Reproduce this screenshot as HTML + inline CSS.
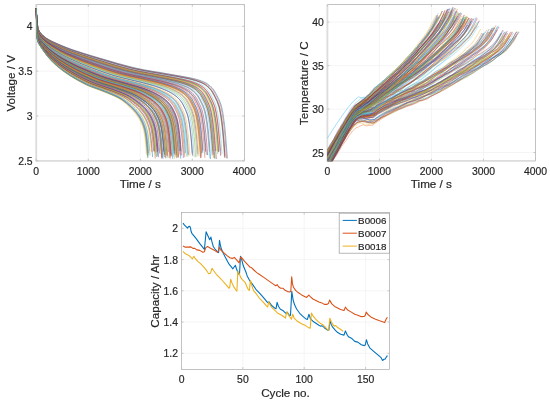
<!DOCTYPE html>
<html lang="en"><head><meta charset="utf-8"><title>Battery discharge curves</title>
<style>
html,body{margin:0;padding:0;background:#fff}
svg{display:block}
text{font-family:"Liberation Sans",Arial,Helvetica,sans-serif;fill:#262626;stroke:#262626;stroke-width:0.18px}
.t{font-size:10.4px}
.l{font-size:11.7px}
.g path{fill:none;stroke-linejoin:round}
</style></head><body>
<svg width="550" height="404" viewBox="0 0 550 404">
<rect width="550" height="404" fill="#fff"/>
<defs>
<clipPath id="c1"><rect x="35.8" y="4.6" width="208.6" height="156.8"/></clipPath>
<clipPath id="c2"><rect x="326.9" y="4.6" width="208.6" height="156.7"/></clipPath>
<clipPath id="c3"><rect x="181.6" y="212.6" width="207.9" height="156.4"/></clipPath>
</defs>
<line x1="88.3" y1="4.6" x2="88.3" y2="160.8" stroke="#f3f3f3" stroke-width="0.8"/>
<line x1="140.3" y1="4.6" x2="140.3" y2="160.8" stroke="#f3f3f3" stroke-width="0.8"/>
<line x1="192.3" y1="4.6" x2="192.3" y2="160.8" stroke="#f3f3f3" stroke-width="0.8"/>
<line x1="36.2" y1="116.0" x2="244.3" y2="116.0" stroke="#f3f3f3" stroke-width="0.8"/>
<line x1="36.2" y1="71.2" x2="244.3" y2="71.2" stroke="#f3f3f3" stroke-width="0.8"/>
<line x1="36.2" y1="26.3" x2="244.3" y2="26.3" stroke="#f3f3f3" stroke-width="0.8"/>
<path d="M36.25 4.50H244.50V160.85" fill="none" stroke="#a8a8a8" stroke-width="0.7"/>
<path d="M36.25 4.30V160.85H244.60" fill="none" stroke="#dcdcdc" stroke-width="1.8"/>
<path d="M36.2 160.8v-2.0M36.2 4.6v2.0" stroke="#bdbdbd" stroke-width="0.8"/>
<text x="36.2" y="174.5" text-anchor="middle" class="t">0</text>
<path d="M88.3 160.8v-2.0M88.3 4.6v2.0" stroke="#bdbdbd" stroke-width="0.8"/>
<text x="88.3" y="174.5" text-anchor="middle" class="t">1000</text>
<path d="M140.3 160.8v-2.0M140.3 4.6v2.0" stroke="#bdbdbd" stroke-width="0.8"/>
<text x="140.3" y="174.5" text-anchor="middle" class="t">2000</text>
<path d="M192.3 160.8v-2.0M192.3 4.6v2.0" stroke="#bdbdbd" stroke-width="0.8"/>
<text x="192.3" y="174.5" text-anchor="middle" class="t">3000</text>
<path d="M244.3 160.8v-2.0M244.3 4.6v2.0" stroke="#bdbdbd" stroke-width="0.8"/>
<text x="244.3" y="174.5" text-anchor="middle" class="t">4000</text>
<path d="M36.2 160.8h2.0M244.3 160.8h-2.0" stroke="#bdbdbd" stroke-width="0.8"/>
<text x="32.6" y="164.9" text-anchor="end" class="t">2.5</text>
<path d="M36.2 116.0h2.0M244.3 116.0h-2.0" stroke="#bdbdbd" stroke-width="0.8"/>
<text x="32.6" y="120.1" text-anchor="end" class="t">3</text>
<path d="M36.2 71.2h2.0M244.3 71.2h-2.0" stroke="#bdbdbd" stroke-width="0.8"/>
<text x="32.6" y="75.3" text-anchor="end" class="t">3.5</text>
<path d="M36.2 26.3h2.0M244.3 26.3h-2.0" stroke="#bdbdbd" stroke-width="0.8"/>
<text x="32.6" y="30.4" text-anchor="end" class="t">4</text>
<text x="140.3" y="188.4" text-anchor="middle" class="l">Time / s</text>
<text transform="translate(14.6 83.3) rotate(-90)" text-anchor="middle" class="l">Voltage / V</text>
<g class="g" clip-path="url(#c1)">
<path d="M36.2 8.4L37.1 21.9L37.9 27.6L38.7 29.8L39.5 31.4L40.4 32.5L41.2 33.5L42.0 34.5L43.0 35.5L46.7 38.4L50.5 40.5L54.2 42.3L58.0 44.0L61.7 45.6L65.5 47.1L69.3 48.5L73.0 49.9L76.8 51.1L80.5 52.3L84.3 53.5L88.0 54.7L91.8 55.8L95.6 56.9L99.3 58.0L103.1 59.1L106.8 60.2L110.6 61.3L114.4 62.4L118.1 63.5L121.9 64.5L125.6 65.5L129.4 66.5L133.1 67.5L136.9 68.3L140.7 69.1L144.4 69.9L148.2 70.5L151.9 71.2L155.7 71.8L159.4 72.4L163.2 73.0L167.0 73.7L170.7 74.3L174.5 75.0L178.2 75.6L182.0 76.3L185.7 77.0L189.5 77.7L190.5 77.9L191.1 78.0L191.7 78.2L192.4 78.3L193.0 78.4L193.6 78.6L194.3 78.7L194.9 78.9L195.5 79.1L196.2 79.2L196.8 79.4L197.4 79.6L198.1 79.8L198.7 80.0L199.3 80.2L200.0 80.4L200.6 80.6L201.2 80.9L201.9 81.1L202.5 81.3L203.1 81.6L203.8 81.9L204.4 82.2L205.0 82.5L205.7 82.8L206.3 83.1L206.9 83.5L207.6 83.9L208.2 84.4L208.8 84.9L209.5 85.4L210.1 85.9L210.7 86.5L211.4 87.1L212.0 87.7L212.6 88.4L213.3 89.1L213.9 90.0L214.5 91.0L215.2 92.1L215.8 93.2L216.4 94.4L217.1 95.7L217.7 96.9L218.3 98.2L219.0 99.4L219.6 100.8L220.2 102.4L220.9 104.3L221.5 106.4L222.1 109.1L222.8 112.4L223.4 116.2L224.0 120.6L224.7 125.7L225.3 131.9L225.9 139.1L226.5 147.1L227.2 155.9L227.4 158.4" stroke="#0072BD" stroke-width="0.48" />
<path d="M36.2 8.4L37.1 22.0L37.9 27.7L38.7 30.0L39.5 31.5L40.3 32.6L41.2 33.6L42.0 34.6L42.9 35.6L46.7 38.5L50.4 40.6L54.2 42.4L57.9 44.1L61.6 45.7L65.4 47.2L69.1 48.7L72.9 50.0L76.6 51.3L80.4 52.5L84.1 53.7L87.8 54.8L91.6 56.0L95.3 57.1L99.1 58.2L102.8 59.3L106.6 60.4L110.3 61.5L114.0 62.6L117.8 63.7L121.5 64.7L125.3 65.7L129.0 66.7L132.8 67.6L136.5 68.5L140.2 69.3L144.0 70.1L147.7 70.7L151.5 71.4L155.2 72.0L159.0 72.6L162.7 73.2L166.4 73.9L170.2 74.5L173.9 75.2L177.7 75.8L181.4 76.5L185.2 77.2L188.9 77.9L189.9 78.1L190.5 78.3L191.1 78.4L191.7 78.5L192.4 78.7L193.0 78.8L193.6 79.0L194.3 79.2L194.9 79.3L195.5 79.5L196.2 79.7L196.8 79.9L197.4 80.0L198.0 80.2L198.7 80.5L199.3 80.7L199.9 80.9L200.6 81.1L201.2 81.4L201.8 81.6L202.5 81.9L203.1 82.2L203.7 82.5L204.4 82.8L205.0 83.1L205.6 83.4L206.2 83.8L206.9 84.2L207.5 84.7L208.1 85.1L208.8 85.6L209.4 86.2L210.0 86.7L210.7 87.4L211.3 88.0L211.9 88.7L212.6 89.4L213.2 90.3L213.8 91.3L214.4 92.3L215.1 93.5L215.7 94.7L216.3 95.9L217.0 97.2L217.6 98.4L218.2 99.7L218.9 101.1L219.5 102.7L220.1 104.5L220.8 106.6L221.4 109.4L222.0 112.6L222.6 116.4L223.3 120.7L223.9 125.9L224.5 132.0L225.2 139.2L225.8 147.2L226.4 155.9L226.6 158.4" stroke="#D95319" stroke-width="0.48" />
<path d="M36.2 8.4L37.1 22.2L37.9 27.9L38.7 30.1L39.5 31.7L40.3 32.8L41.1 33.8L41.9 34.8L42.9 35.8L46.6 38.7L50.3 40.9L54.0 42.7L57.7 44.3L61.5 46.0L65.2 47.5L68.9 49.0L72.6 50.3L76.3 51.6L80.0 52.8L83.7 54.0L87.5 55.2L91.2 56.3L94.9 57.4L98.6 58.5L102.3 59.6L106.0 60.7L109.8 61.8L113.5 62.9L117.2 64.0L120.9 65.1L124.6 66.1L128.3 67.1L132.0 68.0L135.8 68.9L139.5 69.7L143.2 70.4L146.9 71.1L150.6 71.7L154.3 72.3L158.1 73.0L161.8 73.6L165.5 74.3L169.2 74.9L172.9 75.6L176.6 76.2L180.3 76.9L184.1 77.6L187.8 78.4L188.7 78.6L189.3 78.7L190.0 78.8L190.6 79.0L191.2 79.1L191.9 79.3L192.5 79.5L193.1 79.6L193.7 79.8L194.4 80.0L195.0 80.2L195.6 80.3L196.2 80.5L196.9 80.7L197.5 80.9L198.1 81.2L198.7 81.4L199.4 81.6L200.0 81.9L200.6 82.1L201.2 82.4L201.9 82.7L202.5 83.0L203.1 83.3L203.7 83.6L204.4 83.9L205.0 84.3L205.6 84.7L206.3 85.2L206.9 85.6L207.5 86.1L208.1 86.7L208.8 87.3L209.4 87.9L210.0 88.5L210.6 89.2L211.3 89.9L211.9 90.8L212.5 91.8L213.1 92.8L213.8 94.0L214.4 95.2L215.0 96.4L215.6 97.6L216.3 98.8L216.9 100.1L217.5 101.5L218.1 103.1L218.8 104.9L219.4 107.0L220.0 109.7L220.6 113.0L221.3 116.7L221.9 121.0L222.5 126.1L223.2 132.3L223.8 139.3L224.4 147.3L225.0 156.0L225.1 156.3" stroke="#7E2F8E" stroke-width="0.48" />
<path d="M36.2 8.4L37.1 22.3L37.9 27.9L38.7 30.2L39.5 31.8L40.3 32.9L41.1 33.9L41.9 34.9L42.9 35.9L46.6 38.8L50.3 41.0L54.0 42.8L57.7 44.5L61.4 46.1L65.1 47.7L68.8 49.1L72.5 50.5L76.2 51.7L79.9 52.9L83.6 54.1L87.3 55.3L91.0 56.5L94.7 57.6L98.4 58.7L102.1 59.8L105.8 60.9L109.5 62.0L113.2 63.1L116.9 64.2L120.6 65.2L124.3 66.3L128.0 67.2L131.7 68.2L135.4 69.0L139.1 69.8L142.8 70.6L146.5 71.2L150.2 71.9L153.9 72.5L157.6 73.1L161.3 73.8L165.0 74.4L168.7 75.1L172.4 75.7L176.1 76.4L179.8 77.1L183.5 77.8L187.2 78.6L188.2 78.8L188.8 78.9L189.4 79.1L190.1 79.2L190.7 79.4L191.3 79.5L191.9 79.7L192.6 79.8L193.2 80.0L193.8 80.2L194.4 80.4L195.0 80.6L195.7 80.8L196.3 81.0L196.9 81.2L197.5 81.4L198.2 81.6L198.8 81.8L199.4 82.1L200.0 82.3L200.7 82.6L201.3 82.9L201.9 83.2L202.5 83.5L203.2 83.8L203.8 84.2L204.4 84.6L205.0 85.0L205.6 85.4L206.3 85.9L206.9 86.4L207.5 86.9L208.1 87.5L208.8 88.1L209.4 88.7L210.0 89.4L210.6 90.2L211.3 91.0L211.9 92.0L212.5 93.1L213.1 94.2L213.8 95.4L214.4 96.6L215.0 97.8L215.6 99.1L216.3 100.3L216.9 101.7L217.5 103.3L218.1 105.1L218.7 107.2L219.4 109.9L220.0 113.1L220.6 116.9L221.2 121.2L221.9 126.2L222.5 132.4L223.1 139.4L223.7 147.3L224.4 156.0L224.4 157.2" stroke="#77AC30" stroke-width="0.48" />
<path d="M36.2 8.4L37.1 22.2L37.9 27.8L38.7 30.1L39.5 31.7L40.3 32.8L41.1 33.8L41.9 34.8L42.9 35.8L46.6 38.7L50.3 40.8L54.0 42.7L57.7 44.3L61.5 46.0L65.2 47.5L68.9 48.9L72.6 50.3L76.3 51.6L80.0 52.8L83.8 54.0L87.5 55.1L91.2 56.3L94.9 57.4L98.6 58.5L102.3 59.6L106.1 60.7L109.8 61.8L113.5 62.9L117.2 64.0L120.9 65.0L124.6 66.1L128.4 67.1L132.1 68.0L135.8 68.8L139.5 69.7L143.2 70.4L146.9 71.1L150.7 71.7L154.4 72.3L158.1 72.9L161.8 73.6L165.5 74.2L169.2 74.9L173.0 75.5L176.7 76.2L180.4 76.9L184.1 77.6L187.8 78.3L188.8 78.5L189.4 78.7L190.0 78.8L190.7 79.0L191.3 79.1L191.9 79.3L192.5 79.4L193.2 79.6L193.8 79.8L194.4 79.9L195.0 80.1L195.7 80.3L196.3 80.5L196.9 80.7L197.5 80.9L198.2 81.1L198.8 81.4L199.4 81.6L200.0 81.8L200.7 82.1L201.3 82.4L201.9 82.6L202.6 82.9L203.2 83.2L203.8 83.6L204.4 83.9L205.1 84.3L205.7 84.7L206.3 85.1L206.9 85.6L207.6 86.1L208.2 86.7L208.8 87.2L209.4 87.8L210.1 88.5L210.7 89.2L211.3 89.9L211.9 90.8L212.6 91.7L213.2 92.8L213.8 93.9L214.4 95.1L215.1 96.4L215.7 97.6L216.3 98.8L217.0 100.1L217.6 101.5L218.2 103.1L218.8 104.9L219.5 107.0L220.1 109.7L220.7 113.0L221.3 116.7L222.0 121.0L222.6 126.1L223.2 132.2L223.8 139.3L224.5 147.3L224.8 151.9" stroke="#4DBEEE" stroke-width="0.48" />
<path d="M36.2 8.4L37.1 22.3L37.9 27.9L38.7 30.2L39.5 31.7L40.3 32.9L41.1 33.8L41.9 34.8L42.9 35.8L46.6 38.7L50.3 40.9L54.0 42.7L57.7 44.4L61.4 46.0L65.1 47.6L68.8 49.0L72.6 50.4L76.3 51.6L80.0 52.8L83.7 54.0L87.4 55.2L91.1 56.4L94.8 57.5L98.5 58.6L102.2 59.7L106.0 60.8L109.7 61.9L113.4 63.0L117.1 64.1L120.8 65.1L124.5 66.1L128.2 67.1L131.9 68.1L135.6 68.9L139.4 69.7L143.1 70.5L146.8 71.1L150.5 71.8L154.2 72.4L157.9 73.0L161.6 73.7L165.3 74.3L169.0 75.0L172.7 75.6L176.5 76.3L180.2 77.0L183.9 77.7L187.6 78.4L188.5 78.6L189.2 78.8L189.8 78.9L190.4 79.1L191.0 79.2L191.7 79.4L192.3 79.5L192.9 79.7L193.5 79.9L194.2 80.0L194.8 80.2L195.4 80.4L196.0 80.6L196.7 80.8L197.3 81.0L197.9 81.2L198.5 81.5L199.2 81.7L199.8 81.9L200.4 82.2L201.0 82.5L201.7 82.7L202.3 83.0L202.9 83.3L203.5 83.7L204.2 84.0L204.8 84.4L205.4 84.8L206.0 85.3L206.7 85.7L207.3 86.2L207.9 86.8L208.5 87.3L209.2 87.9L209.8 88.6L210.4 89.3L211.0 90.0L211.7 90.9L212.3 91.8L212.9 92.9L213.5 94.0L214.2 95.2L214.8 96.5L215.4 97.7L216.0 98.9L216.7 100.2L217.3 101.6L217.9 103.2L218.5 105.0L219.2 107.1L219.8 109.8L220.4 113.0L221.1 116.8L221.7 121.1L222.3 126.2L222.9 132.3L223.6 139.4L224.2 147.3L224.8 156.0L224.9 158.0" stroke="#A2142F" stroke-width="0.48" />
<path d="M36.2 8.4L37.0 22.9L37.8 28.5L38.6 30.8L39.4 32.3L40.2 33.5L41.0 34.4L41.8 35.4L42.7 36.4L46.3 39.3L50.0 41.5L53.6 43.4L57.2 45.1L60.8 46.8L64.5 48.4L68.1 49.9L71.7 51.3L75.3 52.6L79.0 53.8L82.6 55.0L86.2 56.2L89.8 57.4L93.5 58.5L97.1 59.6L100.7 60.7L104.4 61.9L108.0 63.0L111.6 64.1L115.2 65.2L118.9 66.2L122.5 67.2L126.1 68.2L129.7 69.1L133.4 70.0L137.0 70.8L140.6 71.5L144.2 72.2L147.9 72.9L151.5 73.5L155.1 74.1L158.7 74.8L162.4 75.5L166.0 76.1L169.6 76.8L173.2 77.5L176.9 78.3L180.5 79.0L184.1 79.8L185.0 80.0L185.6 80.2L186.3 80.3L186.9 80.5L187.5 80.6L188.1 80.8L188.7 81.0L189.3 81.1L189.9 81.3L190.5 81.5L191.1 81.7L191.8 81.9L192.4 82.1L193.0 82.3L193.6 82.5L194.2 82.7L194.8 83.0L195.4 83.2L196.0 83.5L196.6 83.7L197.3 84.0L197.9 84.3L198.5 84.6L199.1 84.9L199.7 85.2L200.3 85.6L200.9 86.0L201.5 86.4L202.1 86.8L202.8 87.3L203.4 87.8L204.0 88.4L204.6 88.9L205.2 89.5L205.8 90.2L206.4 90.8L207.0 91.6L207.6 92.4L208.2 93.4L208.9 94.4L209.5 95.5L210.1 96.7L210.7 97.9L211.3 99.1L211.9 100.3L212.5 101.6L213.1 102.9L213.7 104.5L214.4 106.3L215.0 108.4L215.6 111.0L216.2 114.1L216.8 117.8L217.4 122.0L218.0 127.0L218.6 133.0L219.2 139.9L219.9 147.6L220.1 150.6" stroke="#D95319" stroke-width="0.48" />
<path d="M36.2 8.4L37.0 23.1L37.8 28.6L38.6 30.9L39.4 32.5L40.2 33.6L41.0 34.5L41.8 35.5L42.7 36.5L46.3 39.4L49.9 41.7L53.5 43.6L57.1 45.3L60.7 47.0L64.3 48.6L67.9 50.1L71.5 51.5L75.1 52.8L78.7 54.0L82.3 55.3L86.0 56.5L89.6 57.6L93.2 58.8L96.8 59.9L100.4 61.0L104.0 62.1L107.6 63.2L111.2 64.3L114.8 65.4L118.4 66.5L122.0 67.5L125.6 68.5L129.2 69.4L132.8 70.2L136.4 71.0L140.0 71.8L143.6 72.5L147.2 73.1L150.9 73.8L154.5 74.4L158.1 75.1L161.7 75.7L165.3 76.4L168.9 77.1L172.5 77.8L176.1 78.6L179.7 79.3L183.3 80.1L184.2 80.3L184.8 80.5L185.4 80.6L186.0 80.8L186.7 81.0L187.3 81.1L187.9 81.3L188.5 81.5L189.1 81.7L189.7 81.8L190.3 82.0L190.9 82.2L191.5 82.4L192.1 82.6L192.7 82.9L193.3 83.1L193.9 83.3L194.6 83.6L195.2 83.8L195.8 84.1L196.4 84.4L197.0 84.7L197.6 85.0L198.2 85.3L198.8 85.6L199.4 86.0L200.0 86.4L200.6 86.8L201.2 87.2L201.8 87.7L202.5 88.2L203.1 88.7L203.7 89.3L204.3 89.9L204.9 90.5L205.5 91.2L206.1 91.9L206.7 92.8L207.3 93.7L207.9 94.8L208.5 95.9L209.1 97.0L209.7 98.2L210.4 99.4L211.0 100.6L211.6 101.9L212.2 103.3L212.8 104.8L213.4 106.6L214.0 108.7L214.6 111.3L215.2 114.4L215.8 118.1L216.4 122.2L217.0 127.2L217.6 133.1L218.2 140.0L218.9 147.7L219.1 151.7" stroke="#EDB120" stroke-width="0.48" />
<path d="M36.2 8.4L37.0 23.1L37.8 28.7L38.6 31.0L39.4 32.5L40.2 33.7L41.0 34.6L41.8 35.6L42.7 36.6L46.3 39.5L49.9 41.8L53.5 43.7L57.1 45.4L60.6 47.1L64.2 48.7L67.8 50.2L71.4 51.6L75.0 52.9L78.6 54.1L82.2 55.4L85.8 56.6L89.4 57.7L93.0 58.9L96.6 60.0L100.2 61.1L103.8 62.2L107.4 63.3L111.0 64.4L114.6 65.5L118.2 66.6L121.8 67.6L125.4 68.6L129.0 69.5L132.6 70.4L136.2 71.2L139.8 71.9L143.4 72.6L147.0 73.3L150.6 73.9L154.2 74.5L157.8 75.2L161.3 75.9L164.9 76.5L168.5 77.2L172.1 77.9L175.7 78.7L179.3 79.4L182.9 80.3L183.8 80.5L184.4 80.6L185.1 80.8L185.7 81.0L186.3 81.1L186.9 81.3L187.5 81.5L188.1 81.6L188.7 81.8L189.3 82.0L189.9 82.2L190.5 82.4L191.1 82.6L191.7 82.8L192.3 83.0L192.9 83.3L193.5 83.5L194.1 83.7L194.7 84.0L195.4 84.3L196.0 84.5L196.6 84.8L197.2 85.1L197.8 85.5L198.4 85.8L199.0 86.1L199.6 86.5L200.2 86.9L200.8 87.4L201.4 87.9L202.0 88.4L202.6 88.9L203.2 89.5L203.8 90.1L204.4 90.7L205.1 91.4L205.7 92.1L206.3 92.9L206.9 93.9L207.5 94.9L208.1 96.0L208.7 97.2L209.3 98.4L209.9 99.6L210.5 100.8L211.1 102.0L211.7 103.4L212.3 104.9L212.9 106.7L213.5 108.8L214.1 111.4L214.7 114.5L215.4 118.2L216.0 122.3L216.6 127.3L217.2 133.2L217.8 140.1L218.4 147.8L218.7 152.2" stroke="#7E2F8E" stroke-width="0.48" />
<path d="M36.2 8.4L37.0 23.3L37.8 28.8L38.6 31.1L39.4 32.7L40.2 33.8L40.9 34.8L41.7 35.7L42.6 36.7L46.2 39.6L49.8 41.9L53.4 43.8L56.9 45.6L60.5 47.3L64.1 48.9L67.7 50.4L71.2 51.8L74.8 53.1L78.4 54.4L82.0 55.6L85.5 56.8L89.1 58.0L92.7 59.1L96.3 60.3L99.8 61.4L103.4 62.5L107.0 63.6L110.6 64.7L114.1 65.8L117.7 66.8L121.3 67.9L124.9 68.8L128.4 69.8L132.0 70.6L135.6 71.4L139.2 72.2L142.7 72.9L146.3 73.5L149.9 74.2L153.5 74.8L157.0 75.5L160.6 76.1L164.2 76.8L167.8 77.5L171.4 78.2L174.9 79.0L178.5 79.8L182.1 80.6L183.0 80.8L183.6 81.0L184.2 81.1L184.8 81.3L185.4 81.5L186.0 81.6L186.6 81.8L187.2 82.0L187.8 82.2L188.4 82.4L189.0 82.6L189.6 82.8L190.2 83.0L190.8 83.2L191.4 83.4L192.0 83.6L192.6 83.9L193.2 84.1L193.8 84.4L194.4 84.6L195.0 84.9L195.6 85.2L196.2 85.5L196.8 85.8L197.4 86.2L198.1 86.5L198.7 86.9L199.3 87.3L199.9 87.8L200.5 88.2L201.1 88.8L201.7 89.3L202.3 89.9L202.9 90.5L203.5 91.1L204.1 91.8L204.7 92.5L205.3 93.3L205.9 94.3L206.5 95.3L207.1 96.4L207.7 97.6L208.3 98.7L208.9 99.9L209.5 101.1L210.1 102.4L210.7 103.7L211.3 105.3L211.9 107.0L212.5 109.1L213.1 111.7L213.7 114.8L214.3 118.4L214.9 122.5L215.5 127.5L216.1 133.4L216.7 140.2L217.3 147.9L217.8 154.1" stroke="#77AC30" stroke-width="0.48" />
<path d="M36.2 8.4L37.0 23.6L37.8 29.1L38.6 31.4L39.3 32.9L40.1 34.0L40.9 35.0L41.7 36.0L42.6 36.9L46.1 39.9L49.6 42.2L53.2 44.1L56.7 45.9L60.3 47.7L63.8 49.3L67.3 50.8L70.9 52.2L74.4 53.5L78.0 54.8L81.5 56.0L85.0 57.2L88.6 58.4L92.1 59.6L95.7 60.7L99.2 61.8L102.7 62.9L106.3 64.1L109.8 65.2L113.4 66.3L116.9 67.3L120.4 68.3L124.0 69.3L127.5 70.2L131.1 71.1L134.6 71.9L138.1 72.6L141.7 73.3L145.2 74.0L148.7 74.6L152.3 75.3L155.8 76.0L159.4 76.6L162.9 77.3L166.4 78.0L170.0 78.8L173.5 79.5L177.1 80.3L180.6 81.2L181.5 81.4L182.1 81.6L182.7 81.7L183.3 81.9L183.9 82.1L184.5 82.2L185.1 82.4L185.7 82.6L186.3 82.8L186.9 83.0L187.5 83.2L188.1 83.4L188.7 83.6L189.3 83.8L189.9 84.0L190.5 84.3L191.0 84.5L191.6 84.8L192.2 85.0L192.8 85.3L193.4 85.6L194.0 85.9L194.6 86.2L195.2 86.5L195.8 86.8L196.4 87.2L197.0 87.6L197.6 88.0L198.2 88.4L198.8 88.9L199.4 89.4L200.0 90.0L200.6 90.5L201.2 91.1L201.8 91.8L202.4 92.4L203.0 93.1L203.6 94.0L204.2 94.9L204.8 95.9L205.4 97.0L206.0 98.2L206.6 99.4L207.2 100.5L207.7 101.7L208.3 103.0L208.9 104.3L209.5 105.8L210.1 107.6L210.7 109.6L211.3 112.2L211.9 115.3L212.5 118.8L213.1 122.9L213.7 127.8L214.3 133.6L214.9 140.4L215.5 148.0L216.1 156.3L216.3 159.0" stroke="#A2142F" stroke-width="0.48" />
<path d="M36.2 8.4L37.0 23.8L37.8 29.3L38.6 31.6L39.3 33.1L40.1 34.2L40.9 35.2L41.6 36.1L42.5 37.1L46.0 40.1L49.5 42.4L53.1 44.4L56.6 46.2L60.1 47.9L63.6 49.5L67.1 51.0L70.6 52.5L74.1 53.8L77.6 55.1L81.2 56.3L84.7 57.6L88.2 58.7L91.7 59.9L95.2 61.0L98.7 62.2L102.2 63.3L105.7 64.4L109.3 65.5L112.8 66.6L116.3 67.7L119.8 68.7L123.3 69.6L126.8 70.6L130.3 71.4L133.8 72.2L137.4 73.0L140.9 73.7L144.4 74.3L147.9 75.0L151.4 75.6L154.9 76.3L158.4 77.0L161.9 77.7L165.5 78.4L169.0 79.1L172.5 79.9L176.0 80.7L179.5 81.6L180.4 81.8L181.0 82.0L181.6 82.2L182.2 82.3L182.8 82.5L183.4 82.7L184.0 82.9L184.5 83.0L185.1 83.2L185.7 83.4L186.3 83.6L186.9 83.8L187.5 84.1L188.1 84.3L188.7 84.5L189.3 84.7L189.9 85.0L190.5 85.2L191.1 85.5L191.7 85.8L192.2 86.1L192.8 86.4L193.4 86.7L194.0 87.0L194.6 87.3L195.2 87.7L195.8 88.1L196.4 88.5L197.0 88.9L197.6 89.4L198.2 89.9L198.8 90.5L199.3 91.0L199.9 91.6L200.5 92.3L201.1 92.9L201.7 93.6L202.3 94.5L202.9 95.4L203.5 96.4L204.1 97.5L204.7 98.6L205.3 99.8L205.9 101.0L206.4 102.2L207.0 103.4L207.6 104.7L208.2 106.3L208.8 108.0L209.4 110.0L210.0 112.6L210.6 115.6L211.2 119.2L211.8 123.2L212.4 128.1L213.0 133.9L213.6 140.6L214.1 148.1L214.7 156.4L214.9 158.6" stroke="#0072BD" stroke-width="0.48" />
<path d="M36.2 8.4L37.0 23.9L37.8 29.4L38.5 31.7L39.3 33.2L40.1 34.3L40.8 35.3L41.6 36.2L42.5 37.2L46.0 40.2L49.5 42.5L53.0 44.5L56.5 46.3L60.0 48.1L63.5 49.7L67.0 51.2L70.5 52.6L74.0 54.0L77.5 55.3L81.0 56.5L84.5 57.7L87.9 58.9L91.4 60.1L94.9 61.2L98.4 62.4L101.9 63.5L105.4 64.6L108.9 65.7L112.4 66.8L115.9 67.9L119.4 68.9L122.9 69.9L126.4 70.8L129.9 71.6L133.4 72.4L136.9 73.2L140.4 73.9L143.9 74.5L147.4 75.2L150.9 75.8L154.4 76.5L157.9 77.2L161.4 77.9L164.9 78.6L168.4 79.4L171.9 80.2L175.4 81.0L178.9 81.9L179.8 82.1L180.3 82.3L180.9 82.4L181.5 82.6L182.1 82.8L182.7 82.9L183.3 83.1L183.9 83.3L184.5 83.5L185.1 83.7L185.6 83.9L186.2 84.1L186.8 84.3L187.4 84.6L188.0 84.8L188.6 85.0L189.2 85.3L189.8 85.5L190.4 85.8L191.0 86.1L191.5 86.4L192.1 86.7L192.7 87.0L193.3 87.3L193.9 87.6L194.5 88.0L195.1 88.4L195.7 88.8L196.3 89.2L196.8 89.7L197.4 90.2L198.0 90.8L198.6 91.3L199.2 91.9L199.8 92.5L200.4 93.2L201.0 93.9L201.6 94.7L202.1 95.7L202.7 96.7L203.3 97.8L203.9 98.9L204.5 100.1L205.1 101.2L205.7 102.4L206.3 103.7L206.9 105.0L207.4 106.5L208.0 108.2L208.6 110.3L209.2 112.8L209.8 115.8L210.4 119.4L211.0 123.4L211.6 128.2L212.2 134.0L212.8 140.7L213.3 148.2L213.9 156.4L214.0 158.1" stroke="#D95319" stroke-width="0.48" />
<path d="M36.2 8.4L37.0 24.0L37.8 29.5L38.5 31.8L39.3 33.3L40.1 34.4L40.8 35.4L41.6 36.3L42.5 37.3L45.9 40.3L49.4 42.6L52.9 44.6L56.4 46.4L59.9 48.2L63.4 49.8L66.8 51.4L70.3 52.8L73.8 54.1L77.3 55.4L80.8 56.7L84.3 57.9L87.7 59.1L91.2 60.3L94.7 61.4L98.2 62.5L101.7 63.7L105.2 64.8L108.6 65.9L112.1 67.0L115.6 68.0L119.1 69.1L122.6 70.0L126.1 70.9L129.5 71.8L133.0 72.6L136.5 73.3L140.0 74.0L143.5 74.7L146.9 75.4L150.4 76.0L153.9 76.7L157.4 77.4L160.9 78.1L164.4 78.8L167.8 79.6L171.3 80.4L174.8 81.2L178.3 82.1L179.2 82.3L179.8 82.5L180.4 82.7L180.9 82.8L181.5 83.0L182.1 83.2L182.7 83.4L183.3 83.6L183.9 83.7L184.5 83.9L185.1 84.2L185.6 84.4L186.2 84.6L186.8 84.8L187.4 85.0L188.0 85.3L188.6 85.5L189.2 85.8L189.7 86.0L190.3 86.3L190.9 86.6L191.5 86.9L192.1 87.2L192.7 87.5L193.3 87.9L193.9 88.3L194.4 88.6L195.0 89.1L195.6 89.5L196.2 90.0L196.8 90.5L197.4 91.0L198.0 91.6L198.5 92.2L199.1 92.8L199.7 93.5L200.3 94.2L200.9 95.0L201.5 95.9L202.1 96.9L202.7 98.0L203.2 99.2L203.8 100.3L204.4 101.5L205.0 102.6L205.6 103.9L206.2 105.2L206.8 106.7L207.4 108.4L207.9 110.5L208.5 113.0L209.1 116.0L209.7 119.5L210.3 123.6L210.9 128.3L211.5 134.1L212.0 140.8L212.6 148.2L213.2 156.5L213.3 157.7" stroke="#EDB120" stroke-width="0.48" />
<path d="M36.2 8.4L37.0 23.8L37.8 29.3L38.5 31.6L39.3 33.2L40.1 34.3L40.8 35.2L41.6 36.2L42.5 37.2L46.0 40.1L49.5 42.4L53.0 44.4L56.5 46.2L60.0 48.0L63.5 49.6L67.0 51.1L70.5 52.6L74.1 53.9L77.6 55.2L81.1 56.4L84.6 57.6L88.1 58.8L91.6 60.0L95.1 61.1L98.6 62.2L102.1 63.4L105.6 64.5L109.1 65.6L112.6 66.7L116.1 67.7L119.6 68.8L123.1 69.7L126.6 70.7L130.1 71.5L133.6 72.3L137.1 73.1L140.7 73.8L144.2 74.4L147.7 75.1L151.2 75.7L154.7 76.4L158.2 77.1L161.7 77.8L165.2 78.5L168.7 79.2L172.2 80.0L175.7 80.8L179.2 81.7L180.1 82.0L180.7 82.1L181.3 82.3L181.9 82.5L182.5 82.6L183.1 82.8L183.6 83.0L184.2 83.2L184.8 83.4L185.4 83.6L186.0 83.8L186.6 84.0L187.2 84.2L187.8 84.4L188.4 84.6L189.0 84.9L189.6 85.1L190.1 85.4L190.7 85.6L191.3 85.9L191.9 86.2L192.5 86.5L193.1 86.8L193.7 87.1L194.3 87.5L194.9 87.8L195.5 88.2L196.1 88.6L196.6 89.1L197.2 89.6L197.8 90.1L198.4 90.6L199.0 91.2L199.6 91.8L200.2 92.4L200.8 93.1L201.4 93.8L202.0 94.6L202.5 95.5L203.1 96.5L203.7 97.6L204.3 98.8L204.9 99.9L205.5 101.1L206.1 102.3L206.7 103.5L207.3 104.9L207.9 106.4L208.5 108.1L209.0 110.1L209.6 112.7L210.2 115.7L210.8 119.3L211.4 123.3L212.0 128.1L212.6 133.9L213.2 140.6L213.8 148.2L214.4 156.4L214.5 158.1" stroke="#77AC30" stroke-width="0.48" />
<path d="M36.2 8.4L37.0 22.7L37.8 28.3L38.6 30.5L39.4 32.1L40.2 33.2L41.0 34.2L41.8 35.2L42.8 36.1L46.4 39.1L50.1 41.3L53.8 43.1L57.4 44.9L61.1 46.5L64.7 48.1L68.4 49.5L72.0 50.9L75.7 52.2L79.4 53.4L83.0 54.6L86.7 55.8L90.3 57.0L94.0 58.1L97.7 59.2L101.3 60.3L105.0 61.4L108.6 62.5L112.3 63.6L116.0 64.7L119.6 65.8L123.3 66.8L126.9 67.8L130.6 68.7L134.2 69.6L137.9 70.4L141.6 71.1L145.2 71.8L148.9 72.4L152.5 73.1L156.2 73.7L159.9 74.4L163.5 75.0L167.2 75.7L170.8 76.4L174.5 77.0L178.2 77.8L181.8 78.5L185.5 79.3L186.4 79.5L187.0 79.6L187.6 79.8L188.3 79.9L188.9 80.1L189.5 80.2L190.1 80.4L190.7 80.6L191.3 80.8L191.9 80.9L192.6 81.1L193.2 81.3L193.8 81.5L194.4 81.7L195.0 81.9L195.6 82.2L196.3 82.4L196.9 82.6L197.5 82.9L198.1 83.1L198.7 83.4L199.3 83.7L200.0 84.0L200.6 84.3L201.2 84.6L201.8 85.0L202.4 85.4L203.0 85.8L203.7 86.2L204.3 86.7L204.9 87.2L205.5 87.7L206.1 88.3L206.7 88.9L207.4 89.6L208.0 90.2L208.6 91.0L209.2 91.8L209.8 92.8L210.4 93.8L211.1 95.0L211.7 96.1L212.3 97.3L212.9 98.6L213.5 99.8L214.1 101.0L214.8 102.4L215.4 104.0L216.0 105.8L216.6 107.9L217.2 110.5L217.8 113.7L218.5 117.4L219.1 121.6L219.7 126.7L220.3 132.7L220.9 139.7L221.5 147.5L222.0 154.3" stroke="#4DBEEE" stroke-width="0.48" />
<path d="M36.2 8.4L37.0 22.9L37.8 28.4L38.6 30.7L39.4 32.3L40.2 33.4L41.0 34.4L41.8 35.3L42.7 36.3L46.4 39.2L50.0 41.5L53.6 43.4L57.3 45.1L60.9 46.8L64.5 48.4L68.1 49.8L71.8 51.2L75.4 52.5L79.0 53.7L82.7 55.0L86.3 56.1L89.9 57.3L93.6 58.5L97.2 59.6L100.8 60.7L104.5 61.8L108.1 62.9L111.7 64.0L115.4 65.1L119.0 66.1L122.6 67.2L126.3 68.1L129.9 69.1L133.5 69.9L137.1 70.7L140.8 71.5L144.4 72.1L148.0 72.8L151.7 73.4L155.3 74.1L158.9 74.7L162.6 75.4L166.2 76.1L169.8 76.7L173.5 77.4L177.1 78.2L180.7 78.9L184.4 79.7L185.3 79.9L185.9 80.1L186.5 80.2L187.1 80.4L187.7 80.5L188.3 80.7L189.0 80.9L189.6 81.0L190.2 81.2L190.8 81.4L191.4 81.6L192.0 81.8L192.6 82.0L193.2 82.2L193.8 82.4L194.5 82.6L195.1 82.9L195.7 83.1L196.3 83.4L196.9 83.6L197.5 83.9L198.1 84.2L198.7 84.5L199.4 84.8L200.0 85.1L200.6 85.5L201.2 85.9L201.8 86.3L202.4 86.7L203.0 87.2L203.6 87.7L204.2 88.2L204.9 88.8L205.5 89.4L206.1 90.1L206.7 90.7L207.3 91.5L207.9 92.3L208.5 93.3L209.1 94.3L209.8 95.4L210.4 96.6L211.0 97.8L211.6 99.0L212.2 100.2L212.8 101.5L213.4 102.9L214.0 104.4L214.7 106.2L215.3 108.3L215.9 110.9L216.5 114.1L217.1 117.7L217.7 121.9L218.3 126.9L218.9 132.9L219.5 139.8L220.2 147.6L220.7 155.8" stroke="#A2142F" stroke-width="0.48" />
<path d="M36.2 8.4L37.0 23.2L37.8 28.7L38.6 31.0L39.4 32.6L40.2 33.7L41.0 34.7L41.7 35.6L42.7 36.6L46.2 39.5L49.8 41.8L53.4 43.7L57.0 45.5L60.6 47.2L64.2 48.8L67.8 50.2L71.4 51.6L75.0 53.0L78.6 54.2L82.1 55.4L85.7 56.6L89.3 57.8L92.9 59.0L96.5 60.1L100.1 61.2L103.7 62.3L107.3 63.4L110.9 64.5L114.5 65.6L118.1 66.7L121.6 67.7L125.2 68.7L128.8 69.6L132.4 70.4L136.0 71.2L139.6 72.0L143.2 72.7L146.8 73.3L150.4 74.0L154.0 74.6L157.5 75.3L161.1 75.9L164.7 76.6L168.3 77.3L171.9 78.0L175.5 78.8L179.1 79.5L182.7 80.4L183.6 80.6L184.2 80.7L184.8 80.9L185.4 81.1L186.0 81.2L186.6 81.4L187.2 81.6L187.8 81.7L188.4 81.9L189.0 82.1L189.6 82.3L190.2 82.5L190.9 82.7L191.5 82.9L192.1 83.1L192.7 83.4L193.3 83.6L193.9 83.9L194.5 84.1L195.1 84.4L195.7 84.7L196.3 84.9L196.9 85.3L197.5 85.6L198.1 85.9L198.7 86.3L199.3 86.6L199.9 87.1L200.5 87.5L201.1 88.0L201.7 88.5L202.3 89.0L203.0 89.6L203.6 90.2L204.2 90.8L204.8 91.5L205.4 92.2L206.0 93.0L206.6 94.0L207.2 95.0L207.8 96.2L208.4 97.3L209.0 98.5L209.6 99.7L210.2 100.9L210.8 102.1L211.4 103.5L212.0 105.0L212.6 106.8L213.2 108.9L213.8 111.5L214.4 114.6L215.0 118.2L215.7 122.4L216.3 127.3L216.9 133.2L217.5 140.1L218.1 147.8L218.4 151.8" stroke="#0072BD" stroke-width="0.48" />
<path d="M36.2 8.4L37.0 23.3L37.8 28.8L38.6 31.1L39.4 32.7L40.2 33.8L40.9 34.7L41.7 35.7L42.6 36.7L46.2 39.6L49.8 41.9L53.4 43.8L57.0 45.6L60.5 47.3L64.1 48.9L67.7 50.4L71.3 51.8L74.8 53.1L78.4 54.3L82.0 55.6L85.6 56.8L89.2 57.9L92.7 59.1L96.3 60.2L99.9 61.3L103.5 62.4L107.1 63.6L110.6 64.7L114.2 65.7L117.8 66.8L121.4 67.8L125.0 68.8L128.5 69.7L132.1 70.6L135.7 71.4L139.3 72.1L142.8 72.8L146.4 73.5L150.0 74.1L153.6 74.8L157.2 75.4L160.7 76.1L164.3 76.8L167.9 77.5L171.5 78.2L175.1 78.9L178.6 79.7L182.2 80.5L183.1 80.8L183.7 80.9L184.3 81.1L184.9 81.2L185.5 81.4L186.1 81.6L186.8 81.7L187.4 81.9L188.0 82.1L188.6 82.3L189.2 82.5L189.8 82.7L190.4 82.9L191.0 83.1L191.6 83.3L192.2 83.6L192.8 83.8L193.4 84.1L194.0 84.3L194.6 84.6L195.2 84.9L195.8 85.2L196.4 85.5L197.0 85.8L197.6 86.1L198.2 86.5L198.8 86.9L199.4 87.3L200.0 87.7L200.6 88.2L201.2 88.7L201.8 89.2L202.4 89.8L203.0 90.4L203.6 91.0L204.2 91.7L204.8 92.4L205.4 93.3L206.0 94.2L206.7 95.2L207.3 96.3L207.9 97.5L208.5 98.7L209.1 99.9L209.7 101.1L210.3 102.3L210.9 103.7L211.5 105.2L212.1 107.0L212.7 109.0L213.3 111.6L213.9 114.7L214.5 118.4L215.1 122.5L215.7 127.4L216.3 133.3L216.9 140.2L217.5 147.8L217.7 150.7" stroke="#EDB120" stroke-width="0.48" />
<path d="M36.2 8.4L37.0 23.6L37.8 29.2L38.6 31.4L39.3 33.0L40.1 34.1L40.9 35.0L41.7 36.0L42.6 37.0L46.1 39.9L49.6 42.2L53.1 44.2L56.7 46.0L60.2 47.7L63.7 49.3L67.3 50.8L70.8 52.3L74.3 53.6L77.9 54.9L81.4 56.1L84.9 57.3L88.5 58.5L92.0 59.7L95.5 60.8L99.1 61.9L102.6 63.0L106.1 64.1L109.7 65.3L113.2 66.3L116.7 67.4L120.3 68.4L123.8 69.4L127.3 70.3L130.9 71.2L134.4 72.0L137.9 72.7L141.5 73.4L145.0 74.1L148.5 74.7L152.0 75.4L155.6 76.1L159.1 76.7L162.6 77.4L166.2 78.1L169.7 78.9L173.2 79.6L176.8 80.4L180.3 81.3L181.2 81.5L181.8 81.7L182.4 81.8L183.0 82.0L183.6 82.2L184.2 82.4L184.8 82.5L185.4 82.7L186.0 82.9L186.6 83.1L187.2 83.3L187.8 83.5L188.3 83.7L188.9 83.9L189.5 84.2L190.1 84.4L190.7 84.6L191.3 84.9L191.9 85.2L192.5 85.4L193.1 85.7L193.7 86.0L194.3 86.3L194.9 86.6L195.5 87.0L196.1 87.3L196.7 87.7L197.3 88.1L197.9 88.6L198.5 89.1L199.1 89.6L199.7 90.1L200.2 90.7L200.8 91.3L201.4 91.9L202.0 92.6L202.6 93.3L203.2 94.1L203.8 95.0L204.4 96.1L205.0 97.2L205.6 98.3L206.2 99.5L206.8 100.7L207.4 101.8L208.0 103.1L208.6 104.4L209.2 106.0L209.8 107.7L210.4 109.7L211.0 112.3L211.6 115.3L212.2 118.9L212.7 123.0L213.3 127.9L213.9 133.7L214.5 140.5L215.1 148.0L215.3 151.0" stroke="#7E2F8E" stroke-width="0.48" />
<path d="M36.2 8.4L37.0 24.0L37.8 29.5L38.5 31.8L39.3 33.3L40.1 34.4L40.8 35.4L41.6 36.3L42.5 37.3L45.9 40.3L49.4 42.6L52.9 44.6L56.4 46.4L59.9 48.2L63.4 49.8L66.8 51.4L70.3 52.8L73.8 54.2L77.3 55.4L80.8 56.7L84.2 57.9L87.7 59.1L91.2 60.3L94.7 61.4L98.2 62.5L101.6 63.7L105.1 64.8L108.6 65.9L112.1 67.0L115.6 68.1L119.1 69.1L122.5 70.0L126.0 71.0L129.5 71.8L133.0 72.6L136.5 73.4L139.9 74.1L143.4 74.7L146.9 75.4L150.4 76.1L153.9 76.7L157.4 77.4L160.8 78.1L164.3 78.8L167.8 79.6L171.3 80.4L174.8 81.2L178.2 82.1L179.1 82.3L179.7 82.5L180.3 82.7L180.9 82.8L181.5 83.0L182.1 83.2L182.6 83.4L183.2 83.6L183.8 83.8L184.4 84.0L185.0 84.2L185.6 84.4L186.2 84.6L186.8 84.8L187.3 85.1L187.9 85.3L188.5 85.5L189.1 85.8L189.7 86.1L190.3 86.3L190.9 86.6L191.4 86.9L192.0 87.2L192.6 87.6L193.2 87.9L193.8 88.3L194.4 88.7L195.0 89.1L195.6 89.5L196.1 90.0L196.7 90.5L197.3 91.0L197.9 91.6L198.5 92.2L199.1 92.8L199.7 93.5L200.2 94.2L200.8 95.0L201.4 96.0L202.0 97.0L202.6 98.0L203.2 99.2L203.8 100.3L204.4 101.5L204.9 102.7L205.5 103.9L206.1 105.2L206.7 106.7L207.3 108.5L207.9 110.5L208.5 113.0L209.0 116.0L209.6 119.5L210.2 123.6L210.8 128.4L211.4 134.1L212.0 140.8L212.6 148.3L212.8 150.9" stroke="#77AC30" stroke-width="0.48" />
<path d="M36.2 8.4L37.0 24.2L37.8 29.7L38.5 31.9L39.3 33.5L40.0 34.6L40.8 35.5L41.5 36.5L42.4 37.5L45.9 40.4L49.3 42.8L52.8 44.8L56.3 46.6L59.7 48.4L63.2 50.1L66.6 51.6L70.1 53.0L73.6 54.4L77.0 55.7L80.5 56.9L83.9 58.2L87.4 59.4L90.9 60.6L94.3 61.7L97.8 62.8L101.2 63.9L104.7 65.1L108.2 66.2L111.6 67.3L115.1 68.3L118.5 69.4L122.0 70.3L125.4 71.2L128.9 72.1L132.4 72.9L135.8 73.6L139.3 74.3L142.7 75.0L146.2 75.7L149.7 76.3L153.1 77.0L156.6 77.7L160.0 78.4L163.5 79.1L167.0 79.9L170.4 80.7L173.9 81.5L177.3 82.5L178.2 82.7L178.8 82.9L179.4 83.0L180.0 83.2L180.6 83.4L181.1 83.6L181.7 83.8L182.3 83.9L182.9 84.1L183.5 84.3L184.1 84.6L184.6 84.8L185.2 85.0L185.8 85.2L186.4 85.4L187.0 85.7L187.5 85.9L188.1 86.2L188.7 86.5L189.3 86.7L189.9 87.0L190.5 87.3L191.0 87.7L191.6 88.0L192.2 88.3L192.8 88.7L193.4 89.1L194.0 89.5L194.5 89.9L195.1 90.4L195.7 90.9L196.3 91.5L196.9 92.0L197.5 92.6L198.0 93.2L198.6 93.9L199.2 94.6L199.8 95.4L200.4 96.4L201.0 97.4L201.5 98.4L202.1 99.6L202.7 100.7L203.3 101.9L203.9 103.0L204.5 104.3L205.0 105.6L205.6 107.1L206.2 108.8L206.8 110.8L207.4 113.3L207.9 116.3L208.5 119.8L209.1 123.8L209.7 128.6L210.3 134.3L210.9 140.9L211.4 148.3L212.0 155.5" stroke="#4DBEEE" stroke-width="0.48" />
<path d="M36.2 8.4L37.0 24.4L37.7 29.9L38.5 32.2L39.2 33.7L40.0 34.8L40.7 35.8L41.5 36.7L42.4 37.7L45.8 40.7L49.2 43.0L52.6 45.1L56.1 46.9L59.5 48.7L62.9 50.4L66.4 51.9L69.8 53.4L73.2 54.7L76.6 56.0L80.1 57.3L83.5 58.6L86.9 59.8L90.3 61.0L93.8 62.1L97.2 63.2L100.6 64.4L104.1 65.5L107.5 66.6L110.9 67.7L114.3 68.7L117.8 69.8L121.2 70.7L124.6 71.6L128.0 72.5L131.5 73.3L134.9 74.0L138.3 74.8L141.7 75.4L145.2 76.1L148.6 76.8L152.0 77.5L155.5 78.2L158.9 78.9L162.3 79.6L165.7 80.4L169.2 81.2L172.6 82.0L176.0 83.0L176.9 83.2L177.5 83.4L178.0 83.6L178.6 83.7L179.2 83.9L179.8 84.1L180.4 84.3L180.9 84.5L181.5 84.7L182.1 84.9L182.7 85.1L183.2 85.3L183.8 85.5L184.4 85.8L185.0 86.0L185.6 86.3L186.1 86.5L186.7 86.8L187.3 87.0L187.9 87.3L188.4 87.6L189.0 87.9L189.6 88.2L190.2 88.6L190.8 88.9L191.3 89.3L191.9 89.7L192.5 90.1L193.1 90.5L193.6 91.0L194.2 91.5L194.8 92.1L195.4 92.6L195.9 93.2L196.5 93.8L197.1 94.5L197.7 95.2L198.3 96.0L198.8 96.9L199.4 97.9L200.0 99.0L200.6 100.1L201.1 101.3L201.7 102.4L202.3 103.6L202.9 104.8L203.5 106.1L204.0 107.6L204.6 109.3L205.2 111.3L205.8 113.7L206.3 116.7L206.9 120.2L207.5 124.2L208.1 128.9L208.7 134.5L209.2 141.1L209.8 148.5L210.4 156.6L210.5 158.9" stroke="#0072BD" stroke-width="0.48" />
<path d="M36.2 8.4L37.0 24.5L37.7 30.0L38.5 32.2L39.2 33.8L40.0 34.9L40.7 35.8L41.5 36.8L42.3 37.8L45.8 40.7L49.2 43.1L52.6 45.2L56.0 47.0L59.4 48.8L62.8 50.5L66.3 52.0L69.7 53.5L73.1 54.9L76.5 56.2L79.9 57.4L83.3 58.7L86.8 59.9L90.2 61.1L93.6 62.2L97.0 63.4L100.4 64.5L103.8 65.6L107.3 66.7L110.7 67.8L114.1 68.9L117.5 69.9L120.9 70.9L124.3 71.8L127.8 72.6L131.2 73.4L134.6 74.2L138.0 74.9L141.4 75.6L144.8 76.2L148.3 76.9L151.7 77.6L155.1 78.3L158.5 79.0L161.9 79.8L165.3 80.5L168.8 81.3L172.2 82.2L175.6 83.1L176.5 83.4L177.0 83.6L177.6 83.7L178.2 83.9L178.8 84.1L179.3 84.3L179.9 84.5L180.5 84.7L181.1 84.9L181.6 85.1L182.2 85.3L182.8 85.5L183.4 85.7L184.0 86.0L184.5 86.2L185.1 86.4L185.7 86.7L186.3 87.0L186.8 87.2L187.4 87.5L188.0 87.8L188.6 88.1L189.1 88.4L189.7 88.8L190.3 89.1L190.9 89.5L191.4 89.9L192.0 90.3L192.6 90.7L193.2 91.2L193.7 91.7L194.3 92.2L194.9 92.8L195.5 93.4L196.0 94.0L196.6 94.7L197.2 95.4L197.8 96.2L198.3 97.1L198.9 98.1L199.5 99.2L200.1 100.3L200.6 101.4L201.2 102.6L201.8 103.7L202.4 104.9L202.9 106.3L203.5 107.8L204.1 109.4L204.7 111.4L205.3 113.9L205.8 116.8L206.4 120.3L207.0 124.3L207.6 129.0L208.1 134.6L208.7 141.2L209.3 148.5L209.5 151.6" stroke="#D95319" stroke-width="0.48" />
<path d="M36.2 8.4L37.0 23.5L37.8 29.0L38.6 31.3L39.4 32.8L40.1 34.0L40.9 34.9L41.7 35.9L42.6 36.9L46.1 39.8L49.7 42.1L53.2 44.0L56.8 45.8L60.4 47.5L63.9 49.1L67.5 50.6L71.0 52.0L74.6 53.4L78.1 54.6L81.7 55.9L85.2 57.1L88.8 58.3L92.3 59.4L95.9 60.5L99.4 61.7L103.0 62.8L106.5 63.9L110.1 65.0L113.6 66.1L117.2 67.1L120.8 68.2L124.3 69.1L127.9 70.1L131.4 70.9L135.0 71.7L138.5 72.5L142.1 73.2L145.6 73.8L149.2 74.5L152.7 75.1L156.3 75.8L159.8 76.5L163.4 77.1L166.9 77.8L170.5 78.6L174.0 79.3L177.6 80.1L181.1 81.0L182.1 81.2L182.7 81.3L183.3 81.5L183.9 81.7L184.5 81.8L185.0 82.0L185.6 82.2L186.2 82.4L186.8 82.6L187.4 82.7L188.0 82.9L188.6 83.1L189.2 83.4L189.8 83.6L190.4 83.8L191.0 84.0L191.6 84.3L192.2 84.5L192.8 84.8L193.4 85.1L194.0 85.3L194.6 85.6L195.2 85.9L195.8 86.3L196.4 86.6L197.0 87.0L197.6 87.3L198.2 87.8L198.8 88.2L199.4 88.7L200.0 89.2L200.6 89.7L201.2 90.3L201.8 90.9L202.4 91.5L203.0 92.2L203.6 92.9L204.2 93.7L204.8 94.7L205.4 95.7L206.0 96.8L206.6 98.0L207.2 99.1L207.8 100.3L208.4 101.5L209.0 102.7L209.6 104.1L210.2 105.6L210.8 107.4L211.4 109.4L212.0 112.0L212.6 115.1L213.2 118.7L213.8 122.8L214.4 127.7L215.0 133.5L215.6 140.3L216.2 148.0L216.4 150.9" stroke="#EDB120" stroke-width="0.48" />
<path d="M36.2 8.4L37.0 24.0L37.8 29.5L38.5 31.8L39.3 33.3L40.1 34.5L40.8 35.4L41.6 36.4L42.5 37.3L45.9 40.3L49.4 42.6L52.9 44.6L56.4 46.4L59.9 48.2L63.3 49.9L66.8 51.4L70.3 52.8L73.8 54.2L77.3 55.4L80.7 56.7L84.2 57.9L87.7 59.1L91.2 60.3L94.7 61.4L98.1 62.6L101.6 63.7L105.1 64.8L108.6 65.9L112.1 67.0L115.5 68.1L119.0 69.1L122.5 70.1L126.0 71.0L129.5 71.8L132.9 72.6L136.4 73.4L139.9 74.1L143.4 74.7L146.9 75.4L150.3 76.1L153.8 76.7L157.3 77.4L160.8 78.1L164.3 78.9L167.8 79.6L171.2 80.4L174.7 81.2L178.2 82.1L179.1 82.4L179.7 82.5L180.3 82.7L180.8 82.9L181.4 83.0L182.0 83.2L182.6 83.4L183.2 83.6L183.8 83.8L184.4 84.0L184.9 84.2L185.5 84.4L186.1 84.6L186.7 84.8L187.3 85.1L187.9 85.3L188.5 85.6L189.0 85.8L189.6 86.1L190.2 86.4L190.8 86.7L191.4 87.0L192.0 87.3L192.6 87.6L193.2 87.9L193.7 88.3L194.3 88.7L194.9 89.1L195.5 89.6L196.1 90.0L196.7 90.5L197.3 91.1L197.8 91.6L198.4 92.2L199.0 92.9L199.6 93.5L200.2 94.2L200.8 95.1L201.4 96.0L201.9 97.0L202.5 98.1L203.1 99.2L203.7 100.4L204.3 101.5L204.9 102.7L205.5 103.9L206.1 105.3L206.6 106.8L207.2 108.5L207.8 110.5L208.4 113.0L209.0 116.0L209.6 119.6L210.2 123.6L210.7 128.4L211.3 134.1L211.9 140.8L212.5 148.3L213.0 154.6" stroke="#7E2F8E" stroke-width="0.48" />
<path d="M36.2 8.4L37.0 24.6L37.7 30.0L38.5 32.3L39.2 33.8L40.0 34.9L40.7 35.9L41.5 36.8L42.3 37.8L45.7 40.8L49.2 43.2L52.6 45.2L56.0 47.1L59.4 48.9L62.8 50.5L66.2 52.1L69.6 53.6L73.0 54.9L76.4 56.2L79.8 57.5L83.3 58.8L86.7 60.0L90.1 61.2L93.5 62.3L96.9 63.4L100.3 64.6L103.7 65.7L107.1 66.8L110.5 67.9L114.0 69.0L117.4 70.0L120.8 71.0L124.2 71.9L127.6 72.7L131.0 73.5L134.4 74.3L137.8 75.0L141.2 75.6L144.6 76.3L148.1 77.0L151.5 77.7L154.9 78.4L158.3 79.1L161.7 79.8L165.1 80.6L168.5 81.4L171.9 82.3L175.3 83.2L176.2 83.5L176.8 83.7L177.4 83.8L177.9 84.0L178.5 84.2L179.1 84.4L179.7 84.6L180.2 84.8L180.8 85.0L181.4 85.2L182.0 85.4L182.5 85.6L183.1 85.8L183.7 86.1L184.3 86.3L184.8 86.6L185.4 86.8L186.0 87.1L186.6 87.3L187.1 87.6L187.7 87.9L188.3 88.2L188.8 88.6L189.4 88.9L190.0 89.2L190.6 89.6L191.1 90.0L191.7 90.4L192.3 90.9L192.9 91.3L193.4 91.8L194.0 92.4L194.6 92.9L195.2 93.5L195.7 94.1L196.3 94.8L196.9 95.5L197.5 96.3L198.0 97.2L198.6 98.2L199.2 99.3L199.8 100.4L200.3 101.5L200.9 102.7L201.5 103.8L202.1 105.0L202.6 106.4L203.2 107.9L203.8 109.5L204.4 111.5L204.9 114.0L205.5 116.9L206.1 120.4L206.7 124.3L207.2 129.0L207.8 134.7L208.4 141.2L209.0 148.6L209.5 156.6L209.6 158.1" stroke="#4DBEEE" stroke-width="0.48" />
<path d="M36.2 8.4L37.0 24.8L37.7 30.3L38.5 32.5L39.2 34.1L39.9 35.2L40.7 36.1L41.4 37.1L42.3 38.1L45.6 41.0L49.0 43.4L52.4 45.5L55.8 47.4L59.1 49.2L62.5 50.9L65.9 52.5L69.3 54.0L72.6 55.3L76.0 56.6L79.4 57.9L82.8 59.2L86.1 60.4L89.5 61.6L92.9 62.8L96.3 63.9L99.6 65.0L103.0 66.2L106.4 67.3L109.7 68.4L113.1 69.4L116.5 70.4L119.9 71.4L123.2 72.3L126.6 73.2L130.0 74.0L133.4 74.7L136.7 75.4L140.1 76.1L143.5 76.8L146.9 77.5L150.2 78.2L153.6 78.9L157.0 79.6L160.4 80.3L163.7 81.1L167.1 82.0L170.5 82.9L173.9 83.8L174.7 84.1L175.3 84.3L175.9 84.4L176.4 84.6L177.0 84.8L177.6 85.0L178.1 85.2L178.7 85.4L179.3 85.6L179.8 85.8L180.4 86.0L181.0 86.2L181.5 86.5L182.1 86.7L182.7 87.0L183.2 87.2L183.8 87.5L184.4 87.7L184.9 88.0L185.5 88.3L186.1 88.6L186.7 88.9L187.2 89.2L187.8 89.6L188.4 89.9L188.9 90.3L189.5 90.7L190.1 91.1L190.6 91.5L191.2 92.0L191.8 92.5L192.3 93.0L192.9 93.6L193.5 94.2L194.0 94.8L194.6 95.5L195.2 96.2L195.7 97.0L196.3 97.9L196.9 98.9L197.5 99.9L198.0 101.0L198.6 102.1L199.2 103.3L199.7 104.4L200.3 105.6L200.9 106.9L201.4 108.4L202.0 110.1L202.6 112.1L203.1 114.5L203.7 117.4L204.3 120.8L204.8 124.7L205.4 129.4L206.0 135.0L206.6 141.4L207.1 148.7L207.6 155.1" stroke="#A2142F" stroke-width="0.48" />
<path d="M36.2 8.4L37.0 25.0L37.7 30.4L38.4 32.7L39.2 34.3L39.9 35.4L40.6 36.3L41.4 37.2L42.2 38.2L45.6 41.2L48.9 43.6L52.3 45.7L55.6 47.6L59.0 49.5L62.3 51.2L65.7 52.7L69.0 54.2L72.4 55.6L75.7 56.9L79.1 58.2L82.4 59.5L85.8 60.7L89.1 61.9L92.5 63.1L95.8 64.2L99.2 65.3L102.5 66.5L105.9 67.6L109.2 68.7L112.6 69.7L115.9 70.8L119.3 71.7L122.6 72.6L125.9 73.5L129.3 74.3L132.6 75.0L136.0 75.8L139.3 76.4L142.7 77.1L146.0 77.8L149.4 78.5L152.7 79.2L156.1 80.0L159.4 80.7L162.8 81.5L166.1 82.3L169.5 83.2L172.8 84.2L173.7 84.5L174.3 84.7L174.8 84.8L175.4 85.0L175.9 85.2L176.5 85.4L177.1 85.6L177.6 85.8L178.2 86.0L178.8 86.2L179.3 86.5L179.9 86.7L180.5 86.9L181.0 87.1L181.6 87.4L182.2 87.6L182.7 87.9L183.3 88.2L183.8 88.5L184.4 88.7L185.0 89.0L185.5 89.4L186.1 89.7L186.7 90.0L187.2 90.4L187.8 90.7L188.4 91.1L188.9 91.6L189.5 92.0L190.1 92.5L190.6 93.0L191.2 93.5L191.7 94.1L192.3 94.7L192.9 95.3L193.4 95.9L194.0 96.6L194.6 97.4L195.1 98.3L195.7 99.3L196.3 100.4L196.8 101.5L197.4 102.6L198.0 103.7L198.5 104.8L199.1 106.0L199.6 107.3L200.2 108.8L200.8 110.5L201.3 112.4L201.9 114.8L202.5 117.7L203.0 121.1L203.6 125.0L204.2 129.6L204.7 135.2L205.3 141.6L205.9 148.8L206.3 154.8" stroke="#0072BD" stroke-width="0.48" />
<path d="M36.2 8.4L37.0 25.3L37.7 30.7L38.4 32.9L39.1 34.5L39.9 35.6L40.6 36.5L41.3 37.4L42.2 38.4L45.5 41.4L48.8 43.9L52.1 46.0L55.4 47.9L58.8 49.8L62.1 51.5L65.4 53.1L68.7 54.6L72.0 56.0L75.3 57.3L78.7 58.6L82.0 59.9L85.3 61.1L88.6 62.3L91.9 63.5L95.2 64.6L98.6 65.7L101.9 66.9L105.2 68.0L108.5 69.1L111.8 70.2L115.1 71.2L118.5 72.1L121.8 73.0L125.1 73.9L128.4 74.7L131.7 75.4L135.0 76.2L138.4 76.9L141.7 77.5L145.0 78.2L148.3 78.9L151.6 79.7L154.9 80.4L158.3 81.2L161.6 82.0L164.9 82.8L168.2 83.7L171.5 84.7L172.4 85.0L172.9 85.2L173.5 85.4L174.0 85.6L174.6 85.8L175.2 86.0L175.7 86.2L176.3 86.4L176.8 86.6L177.4 86.8L178.0 87.0L178.5 87.2L179.1 87.5L179.6 87.7L180.2 88.0L180.7 88.2L181.3 88.5L181.9 88.8L182.4 89.0L183.0 89.3L183.5 89.6L184.1 89.9L184.7 90.3L185.2 90.6L185.8 91.0L186.3 91.3L186.9 91.7L187.5 92.2L188.0 92.6L188.6 93.1L189.1 93.6L189.7 94.1L190.2 94.7L190.8 95.3L191.4 95.9L191.9 96.5L192.5 97.2L193.0 98.0L193.6 98.9L194.2 99.9L194.7 100.9L195.3 102.0L195.8 103.1L196.4 104.2L197.0 105.4L197.5 106.6L198.1 107.9L198.6 109.3L199.2 111.0L199.8 112.9L200.3 115.3L200.9 118.1L201.4 121.5L202.0 125.4L202.5 129.9L203.1 135.4L203.7 141.8L204.2 148.9L204.8 156.8L204.8 157.8" stroke="#D95319" stroke-width="0.48" />
<path d="M36.2 8.4L37.0 25.5L37.7 30.9L38.4 33.1L39.1 34.7L39.8 35.8L40.6 36.7L41.3 37.6L42.1 38.6L45.4 41.6L48.7 44.1L52.0 46.2L55.3 48.2L58.6 50.0L61.9 51.7L65.1 53.3L68.4 54.8L71.7 56.3L75.0 57.6L78.3 58.9L81.6 60.2L84.9 61.4L88.2 62.6L91.5 63.8L94.8 64.9L98.0 66.1L101.3 67.2L104.6 68.3L107.9 69.4L111.2 70.5L114.5 71.5L117.8 72.5L121.1 73.4L124.4 74.2L127.6 75.0L130.9 75.8L134.2 76.5L137.5 77.2L140.8 77.9L144.1 78.6L147.4 79.3L150.7 80.0L154.0 80.8L157.3 81.5L160.5 82.3L163.8 83.2L167.1 84.2L170.4 85.2L171.3 85.4L171.8 85.6L172.4 85.8L172.9 86.0L173.5 86.2L174.0 86.4L174.6 86.6L175.1 86.8L175.7 87.0L176.2 87.3L176.8 87.5L177.3 87.7L177.9 87.9L178.5 88.2L179.0 88.4L179.6 88.7L180.1 89.0L180.7 89.2L181.2 89.5L181.8 89.8L182.3 90.1L182.9 90.4L183.4 90.8L184.0 91.1L184.6 91.5L185.1 91.8L185.7 92.2L186.2 92.7L186.8 93.1L187.3 93.6L187.9 94.1L188.4 94.6L189.0 95.2L189.5 95.8L190.1 96.4L190.7 97.0L191.2 97.7L191.8 98.5L192.3 99.4L192.9 100.4L193.4 101.4L194.0 102.5L194.5 103.6L195.1 104.7L195.6 105.8L196.2 107.0L196.7 108.3L197.3 109.7L197.9 111.4L198.4 113.3L199.0 115.7L199.5 118.5L200.1 121.8L200.6 125.7L201.2 130.2L201.7 135.6L202.3 141.9L202.8 149.1L202.9 150.5" stroke="#7E2F8E" stroke-width="0.48" />
<path d="M36.2 8.4L37.0 25.7L37.7 31.1L38.4 33.3L39.1 34.9L39.8 36.0L40.5 36.9L41.2 37.8L42.1 38.8L45.3 41.8L48.6 44.3L51.8 46.5L55.1 48.4L58.4 50.3L61.6 52.0L64.9 53.7L68.1 55.2L71.4 56.6L74.7 57.9L77.9 59.3L81.2 60.5L84.4 61.8L87.7 63.0L91.0 64.2L94.2 65.3L97.5 66.5L100.7 67.6L104.0 68.7L107.3 69.8L110.5 70.9L113.8 71.9L117.0 72.9L120.3 73.8L123.6 74.6L126.8 75.4L130.1 76.2L133.3 76.9L136.6 77.6L139.9 78.3L143.1 79.0L146.4 79.7L149.6 80.4L152.9 81.2L156.2 82.0L159.4 82.8L162.7 83.7L165.9 84.6L169.2 85.6L170.0 85.9L170.6 86.1L171.1 86.3L171.7 86.5L172.2 86.7L172.8 86.9L173.3 87.1L173.9 87.3L174.4 87.5L175.0 87.8L175.5 88.0L176.1 88.2L176.6 88.5L177.2 88.7L177.7 89.0L178.3 89.2L178.8 89.5L179.4 89.8L179.9 90.1L180.5 90.4L181.0 90.7L181.6 91.0L182.1 91.3L182.7 91.7L183.2 92.0L183.8 92.4L184.3 92.8L184.9 93.2L185.4 93.7L186.0 94.1L186.5 94.6L187.0 95.2L187.6 95.7L188.1 96.3L188.7 96.9L189.2 97.6L189.8 98.3L190.3 99.1L190.9 99.9L191.4 100.9L192.0 101.9L192.5 103.0L193.1 104.1L193.6 105.2L194.2 106.3L194.7 107.5L195.3 108.8L195.8 110.2L196.4 111.8L196.9 113.7L197.5 116.1L198.0 118.9L198.6 122.2L199.1 126.0L199.7 130.5L200.2 135.9L200.8 142.1L201.3 149.2L201.7 154.4" stroke="#77AC30" stroke-width="0.48" />
<path d="M36.2 8.4L37.0 25.8L37.7 31.2L38.4 33.5L39.1 35.0L39.8 36.1L40.5 37.0L41.2 38.0L42.0 39.0L45.3 42.0L48.5 44.4L51.7 46.6L55.0 48.6L58.2 50.5L61.5 52.2L64.7 53.9L67.9 55.4L71.2 56.8L74.4 58.2L77.7 59.5L80.9 60.8L84.1 62.0L87.4 63.2L90.6 64.4L93.9 65.6L97.1 66.7L100.3 67.9L103.6 69.0L106.8 70.1L110.1 71.1L113.3 72.2L116.5 73.1L119.8 74.0L123.0 74.9L126.3 75.7L129.5 76.4L132.7 77.1L136.0 77.8L139.2 78.5L142.5 79.2L145.7 80.0L148.9 80.7L152.2 81.5L155.4 82.2L158.7 83.1L161.9 84.0L165.1 84.9L168.4 86.0L169.2 86.2L169.8 86.4L170.3 86.6L170.8 86.8L171.4 87.0L171.9 87.2L172.5 87.4L173.0 87.7L173.6 87.9L174.1 88.1L174.7 88.3L175.2 88.6L175.8 88.8L176.3 89.1L176.8 89.3L177.4 89.6L177.9 89.9L178.5 90.1L179.0 90.4L179.6 90.7L180.1 91.0L180.7 91.4L181.2 91.7L181.8 92.0L182.3 92.4L182.9 92.8L183.4 93.2L183.9 93.6L184.5 94.0L185.0 94.5L185.6 95.0L186.1 95.5L186.7 96.1L187.2 96.7L187.8 97.3L188.3 97.9L188.9 98.6L189.4 99.4L189.9 100.3L190.5 101.3L191.0 102.3L191.6 103.3L192.1 104.4L192.7 105.5L193.2 106.6L193.8 107.8L194.3 109.1L194.9 110.5L195.4 112.1L196.0 114.0L196.5 116.3L197.0 119.1L197.6 122.4L198.1 126.2L198.7 130.7L199.2 136.0L199.8 142.3L200.3 149.3L200.8 156.1" stroke="#4DBEEE" stroke-width="0.48" />
<path d="M36.2 8.4L37.0 25.9L37.7 31.3L38.4 33.5L39.1 35.1L39.8 36.2L40.5 37.1L41.2 38.0L42.0 39.0L45.3 42.0L48.5 44.5L51.7 46.7L54.9 48.7L58.2 50.6L61.4 52.3L64.6 53.9L67.9 55.5L71.1 56.9L74.3 58.2L77.6 59.6L80.8 60.9L84.0 62.1L87.3 63.3L90.5 64.5L93.7 65.7L97.0 66.8L100.2 67.9L103.4 69.1L106.7 70.2L109.9 71.2L113.1 72.3L116.4 73.2L119.6 74.1L122.8 74.9L126.1 75.7L129.3 76.5L132.5 77.2L135.8 77.9L139.0 78.6L142.2 79.3L145.5 80.1L148.7 80.8L151.9 81.6L155.2 82.3L158.4 83.2L161.6 84.1L164.9 85.0L168.1 86.1L168.9 86.4L169.5 86.6L170.0 86.7L170.5 86.9L171.1 87.1L171.6 87.4L172.2 87.6L172.7 87.8L173.3 88.0L173.8 88.2L174.4 88.5L174.9 88.7L175.5 88.9L176.0 89.2L176.5 89.4L177.1 89.7L177.6 90.0L178.2 90.3L178.7 90.5L179.3 90.8L179.8 91.2L180.4 91.5L180.9 91.8L181.4 92.2L182.0 92.5L182.5 92.9L183.1 93.3L183.6 93.7L184.2 94.2L184.7 94.6L185.3 95.1L185.8 95.7L186.3 96.2L186.9 96.8L187.4 97.4L188.0 98.1L188.5 98.8L189.1 99.6L189.6 100.4L190.2 101.4L190.7 102.4L191.2 103.4L191.8 104.5L192.3 105.6L192.9 106.7L193.4 107.9L194.0 109.2L194.5 110.6L195.1 112.2L195.6 114.1L196.1 116.4L196.7 119.2L197.2 122.5L197.8 126.3L198.3 130.7L198.9 136.1L199.4 142.3L200.0 149.3L200.5 157.0L200.6 158.1" stroke="#A2142F" stroke-width="0.48" />
<path d="M36.2 8.4L37.0 25.7L37.7 31.1L38.4 33.3L39.1 34.8L39.8 35.9L40.5 36.9L41.2 37.8L42.1 38.8L45.3 41.8L48.6 44.3L51.9 46.4L55.1 48.4L58.4 50.3L61.7 52.0L64.9 53.6L68.2 55.1L71.4 56.5L74.7 57.9L78.0 59.2L81.2 60.5L84.5 61.7L87.8 63.0L91.0 64.1L94.3 65.3L97.5 66.4L100.8 67.6L104.1 68.7L107.3 69.8L110.6 70.8L113.9 71.9L117.1 72.8L120.4 73.7L123.7 74.6L126.9 75.4L130.2 76.1L133.4 76.8L136.7 77.5L140.0 78.2L143.2 78.9L146.5 79.7L149.8 80.4L153.0 81.1L156.3 81.9L159.6 82.7L162.8 83.6L166.1 84.6L169.3 85.6L170.2 85.9L170.7 86.1L171.3 86.2L171.8 86.4L172.4 86.6L172.9 86.8L173.5 87.1L174.0 87.3L174.6 87.5L175.1 87.7L175.7 87.9L176.2 88.2L176.8 88.4L177.3 88.6L177.9 88.9L178.4 89.2L179.0 89.4L179.5 89.7L180.1 90.0L180.6 90.3L181.2 90.6L181.7 90.9L182.3 91.3L182.8 91.6L183.4 92.0L183.9 92.3L184.5 92.7L185.0 93.2L185.6 93.6L186.1 94.1L186.7 94.6L187.2 95.1L187.8 95.7L188.3 96.2L188.9 96.9L189.4 97.5L190.0 98.2L190.5 99.0L191.1 99.9L191.6 100.8L192.2 101.9L192.7 102.9L193.3 104.0L193.8 105.1L194.4 106.2L194.9 107.4L195.5 108.7L196.0 110.1L196.6 111.8L197.1 113.7L197.7 116.0L198.2 118.8L198.8 122.1L199.3 125.9L199.9 130.4L200.4 135.8L201.0 142.1L201.5 149.2L201.8 152.9" stroke="#D95319" stroke-width="0.48" />
<path d="M36.2 8.4L37.0 25.9L37.7 31.3L38.4 33.6L39.1 35.1L39.8 36.2L40.5 37.1L41.2 38.0L42.0 39.0L45.2 42.0L48.5 44.5L51.7 46.7L54.9 48.7L58.2 50.6L61.4 52.3L64.6 54.0L67.9 55.5L71.1 56.9L74.3 58.3L77.5 59.6L80.8 60.9L84.0 62.1L87.2 63.4L90.5 64.5L93.7 65.7L96.9 66.8L100.2 68.0L103.4 69.1L106.6 70.2L109.8 71.3L113.1 72.3L116.3 73.2L119.5 74.1L122.8 75.0L126.0 75.8L129.2 76.5L132.5 77.3L135.7 78.0L138.9 78.7L142.1 79.4L145.4 80.1L148.6 80.8L151.8 81.6L155.1 82.4L158.3 83.2L161.5 84.1L164.8 85.1L168.0 86.1L168.8 86.4L169.4 86.6L169.9 86.8L170.4 87.0L171.0 87.2L171.5 87.4L172.1 87.6L172.6 87.8L173.2 88.0L173.7 88.3L174.3 88.5L174.8 88.7L175.3 89.0L175.9 89.2L176.4 89.5L177.0 89.7L177.5 90.0L178.1 90.3L178.6 90.6L179.2 90.9L179.7 91.2L180.2 91.5L180.8 91.9L181.3 92.2L181.9 92.6L182.4 92.9L183.0 93.3L183.5 93.8L184.0 94.2L184.6 94.7L185.1 95.2L185.7 95.7L186.2 96.3L186.8 96.9L187.3 97.5L187.9 98.1L188.4 98.8L188.9 99.6L189.5 100.5L190.0 101.4L190.6 102.4L191.1 103.5L191.7 104.6L192.2 105.7L192.8 106.8L193.3 108.0L193.8 109.2L194.4 110.7L194.9 112.3L195.5 114.2L196.0 116.5L196.6 119.3L197.1 122.5L197.7 126.3L198.2 130.8L198.7 136.1L199.3 142.3L199.8 149.3L200.0 151.3" stroke="#EDB120" stroke-width="0.48" />
<path d="M36.2 8.4L36.9 26.3L37.6 31.6L38.3 33.9L39.0 35.4L39.7 36.5L40.4 37.4L41.1 38.3L41.9 39.3L45.1 42.3L48.3 44.9L51.5 47.1L54.7 49.1L57.9 51.0L61.1 52.8L64.2 54.4L67.4 55.9L70.6 57.4L73.8 58.8L77.0 60.1L80.2 61.4L83.4 62.7L86.5 63.9L89.7 65.1L92.9 66.2L96.1 67.4L99.3 68.5L102.5 69.7L105.7 70.8L108.8 71.8L112.0 72.8L115.2 73.8L118.4 74.7L121.6 75.5L124.8 76.3L128.0 77.1L131.1 77.8L134.3 78.5L137.5 79.2L140.7 80.0L143.9 80.7L147.1 81.4L150.3 82.2L153.5 83.0L156.6 83.8L159.8 84.7L163.0 85.7L166.2 86.8L167.0 87.1L167.5 87.3L168.1 87.5L168.6 87.7L169.2 87.9L169.7 88.1L170.2 88.3L170.8 88.6L171.3 88.8L171.8 89.0L172.4 89.3L172.9 89.5L173.5 89.7L174.0 90.0L174.5 90.3L175.1 90.5L175.6 90.8L176.1 91.1L176.7 91.4L177.2 91.7L177.7 92.0L178.3 92.3L178.8 92.7L179.4 93.0L179.9 93.4L180.4 93.8L181.0 94.2L181.5 94.6L182.0 95.0L182.6 95.5L183.1 96.0L183.7 96.5L184.2 97.1L184.7 97.7L185.3 98.3L185.8 98.9L186.3 99.6L186.9 100.4L187.4 101.3L187.9 102.2L188.5 103.2L189.0 104.2L189.6 105.3L190.1 106.4L190.6 107.5L191.2 108.7L191.7 109.9L192.2 111.4L192.8 113.0L193.3 114.8L193.9 117.1L194.4 119.8L194.9 123.1L195.5 126.8L196.0 131.2L196.5 136.4L197.1 142.6L197.6 149.5L198.0 154.3" stroke="#7E2F8E" stroke-width="0.48" />
<path d="M36.2 8.4L36.9 26.4L37.6 31.7L38.3 34.0L39.0 35.5L39.7 36.6L40.4 37.5L41.1 38.5L41.9 39.4L45.1 42.5L48.2 45.0L51.4 47.2L54.6 49.2L57.7 51.2L60.9 53.0L64.1 54.6L67.2 56.2L70.4 57.6L73.6 59.0L76.7 60.3L79.9 61.6L83.1 62.9L86.2 64.1L89.4 65.3L92.6 66.5L95.7 67.6L98.9 68.8L102.1 69.9L105.2 71.0L108.4 72.1L111.6 73.1L114.7 74.0L117.9 74.9L121.1 75.8L124.2 76.6L127.4 77.3L130.6 78.1L133.8 78.8L136.9 79.5L140.1 80.2L143.3 80.9L146.4 81.7L149.6 82.5L152.8 83.3L155.9 84.1L159.1 85.0L162.3 86.0L165.4 87.1L166.2 87.4L166.8 87.6L167.3 87.8L167.8 88.0L168.4 88.2L168.9 88.4L169.4 88.7L170.0 88.9L170.5 89.1L171.0 89.3L171.6 89.6L172.1 89.8L172.6 90.1L173.2 90.3L173.7 90.6L174.2 90.9L174.8 91.1L175.3 91.4L175.8 91.7L176.4 92.0L176.9 92.4L177.4 92.7L178.0 93.0L178.5 93.4L179.0 93.7L179.6 94.1L180.1 94.5L180.6 94.9L181.2 95.4L181.7 95.9L182.2 96.4L182.8 96.9L183.3 97.4L183.8 98.0L184.4 98.6L184.9 99.3L185.4 100.0L186.0 100.7L186.5 101.6L187.0 102.5L187.6 103.5L188.1 104.6L188.6 105.6L189.2 106.7L189.7 107.8L190.2 109.0L190.8 110.2L191.3 111.6L191.8 113.2L192.4 115.1L192.9 117.4L193.4 120.1L194.0 123.3L194.5 127.0L195.0 131.4L195.6 136.6L196.1 142.7L196.6 149.6L197.1 156.5" stroke="#77AC30" stroke-width="0.48" />
<path d="M36.2 8.4L37.0 25.1L37.7 30.5L38.4 32.8L39.2 34.3L39.9 35.4L40.6 36.4L41.4 37.3L42.2 38.3L45.5 41.3L48.9 43.7L52.2 45.8L55.6 47.7L58.9 49.5L62.2 51.3L65.6 52.8L68.9 54.3L72.3 55.7L75.6 57.0L78.9 58.3L82.3 59.6L85.6 60.8L89.0 62.0L92.3 63.2L95.6 64.3L99.0 65.5L102.3 66.6L105.7 67.7L109.0 68.8L112.3 69.9L115.7 70.9L119.0 71.9L122.3 72.8L125.7 73.6L129.0 74.4L132.4 75.2L135.7 75.9L139.0 76.6L142.4 77.2L145.7 77.9L149.1 78.6L152.4 79.4L155.7 80.1L159.1 80.8L162.4 81.6L165.8 82.5L169.1 83.4L172.4 84.4L173.3 84.6L173.9 84.8L174.4 85.0L175.0 85.2L175.5 85.4L176.1 85.6L176.7 85.8L177.2 86.0L177.8 86.2L178.4 86.4L178.9 86.6L179.5 86.8L180.0 87.1L180.6 87.3L181.2 87.6L181.7 87.8L182.3 88.1L182.9 88.3L183.4 88.6L184.0 88.9L184.5 89.2L185.1 89.5L185.7 89.9L186.2 90.2L186.8 90.5L187.4 90.9L187.9 91.3L188.5 91.7L189.0 92.2L189.6 92.7L190.2 93.2L190.7 93.7L191.3 94.3L191.9 94.8L192.4 95.5L193.0 96.1L193.5 96.8L194.1 97.6L194.7 98.5L195.2 99.5L195.8 100.5L196.4 101.6L196.9 102.7L197.5 103.9L198.0 105.0L198.6 106.2L199.2 107.5L199.7 109.0L200.3 110.6L200.9 112.6L201.4 115.0L202.0 117.8L202.5 121.2L203.1 125.1L203.7 129.7L204.2 135.2L204.8 141.6L205.4 148.9L205.6 151.6" stroke="#A2142F" stroke-width="0.48" />
<path d="M36.2 8.4L37.0 25.5L37.7 30.9L38.4 33.2L39.1 34.7L39.8 35.8L40.6 36.8L41.3 37.7L42.1 38.7L45.4 41.7L48.7 44.1L52.0 46.3L55.2 48.2L58.5 50.1L61.8 51.8L65.1 53.4L68.4 54.9L71.6 56.3L74.9 57.7L78.2 59.0L81.5 60.3L84.8 61.5L88.1 62.7L91.3 63.9L94.6 65.0L97.9 66.2L101.2 67.3L104.5 68.4L107.8 69.5L111.0 70.6L114.3 71.6L117.6 72.6L120.9 73.5L124.2 74.3L127.4 75.1L130.7 75.9L134.0 76.6L137.3 77.3L140.6 78.0L143.9 78.7L147.1 79.4L150.4 80.1L153.7 80.9L157.0 81.6L160.3 82.4L163.5 83.3L166.8 84.3L170.1 85.3L170.9 85.6L171.5 85.7L172.1 85.9L172.6 86.1L173.2 86.3L173.7 86.5L174.3 86.7L174.8 86.9L175.4 87.2L175.9 87.4L176.5 87.6L177.0 87.8L177.6 88.1L178.1 88.3L178.7 88.6L179.2 88.8L179.8 89.1L180.4 89.4L180.9 89.7L181.5 90.0L182.0 90.3L182.6 90.6L183.1 90.9L183.7 91.2L184.2 91.6L184.8 92.0L185.3 92.4L185.9 92.8L186.4 93.2L187.0 93.7L187.5 94.2L188.1 94.8L188.6 95.3L189.2 95.9L189.8 96.5L190.3 97.2L190.9 97.9L191.4 98.7L192.0 99.5L192.5 100.5L193.1 101.5L193.6 102.6L194.2 103.7L194.7 104.8L195.3 105.9L195.8 107.1L196.4 108.4L196.9 109.9L197.5 111.5L198.0 113.4L198.6 115.8L199.2 118.6L199.7 121.9L200.3 125.7L200.8 130.3L201.4 135.7L201.9 142.0L202.5 149.1L202.7 152.7" stroke="#0072BD" stroke-width="0.48" />
<path d="M36.2 8.4L37.0 25.8L37.7 31.2L38.4 33.4L39.1 34.9L39.8 36.0L40.5 37.0L41.2 37.9L42.0 38.9L45.3 41.9L48.5 44.4L51.8 46.5L55.0 48.5L58.3 50.4L61.5 52.1L64.8 53.8L68.0 55.3L71.3 56.7L74.5 58.1L77.8 59.4L81.0 60.7L84.3 61.9L87.5 63.1L90.8 64.3L94.0 65.5L97.3 66.6L100.5 67.7L103.8 68.9L107.0 70.0L110.3 71.0L113.5 72.0L116.8 73.0L120.0 73.9L123.3 74.7L126.5 75.5L129.8 76.3L133.0 77.0L136.3 77.7L139.5 78.4L142.8 79.1L146.0 79.8L149.3 80.6L152.5 81.3L155.8 82.1L159.0 82.9L162.3 83.8L165.5 84.8L168.8 85.8L169.6 86.1L170.1 86.3L170.7 86.5L171.2 86.7L171.8 86.9L172.3 87.1L172.9 87.3L173.4 87.5L174.0 87.7L174.5 87.9L175.1 88.2L175.6 88.4L176.2 88.6L176.7 88.9L177.3 89.1L177.8 89.4L178.4 89.7L178.9 90.0L179.5 90.2L180.0 90.5L180.6 90.9L181.1 91.2L181.6 91.5L182.2 91.9L182.7 92.2L183.3 92.6L183.8 93.0L184.4 93.4L184.9 93.9L185.5 94.3L186.0 94.8L186.6 95.4L187.1 95.9L187.7 96.5L188.2 97.1L188.8 97.8L189.3 98.5L189.9 99.3L190.4 100.1L191.0 101.1L191.5 102.1L192.0 103.2L192.6 104.2L193.1 105.4L193.7 106.5L194.2 107.7L194.8 108.9L195.3 110.4L195.9 112.0L196.4 113.9L197.0 116.2L197.5 119.0L198.1 122.3L198.6 126.1L199.2 130.6L199.7 135.9L200.3 142.2L200.8 149.2L201.4 157.0L201.4 157.6" stroke="#D95319" stroke-width="0.48" />
<path d="M36.2 8.4L37.0 26.1L37.7 31.5L38.4 33.7L39.1 35.3L39.8 36.4L40.5 37.3L41.2 38.2L42.0 39.2L45.2 42.2L48.4 44.7L51.6 46.9L54.8 48.9L58.0 50.8L61.2 52.6L64.4 54.2L67.6 55.8L70.8 57.2L74.0 58.6L77.2 59.9L80.4 61.2L83.6 62.5L86.8 63.7L90.0 64.9L93.2 66.0L96.4 67.2L99.6 68.3L102.8 69.4L106.0 70.5L109.3 71.6L112.5 72.6L115.7 73.6L118.9 74.5L122.1 75.3L125.3 76.1L128.5 76.9L131.7 77.6L134.9 78.3L138.1 79.0L141.3 79.7L144.5 80.4L147.7 81.2L150.9 82.0L154.1 82.7L157.3 83.6L160.5 84.5L163.7 85.5L166.9 86.5L167.7 86.8L168.3 87.0L168.8 87.2L169.4 87.4L169.9 87.6L170.4 87.8L171.0 88.0L171.5 88.3L172.1 88.5L172.6 88.7L173.1 89.0L173.7 89.2L174.2 89.4L174.8 89.7L175.3 89.9L175.8 90.2L176.4 90.5L176.9 90.8L177.5 91.1L178.0 91.4L178.5 91.7L179.1 92.0L179.6 92.3L180.2 92.7L180.7 93.1L181.2 93.4L181.8 93.8L182.3 94.3L182.9 94.7L183.4 95.2L183.9 95.7L184.5 96.2L185.0 96.8L185.6 97.3L186.1 98.0L186.6 98.6L187.2 99.3L187.7 100.1L188.3 100.9L188.8 101.9L189.3 102.9L189.9 103.9L190.4 105.0L191.0 106.1L191.5 107.2L192.0 108.4L192.6 109.7L193.1 111.1L193.7 112.7L194.2 114.6L194.7 116.8L195.3 119.6L195.8 122.9L196.4 126.6L196.9 131.0L197.4 136.3L198.0 142.5L198.5 149.4L199.0 156.4" stroke="#EDB120" stroke-width="0.48" />
<path d="M36.2 8.4L36.9 26.6L37.6 31.9L38.3 34.2L39.0 35.7L39.7 36.8L40.4 37.7L41.1 38.6L41.9 39.6L45.0 42.7L48.1 45.2L51.3 47.5L54.4 49.5L57.5 51.4L60.7 53.2L63.8 54.9L67.0 56.5L70.1 57.9L73.2 59.3L76.4 60.7L79.5 62.0L82.7 63.2L85.8 64.5L88.9 65.7L92.1 66.8L95.2 68.0L98.4 69.1L101.5 70.3L104.6 71.4L107.8 72.4L110.9 73.4L114.0 74.4L117.2 75.3L120.3 76.1L123.5 76.9L126.6 77.7L129.7 78.4L132.9 79.1L136.0 79.9L139.2 80.6L142.3 81.3L145.4 82.1L148.6 82.9L151.7 83.7L154.9 84.5L158.0 85.4L161.1 86.5L164.3 87.6L165.1 87.9L165.6 88.1L166.1 88.3L166.7 88.5L167.2 88.7L167.7 88.9L168.2 89.1L168.8 89.4L169.3 89.6L169.8 89.8L170.4 90.1L170.9 90.3L171.4 90.6L171.9 90.8L172.5 91.1L173.0 91.4L173.5 91.6L174.1 91.9L174.6 92.2L175.1 92.5L175.6 92.9L176.2 93.2L176.7 93.5L177.2 93.9L177.8 94.3L178.3 94.6L178.8 95.0L179.4 95.5L179.9 95.9L180.4 96.4L180.9 96.9L181.5 97.4L182.0 98.0L182.5 98.6L183.1 99.2L183.6 99.8L184.1 100.5L184.6 101.3L185.2 102.1L185.7 103.0L186.2 104.0L186.8 105.1L187.3 106.1L187.8 107.2L188.3 108.3L188.9 109.4L189.4 110.7L189.9 112.1L190.5 113.7L191.0 115.5L191.5 117.7L192.0 120.4L192.6 123.6L193.1 127.3L193.6 131.6L194.2 136.8L194.7 142.9L195.2 149.7L195.7 157.2L195.7 157.3" stroke="#77AC30" stroke-width="0.48" />
<path d="M36.2 8.4L36.9 26.8L37.6 32.1L38.3 34.4L39.0 35.9L39.6 37.0L40.3 37.9L41.0 38.8L41.8 39.8L44.9 42.9L48.0 45.4L51.1 47.7L54.2 49.8L57.3 51.7L60.5 53.5L63.6 55.2L66.7 56.8L69.8 58.2L72.9 59.6L76.0 61.0L79.1 62.3L82.2 63.6L85.3 64.8L88.4 66.0L91.6 67.2L94.7 68.4L97.8 69.5L100.9 70.6L104.0 71.7L107.1 72.8L110.2 73.8L113.3 74.8L116.4 75.7L119.5 76.5L122.7 77.3L125.8 78.1L128.9 78.8L132.0 79.5L135.1 80.2L138.2 81.0L141.3 81.7L144.4 82.5L147.5 83.3L150.6 84.1L153.8 84.9L156.9 85.9L160.0 86.9L163.1 88.0L163.9 88.3L164.4 88.5L164.9 88.8L165.4 89.0L166.0 89.2L166.5 89.4L167.0 89.6L167.5 89.9L168.1 90.1L168.6 90.3L169.1 90.6L169.6 90.8L170.2 91.1L170.7 91.3L171.2 91.6L171.7 91.9L172.3 92.2L172.8 92.5L173.3 92.8L173.8 93.1L174.4 93.4L174.9 93.7L175.4 94.1L175.9 94.4L176.5 94.8L177.0 95.2L177.5 95.6L178.0 96.0L178.5 96.5L179.1 96.9L179.6 97.4L180.1 98.0L180.6 98.5L181.2 99.1L181.7 99.7L182.2 100.3L182.7 101.0L183.3 101.8L183.8 102.6L184.3 103.6L184.8 104.5L185.4 105.6L185.9 106.6L186.4 107.7L186.9 108.8L187.5 109.9L188.0 111.2L188.5 112.5L189.0 114.1L189.6 115.9L190.1 118.1L190.6 120.8L191.1 124.0L191.6 127.6L192.2 131.9L192.7 137.1L193.2 143.1L193.7 149.8L194.2 157.0" stroke="#4DBEEE" stroke-width="0.48" />
<path d="M36.2 8.4L36.9 27.1L37.6 32.4L38.3 34.6L38.9 36.1L39.6 37.2L40.3 38.1L41.0 39.1L41.7 40.0L44.8 43.1L47.9 45.7L51.0 48.0L54.1 50.0L57.1 52.0L60.2 53.8L63.3 55.5L66.4 57.1L69.4 58.6L72.5 60.0L75.6 61.4L78.7 62.7L81.8 64.0L84.8 65.2L87.9 66.4L91.0 67.6L94.1 68.8L97.1 69.9L100.2 71.0L103.3 72.1L106.4 73.2L109.5 74.2L112.5 75.2L115.6 76.1L118.7 76.9L121.8 77.7L124.8 78.5L127.9 79.2L131.0 79.9L134.1 80.7L137.2 81.4L140.2 82.1L143.3 82.9L146.4 83.7L149.5 84.5L152.6 85.4L155.6 86.3L158.7 87.4L161.8 88.5L162.6 88.9L163.1 89.1L163.6 89.3L164.1 89.5L164.6 89.7L165.2 89.9L165.7 90.2L166.2 90.4L166.7 90.6L167.2 90.9L167.8 91.1L168.3 91.4L168.8 91.6L169.3 91.9L169.8 92.2L170.4 92.4L170.9 92.7L171.4 93.0L171.9 93.3L172.4 93.6L172.9 94.0L173.5 94.3L174.0 94.7L174.5 95.0L175.0 95.4L175.5 95.8L176.1 96.2L176.6 96.6L177.1 97.1L177.6 97.5L178.1 98.0L178.6 98.6L179.2 99.1L179.7 99.7L180.2 100.3L180.7 100.9L181.2 101.6L181.8 102.4L182.3 103.2L182.8 104.1L183.3 105.1L183.8 106.1L184.4 107.1L184.9 108.2L185.4 109.3L185.9 110.4L186.4 111.7L186.9 113.0L187.5 114.6L188.0 116.4L188.5 118.6L189.0 121.2L189.5 124.4L190.1 128.0L190.6 132.2L191.1 137.3L191.6 143.2L192.1 150.0L192.5 155.6" stroke="#A2142F" stroke-width="0.48" />
<path d="M36.2 8.4L36.9 27.1L37.6 32.4L38.3 34.6L38.9 36.2L39.6 37.2L40.3 38.2L41.0 39.1L41.7 40.1L44.8 43.1L47.9 45.7L51.0 48.0L54.0 50.1L57.1 52.0L60.2 53.9L63.3 55.5L66.3 57.1L69.4 58.6L72.5 60.0L75.6 61.4L78.6 62.7L81.7 64.0L84.8 65.2L87.9 66.5L90.9 67.6L94.0 68.8L97.1 69.9L100.2 71.1L103.2 72.2L106.3 73.2L109.4 74.3L112.5 75.2L115.5 76.1L118.6 76.9L121.7 77.7L124.8 78.5L127.9 79.2L130.9 80.0L134.0 80.7L137.1 81.4L140.2 82.2L143.2 82.9L146.3 83.7L149.4 84.5L152.5 85.4L155.5 86.4L158.6 87.4L161.7 88.6L162.5 88.9L163.0 89.1L163.5 89.3L164.0 89.5L164.5 89.8L165.1 90.0L165.6 90.2L166.1 90.4L166.6 90.7L167.1 90.9L167.6 91.2L168.2 91.4L168.7 91.7L169.2 91.9L169.7 92.2L170.2 92.5L170.8 92.8L171.3 93.1L171.8 93.4L172.3 93.7L172.8 94.0L173.3 94.4L173.9 94.7L174.4 95.1L174.9 95.4L175.4 95.8L175.9 96.2L176.5 96.7L177.0 97.1L177.5 97.6L178.0 98.1L178.5 98.6L179.0 99.2L179.6 99.7L180.1 100.3L180.6 101.0L181.1 101.7L181.6 102.4L182.2 103.3L182.7 104.2L183.2 105.1L183.7 106.1L184.2 107.2L184.7 108.2L185.3 109.3L185.8 110.5L186.3 111.7L186.8 113.1L187.3 114.6L187.9 116.4L188.4 118.6L188.9 121.3L189.4 124.4L189.9 128.0L190.4 132.2L191.0 137.3L191.5 143.3L192.0 150.0L192.2 153.4" stroke="#0072BD" stroke-width="0.48" />
<path d="M36.2 8.4L36.9 27.5L37.6 32.7L38.2 35.0L38.9 36.5L39.6 37.6L40.2 38.5L40.9 39.4L41.7 40.4L44.7 43.4L47.7 46.1L50.7 48.4L53.8 50.5L56.8 52.5L59.8 54.3L62.8 56.0L65.9 57.6L68.9 59.1L71.9 60.6L74.9 61.9L78.0 63.3L81.0 64.6L84.0 65.8L87.1 67.1L90.1 68.2L93.1 69.4L96.1 70.6L99.2 71.7L102.2 72.8L105.2 73.9L108.2 74.9L111.3 75.8L114.3 76.7L117.3 77.5L120.4 78.3L123.4 79.1L126.4 79.9L129.4 80.6L132.5 81.3L135.5 82.1L138.5 82.8L141.5 83.6L144.6 84.4L147.6 85.2L150.6 86.1L153.6 87.1L156.7 88.2L159.7 89.4L160.5 89.7L161.0 89.9L161.5 90.1L162.0 90.3L162.5 90.6L163.0 90.8L163.5 91.0L164.0 91.3L164.6 91.5L165.1 91.7L165.6 92.0L166.1 92.3L166.6 92.5L167.1 92.8L167.6 93.1L168.1 93.3L168.6 93.6L169.1 93.9L169.7 94.3L170.2 94.6L170.7 94.9L171.2 95.2L171.7 95.6L172.2 96.0L172.7 96.3L173.2 96.7L173.7 97.1L174.2 97.6L174.8 98.0L175.3 98.5L175.8 99.0L176.3 99.5L176.8 100.1L177.3 100.6L177.8 101.2L178.3 101.9L178.8 102.5L179.3 103.3L179.9 104.1L180.4 105.0L180.9 106.0L181.4 107.0L181.9 108.0L182.4 109.0L182.9 110.1L183.4 111.2L183.9 112.5L184.4 113.8L185.0 115.4L185.5 117.2L186.0 119.3L186.5 121.9L187.0 125.0L187.5 128.5L188.0 132.7L188.5 137.7L189.0 143.6L189.5 150.2L189.9 155.8" stroke="#EDB120" stroke-width="0.48" />
<path d="M36.2 8.4L36.9 27.7L37.6 32.9L38.2 35.2L38.9 36.7L39.5 37.8L40.2 38.7L40.8 39.6L41.6 40.6L44.6 43.6L47.6 46.3L50.6 48.6L53.6 50.7L56.6 52.8L59.6 54.6L62.6 56.3L65.6 57.9L68.6 59.4L71.6 60.9L74.6 62.3L77.6 63.6L80.6 64.9L83.6 66.2L86.6 67.4L89.6 68.6L92.6 69.7L95.6 70.9L98.6 72.0L101.6 73.1L104.6 74.2L107.6 75.2L110.6 76.2L113.6 77.0L116.6 77.9L119.6 78.7L122.6 79.4L125.6 80.2L128.6 80.9L131.6 81.7L134.6 82.4L137.6 83.2L140.6 84.0L143.6 84.8L146.6 85.6L149.6 86.5L152.6 87.5L155.6 88.6L158.6 89.8L159.4 90.1L159.9 90.3L160.4 90.5L160.9 90.8L161.4 91.0L161.9 91.2L162.4 91.5L162.9 91.7L163.4 91.9L163.9 92.2L164.4 92.5L165.0 92.7L165.5 93.0L166.0 93.3L166.5 93.5L167.0 93.8L167.5 94.1L168.0 94.4L168.5 94.7L169.0 95.0L169.5 95.4L170.0 95.7L170.5 96.1L171.0 96.4L171.5 96.8L172.0 97.2L172.5 97.6L173.0 98.1L173.5 98.5L174.1 99.0L174.6 99.5L175.1 100.0L175.6 100.5L176.1 101.1L176.6 101.7L177.1 102.4L177.6 103.0L178.1 103.8L178.6 104.6L179.1 105.5L179.6 106.4L180.1 107.4L180.6 108.4L181.1 109.5L181.6 110.5L182.1 111.7L182.7 112.9L183.2 114.2L183.7 115.8L184.2 117.5L184.7 119.7L185.2 122.2L185.7 125.3L186.2 128.8L186.7 132.9L187.2 137.9L187.7 143.7L188.2 150.3L188.5 154.7" stroke="#7E2F8E" stroke-width="0.48" />
<path d="M36.2 8.4L36.9 27.8L37.6 33.0L38.2 35.3L38.9 36.8L39.5 37.9L40.2 38.8L40.8 39.7L41.6 40.7L44.6 43.7L47.6 46.4L50.5 48.7L53.5 50.9L56.5 52.9L59.5 54.7L62.5 56.5L65.5 58.1L68.5 59.6L71.4 61.0L74.4 62.4L77.4 63.8L80.4 65.1L83.4 66.3L86.4 67.6L89.4 68.7L92.3 69.9L95.3 71.1L98.3 72.2L101.3 73.3L104.3 74.4L107.3 75.4L110.3 76.3L113.3 77.2L116.2 78.0L119.2 78.8L122.2 79.6L125.2 80.4L128.2 81.1L131.2 81.8L134.2 82.6L137.1 83.4L140.1 84.2L143.1 85.0L146.1 85.8L149.1 86.7L152.1 87.7L155.1 88.8L158.0 90.0L158.8 90.3L159.3 90.6L159.8 90.8L160.3 91.0L160.8 91.2L161.3 91.5L161.8 91.7L162.3 91.9L162.8 92.2L163.3 92.4L163.8 92.7L164.3 93.0L164.8 93.2L165.4 93.5L165.9 93.8L166.4 94.1L166.9 94.4L167.4 94.7L167.9 95.0L168.4 95.3L168.9 95.6L169.4 96.0L169.9 96.3L170.4 96.7L170.9 97.1L171.4 97.5L171.9 97.9L172.4 98.3L172.9 98.8L173.4 99.2L173.9 99.7L174.4 100.3L174.9 100.8L175.4 101.4L175.9 102.0L176.4 102.6L176.9 103.3L177.4 104.0L177.9 104.9L178.4 105.8L178.9 106.7L179.4 107.7L179.9 108.7L180.4 109.7L181.0 110.8L181.5 111.9L182.0 113.1L182.5 114.5L183.0 116.0L183.5 117.8L184.0 119.9L184.5 122.4L185.0 125.5L185.5 129.0L186.0 133.1L186.5 138.0L187.0 143.8L187.5 150.3L187.9 156.8" stroke="#77AC30" stroke-width="0.48" />
<path d="M36.2 8.4L36.9 27.8L37.6 33.1L38.2 35.3L38.9 36.8L39.5 37.9L40.2 38.8L40.8 39.7L41.6 40.7L44.6 43.8L47.5 46.4L50.5 48.8L53.5 50.9L56.5 52.9L59.5 54.8L62.4 56.5L65.4 58.1L68.4 59.6L71.4 61.1L74.4 62.5L77.3 63.8L80.3 65.1L83.3 66.4L86.3 67.6L89.3 68.8L92.2 70.0L95.2 71.1L98.2 72.3L101.2 73.4L104.2 74.4L107.2 75.5L110.1 76.4L113.1 77.3L116.1 78.1L119.1 78.9L122.1 79.7L125.0 80.4L128.0 81.2L131.0 81.9L134.0 82.7L137.0 83.4L139.9 84.2L142.9 85.0L145.9 85.9L148.9 86.8L151.9 87.8L154.9 88.9L157.8 90.1L158.6 90.4L159.1 90.6L159.6 90.9L160.1 91.1L160.6 91.3L161.1 91.6L161.6 91.8L162.1 92.0L162.6 92.3L163.1 92.5L163.6 92.8L164.1 93.1L164.6 93.3L165.1 93.6L165.6 93.9L166.1 94.2L166.6 94.5L167.1 94.8L167.6 95.1L168.1 95.4L168.6 95.7L169.1 96.1L169.6 96.4L170.1 96.8L170.6 97.2L171.1 97.6L171.7 98.0L172.2 98.4L172.7 98.9L173.2 99.3L173.7 99.8L174.2 100.4L174.7 100.9L175.2 101.5L175.7 102.1L176.2 102.7L176.7 103.4L177.2 104.1L177.7 105.0L178.2 105.8L178.7 106.8L179.2 107.8L179.7 108.8L180.2 109.8L180.7 110.9L181.2 112.0L181.7 113.2L182.2 114.6L182.7 116.1L183.2 117.8L183.7 119.9L184.2 122.5L184.7 125.5L185.2 129.0L185.7 133.1L186.2 138.1L186.7 143.8L187.2 150.4L187.5 154.6" stroke="#4DBEEE" stroke-width="0.48" />
<path d="M36.2 8.4L36.9 28.1L37.5 33.3L38.2 35.6L38.8 37.1L39.5 38.2L40.1 39.1L40.8 40.0L41.5 40.9L44.4 44.0L47.4 46.7L50.3 49.1L53.3 51.3L56.2 53.3L59.2 55.2L62.1 56.9L65.0 58.5L68.0 60.1L70.9 61.5L73.9 62.9L76.8 64.3L79.8 65.6L82.7 66.9L85.6 68.1L88.6 69.3L91.5 70.5L94.5 71.6L97.4 72.8L100.3 73.9L103.3 74.9L106.2 76.0L109.2 76.9L112.1 77.8L115.1 78.6L118.0 79.4L120.9 80.2L123.9 80.9L126.8 81.7L129.8 82.4L132.7 83.2L135.7 84.0L138.6 84.8L141.5 85.6L144.5 86.4L147.4 87.3L150.4 88.3L153.3 89.5L156.3 90.7L157.0 91.0L157.5 91.3L158.0 91.5L158.5 91.7L159.0 92.0L159.5 92.2L160.0 92.4L160.5 92.7L161.0 92.9L161.5 93.2L162.0 93.5L162.5 93.7L163.0 94.0L163.4 94.3L163.9 94.6L164.4 94.8L164.9 95.1L165.4 95.5L165.9 95.8L166.4 96.1L166.9 96.4L167.4 96.8L167.9 97.1L168.4 97.5L168.9 97.9L169.4 98.3L169.9 98.7L170.4 99.1L170.9 99.6L171.4 100.1L171.9 100.6L172.4 101.1L172.9 101.6L173.4 102.2L173.9 102.8L174.4 103.4L174.9 104.1L175.3 104.8L175.8 105.7L176.3 106.5L176.8 107.5L177.3 108.4L177.8 109.4L178.3 110.4L178.8 111.5L179.3 112.6L179.8 113.8L180.3 115.2L180.8 116.7L181.3 118.4L181.8 120.5L182.3 123.0L182.8 126.0L183.3 129.4L183.8 133.5L184.3 138.4L184.8 144.1L185.3 150.5L185.4 153.0" stroke="#0072BD" stroke-width="0.48" />
<path d="M36.2 8.4L36.9 28.2L37.5 33.5L38.2 35.7L38.8 37.2L39.4 38.3L40.1 39.2L40.7 40.1L41.5 41.1L44.4 44.2L47.3 46.8L50.2 49.2L53.2 51.4L56.1 53.5L59.0 55.4L61.9 57.1L64.9 58.7L67.8 60.3L70.7 61.7L73.6 63.1L76.5 64.5L79.5 65.8L82.4 67.1L85.3 68.3L88.2 69.5L91.2 70.7L94.1 71.9L97.0 73.0L99.9 74.1L102.9 75.2L105.8 76.2L108.7 77.1L111.6 78.0L114.6 78.8L117.5 79.6L120.4 80.4L123.3 81.2L126.2 81.9L129.2 82.7L132.1 83.4L135.0 84.2L137.9 85.0L140.9 85.8L143.8 86.7L146.7 87.6L149.6 88.6L152.6 89.8L155.5 91.0L156.2 91.4L156.7 91.6L157.2 91.8L157.7 92.0L158.2 92.3L158.7 92.5L159.2 92.8L159.7 93.0L160.2 93.3L160.7 93.5L161.2 93.8L161.6 94.1L162.1 94.3L162.6 94.6L163.1 94.9L163.6 95.2L164.1 95.5L164.6 95.8L165.1 96.1L165.6 96.4L166.1 96.8L166.6 97.1L167.1 97.5L167.6 97.9L168.0 98.2L168.5 98.6L169.0 99.1L169.5 99.5L170.0 99.9L170.5 100.4L171.0 100.9L171.5 101.4L172.0 102.0L172.5 102.6L173.0 103.2L173.5 103.8L174.0 104.4L174.5 105.2L174.9 106.0L175.4 106.9L175.9 107.8L176.4 108.8L176.9 109.7L177.4 110.8L177.9 111.8L178.4 112.9L178.9 114.1L179.4 115.5L179.9 117.0L180.4 118.7L180.9 120.7L181.3 123.2L181.8 126.2L182.3 129.6L182.8 133.7L183.3 138.5L183.8 144.2L184.3 150.6L184.8 157.3" stroke="#D95319" stroke-width="0.48" />
<path d="M36.2 8.4L36.9 28.3L37.5 33.5L38.2 35.8L38.8 37.3L39.4 38.4L40.1 39.3L40.7 40.2L41.4 41.2L44.4 44.2L47.3 46.9L50.2 49.3L53.1 51.5L56.0 53.6L58.9 55.5L61.8 57.2L64.7 58.9L67.7 60.4L70.6 61.9L73.5 63.3L76.4 64.6L79.3 66.0L82.2 67.2L85.1 68.5L88.0 69.7L90.9 70.9L93.9 72.0L96.8 73.2L99.7 74.3L102.6 75.3L105.5 76.3L108.4 77.3L111.3 78.2L114.2 79.0L117.2 79.8L120.1 80.6L123.0 81.3L125.9 82.1L128.8 82.8L131.7 83.6L134.6 84.4L137.5 85.2L140.4 86.0L143.4 86.8L146.3 87.8L149.2 88.8L152.1 89.9L155.0 91.2L155.8 91.5L156.2 91.8L156.7 92.0L157.2 92.2L157.7 92.5L158.2 92.7L158.7 93.0L159.2 93.2L159.7 93.5L160.2 93.7L160.7 94.0L161.1 94.3L161.6 94.5L162.1 94.8L162.6 95.1L163.1 95.4L163.6 95.7L164.1 96.0L164.6 96.3L165.1 96.7L165.6 97.0L166.1 97.3L166.5 97.7L167.0 98.1L167.5 98.5L168.0 98.9L168.5 99.3L169.0 99.7L169.5 100.2L170.0 100.6L170.5 101.1L171.0 101.7L171.5 102.2L171.9 102.8L172.4 103.4L172.9 104.0L173.4 104.7L173.9 105.4L174.4 106.2L174.9 107.1L175.4 108.0L175.9 109.0L176.4 109.9L176.8 111.0L177.3 112.0L177.8 113.1L178.3 114.3L178.8 115.6L179.3 117.1L179.8 118.9L180.3 120.9L180.8 123.4L181.3 126.3L181.8 129.8L182.2 133.8L182.7 138.6L183.2 144.3L183.7 150.7L184.0 155.0" stroke="#EDB120" stroke-width="0.48" />
<path d="M36.2 8.4L36.9 28.5L37.5 33.7L38.1 35.9L38.8 37.4L39.4 38.5L40.0 39.4L40.7 40.3L41.4 41.3L44.3 44.3L47.2 47.0L50.1 49.5L53.0 51.7L55.9 53.7L58.8 55.6L61.7 57.4L64.6 59.0L67.5 60.6L70.4 62.0L73.3 63.5L76.2 64.8L79.1 66.2L82.0 67.4L84.9 68.7L87.8 69.9L90.7 71.0L93.6 72.2L96.5 73.3L99.4 74.5L102.3 75.5L105.1 76.5L108.0 77.5L110.9 78.4L113.8 79.2L116.7 80.0L119.6 80.8L122.5 81.5L125.4 82.3L128.3 83.0L131.2 83.8L134.1 84.6L137.0 85.4L139.9 86.2L142.8 87.1L145.7 88.0L148.6 89.0L151.5 90.2L154.4 91.4L155.1 91.8L155.6 92.0L156.1 92.2L156.6 92.5L157.1 92.7L157.6 93.0L158.1 93.2L158.6 93.5L159.0 93.7L159.5 94.0L160.0 94.2L160.5 94.5L161.0 94.8L161.5 95.1L162.0 95.4L162.5 95.7L162.9 96.0L163.4 96.3L163.9 96.6L164.4 96.9L164.9 97.3L165.4 97.6L165.9 98.0L166.4 98.4L166.8 98.7L167.3 99.1L167.8 99.6L168.3 100.0L168.8 100.4L169.3 100.9L169.8 101.4L170.3 101.9L170.8 102.5L171.2 103.0L171.7 103.6L172.2 104.3L172.7 104.9L173.2 105.7L173.7 106.5L174.2 107.3L174.7 108.3L175.1 109.2L175.6 110.2L176.1 111.2L176.6 112.2L177.1 113.3L177.6 114.5L178.1 115.9L178.6 117.4L179.1 119.1L179.5 121.1L180.0 123.6L180.5 126.5L181.0 129.9L181.5 133.9L182.0 138.7L182.5 144.4L183.0 150.7L183.4 157.7L183.5 157.9" stroke="#7E2F8E" stroke-width="0.48" />
<path d="M36.2 8.4L36.9 28.7L37.5 33.9L38.1 36.1L38.8 37.6L39.4 38.7L40.0 39.6L40.6 40.5L41.4 41.5L44.2 44.6L47.1 47.3L49.9 49.8L52.8 52.0L55.7 54.1L58.5 56.0L61.4 57.7L64.3 59.4L67.1 60.9L70.0 62.4L72.8 63.8L75.7 65.2L78.6 66.6L81.4 67.8L84.3 69.1L87.2 70.3L90.0 71.5L92.9 72.6L95.8 73.8L98.6 74.9L101.5 76.0L104.3 77.0L107.2 77.9L110.1 78.8L112.9 79.6L115.8 80.4L118.7 81.2L121.5 82.0L124.4 82.7L127.2 83.5L130.1 84.2L133.0 85.0L135.8 85.8L138.7 86.7L141.6 87.5L144.4 88.5L147.3 89.5L150.1 90.7L153.0 92.0L153.7 92.3L154.2 92.6L154.7 92.8L155.2 93.0L155.7 93.3L156.1 93.5L156.6 93.8L157.1 94.0L157.6 94.3L158.1 94.6L158.6 94.8L159.0 95.1L159.5 95.4L160.0 95.7L160.5 96.0L161.0 96.3L161.5 96.6L161.9 96.9L162.4 97.2L162.9 97.5L163.4 97.9L163.9 98.2L164.3 98.6L164.8 99.0L165.3 99.4L165.8 99.8L166.3 100.2L166.8 100.6L167.2 101.1L167.7 101.6L168.2 102.0L168.7 102.6L169.2 103.1L169.7 103.7L170.1 104.3L170.6 104.9L171.1 105.6L171.6 106.3L172.1 107.1L172.5 107.9L173.0 108.9L173.5 109.8L174.0 110.8L174.5 111.8L175.0 112.8L175.4 113.9L175.9 115.1L176.4 116.4L176.9 117.9L177.4 119.6L177.9 121.6L178.3 124.0L178.8 126.9L179.3 130.3L179.8 134.3L180.3 139.0L180.7 144.6L181.2 150.9L181.3 151.5" stroke="#4DBEEE" stroke-width="0.48" />
<path d="M36.2 8.4L36.9 28.8L37.5 34.0L38.1 36.2L38.7 37.7L39.4 38.8L40.0 39.7L40.6 40.6L41.3 41.6L44.2 44.7L47.0 47.4L49.9 49.9L52.7 52.1L55.6 54.2L58.4 56.1L61.3 57.9L64.1 59.5L67.0 61.1L69.8 62.6L72.7 64.0L75.5 65.4L78.4 66.7L81.2 68.0L84.1 69.2L86.9 70.4L89.8 71.6L92.6 72.8L95.5 73.9L98.4 75.0L101.2 76.1L104.1 77.1L106.9 78.1L109.8 78.9L112.6 79.8L115.5 80.6L118.3 81.3L121.2 82.1L124.0 82.9L126.9 83.6L129.7 84.4L132.6 85.2L135.4 86.0L138.3 86.8L141.1 87.7L144.0 88.6L146.8 89.7L149.7 90.9L152.5 92.2L153.2 92.5L153.7 92.8L154.2 93.0L154.7 93.2L155.2 93.5L155.6 93.7L156.1 94.0L156.6 94.2L157.1 94.5L157.6 94.8L158.0 95.0L158.5 95.3L159.0 95.6L159.5 95.9L160.0 96.2L160.4 96.5L160.9 96.8L161.4 97.1L161.9 97.4L162.4 97.8L162.8 98.1L163.3 98.5L163.8 98.8L164.3 99.2L164.8 99.6L165.3 100.0L165.7 100.4L166.2 100.8L166.7 101.3L167.2 101.8L167.7 102.3L168.1 102.8L168.6 103.3L169.1 103.9L169.6 104.5L170.1 105.1L170.5 105.8L171.0 106.5L171.5 107.3L172.0 108.2L172.5 109.1L172.9 110.0L173.4 111.0L173.9 112.0L174.4 113.0L174.9 114.1L175.3 115.3L175.8 116.6L176.3 118.1L176.8 119.7L177.3 121.7L177.7 124.2L178.2 127.1L178.7 130.4L179.2 134.4L179.7 139.1L180.1 144.6L180.6 150.9L180.6 151.0" stroke="#A2142F" stroke-width="0.48" />
<path d="M36.2 8.4L36.9 28.9L37.5 34.0L38.1 36.3L38.7 37.8L39.4 38.8L40.0 39.7L40.6 40.6L41.3 41.6L44.2 44.7L47.0 47.4L49.9 49.9L52.7 52.1L55.5 54.2L58.4 56.2L61.2 57.9L64.1 59.6L66.9 61.2L69.8 62.6L72.6 64.1L75.4 65.5L78.3 66.8L81.1 68.1L84.0 69.3L86.8 70.5L89.7 71.7L92.5 72.9L95.3 74.0L98.2 75.1L101.0 76.2L103.9 77.2L106.7 78.2L109.6 79.0L112.4 79.8L115.2 80.7L118.1 81.4L120.9 82.2L123.8 83.0L126.6 83.7L129.5 84.5L132.3 85.3L135.1 86.1L138.0 86.9L140.8 87.8L143.7 88.8L146.5 89.8L149.4 91.0L152.2 92.3L152.9 92.7L153.4 92.9L153.9 93.1L154.4 93.4L154.8 93.6L155.3 93.9L155.8 94.1L156.3 94.4L156.8 94.6L157.2 94.9L157.7 95.2L158.2 95.4L158.7 95.7L159.2 96.0L159.6 96.3L160.1 96.6L160.6 96.9L161.1 97.2L161.5 97.6L162.0 97.9L162.5 98.2L163.0 98.6L163.5 99.0L163.9 99.3L164.4 99.7L164.9 100.1L165.4 100.6L165.9 101.0L166.3 101.4L166.8 101.9L167.3 102.4L167.8 102.9L168.3 103.5L168.7 104.0L169.2 104.6L169.7 105.3L170.2 105.9L170.7 106.6L171.1 107.4L171.6 108.3L172.1 109.2L172.6 110.1L173.0 111.1L173.5 112.1L174.0 113.1L174.5 114.2L175.0 115.4L175.4 116.7L175.9 118.2L176.4 119.9L176.9 121.9L177.4 124.3L177.8 127.2L178.3 130.5L178.8 134.4L179.3 139.2L179.8 144.7L180.2 150.9L180.7 157.9L180.8 158.6" stroke="#0072BD" stroke-width="0.48" />
<path d="M36.2 8.4L36.9 28.9L37.5 34.1L38.1 36.4L38.7 37.8L39.3 38.9L40.0 39.8L40.6 40.7L41.3 41.7L44.1 44.8L47.0 47.5L49.8 50.0L52.6 52.2L55.5 54.3L58.3 56.3L61.1 58.1L64.0 59.7L66.8 61.3L69.6 62.8L72.5 64.2L75.3 65.6L78.1 66.9L81.0 68.2L83.8 69.5L86.6 70.7L89.5 71.9L92.3 73.0L95.1 74.2L97.9 75.3L100.8 76.4L103.6 77.4L106.4 78.3L109.3 79.2L112.1 80.0L114.9 80.8L117.8 81.6L120.6 82.3L123.4 83.1L126.3 83.9L129.1 84.6L131.9 85.4L134.8 86.3L137.6 87.1L140.4 88.0L143.3 88.9L146.1 90.0L148.9 91.2L151.8 92.5L152.5 92.8L153.0 93.1L153.4 93.3L153.9 93.5L154.4 93.8L154.9 94.0L155.3 94.3L155.8 94.6L156.3 94.8L156.8 95.1L157.3 95.4L157.7 95.6L158.2 95.9L158.7 96.2L159.2 96.5L159.6 96.8L160.1 97.1L160.6 97.4L161.1 97.8L161.6 98.1L162.0 98.4L162.5 98.8L163.0 99.2L163.5 99.5L163.9 99.9L164.4 100.3L164.9 100.8L165.4 101.2L165.8 101.6L166.3 102.1L166.8 102.6L167.3 103.1L167.8 103.7L168.2 104.2L168.7 104.8L169.2 105.5L169.7 106.1L170.1 106.8L170.6 107.6L171.1 108.5L171.6 109.4L172.1 110.3L172.5 111.3L173.0 112.3L173.5 113.3L174.0 114.4L174.4 115.6L174.9 116.9L175.4 118.3L175.9 120.0L176.3 122.0L176.8 124.4L177.3 127.3L177.8 130.6L178.3 134.5L178.7 139.2L179.2 144.8L179.7 151.0L179.9 154.5" stroke="#D95319" stroke-width="0.48" />
<path d="M36.2 8.4L36.9 29.2L37.5 34.3L38.1 36.6L38.7 38.1L39.3 39.1L39.9 40.0L40.5 40.9L41.2 41.9L44.0 45.0L46.9 47.8L49.7 50.3L52.5 52.5L55.3 54.6L58.1 56.6L60.9 58.4L63.7 60.0L66.5 61.6L69.3 63.1L72.1 64.6L74.9 66.0L77.7 67.3L80.5 68.6L83.3 69.9L86.1 71.1L88.9 72.3L91.7 73.4L94.5 74.6L97.3 75.7L100.1 76.8L102.9 77.8L105.7 78.7L108.5 79.6L111.3 80.4L114.1 81.2L116.9 82.0L119.7 82.7L122.5 83.5L125.3 84.3L128.1 85.0L130.9 85.9L133.7 86.7L136.5 87.5L139.3 88.4L142.1 89.4L144.9 90.4L147.7 91.6L150.5 93.0L151.2 93.3L151.7 93.6L152.1 93.8L152.6 94.1L153.1 94.3L153.6 94.6L154.0 94.8L154.5 95.1L155.0 95.3L155.5 95.6L155.9 95.9L156.4 96.2L156.9 96.5L157.3 96.7L157.8 97.0L158.3 97.4L158.8 97.7L159.2 98.0L159.7 98.3L160.2 98.7L160.6 99.0L161.1 99.4L161.6 99.7L162.1 100.1L162.5 100.5L163.0 100.9L163.5 101.3L163.9 101.8L164.4 102.2L164.9 102.7L165.4 103.2L165.8 103.7L166.3 104.3L166.8 104.8L167.3 105.4L167.7 106.0L168.2 106.7L168.7 107.4L169.1 108.2L169.6 109.0L170.1 109.9L170.6 110.9L171.0 111.8L171.5 112.8L172.0 113.8L172.4 114.9L172.9 116.1L173.4 117.4L173.9 118.8L174.3 120.5L174.8 122.4L175.3 124.8L175.7 127.7L176.2 131.0L176.7 134.8L177.2 139.5L177.6 144.9L178.1 151.1L178.5 156.5" stroke="#7E2F8E" stroke-width="0.48" />
<path d="M36.2 8.4L36.9 29.3L37.5 34.4L38.1 36.7L38.7 38.2L39.3 39.2L39.9 40.1L40.5 41.0L41.2 42.0L44.0 45.1L46.8 47.9L49.6 50.4L52.4 52.7L55.1 54.8L57.9 56.8L60.7 58.5L63.5 60.2L66.3 61.8L69.1 63.3L71.9 64.8L74.6 66.2L77.4 67.5L80.2 68.8L83.0 70.1L85.8 71.3L88.6 72.5L91.3 73.6L94.1 74.8L96.9 75.9L99.7 77.0L102.5 78.0L105.3 78.9L108.1 79.8L110.8 80.6L113.6 81.4L116.4 82.2L119.2 82.9L122.0 83.7L124.8 84.5L127.5 85.3L130.3 86.1L133.1 86.9L135.9 87.7L138.7 88.6L141.5 89.6L144.3 90.7L147.0 91.9L149.8 93.2L150.5 93.6L151.0 93.8L151.5 94.1L151.9 94.3L152.4 94.6L152.9 94.8L153.3 95.1L153.8 95.4L154.3 95.6L154.8 95.9L155.2 96.2L155.7 96.5L156.2 96.7L156.6 97.0L157.1 97.3L157.6 97.6L158.0 98.0L158.5 98.3L159.0 98.6L159.4 99.0L159.9 99.3L160.4 99.7L160.9 100.0L161.3 100.4L161.8 100.8L162.3 101.2L162.7 101.6L163.2 102.1L163.7 102.5L164.1 103.0L164.6 103.5L165.1 104.0L165.5 104.6L166.0 105.1L166.5 105.7L167.0 106.3L167.4 107.0L167.9 107.7L168.4 108.5L168.8 109.3L169.3 110.2L169.8 111.1L170.2 112.1L170.7 113.1L171.2 114.1L171.6 115.2L172.1 116.3L172.6 117.6L173.1 119.1L173.5 120.7L174.0 122.7L174.5 125.0L174.9 127.9L175.4 131.2L175.9 135.0L176.3 139.6L176.8 145.0L177.3 151.2L177.7 156.7" stroke="#77AC30" stroke-width="0.48" />
<path d="M36.2 8.4L36.9 29.4L37.5 34.5L38.1 36.7L38.7 38.2L39.3 39.3L39.9 40.2L40.5 41.1L41.2 42.1L44.0 45.2L46.8 47.9L49.5 50.5L52.3 52.7L55.1 54.9L57.9 56.8L60.7 58.6L63.4 60.3L66.2 61.9L69.0 63.4L71.8 64.8L74.5 66.2L77.3 67.6L80.1 68.9L82.9 70.1L85.6 71.4L88.4 72.5L91.2 73.7L94.0 74.9L96.8 76.0L99.5 77.0L102.3 78.1L105.1 79.0L107.9 79.9L110.6 80.7L113.4 81.5L116.2 82.3L119.0 83.0L121.8 83.8L124.5 84.6L127.3 85.4L130.1 86.2L132.9 87.0L135.6 87.8L138.4 88.7L141.2 89.7L144.0 90.8L146.8 92.0L149.5 93.3L150.2 93.7L150.7 93.9L151.2 94.2L151.6 94.4L152.1 94.7L152.6 94.9L153.1 95.2L153.5 95.5L154.0 95.7L154.5 96.0L154.9 96.3L155.4 96.6L155.9 96.9L156.3 97.2L156.8 97.5L157.3 97.8L157.7 98.1L158.2 98.4L158.7 98.7L159.1 99.1L159.6 99.4L160.1 99.8L160.5 100.2L161.0 100.6L161.5 100.9L161.9 101.4L162.4 101.8L162.9 102.2L163.4 102.7L163.8 103.1L164.3 103.6L164.8 104.2L165.2 104.7L165.7 105.3L166.2 105.8L166.6 106.5L167.1 107.1L167.6 107.8L168.0 108.6L168.5 109.5L169.0 110.3L169.4 111.3L169.9 112.2L170.4 113.2L170.8 114.2L171.3 115.3L171.8 116.4L172.2 117.7L172.7 119.2L173.2 120.8L173.6 122.8L174.1 125.1L174.6 128.0L175.1 131.2L175.5 135.1L176.0 139.7L176.5 145.1L176.9 151.2L177.3 157.2" stroke="#4DBEEE" stroke-width="0.48" />
<path d="M36.2 8.4L36.9 29.4L37.5 34.6L38.1 36.8L38.7 38.3L39.3 39.4L39.9 40.3L40.5 41.1L41.2 42.1L44.0 45.2L46.7 48.0L49.5 50.5L52.3 52.8L55.0 55.0L57.8 56.9L60.6 58.7L63.3 60.4L66.1 62.0L68.9 63.5L71.6 64.9L74.4 66.4L77.2 67.7L79.9 69.0L82.7 70.3L85.5 71.5L88.2 72.7L91.0 73.8L93.8 75.0L96.5 76.1L99.3 77.2L102.1 78.2L104.8 79.1L107.6 80.0L110.4 80.8L113.1 81.6L115.9 82.4L118.7 83.2L121.5 83.9L124.2 84.7L127.0 85.5L129.8 86.3L132.5 87.1L135.3 88.0L138.1 88.9L140.8 89.8L143.6 90.9L146.4 92.1L149.1 93.5L149.8 93.9L150.3 94.1L150.8 94.4L151.2 94.6L151.7 94.9L152.2 95.1L152.6 95.4L153.1 95.6L153.6 95.9L154.0 96.2L154.5 96.5L155.0 96.7L155.4 97.0L155.9 97.3L156.4 97.6L156.8 97.9L157.3 98.3L157.8 98.6L158.2 98.9L158.7 99.3L159.2 99.6L159.6 100.0L160.1 100.4L160.6 100.7L161.0 101.1L161.5 101.5L162.0 102.0L162.4 102.4L162.9 102.9L163.4 103.3L163.8 103.8L164.3 104.3L164.8 104.9L165.2 105.4L165.7 106.0L166.2 106.6L166.6 107.3L167.1 108.0L167.6 108.8L168.0 109.6L168.5 110.5L169.0 111.4L169.4 112.4L169.9 113.3L170.4 114.4L170.8 115.4L171.3 116.6L171.8 117.9L172.2 119.3L172.7 121.0L173.1 122.9L173.6 125.2L174.1 128.1L174.5 131.3L175.0 135.2L175.5 139.8L175.9 145.2L176.4 151.3L176.9 158.0L176.9 158.2" stroke="#A2142F" stroke-width="0.48" />
<path d="M36.2 8.4L36.9 29.2L37.5 34.3L38.1 36.6L38.7 38.1L39.3 39.1L39.9 40.0L40.5 40.9L41.2 41.9L44.0 45.0L46.8 47.8L49.6 50.3L52.4 52.5L55.2 54.6L58.0 56.6L60.8 58.4L63.6 60.1L66.4 61.6L69.2 63.1L72.1 64.6L74.9 66.0L77.7 67.3L80.5 68.6L83.3 69.9L86.1 71.1L88.9 72.3L91.7 73.4L94.5 74.6L97.3 75.7L100.1 76.8L102.9 77.8L105.7 78.7L108.5 79.6L111.3 80.4L114.1 81.2L116.9 82.0L119.7 82.7L122.5 83.5L125.3 84.3L128.1 85.1L130.9 85.9L133.7 86.7L136.5 87.5L139.3 88.4L142.1 89.4L144.9 90.4L147.7 91.6L150.5 93.0L151.2 93.3L151.6 93.6L152.1 93.8L152.6 94.1L153.1 94.3L153.5 94.6L154.0 94.8L154.5 95.1L154.9 95.4L155.4 95.6L155.9 95.9L156.4 96.2L156.8 96.5L157.3 96.8L157.8 97.1L158.3 97.4L158.7 97.7L159.2 98.0L159.7 98.3L160.1 98.7L160.6 99.0L161.1 99.4L161.6 99.8L162.0 100.1L162.5 100.5L163.0 100.9L163.4 101.4L163.9 101.8L164.4 102.2L164.9 102.7L165.3 103.2L165.8 103.7L166.3 104.3L166.7 104.8L167.2 105.4L167.7 106.0L168.2 106.7L168.6 107.4L169.1 108.2L169.6 109.1L170.0 109.9L170.5 110.9L171.0 111.8L171.5 112.8L171.9 113.8L172.4 114.9L172.9 116.1L173.3 117.4L173.8 118.8L174.3 120.5L174.8 122.4L175.2 124.8L175.7 127.7L176.2 131.0L176.7 134.9L177.1 139.5L177.6 145.0L178.1 151.1L178.5 157.9" stroke="#D95319" stroke-width="0.48" />
<path d="M36.2 8.4L36.9 29.3L37.5 34.5L38.1 36.7L38.7 38.2L39.3 39.3L39.9 40.2L40.5 41.1L41.2 42.0L44.0 45.2L46.8 47.9L49.5 50.5L52.3 52.7L55.1 54.9L57.9 56.8L60.7 58.6L63.4 60.3L66.2 61.9L69.0 63.4L71.8 64.8L74.5 66.2L77.3 67.6L80.1 68.9L82.9 70.1L85.7 71.3L88.4 72.5L91.2 73.7L94.0 74.9L96.8 76.0L99.6 77.0L102.3 78.1L105.1 79.0L107.9 79.9L110.7 80.7L113.4 81.5L116.2 82.3L119.0 83.0L121.8 83.8L124.6 84.6L127.3 85.3L130.1 86.2L132.9 87.0L135.7 87.8L138.5 88.7L141.2 89.7L144.0 90.8L146.8 92.0L149.6 93.3L150.3 93.7L150.7 93.9L151.2 94.2L151.7 94.4L152.1 94.7L152.6 94.9L153.1 95.2L153.6 95.5L154.0 95.7L154.5 96.0L155.0 96.3L155.4 96.6L155.9 96.8L156.4 97.1L156.8 97.4L157.3 97.8L157.8 98.1L158.2 98.4L158.7 98.7L159.2 99.1L159.6 99.4L160.1 99.8L160.6 100.2L161.0 100.5L161.5 100.9L162.0 101.3L162.4 101.8L162.9 102.2L163.4 102.6L163.9 103.1L164.3 103.6L164.8 104.1L165.3 104.7L165.7 105.2L166.2 105.8L166.7 106.4L167.1 107.1L167.6 107.8L168.1 108.6L168.5 109.4L169.0 110.3L169.5 111.2L169.9 112.2L170.4 113.2L170.9 114.2L171.3 115.3L171.8 116.4L172.3 117.7L172.7 119.2L173.2 120.8L173.7 122.8L174.2 125.1L174.6 127.9L175.1 131.2L175.6 135.1L176.0 139.7L176.5 145.1L177.0 151.2L177.3 155.5" stroke="#EDB120" stroke-width="0.48" />
<path d="M36.2 8.4L36.9 29.4L37.5 34.6L38.1 36.8L38.7 38.3L39.3 39.4L39.9 40.3L40.5 41.1L41.2 42.1L44.0 45.2L46.7 48.0L49.5 50.5L52.3 52.8L55.0 55.0L57.8 56.9L60.6 58.7L63.3 60.4L66.1 62.0L68.9 63.5L71.6 65.0L74.4 66.4L77.2 67.7L79.9 69.0L82.7 70.3L85.5 71.5L88.2 72.7L91.0 73.9L93.8 75.0L96.5 76.1L99.3 77.2L102.1 78.2L104.8 79.1L107.6 80.0L110.4 80.8L113.1 81.6L115.9 82.4L118.7 83.2L121.4 83.9L124.2 84.7L127.0 85.5L129.7 86.3L132.5 87.1L135.3 88.0L138.0 88.9L140.8 89.8L143.6 90.9L146.3 92.2L149.1 93.5L149.8 93.9L150.3 94.1L150.7 94.4L151.2 94.6L151.7 94.9L152.1 95.1L152.6 95.4L153.1 95.7L153.5 95.9L154.0 96.2L154.5 96.5L154.9 96.8L155.4 97.1L155.9 97.3L156.3 97.6L156.8 98.0L157.3 98.3L157.7 98.6L158.2 98.9L158.7 99.3L159.1 99.6L159.6 100.0L160.1 100.4L160.5 100.8L161.0 101.1L161.5 101.6L161.9 102.0L162.4 102.4L162.9 102.9L163.3 103.3L163.8 103.8L164.3 104.4L164.7 104.9L165.2 105.5L165.7 106.0L166.1 106.7L166.6 107.3L167.0 108.0L167.5 108.8L168.0 109.6L168.4 110.5L168.9 111.4L169.4 112.4L169.8 113.4L170.3 114.4L170.8 115.4L171.2 116.6L171.7 117.9L172.2 119.3L172.6 121.0L173.1 122.9L173.6 125.3L174.0 128.1L174.5 131.4L175.0 135.2L175.4 139.8L175.9 145.2L176.4 151.3L176.6 154.8" stroke="#7E2F8E" stroke-width="0.48" />
<path d="M36.2 8.4L36.9 29.6L37.5 34.7L38.1 37.0L38.7 38.4L39.3 39.5L39.9 40.4L40.5 41.3L41.2 42.3L43.9 45.4L46.6 48.2L49.4 50.7L52.1 53.0L54.9 55.2L57.6 57.1L60.4 58.9L63.1 60.6L65.9 62.2L68.6 63.7L71.4 65.2L74.1 66.6L76.9 67.9L79.6 69.3L82.4 70.5L85.1 71.7L87.9 72.9L90.6 74.1L93.4 75.3L96.1 76.4L98.8 77.4L101.6 78.4L104.3 79.4L107.1 80.2L109.8 81.1L112.6 81.9L115.3 82.6L118.1 83.4L120.8 84.2L123.6 85.0L126.3 85.8L129.1 86.6L131.8 87.4L134.6 88.3L137.3 89.1L140.1 90.1L142.8 91.2L145.6 92.5L148.3 93.8L149.0 94.2L149.5 94.4L149.9 94.7L150.4 94.9L150.9 95.2L151.3 95.5L151.8 95.7L152.2 96.0L152.7 96.3L153.2 96.5L153.6 96.8L154.1 97.1L154.6 97.4L155.0 97.7L155.5 98.0L155.9 98.3L156.4 98.6L156.9 99.0L157.3 99.3L157.8 99.6L158.3 100.0L158.7 100.4L159.2 100.7L159.7 101.1L160.1 101.5L160.6 101.9L161.0 102.3L161.5 102.8L162.0 103.2L162.4 103.7L162.9 104.2L163.4 104.7L163.8 105.3L164.3 105.8L164.7 106.4L165.2 107.0L165.7 107.7L166.1 108.4L166.6 109.2L167.1 110.0L167.5 110.9L168.0 111.8L168.4 112.7L168.9 113.7L169.4 114.7L169.8 115.8L170.3 116.9L170.8 118.2L171.2 119.6L171.7 121.3L172.1 123.2L172.6 125.5L173.1 128.3L173.5 131.6L174.0 135.4L174.5 139.9L174.9 145.3L175.3 150.3" stroke="#77AC30" stroke-width="0.48" />
<path d="M36.2 8.4L36.8 29.7L37.4 34.9L38.0 37.1L38.6 38.6L39.2 39.7L39.8 40.5L40.4 41.4L41.1 42.4L43.8 45.5L46.6 48.3L49.3 50.9L52.0 53.2L54.7 55.4L57.5 57.3L60.2 59.1L62.9 60.8L65.6 62.4L68.4 64.0L71.1 65.4L73.8 66.8L76.6 68.2L79.3 69.5L82.0 70.8L84.7 72.0L87.5 73.2L90.2 74.4L92.9 75.5L95.6 76.6L98.4 77.7L101.1 78.7L103.8 79.7L106.5 80.5L109.3 81.3L112.0 82.1L114.7 82.9L117.4 83.7L120.2 84.5L122.9 85.2L125.6 86.0L128.3 86.9L131.1 87.7L133.8 88.5L136.5 89.4L139.3 90.4L142.0 91.5L144.7 92.8L147.4 94.2L148.1 94.5L148.6 94.8L149.0 95.0L149.5 95.3L150.0 95.6L150.4 95.8L150.9 96.1L151.3 96.3L151.8 96.6L152.3 96.9L152.7 97.2L153.2 97.5L153.6 97.8L154.1 98.1L154.6 98.4L155.0 98.7L155.5 99.0L155.9 99.3L156.4 99.7L156.9 100.0L157.3 100.4L157.8 100.7L158.2 101.1L158.7 101.5L159.1 101.9L159.6 102.3L160.1 102.7L160.5 103.2L161.0 103.6L161.4 104.1L161.9 104.6L162.4 105.1L162.8 105.7L163.3 106.2L163.7 106.8L164.2 107.4L164.7 108.1L165.1 108.8L165.6 109.5L166.0 110.4L166.5 111.2L167.0 112.1L167.4 113.1L167.9 114.0L168.3 115.0L168.8 116.1L169.3 117.3L169.7 118.5L170.2 120.0L170.6 121.6L171.1 123.5L171.5 125.8L172.0 128.6L172.5 131.8L172.9 135.6L173.4 140.1L173.8 145.4L174.3 151.4L174.4 153.3" stroke="#A2142F" stroke-width="0.48" />
<path d="M36.2 8.4L36.8 29.8L37.4 34.9L38.0 37.2L38.6 38.6L39.2 39.7L39.8 40.6L40.4 41.5L41.1 42.5L43.8 45.6L46.5 48.4L49.3 51.0L52.0 53.3L54.7 55.4L57.4 57.4L60.1 59.2L62.8 60.9L65.6 62.5L68.3 64.1L71.0 65.5L73.7 66.9L76.4 68.3L79.1 69.6L81.9 70.9L84.6 72.1L87.3 73.3L90.0 74.5L92.7 75.6L95.5 76.7L98.2 77.8L100.9 78.8L103.6 79.8L106.3 80.6L109.0 81.4L111.8 82.2L114.5 83.0L117.2 83.8L119.9 84.6L122.6 85.3L125.4 86.1L128.1 87.0L130.8 87.8L133.5 88.7L136.2 89.6L138.9 90.5L141.7 91.6L144.4 92.9L147.1 94.3L147.8 94.7L148.2 94.9L148.7 95.2L149.2 95.4L149.6 95.7L150.1 95.9L150.5 96.2L151.0 96.5L151.5 96.8L151.9 97.0L152.4 97.3L152.8 97.6L153.3 97.9L153.7 98.2L154.2 98.5L154.7 98.8L155.1 99.1L155.6 99.5L156.0 99.8L156.5 100.2L156.9 100.5L157.4 100.9L157.9 101.3L158.3 101.7L158.8 102.1L159.2 102.5L159.7 102.9L160.2 103.3L160.6 103.8L161.1 104.3L161.5 104.8L162.0 105.3L162.4 105.8L162.9 106.4L163.4 107.0L163.8 107.6L164.3 108.2L164.7 108.9L165.2 109.7L165.6 110.5L166.1 111.4L166.6 112.3L167.0 113.2L167.5 114.2L167.9 115.2L168.4 116.2L168.9 117.4L169.3 118.7L169.8 120.1L170.2 121.7L170.7 123.6L171.1 125.9L171.6 128.7L172.1 131.9L172.5 135.6L173.0 140.2L173.4 145.5L173.9 151.5L174.1 153.8" stroke="#0072BD" stroke-width="0.48" />
<path d="M36.2 8.4L36.8 29.7L37.4 34.9L38.0 37.1L38.6 38.6L39.2 39.7L39.8 40.5L40.4 41.4L41.1 42.4L43.8 45.5L46.6 48.3L49.3 50.9L52.0 53.2L54.7 55.4L57.5 57.3L60.2 59.1L62.9 60.8L65.6 62.4L68.4 64.0L71.1 65.4L73.8 66.8L76.6 68.2L79.3 69.5L82.0 70.8L84.7 72.0L87.5 73.2L90.2 74.4L92.9 75.5L95.6 76.6L98.4 77.7L101.1 78.7L103.8 79.7L106.5 80.5L109.3 81.3L112.0 82.1L114.7 82.9L117.4 83.7L120.2 84.5L122.9 85.2L125.6 86.0L128.4 86.9L131.1 87.7L133.8 88.5L136.5 89.4L139.3 90.4L142.0 91.5L144.7 92.8L147.4 94.2L148.1 94.5L148.6 94.8L149.0 95.0L149.5 95.3L150.0 95.5L150.4 95.8L150.9 96.1L151.3 96.3L151.8 96.6L152.3 96.9L152.7 97.2L153.2 97.5L153.6 97.8L154.1 98.1L154.6 98.4L155.0 98.7L155.5 99.0L155.9 99.3L156.4 99.7L156.9 100.0L157.3 100.4L157.8 100.7L158.2 101.1L158.7 101.5L159.2 101.9L159.6 102.3L160.1 102.7L160.5 103.2L161.0 103.6L161.4 104.1L161.9 104.6L162.4 105.1L162.8 105.7L163.3 106.2L163.7 106.8L164.2 107.4L164.7 108.1L165.1 108.8L165.6 109.5L166.0 110.4L166.5 111.2L167.0 112.1L167.4 113.1L167.9 114.0L168.3 115.0L168.8 116.1L169.3 117.3L169.7 118.5L170.2 120.0L170.6 121.6L171.1 123.5L171.6 125.8L172.0 128.6L172.5 131.8L172.9 135.6L173.4 140.1L173.9 145.4L174.2 150.5" stroke="#D95319" stroke-width="0.48" />
<path d="M36.2 8.4L36.8 29.8L37.4 34.9L38.0 37.2L38.6 38.6L39.2 39.7L39.8 40.6L40.4 41.5L41.1 42.5L43.8 45.6L46.5 48.4L49.3 51.0L52.0 53.3L54.7 55.4L57.4 57.4L60.1 59.2L62.8 60.9L65.6 62.5L68.3 64.1L71.0 65.5L73.7 66.9L76.4 68.3L79.2 69.6L81.9 70.9L84.6 72.1L87.3 73.3L90.0 74.5L92.7 75.6L95.5 76.7L98.2 77.8L100.9 78.8L103.6 79.8L106.3 80.6L109.1 81.4L111.8 82.2L114.5 83.0L117.2 83.8L119.9 84.6L122.6 85.3L125.4 86.1L128.1 87.0L130.8 87.8L133.5 88.7L136.2 89.6L139.0 90.5L141.7 91.6L144.4 92.9L147.1 94.3L147.8 94.7L148.3 94.9L148.7 95.2L149.2 95.4L149.6 95.7L150.1 95.9L150.6 96.2L151.0 96.5L151.5 96.8L151.9 97.0L152.4 97.3L152.8 97.6L153.3 97.9L153.8 98.2L154.2 98.5L154.7 98.8L155.1 99.1L155.6 99.5L156.0 99.8L156.5 100.2L157.0 100.5L157.4 100.9L157.9 101.3L158.3 101.7L158.8 102.0L159.3 102.5L159.7 102.9L160.2 103.3L160.6 103.8L161.1 104.2L161.5 104.7L162.0 105.3L162.5 105.8L162.9 106.4L163.4 106.9L163.8 107.6L164.3 108.2L164.7 108.9L165.2 109.7L165.7 110.5L166.1 111.4L166.6 112.3L167.0 113.2L167.5 114.2L168.0 115.2L168.4 116.2L168.9 117.4L169.3 118.7L169.8 120.1L170.2 121.7L170.7 123.6L171.2 125.9L171.6 128.7L172.1 131.9L172.5 135.6L173.0 140.2L173.5 145.5L173.9 151.5L174.4 158.1L174.4 158.9" stroke="#EDB120" stroke-width="0.48" />
<path d="M36.2 8.4L36.9 29.6L37.5 34.7L38.1 36.9L38.7 38.4L39.3 39.5L39.9 40.4L40.5 41.3L41.2 42.2L43.9 45.4L46.7 48.2L49.4 50.7L52.1 53.0L54.9 55.1L57.6 57.1L60.4 58.9L63.1 60.6L65.9 62.2L68.6 63.7L71.4 65.2L74.1 66.6L76.9 67.9L79.6 69.2L82.4 70.5L85.1 71.7L87.9 72.9L90.6 74.1L93.4 75.2L96.1 76.4L98.9 77.4L101.6 78.4L104.4 79.4L107.1 80.2L109.9 81.0L112.6 81.8L115.4 82.6L118.1 83.4L120.9 84.2L123.6 84.9L126.4 85.7L129.1 86.6L131.9 87.4L134.6 88.2L137.4 89.1L140.1 90.1L142.9 91.2L145.6 92.4L148.4 93.8L149.1 94.2L149.5 94.4L150.0 94.7L150.4 94.9L150.9 95.2L151.4 95.4L151.8 95.7L152.3 96.0L152.8 96.2L153.2 96.5L153.7 96.8L154.1 97.1L154.6 97.4L155.1 97.7L155.5 98.0L156.0 98.3L156.5 98.6L156.9 98.9L157.4 99.3L157.9 99.6L158.3 100.0L158.8 100.3L159.2 100.7L159.7 101.1L160.2 101.5L160.6 101.9L161.1 102.3L161.6 102.8L162.0 103.2L162.5 103.7L162.9 104.2L163.4 104.7L163.9 105.2L164.3 105.8L164.8 106.4L165.3 107.0L165.7 107.7L166.2 108.4L166.7 109.1L167.1 110.0L167.6 110.8L168.0 111.8L168.5 112.7L169.0 113.7L169.4 114.7L169.9 115.7L170.4 116.9L170.8 118.2L171.3 119.6L171.7 121.2L172.2 123.2L172.7 125.5L173.1 128.3L173.6 131.6L174.1 135.3L174.5 139.9L175.0 145.3L175.5 151.3L175.9 157.2" stroke="#77AC30" stroke-width="0.48" />
<path d="M36.2 8.4L36.9 28.0L37.5 33.2L38.2 35.5L38.8 37.0L39.5 38.0L40.1 39.0L40.8 39.9L41.5 40.8L44.5 43.9L47.4 46.6L50.4 49.0L53.4 51.1L56.3 53.1L59.3 55.0L62.2 56.7L65.2 58.4L68.2 59.9L71.1 61.3L74.1 62.7L77.0 64.1L80.0 65.4L83.0 66.7L85.9 67.9L88.9 69.1L91.8 70.3L94.8 71.4L97.7 72.6L100.7 73.7L103.7 74.7L106.6 75.7L109.6 76.7L112.5 77.6L115.5 78.4L118.5 79.2L121.4 80.0L124.4 80.7L127.3 81.5L130.3 82.2L133.3 83.0L136.2 83.7L139.2 84.5L142.1 85.3L145.1 86.2L148.0 87.1L151.0 88.1L154.0 89.2L156.9 90.5L157.7 90.8L158.2 91.0L158.7 91.2L159.2 91.5L159.7 91.7L160.2 91.9L160.7 92.2L161.2 92.4L161.7 92.7L162.2 92.9L162.7 93.2L163.2 93.4L163.7 93.7L164.2 94.0L164.7 94.3L165.2 94.6L165.7 94.9L166.2 95.2L166.7 95.5L167.1 95.8L167.6 96.1L168.1 96.5L168.6 96.8L169.1 97.2L169.6 97.6L170.1 98.0L170.6 98.4L171.1 98.8L171.6 99.3L172.1 99.8L172.6 100.3L173.1 100.8L173.6 101.3L174.1 101.9L174.6 102.5L175.1 103.1L175.6 103.8L176.1 104.5L176.6 105.4L177.1 106.2L177.6 107.2L178.1 108.1L178.6 109.2L179.1 110.2L179.6 111.2L180.1 112.3L180.6 113.6L181.1 114.9L181.6 116.4L182.1 118.2L182.6 120.2L183.1 122.8L183.6 125.8L184.1 129.3L184.6 133.3L185.1 138.2L185.6 144.0L186.1 150.5L186.5 156.4" stroke="#4DBEEE" stroke-width="0.48" />
<path d="M36.2 8.4L36.9 28.7L37.5 33.9L38.1 36.2L38.7 37.7L39.4 38.7L40.0 39.6L40.6 40.5L41.4 41.5L44.2 44.6L47.1 47.3L49.9 49.8L52.8 52.0L55.6 54.1L58.5 56.0L61.4 57.8L64.2 59.4L67.1 61.0L69.9 62.5L72.8 63.9L75.7 65.3L78.5 66.6L81.4 67.9L84.2 69.1L87.1 70.3L90.0 71.5L92.8 72.7L95.7 73.8L98.5 74.9L101.4 76.0L104.3 77.0L107.1 78.0L110.0 78.8L112.8 79.6L115.7 80.4L118.6 81.2L121.4 82.0L124.3 82.7L127.1 83.5L130.0 84.3L132.9 85.1L135.7 85.9L138.6 86.7L141.4 87.6L144.3 88.5L147.1 89.6L150.0 90.7L152.9 92.0L153.6 92.4L154.1 92.6L154.6 92.9L155.0 93.1L155.5 93.3L156.0 93.6L156.5 93.8L157.0 94.1L157.5 94.4L157.9 94.6L158.4 94.9L158.9 95.2L159.4 95.4L159.9 95.7L160.3 96.0L160.8 96.3L161.3 96.6L161.8 96.9L162.3 97.3L162.8 97.6L163.2 97.9L163.7 98.3L164.2 98.7L164.7 99.0L165.2 99.4L165.6 99.8L166.1 100.3L166.6 100.7L167.1 101.1L167.6 101.6L168.1 102.1L168.5 102.6L169.0 103.2L169.5 103.7L170.0 104.3L170.5 105.0L170.9 105.6L171.4 106.4L171.9 107.1L172.4 108.0L172.9 108.9L173.4 109.9L173.8 110.8L174.3 111.8L174.8 112.9L175.3 113.9L175.8 115.1L176.2 116.5L176.7 117.9L177.2 119.6L177.7 121.6L178.2 124.1L178.7 127.0L179.1 130.3L179.6 134.3L180.1 139.0L180.6 144.6L181.1 150.9L181.4 155.5" stroke="#A2142F" stroke-width="0.48" />
<path d="M36.2 8.4L36.9 29.0L37.5 34.2L38.1 36.4L38.7 37.9L39.3 39.0L39.9 39.9L40.6 40.8L41.3 41.8L44.1 44.9L46.9 47.6L49.7 50.1L52.6 52.3L55.4 54.5L58.2 56.4L61.0 58.2L63.9 59.8L66.7 61.4L69.5 62.9L72.3 64.3L75.1 65.7L78.0 67.1L80.8 68.4L83.6 69.6L86.4 70.8L89.2 72.0L92.1 73.2L94.9 74.3L97.7 75.4L100.5 76.5L103.3 77.5L106.2 78.5L109.0 79.3L111.8 80.1L114.6 80.9L117.4 81.7L120.3 82.5L123.1 83.2L125.9 84.0L128.7 84.8L131.6 85.6L134.4 86.4L137.2 87.2L140.0 88.1L142.8 89.1L145.7 90.1L148.5 91.3L151.3 92.7L152.0 93.0L152.5 93.2L153.0 93.5L153.4 93.7L153.9 94.0L154.4 94.2L154.9 94.5L155.3 94.7L155.8 95.0L156.3 95.3L156.8 95.5L157.2 95.8L157.7 96.1L158.2 96.4L158.7 96.7L159.1 97.0L159.6 97.3L160.1 97.6L160.6 98.0L161.0 98.3L161.5 98.6L162.0 99.0L162.5 99.4L162.9 99.8L163.4 100.1L163.9 100.5L164.4 101.0L164.9 101.4L165.3 101.9L165.8 102.3L166.3 102.8L166.8 103.3L167.2 103.9L167.7 104.5L168.2 105.0L168.7 105.7L169.1 106.3L169.6 107.1L170.1 107.8L170.6 108.7L171.0 109.6L171.5 110.5L172.0 111.5L172.5 112.5L172.9 113.5L173.4 114.6L173.9 115.7L174.4 117.1L174.8 118.5L175.3 120.2L175.8 122.2L176.3 124.6L176.7 127.4L177.2 130.8L177.7 134.7L178.2 139.3L178.6 144.8L179.1 151.0" stroke="#0072BD" stroke-width="0.48" />
<path d="M36.2 8.4L36.9 29.5L37.5 34.6L38.1 36.8L38.7 38.3L39.3 39.4L39.9 40.3L40.5 41.2L41.2 42.1L43.9 45.3L46.7 48.0L49.5 50.6L52.2 52.9L55.0 55.0L57.8 57.0L60.5 58.8L63.3 60.4L66.1 62.0L68.8 63.5L71.6 65.0L74.3 66.4L77.1 67.8L79.9 69.1L82.6 70.3L85.4 71.5L88.2 72.7L90.9 73.9L93.7 75.0L96.5 76.2L99.2 77.2L102.0 78.2L104.7 79.2L107.5 80.0L110.3 80.8L113.0 81.7L115.8 82.4L118.6 83.2L121.3 84.0L124.1 84.7L126.9 85.5L129.6 86.4L132.4 87.2L135.2 88.0L137.9 88.9L140.7 89.9L143.4 91.0L146.2 92.2L149.0 93.6L149.7 93.9L150.1 94.2L150.6 94.4L151.1 94.7L151.5 94.9L152.0 95.2L152.5 95.4L152.9 95.7L153.4 96.0L153.9 96.3L154.3 96.5L154.8 96.8L155.3 97.1L155.7 97.4L156.2 97.7L156.7 98.0L157.1 98.3L157.6 98.7L158.1 99.0L158.5 99.3L159.0 99.7L159.5 100.1L159.9 100.4L160.4 100.8L160.8 101.2L161.3 101.6L161.8 102.0L162.2 102.5L162.7 102.9L163.2 103.4L163.6 103.9L164.1 104.4L164.6 105.0L165.0 105.5L165.5 106.1L166.0 106.7L166.4 107.4L166.9 108.1L167.4 108.9L167.8 109.7L168.3 110.6L168.8 111.5L169.2 112.4L169.7 113.4L170.2 114.4L170.6 115.5L171.1 116.7L171.6 117.9L172.0 119.4L172.5 121.0L173.0 123.0L173.4 125.3L173.9 128.1L174.4 131.4L174.8 135.2L175.3 139.8L175.8 145.2L176.2 151.3L176.6 156.5" stroke="#EDB120" stroke-width="0.48" />
<path d="M36.2 8.4L36.8 29.7L37.4 34.8L38.0 37.0L38.6 38.5L39.2 39.6L39.8 40.5L40.4 41.4L41.1 42.3L43.9 45.5L46.6 48.3L49.3 50.8L52.1 53.1L54.8 55.3L57.5 57.2L60.3 59.0L63.0 60.7L65.8 62.3L68.5 63.9L71.2 65.3L74.0 66.7L76.7 68.1L79.4 69.4L82.2 70.7L84.9 71.9L87.6 73.1L90.4 74.3L93.1 75.4L95.8 76.5L98.6 77.6L101.3 78.6L104.0 79.5L106.8 80.4L109.5 81.2L112.3 82.0L115.0 82.8L117.7 83.6L120.5 84.3L123.2 85.1L125.9 85.9L128.7 86.7L131.4 87.6L134.1 88.4L136.9 89.3L139.6 90.3L142.3 91.4L145.1 92.6L147.8 94.0L148.5 94.4L149.0 94.6L149.4 94.9L149.9 95.1L150.4 95.4L150.8 95.7L151.3 95.9L151.7 96.2L152.2 96.5L152.7 96.7L153.1 97.0L153.6 97.3L154.0 97.6L154.5 97.9L155.0 98.2L155.4 98.5L155.9 98.8L156.3 99.2L156.8 99.5L157.3 99.8L157.7 100.2L158.2 100.6L158.7 100.9L159.1 101.3L159.6 101.7L160.0 102.1L160.5 102.6L161.0 103.0L161.4 103.5L161.9 103.9L162.3 104.4L162.8 104.9L163.3 105.5L163.7 106.0L164.2 106.6L164.6 107.2L165.1 107.9L165.6 108.6L166.0 109.4L166.5 110.2L167.0 111.1L167.4 112.0L167.9 112.9L168.3 113.9L168.8 114.9L169.3 115.9L169.7 117.1L170.2 118.4L170.6 119.8L171.1 121.4L171.6 123.3L172.0 125.7L172.5 128.5L172.9 131.7L173.4 135.5L173.9 140.0L174.3 145.3L174.8 151.4L175.0 155.2" stroke="#7E2F8E" stroke-width="0.48" />
<path d="M36.2 8.4L36.8 29.8L37.4 34.9L38.0 37.1L38.6 38.6L39.2 39.7L39.8 40.6L40.4 41.5L41.1 42.4L43.8 45.6L46.5 48.4L49.3 50.9L52.0 53.2L54.7 55.4L57.4 57.4L60.1 59.2L62.9 60.9L65.6 62.5L68.3 64.0L71.0 65.5L73.7 66.9L76.5 68.3L79.2 69.6L81.9 70.9L84.6 72.1L87.3 73.3L90.1 74.4L92.8 75.6L95.5 76.7L98.2 77.8L100.9 78.8L103.7 79.7L106.4 80.6L109.1 81.4L111.8 82.2L114.5 83.0L117.3 83.8L120.0 84.5L122.7 85.3L125.4 86.1L128.1 86.9L130.9 87.8L133.6 88.6L136.3 89.5L139.0 90.5L141.7 91.6L144.5 92.9L147.2 94.3L147.9 94.6L148.3 94.9L148.8 95.1L149.3 95.4L149.7 95.6L150.2 95.9L150.6 96.2L151.1 96.4L151.5 96.7L152.0 97.0L152.5 97.3L152.9 97.6L153.4 97.9L153.8 98.2L154.3 98.5L154.8 98.8L155.2 99.1L155.7 99.4L156.1 99.8L156.6 100.1L157.0 100.5L157.5 100.9L158.0 101.2L158.4 101.6L158.9 102.0L159.3 102.4L159.8 102.8L160.3 103.3L160.7 103.7L161.2 104.2L161.6 104.7L162.1 105.2L162.5 105.8L163.0 106.3L163.5 106.9L163.9 107.5L164.4 108.2L164.8 108.9L165.3 109.7L165.8 110.5L166.2 111.3L166.7 112.2L167.1 113.2L167.6 114.1L168.0 115.1L168.5 116.2L169.0 117.4L169.4 118.6L169.9 120.1L170.3 121.7L170.8 123.6L171.3 125.9L171.7 128.6L172.2 131.9L172.6 135.6L173.1 140.1L173.5 145.4L174.0 151.0" stroke="#77AC30" stroke-width="0.48" />
<path d="M36.2 8.4L36.8 29.9L37.4 35.0L38.0 37.2L38.6 38.7L39.2 39.8L39.8 40.7L40.4 41.5L41.1 42.5L43.8 45.7L46.5 48.5L49.2 51.0L51.9 53.4L54.6 55.5L57.3 57.5L60.0 59.3L62.7 61.0L65.5 62.6L68.2 64.2L70.9 65.6L73.6 67.1L76.3 68.4L79.0 69.7L81.7 71.0L84.4 72.2L87.1 73.4L89.8 74.6L92.5 75.8L95.2 76.9L97.9 77.9L100.7 79.0L103.4 79.9L106.1 80.7L108.8 81.6L111.5 82.4L114.2 83.2L116.9 83.9L119.6 84.7L122.3 85.5L125.0 86.3L127.7 87.1L130.4 87.9L133.1 88.8L135.9 89.7L138.6 90.7L141.3 91.8L144.0 93.1L146.7 94.5L147.4 94.8L147.8 95.1L148.3 95.3L148.7 95.6L149.2 95.9L149.7 96.1L150.1 96.4L150.6 96.7L151.0 96.9L151.5 97.2L151.9 97.5L152.4 97.8L152.8 98.1L153.3 98.4L153.8 98.7L154.2 99.0L154.7 99.3L155.1 99.7L155.6 100.0L156.0 100.4L156.5 100.7L157.0 101.1L157.4 101.5L157.9 101.8L158.3 102.2L158.8 102.7L159.2 103.1L159.7 103.5L160.1 104.0L160.6 104.4L161.1 104.9L161.5 105.5L162.0 106.0L162.4 106.6L162.9 107.1L163.3 107.8L163.8 108.4L164.3 109.1L164.7 109.9L165.2 110.7L165.6 111.6L166.1 112.5L166.5 113.4L167.0 114.3L167.4 115.3L167.9 116.4L168.4 117.5L168.8 118.8L169.3 120.2L169.7 121.9L170.2 123.7L170.6 126.0L171.1 128.8L171.6 132.0L172.0 135.7L172.5 140.2L172.9 145.5L173.4 151.5L173.7 156.8" stroke="#4DBEEE" stroke-width="0.48" />
<path d="M36.2 8.4L36.8 30.1L37.4 35.2L38.0 37.4L38.6 38.9L39.2 39.9L39.8 40.8L40.4 41.7L41.0 42.7L43.7 45.8L46.4 48.6L49.1 51.2L51.8 53.6L54.5 55.7L57.1 57.7L59.8 59.6L62.5 61.3L65.2 62.9L67.9 64.4L70.6 65.9L73.3 67.3L75.9 68.7L78.6 70.0L81.3 71.3L84.0 72.5L86.7 73.7L89.4 74.9L92.0 76.1L94.7 77.2L97.4 78.2L100.1 79.3L102.8 80.2L105.5 81.0L108.2 81.8L110.8 82.6L113.5 83.4L116.2 84.2L118.9 85.0L121.6 85.8L124.3 86.6L127.0 87.4L129.6 88.3L132.3 89.1L135.0 90.0L137.7 91.0L140.4 92.1L143.1 93.4L145.7 94.8L146.4 95.2L146.9 95.5L147.3 95.7L147.8 96.0L148.2 96.2L148.7 96.5L149.1 96.8L149.6 97.0L150.0 97.3L150.5 97.6L151.0 97.9L151.4 98.2L151.9 98.5L152.3 98.8L152.8 99.1L153.2 99.4L153.7 99.7L154.1 100.1L154.6 100.4L155.0 100.8L155.5 101.1L155.9 101.5L156.4 101.9L156.8 102.3L157.3 102.7L157.7 103.1L158.2 103.5L158.6 103.9L159.1 104.4L159.5 104.9L160.0 105.4L160.5 105.9L160.9 106.4L161.4 107.0L161.8 107.6L162.3 108.2L162.7 108.8L163.2 109.5L163.6 110.3L164.1 111.1L164.5 112.0L165.0 112.9L165.4 113.8L165.9 114.7L166.3 115.7L166.8 116.8L167.2 117.9L167.7 119.2L168.1 120.6L168.6 122.2L169.0 124.1L169.5 126.3L169.9 129.1L170.4 132.2L170.9 136.0L171.3 140.4L171.8 145.7L172.2 151.6L172.7 158.2L172.7 158.8" stroke="#0072BD" stroke-width="0.48" />
<path d="M36.2 8.4L36.8 30.2L37.4 35.3L38.0 37.5L38.6 39.0L39.2 40.1L39.7 41.0L40.3 41.8L41.0 42.8L43.7 45.9L46.3 48.8L49.0 51.4L51.7 53.7L54.3 55.9L57.0 57.9L59.7 59.8L62.3 61.5L65.0 63.1L67.7 64.7L70.3 66.1L73.0 67.6L75.7 68.9L78.3 70.3L81.0 71.5L83.6 72.8L86.3 74.0L89.0 75.1L91.6 76.3L94.3 77.4L97.0 78.5L99.6 79.5L102.3 80.4L105.0 81.3L107.6 82.1L110.3 82.9L113.0 83.7L115.6 84.5L118.3 85.2L121.0 86.0L123.6 86.8L126.3 87.7L129.0 88.5L131.6 89.4L134.3 90.3L137.0 91.3L139.6 92.4L142.3 93.7L144.9 95.1L145.6 95.5L146.1 95.8L146.5 96.0L147.0 96.3L147.4 96.6L147.9 96.8L148.3 97.1L148.8 97.4L149.2 97.7L149.7 97.9L150.1 98.2L150.6 98.5L151.0 98.8L151.5 99.1L151.9 99.4L152.4 99.8L152.8 100.1L153.3 100.4L153.7 100.8L154.2 101.1L154.6 101.5L155.1 101.9L155.5 102.2L156.0 102.6L156.4 103.0L156.9 103.4L157.3 103.9L157.8 104.3L158.2 104.8L158.6 105.2L159.1 105.7L159.5 106.2L160.0 106.8L160.4 107.3L160.9 107.9L161.3 108.5L161.8 109.2L162.2 109.9L162.7 110.6L163.1 111.5L163.6 112.3L164.0 113.2L164.5 114.1L164.9 115.1L165.4 116.0L165.8 117.1L166.3 118.2L166.7 119.5L167.2 120.9L167.6 122.5L168.1 124.3L168.5 126.6L169.0 129.3L169.4 132.5L169.9 136.1L170.3 140.6L170.8 145.8L171.2 151.7L171.5 155.2" stroke="#D95319" stroke-width="0.48" />
<path d="M36.2 8.4L36.8 30.3L37.4 35.3L38.0 37.6L38.6 39.0L39.2 40.1L39.7 41.0L40.3 41.9L41.0 42.9L43.7 46.0L46.3 48.8L49.0 51.4L51.6 53.8L54.3 56.0L56.9 58.0L59.6 59.8L62.3 61.6L64.9 63.2L67.6 64.7L70.2 66.2L72.9 67.6L75.6 69.0L78.2 70.3L80.9 71.6L83.5 72.8L86.2 74.0L88.8 75.2L91.5 76.4L94.2 77.5L96.8 78.6L99.5 79.6L102.1 80.5L104.8 81.4L107.5 82.2L110.1 83.0L112.8 83.8L115.4 84.6L118.1 85.3L120.8 86.1L123.4 86.9L126.1 87.8L128.7 88.6L131.4 89.5L134.0 90.4L136.7 91.4L139.4 92.5L142.0 93.8L144.7 95.2L145.4 95.6L145.8 95.9L146.3 96.1L146.7 96.4L147.2 96.7L147.6 96.9L148.0 97.2L148.5 97.5L148.9 97.8L149.4 98.1L149.8 98.3L150.3 98.6L150.7 98.9L151.2 99.2L151.6 99.6L152.1 99.9L152.5 100.2L153.0 100.5L153.4 100.9L153.9 101.2L154.3 101.6L154.8 102.0L155.2 102.4L155.7 102.7L156.1 103.1L156.6 103.6L157.0 104.0L157.5 104.4L157.9 104.9L158.4 105.4L158.8 105.9L159.2 106.4L159.7 106.9L160.1 107.5L160.6 108.0L161.0 108.7L161.5 109.3L161.9 110.0L162.4 110.8L162.8 111.6L163.3 112.4L163.7 113.3L164.2 114.2L164.6 115.2L165.1 116.1L165.5 117.2L166.0 118.3L166.4 119.6L166.9 121.0L167.3 122.6L167.8 124.4L168.2 126.7L168.7 129.4L169.1 132.5L169.6 136.2L170.0 140.6L170.4 145.8L170.9 151.7L171.2 156.1" stroke="#EDB120" stroke-width="0.48" />
<path d="M36.2 8.4L36.8 30.3L37.4 35.4L38.0 37.6L38.6 39.1L39.1 40.2L39.7 41.1L40.3 41.9L41.0 42.9L43.6 46.1L46.3 48.9L48.9 51.5L51.6 53.9L54.2 56.1L56.9 58.1L59.5 59.9L62.2 61.7L64.8 63.3L67.5 64.8L70.1 66.3L72.8 67.7L75.4 69.1L78.1 70.4L80.7 71.7L83.4 73.0L86.0 74.2L88.7 75.3L91.3 76.5L94.0 77.6L96.6 78.7L99.3 79.7L101.9 80.6L104.6 81.5L107.2 82.3L109.9 83.1L112.5 83.9L115.2 84.7L117.8 85.4L120.5 86.2L123.1 87.0L125.8 87.9L128.4 88.7L131.1 89.6L133.7 90.5L136.4 91.5L139.0 92.6L141.7 93.9L144.3 95.4L145.0 95.8L145.5 96.0L145.9 96.3L146.4 96.5L146.8 96.8L147.2 97.1L147.7 97.4L148.1 97.6L148.6 97.9L149.0 98.2L149.5 98.5L149.9 98.8L150.4 99.1L150.8 99.4L151.3 99.7L151.7 100.0L152.2 100.4L152.6 100.7L153.1 101.0L153.5 101.4L153.9 101.8L154.4 102.1L154.8 102.5L155.3 102.9L155.7 103.3L156.2 103.7L156.6 104.1L157.1 104.6L157.5 105.0L158.0 105.5L158.4 106.0L158.9 106.5L159.3 107.1L159.8 107.6L160.2 108.2L160.6 108.8L161.1 109.5L161.5 110.2L162.0 110.9L162.4 111.7L162.9 112.6L163.3 113.4L163.8 114.4L164.2 115.3L164.7 116.3L165.1 117.3L165.6 118.5L166.0 119.7L166.4 121.1L166.9 122.7L167.3 124.5L167.8 126.8L168.2 129.5L168.7 132.6L169.1 136.3L169.6 140.7L170.0 145.9L170.5 151.8L170.8 156.8" stroke="#7E2F8E" stroke-width="0.48" />
<path d="M36.2 8.4L36.8 30.0L37.4 35.1L38.0 37.3L38.6 38.8L39.2 39.8L39.8 40.7L40.4 41.6L41.1 42.6L43.8 45.7L46.5 48.5L49.2 51.1L51.9 53.4L54.5 55.6L57.2 57.6L59.9 59.4L62.6 61.2L65.3 62.8L68.0 64.3L70.7 65.8L73.4 67.2L76.1 68.6L78.8 69.9L81.5 71.1L84.2 72.4L86.9 73.6L89.6 74.7L92.3 75.9L95.0 77.0L97.7 78.1L100.4 79.1L103.1 80.0L105.8 80.9L108.5 81.7L111.2 82.5L113.9 83.3L116.6 84.1L119.3 84.8L122.0 85.6L124.7 86.4L127.4 87.2L130.1 88.1L132.8 88.9L135.5 89.9L138.2 90.8L140.9 92.0L143.6 93.2L146.3 94.6L146.9 95.0L147.4 95.3L147.8 95.5L148.3 95.8L148.8 96.0L149.2 96.3L149.7 96.6L150.1 96.8L150.6 97.1L151.0 97.4L151.5 97.7L151.9 98.0L152.4 98.3L152.8 98.6L153.3 98.9L153.8 99.2L154.2 99.5L154.7 99.9L155.1 100.2L155.6 100.5L156.0 100.9L156.5 101.3L156.9 101.6L157.4 102.0L157.8 102.4L158.3 102.8L158.8 103.3L159.2 103.7L159.7 104.2L160.1 104.6L160.6 105.1L161.0 105.7L161.5 106.2L161.9 106.8L162.4 107.3L162.8 107.9L163.3 108.6L163.8 109.3L164.2 110.1L164.7 110.9L165.1 111.7L165.6 112.6L166.0 113.6L166.5 114.5L166.9 115.5L167.4 116.6L167.8 117.7L168.3 119.0L168.8 120.4L169.2 122.0L169.7 123.9L170.1 126.2L170.6 128.9L171.0 132.1L171.5 135.8L171.9 140.3L172.4 145.6L172.8 151.6L173.0 153.5" stroke="#4DBEEE" stroke-width="0.48" />
<path d="M36.2 8.4L36.8 30.3L37.4 35.3L38.0 37.6L38.6 39.0L39.2 40.1L39.7 41.0L40.3 41.9L41.0 42.8L43.7 46.0L46.3 48.8L49.0 51.4L51.6 53.8L54.3 56.0L57.0 58.0L59.6 59.8L62.3 61.6L64.9 63.2L67.6 64.7L70.2 66.2L72.9 67.6L75.6 69.0L78.2 70.3L80.9 71.6L83.5 72.8L86.2 74.0L88.9 75.2L91.5 76.4L94.2 77.5L96.8 78.6L99.5 79.6L102.2 80.5L104.8 81.4L107.5 82.2L110.1 83.0L112.8 83.8L115.5 84.5L118.1 85.3L120.8 86.1L123.4 86.9L126.1 87.8L128.7 88.6L131.4 89.5L134.1 90.4L136.7 91.4L139.4 92.5L142.0 93.8L144.7 95.2L145.4 95.6L145.8 95.9L146.3 96.1L146.7 96.4L147.2 96.7L147.6 96.9L148.1 97.2L148.5 97.5L149.0 97.8L149.4 98.0L149.9 98.3L150.3 98.6L150.8 98.9L151.2 99.2L151.7 99.5L152.1 99.9L152.6 100.2L153.0 100.5L153.4 100.9L153.9 101.2L154.3 101.6L154.8 102.0L155.2 102.3L155.7 102.7L156.1 103.1L156.6 103.6L157.0 104.0L157.5 104.4L157.9 104.9L158.4 105.4L158.8 105.8L159.3 106.4L159.7 106.9L160.2 107.5L160.6 108.0L161.1 108.6L161.5 109.3L162.0 110.0L162.4 110.8L162.9 111.6L163.3 112.4L163.8 113.3L164.2 114.2L164.6 115.1L165.1 116.1L165.5 117.2L166.0 118.3L166.4 119.6L166.9 121.0L167.3 122.6L167.8 124.4L168.2 126.7L168.7 129.4L169.1 132.5L169.6 136.2L170.0 140.6L170.5 145.8L170.9 151.7L171.2 155.7" stroke="#A2142F" stroke-width="0.48" />
<path d="M36.2 8.4L36.8 30.4L37.4 35.5L38.0 37.7L38.6 39.2L39.1 40.2L39.7 41.1L40.3 42.0L41.0 43.0L43.6 46.1L46.2 49.0L48.9 51.6L51.5 53.9L54.2 56.2L56.8 58.2L59.5 60.0L62.1 61.7L64.7 63.4L67.4 64.9L70.0 66.4L72.7 67.8L75.3 69.2L77.9 70.6L80.6 71.8L83.2 73.1L85.9 74.3L88.5 75.4L91.2 76.6L93.8 77.7L96.4 78.8L99.1 79.8L101.7 80.7L104.4 81.6L107.0 82.4L109.6 83.2L112.3 84.0L114.9 84.8L117.6 85.6L120.2 86.3L122.8 87.2L125.5 88.0L128.1 88.8L130.8 89.7L133.4 90.6L136.1 91.6L138.7 92.8L141.3 94.1L144.0 95.5L144.7 95.9L145.1 96.2L145.5 96.4L146.0 96.7L146.4 97.0L146.9 97.2L147.3 97.5L147.8 97.8L148.2 98.1L148.7 98.3L149.1 98.6L149.6 98.9L150.0 99.2L150.4 99.5L150.9 99.9L151.3 100.2L151.8 100.5L152.2 100.8L152.7 101.2L153.1 101.5L153.6 101.9L154.0 102.3L154.4 102.7L154.9 103.1L155.3 103.5L155.8 103.9L156.2 104.3L156.7 104.7L157.1 105.2L157.6 105.7L158.0 106.2L158.5 106.7L158.9 107.2L159.3 107.8L159.8 108.4L160.2 109.0L160.7 109.6L161.1 110.3L161.6 111.1L162.0 111.9L162.5 112.7L162.9 113.6L163.3 114.5L163.8 115.4L164.2 116.4L164.7 117.5L165.1 118.6L165.6 119.9L166.0 121.2L166.5 122.8L166.9 124.7L167.4 126.9L167.8 129.6L168.2 132.7L168.7 136.4L169.1 140.8L169.6 145.9L170.0 151.8L170.2 153.9" stroke="#0072BD" stroke-width="0.48" />
<path d="M36.2 8.4L36.8 30.5L37.4 35.6L38.0 37.8L38.5 39.3L39.1 40.3L39.7 41.2L40.3 42.1L40.9 43.1L43.6 46.2L46.2 49.1L48.8 51.7L51.5 54.1L54.1 56.3L56.7 58.3L59.3 60.2L62.0 61.9L64.6 63.5L67.2 65.1L69.8 66.6L72.5 68.0L75.1 69.4L77.7 70.7L80.4 72.0L83.0 73.2L85.6 74.4L88.2 75.6L90.9 76.8L93.5 77.9L96.1 79.0L98.8 80.0L101.4 80.9L104.0 81.8L106.6 82.6L109.3 83.4L111.9 84.2L114.5 84.9L117.2 85.7L119.8 86.5L122.4 87.3L125.0 88.2L127.7 89.0L130.3 89.9L132.9 90.8L135.5 91.8L138.2 93.0L140.8 94.3L143.4 95.7L144.1 96.1L144.5 96.4L145.0 96.6L145.4 96.9L145.9 97.2L146.3 97.4L146.8 97.7L147.2 98.0L147.6 98.3L148.1 98.6L148.5 98.9L149.0 99.2L149.4 99.5L149.9 99.8L150.3 100.1L150.7 100.4L151.2 100.8L151.6 101.1L152.1 101.4L152.5 101.8L153.0 102.2L153.4 102.5L153.8 102.9L154.3 103.3L154.7 103.7L155.2 104.1L155.6 104.6L156.1 105.0L156.5 105.5L156.9 105.9L157.4 106.4L157.8 106.9L158.3 107.5L158.7 108.0L159.2 108.6L159.6 109.2L160.0 109.9L160.5 110.6L160.9 111.3L161.4 112.1L161.8 113.0L162.3 113.8L162.7 114.7L163.1 115.7L163.6 116.6L164.0 117.7L164.5 118.8L164.9 120.1L165.4 121.5L165.8 123.0L166.2 124.8L166.7 127.1L167.1 129.7L167.6 132.9L168.0 136.5L168.5 140.9L168.9 146.0L169.3 151.9L169.8 158.1" stroke="#D95319" stroke-width="0.48" />
<path d="M36.2 8.4L36.8 30.6L37.4 35.7L38.0 37.9L38.5 39.4L39.1 40.5L39.7 41.3L40.2 42.2L40.9 43.2L43.5 46.3L46.1 49.2L48.7 51.8L51.3 54.2L54.0 56.5L56.6 58.5L59.2 60.3L61.8 62.1L64.4 63.7L67.0 65.3L69.6 66.8L72.2 68.2L74.8 69.6L77.4 70.9L80.1 72.2L82.7 73.5L85.3 74.7L87.9 75.8L90.5 77.0L93.1 78.1L95.7 79.2L98.3 80.2L100.9 81.1L103.5 82.0L106.2 82.8L108.8 83.6L111.4 84.4L114.0 85.2L116.6 86.0L119.2 86.8L121.8 87.6L124.4 88.4L127.0 89.3L129.6 90.2L132.3 91.1L134.9 92.1L137.5 93.2L140.1 94.6L142.7 96.0L143.4 96.4L143.8 96.7L144.2 96.9L144.7 97.2L145.1 97.5L145.6 97.7L146.0 98.0L146.4 98.3L146.9 98.6L147.3 98.9L147.8 99.2L148.2 99.5L148.6 99.8L149.1 100.1L149.5 100.4L150.0 100.7L150.4 101.1L150.8 101.4L151.3 101.8L151.7 102.1L152.2 102.5L152.6 102.9L153.0 103.3L153.5 103.6L153.9 104.1L154.4 104.5L154.8 104.9L155.2 105.3L155.7 105.8L156.1 106.3L156.6 106.8L157.0 107.3L157.4 107.8L157.9 108.4L158.3 108.9L158.8 109.6L159.2 110.2L159.6 110.9L160.1 111.6L160.5 112.4L161.0 113.3L161.4 114.1L161.8 115.0L162.3 116.0L162.7 116.9L163.2 118.0L163.6 119.1L164.0 120.3L164.5 121.7L164.9 123.3L165.3 125.1L165.8 127.3L166.2 130.0L166.7 133.1L167.1 136.7L167.5 141.0L168.0 146.1L168.4 151.9L168.4 152.1" stroke="#7E2F8E" stroke-width="0.48" />
<path d="M36.2 8.4L36.8 30.7L37.4 35.8L38.0 38.0L38.5 39.5L39.1 40.6L39.7 41.4L40.2 42.3L40.9 43.3L43.5 46.4L46.1 49.3L48.7 52.0L51.3 54.4L53.9 56.6L56.4 58.6L59.0 60.5L61.6 62.2L64.2 63.9L66.8 65.5L69.4 67.0L72.0 68.4L74.6 69.8L77.2 71.1L79.8 72.4L82.4 73.7L85.0 74.9L87.6 76.0L90.2 77.2L92.8 78.3L95.4 79.4L98.0 80.4L100.6 81.3L103.1 82.2L105.7 83.0L108.3 83.8L110.9 84.6L113.5 85.4L116.1 86.2L118.7 87.0L121.3 87.8L123.9 88.6L126.5 89.5L129.1 90.4L131.7 91.3L134.3 92.3L136.9 93.5L139.5 94.8L142.1 96.3L142.7 96.7L143.2 96.9L143.6 97.2L144.0 97.5L144.5 97.7L144.9 98.0L145.3 98.3L145.8 98.6L146.2 98.9L146.7 99.2L147.1 99.4L147.5 99.7L148.0 100.1L148.4 100.4L148.8 100.7L149.3 101.0L149.7 101.4L150.2 101.7L150.6 102.0L151.0 102.4L151.5 102.8L151.9 103.1L152.3 103.5L152.8 103.9L153.2 104.3L153.7 104.8L154.1 105.2L154.5 105.6L155.0 106.1L155.4 106.6L155.8 107.1L156.3 107.6L156.7 108.1L157.1 108.7L157.6 109.2L158.0 109.8L158.5 110.5L158.9 111.2L159.3 111.9L159.8 112.7L160.2 113.5L160.6 114.4L161.1 115.3L161.5 116.2L162.0 117.2L162.4 118.2L162.8 119.4L163.3 120.6L163.7 122.0L164.1 123.5L164.6 125.3L165.0 127.5L165.5 130.1L165.9 133.2L166.3 136.8L166.8 141.1L167.2 146.2L167.6 152.0L168.0 157.8" stroke="#77AC30" stroke-width="0.48" />
<path d="M36.2 8.4L36.8 30.8L37.4 35.8L37.9 38.0L38.5 39.5L39.1 40.6L39.6 41.5L40.2 42.3L40.9 43.3L43.5 46.5L46.1 49.3L48.7 52.0L51.2 54.4L53.8 56.6L56.4 58.7L59.0 60.5L61.6 62.3L64.2 63.9L66.8 65.5L69.4 67.0L72.0 68.4L74.6 69.8L77.2 71.2L79.8 72.4L82.3 73.7L84.9 74.9L87.5 76.1L90.1 77.2L92.7 78.4L95.3 79.4L97.9 80.4L100.5 81.4L103.1 82.2L105.7 83.0L108.3 83.8L110.9 84.6L113.4 85.4L116.0 86.2L118.6 87.0L121.2 87.8L123.8 88.7L126.4 89.5L129.0 90.4L131.6 91.3L134.2 92.4L136.8 93.5L139.4 94.8L142.0 96.3L142.6 96.7L143.1 97.0L143.5 97.2L143.9 97.5L144.4 97.8L144.8 98.1L145.2 98.3L145.7 98.6L146.1 98.9L146.6 99.2L147.0 99.5L147.4 99.8L147.9 100.1L148.3 100.4L148.7 100.7L149.2 101.1L149.6 101.4L150.0 101.7L150.5 102.1L150.9 102.4L151.4 102.8L151.8 103.2L152.2 103.6L152.7 104.0L153.1 104.4L153.5 104.8L154.0 105.2L154.4 105.7L154.8 106.1L155.3 106.6L155.7 107.1L156.2 107.6L156.6 108.1L157.0 108.7L157.5 109.3L157.9 109.9L158.3 110.5L158.8 111.2L159.2 112.0L159.7 112.8L160.1 113.6L160.5 114.4L161.0 115.3L161.4 116.3L161.8 117.2L162.3 118.3L162.7 119.4L163.1 120.6L163.6 122.0L164.0 123.6L164.5 125.3L164.9 127.5L165.3 130.2L165.8 133.3L166.2 136.8L166.6 141.2L167.1 146.2L167.5 152.0L167.9 157.4" stroke="#4DBEEE" stroke-width="0.48" />
<path d="M36.2 8.4L36.8 30.9L37.4 35.9L37.9 38.1L38.5 39.6L39.1 40.7L39.6 41.6L40.2 42.4L40.8 43.4L43.4 46.6L46.0 49.4L48.6 52.1L51.2 54.5L53.7 56.8L56.3 58.8L58.9 60.7L61.5 62.4L64.0 64.1L66.6 65.6L69.2 67.1L71.8 68.6L74.4 70.0L76.9 71.3L79.5 72.6L82.1 73.9L84.7 75.1L87.2 76.3L89.8 77.4L92.4 78.5L95.0 79.6L97.6 80.6L100.1 81.6L102.7 82.4L105.3 83.2L107.9 84.0L110.4 84.8L113.0 85.6L115.6 86.4L118.2 87.2L120.7 88.0L123.3 88.9L125.9 89.7L128.5 90.6L131.1 91.5L133.6 92.6L136.2 93.7L138.8 95.1L141.4 96.5L142.0 96.9L142.5 97.2L142.9 97.5L143.3 97.7L143.8 98.0L144.2 98.3L144.6 98.6L145.1 98.9L145.5 99.1L145.9 99.4L146.4 99.7L146.8 100.0L147.2 100.4L147.7 100.7L148.1 101.0L148.5 101.3L149.0 101.7L149.4 102.0L149.8 102.3L150.3 102.7L150.7 103.1L151.1 103.5L151.6 103.8L152.0 104.2L152.4 104.7L152.9 105.1L153.3 105.5L153.8 105.9L154.2 106.4L154.6 106.9L155.1 107.4L155.5 107.9L155.9 108.4L156.4 109.0L156.8 109.6L157.2 110.2L157.7 110.8L158.1 111.5L158.5 112.2L159.0 113.0L159.4 113.8L159.8 114.7L160.3 115.6L160.7 116.5L161.1 117.5L161.6 118.5L162.0 119.6L162.4 120.9L162.9 122.2L163.3 123.8L163.7 125.5L164.2 127.7L164.6 130.3L165.0 133.4L165.5 137.0L165.9 141.3L166.3 146.3L166.8 152.1L167.0 155.5" stroke="#A2142F" stroke-width="0.48" />
<path d="M36.2 8.4L36.8 30.9L37.4 35.9L37.9 38.2L38.5 39.6L39.1 40.7L39.6 41.6L40.2 42.4L40.8 43.4L43.4 46.6L46.0 49.5L48.6 52.1L51.2 54.5L53.7 56.8L56.3 58.8L58.9 60.7L61.5 62.4L64.0 64.1L66.6 65.7L69.2 67.2L71.8 68.6L74.3 70.0L76.9 71.3L79.5 72.6L82.1 73.9L84.6 75.1L87.2 76.3L89.8 77.4L92.4 78.6L95.0 79.6L97.5 80.6L100.1 81.6L102.7 82.4L105.3 83.2L107.8 84.0L110.4 84.8L113.0 85.6L115.6 86.4L118.1 87.2L120.7 88.0L123.3 88.9L125.9 89.7L128.4 90.6L131.0 91.6L133.6 92.6L136.2 93.7L138.7 95.1L141.3 96.6L142.0 97.0L142.4 97.2L142.8 97.5L143.3 97.8L143.7 98.0L144.2 98.3L144.6 98.6L145.0 98.9L145.5 99.2L145.9 99.5L146.3 99.8L146.8 100.1L147.2 100.4L147.6 100.7L148.1 101.0L148.5 101.3L148.9 101.7L149.4 102.0L149.8 102.4L150.2 102.7L150.7 103.1L151.1 103.5L151.5 103.9L152.0 104.3L152.4 104.7L152.8 105.1L153.3 105.5L153.7 106.0L154.1 106.4L154.6 106.9L155.0 107.4L155.4 107.9L155.9 108.4L156.3 109.0L156.7 109.6L157.2 110.2L157.6 110.8L158.0 111.5L158.5 112.2L158.9 113.0L159.3 113.9L159.8 114.7L160.2 115.6L160.6 116.5L161.1 117.5L161.5 118.5L162.0 119.6L162.4 120.9L162.8 122.2L163.3 123.8L163.7 125.6L164.1 127.7L164.6 130.4L165.0 133.4L165.4 137.0L165.9 141.3L166.3 146.3L166.7 152.1L167.0 155.8" stroke="#D95319" stroke-width="0.48" />
<path d="M36.2 8.4L36.8 31.0L37.4 36.1L37.9 38.3L38.5 39.8L39.0 40.8L39.6 41.7L40.2 42.6L40.8 43.5L43.4 46.7L45.9 49.6L48.5 52.3L51.0 54.7L53.6 57.0L56.2 59.0L58.7 60.9L61.3 62.6L63.8 64.3L66.4 65.9L68.9 67.4L71.5 68.8L74.1 70.2L76.6 71.6L79.2 72.9L81.7 74.1L84.3 75.3L86.8 76.5L89.4 77.7L92.0 78.8L94.5 79.9L97.1 80.9L99.6 81.8L102.2 82.7L104.7 83.4L107.3 84.3L109.9 85.1L112.4 85.8L115.0 86.6L117.5 87.4L120.1 88.3L122.6 89.1L125.2 90.0L127.8 90.9L130.3 91.8L132.9 92.9L135.4 94.0L138.0 95.4L140.5 96.9L141.2 97.3L141.6 97.5L142.1 97.8L142.5 98.1L142.9 98.4L143.3 98.6L143.8 98.9L144.2 99.2L144.6 99.5L145.1 99.8L145.5 100.1L145.9 100.4L146.4 100.7L146.8 101.0L147.2 101.3L147.7 101.7L148.1 102.0L148.5 102.4L148.9 102.7L149.4 103.1L149.8 103.4L150.2 103.8L150.7 104.2L151.1 104.6L151.5 105.0L152.0 105.4L152.4 105.9L152.8 106.3L153.3 106.8L153.7 107.3L154.1 107.7L154.5 108.3L155.0 108.8L155.4 109.3L155.8 109.9L156.3 110.5L156.7 111.2L157.1 111.9L157.6 112.6L158.0 113.4L158.4 114.2L158.9 115.0L159.3 115.9L159.7 116.8L160.1 117.8L160.6 118.8L161.0 119.9L161.4 121.2L161.9 122.5L162.3 124.1L162.7 125.8L163.2 128.0L163.6 130.6L164.0 133.6L164.5 137.2L164.9 141.4L165.3 146.4L165.7 151.1" stroke="#EDB120" stroke-width="0.48" />
<path d="M36.2 8.4L36.8 31.1L37.4 36.1L37.9 38.3L38.5 39.8L39.0 40.9L39.6 41.7L40.2 42.6L40.8 43.6L43.4 46.7L45.9 49.6L48.5 52.3L51.0 54.8L53.6 57.0L56.1 59.1L58.7 60.9L61.2 62.7L63.8 64.4L66.3 65.9L68.9 67.5L71.4 68.9L74.0 70.3L76.5 71.7L79.1 72.9L81.6 74.2L84.2 75.4L86.7 76.6L89.3 77.8L91.8 78.9L94.4 79.9L96.9 81.0L99.5 81.9L102.0 82.7L104.6 83.5L107.1 84.3L109.7 85.1L112.2 85.9L114.8 86.7L117.3 87.5L119.9 88.3L122.4 89.2L125.0 90.1L127.5 91.0L130.1 91.9L132.7 92.9L135.2 94.1L137.8 95.5L140.3 97.0L141.0 97.4L141.4 97.6L141.8 97.9L142.2 98.2L142.7 98.4L143.1 98.7L143.5 99.0L144.0 99.3L144.4 99.6L144.8 99.9L145.3 100.2L145.7 100.5L146.1 100.8L146.5 101.1L147.0 101.4L147.4 101.8L147.8 102.1L148.3 102.5L148.7 102.8L149.1 103.2L149.6 103.6L150.0 103.9L150.4 104.3L150.8 104.7L151.3 105.1L151.7 105.6L152.1 106.0L152.6 106.4L153.0 106.9L153.4 107.4L153.9 107.9L154.3 108.4L154.7 108.9L155.1 109.5L155.6 110.0L156.0 110.6L156.4 111.3L156.9 112.0L157.3 112.7L157.7 113.5L158.1 114.3L158.6 115.1L159.0 116.0L159.4 116.9L159.9 117.9L160.3 118.9L160.7 120.0L161.2 121.3L161.6 122.6L162.0 124.1L162.4 125.9L162.9 128.0L163.3 130.7L163.7 133.7L164.2 137.2L164.6 141.5L165.0 146.5L165.5 152.2L165.9 158.3" stroke="#7E2F8E" stroke-width="0.48" />
<path d="M36.2 8.4L36.8 31.2L37.4 36.2L37.9 38.5L38.5 39.9L39.0 41.0L39.6 41.9L40.1 42.7L40.8 43.7L43.3 46.9L45.8 49.8L48.4 52.5L50.9 54.9L53.4 57.2L56.0 59.3L58.5 61.1L61.0 62.9L63.5 64.6L66.1 66.2L68.6 67.7L71.1 69.1L73.7 70.5L76.2 71.9L78.7 73.2L81.3 74.4L83.8 75.7L86.3 76.8L88.9 78.0L91.4 79.1L93.9 80.2L96.5 81.2L99.0 82.1L101.5 83.0L104.1 83.8L106.6 84.6L109.1 85.4L111.6 86.2L114.2 87.0L116.7 87.8L119.2 88.6L121.8 89.5L124.3 90.3L126.8 91.2L129.4 92.2L131.9 93.2L134.4 94.4L137.0 95.8L139.5 97.3L140.1 97.7L140.6 98.0L141.0 98.2L141.4 98.5L141.8 98.8L142.3 99.1L142.7 99.3L143.1 99.6L143.5 99.9L144.0 100.2L144.4 100.5L144.8 100.8L145.3 101.2L145.7 101.5L146.1 101.8L146.5 102.1L147.0 102.5L147.4 102.8L147.8 103.2L148.2 103.5L148.7 103.9L149.1 104.3L149.5 104.7L149.9 105.1L150.4 105.5L150.8 105.9L151.2 106.4L151.7 106.8L152.1 107.3L152.5 107.7L152.9 108.2L153.4 108.7L153.8 109.3L154.2 109.8L154.6 110.4L155.1 111.0L155.5 111.6L155.9 112.3L156.3 113.1L156.8 113.8L157.2 114.6L157.6 115.5L158.1 116.4L158.5 117.3L158.9 118.2L159.3 119.2L159.8 120.4L160.2 121.6L160.6 122.9L161.0 124.4L161.5 126.2L161.9 128.3L162.3 130.9L162.7 133.9L163.2 137.4L163.6 141.6L164.0 146.6L164.4 152.3L164.6 154.7" stroke="#77AC30" stroke-width="0.48" />
<path d="M36.2 8.4L36.8 31.3L37.4 36.3L37.9 38.5L38.5 40.0L39.0 41.0L39.6 41.9L40.1 42.8L40.8 43.8L43.3 46.9L45.8 49.9L48.3 52.6L50.8 55.0L53.4 57.3L55.9 59.3L58.4 61.2L60.9 63.0L63.5 64.7L66.0 66.2L68.5 67.8L71.0 69.2L73.6 70.6L76.1 72.0L78.6 73.3L81.1 74.5L83.7 75.7L86.2 76.9L88.7 78.1L91.2 79.2L93.8 80.3L96.3 81.3L98.8 82.2L101.3 83.1L103.9 83.9L106.4 84.7L108.9 85.5L111.4 86.3L114.0 87.1L116.5 87.9L119.0 88.7L121.5 89.6L124.0 90.4L126.6 91.3L129.1 92.3L131.6 93.3L134.1 94.5L136.7 95.9L139.2 97.4L139.8 97.8L140.3 98.1L140.7 98.3L141.1 98.6L141.5 98.9L142.0 99.2L142.4 99.5L142.8 99.8L143.2 100.1L143.7 100.4L144.1 100.7L144.5 101.0L144.9 101.3L145.4 101.6L145.8 101.9L146.2 102.3L146.6 102.6L147.1 103.0L147.5 103.3L147.9 103.7L148.3 104.0L148.8 104.4L149.2 104.8L149.6 105.2L150.0 105.6L150.5 106.1L150.9 106.5L151.3 106.9L151.7 107.4L152.2 107.9L152.6 108.4L153.0 108.9L153.4 109.4L153.9 110.0L154.3 110.5L154.7 111.1L155.1 111.8L155.6 112.5L156.0 113.2L156.4 114.0L156.8 114.8L157.3 115.6L157.7 116.5L158.1 117.4L158.5 118.3L159.0 119.4L159.4 120.5L159.8 121.7L160.2 123.0L160.7 124.5L161.1 126.3L161.5 128.4L161.9 131.0L162.4 134.0L162.8 137.5L163.2 141.7L163.7 146.6L164.1 152.3L164.4 157.1" stroke="#A2142F" stroke-width="0.48" />
<path d="M36.2 8.4L36.8 31.3L37.4 36.3L37.9 38.5L38.5 40.0L39.0 41.0L39.6 41.9L40.1 42.8L40.8 43.7L43.3 46.9L45.8 49.8L48.3 52.5L50.9 55.0L53.4 57.2L55.9 59.3L58.4 61.2L61.0 63.0L63.5 64.6L66.0 66.2L68.5 67.7L71.1 69.2L73.6 70.6L76.1 72.0L78.6 73.3L81.2 74.5L83.7 75.7L86.2 76.9L88.8 78.1L91.3 79.2L93.8 80.3L96.3 81.3L98.9 82.2L101.4 83.0L103.9 83.8L106.4 84.6L109.0 85.5L111.5 86.2L114.0 87.0L116.5 87.8L119.1 88.7L121.6 89.5L124.1 90.4L126.6 91.3L129.2 92.3L131.7 93.3L134.2 94.5L136.7 95.8L139.3 97.4L139.9 97.8L140.3 98.0L140.8 98.3L141.2 98.6L141.6 98.9L142.0 99.2L142.5 99.4L142.9 99.7L143.3 100.0L143.7 100.3L144.2 100.6L144.6 100.9L145.0 101.2L145.4 101.6L145.9 101.9L146.3 102.2L146.7 102.6L147.2 102.9L147.6 103.3L148.0 103.6L148.4 104.0L148.9 104.4L149.3 104.8L149.7 105.2L150.1 105.6L150.6 106.0L151.0 106.5L151.4 106.9L151.8 107.4L152.3 107.8L152.7 108.3L153.1 108.8L153.5 109.4L154.0 109.9L154.4 110.5L154.8 111.1L155.2 111.7L155.7 112.4L156.1 113.1L156.5 113.9L156.9 114.7L157.4 115.6L157.8 116.4L158.2 117.4L158.6 118.3L159.1 119.3L159.5 120.4L159.9 121.7L160.3 123.0L160.8 124.5L161.2 126.3L161.6 128.4L162.0 131.0L162.5 134.0L162.9 137.5L163.3 141.7L163.8 146.6L164.2 152.3L164.3 154.4" stroke="#0072BD" stroke-width="0.48" />
<path d="M36.2 8.4L36.8 30.4L37.4 35.5L38.0 37.7L38.6 39.2L39.1 40.3L39.7 41.2L40.3 42.0L41.0 43.0L43.6 46.2L46.2 49.0L48.9 51.6L51.5 54.0L54.1 56.2L56.8 58.2L59.4 60.1L62.0 61.8L64.7 63.4L67.3 65.0L69.9 66.5L72.6 67.9L75.2 69.3L77.9 70.6L80.5 71.9L83.1 73.1L85.8 74.3L88.4 75.5L91.0 76.7L93.7 77.8L96.3 78.9L98.9 79.9L101.6 80.8L104.2 81.7L106.8 82.5L109.5 83.3L112.1 84.1L114.8 84.8L117.4 85.6L120.0 86.4L122.7 87.2L125.3 88.1L127.9 88.9L130.6 89.8L133.2 90.7L135.8 91.7L138.5 92.9L141.1 94.2L143.7 95.6L144.4 96.0L144.9 96.3L145.3 96.5L145.8 96.8L146.2 97.0L146.6 97.3L147.1 97.6L147.5 97.9L148.0 98.2L148.4 98.4L148.9 98.7L149.3 99.0L149.8 99.3L150.2 99.6L150.6 100.0L151.1 100.3L151.5 100.6L152.0 101.0L152.4 101.3L152.9 101.7L153.3 102.0L153.7 102.4L154.2 102.8L154.6 103.2L155.1 103.6L155.5 104.0L156.0 104.4L156.4 104.9L156.9 105.3L157.3 105.8L157.7 106.3L158.2 106.8L158.6 107.3L159.1 107.9L159.5 108.5L160.0 109.1L160.4 109.7L160.9 110.4L161.3 111.2L161.7 112.0L162.2 112.8L162.6 113.7L163.1 114.6L163.5 115.5L164.0 116.5L164.4 117.6L164.9 118.7L165.3 119.9L165.7 121.3L166.2 122.9L166.6 124.7L167.1 127.0L167.5 129.6L168.0 132.8L168.4 136.4L168.8 140.8L169.3 146.0L169.7 151.8L170.2 158.3L170.2 158.7" stroke="#D95319" stroke-width="0.48" />
<path d="M36.2 8.4L36.8 30.8L37.4 35.9L37.9 38.1L38.5 39.6L39.1 40.6L39.6 41.5L40.2 42.4L40.9 43.3L43.4 46.5L46.0 49.4L48.6 52.1L51.2 54.5L53.8 56.7L56.4 58.7L59.0 60.6L61.5 62.4L64.1 64.0L66.7 65.6L69.3 67.1L71.9 68.5L74.5 69.9L77.0 71.3L79.6 72.5L82.2 73.8L84.8 75.0L87.4 76.2L90.0 77.3L92.5 78.5L95.1 79.5L97.7 80.5L100.3 81.5L102.9 82.3L105.5 83.1L108.0 83.9L110.6 84.7L113.2 85.5L115.8 86.3L118.4 87.1L121.0 87.9L123.6 88.8L126.1 89.6L128.7 90.5L131.3 91.4L133.9 92.5L136.5 93.6L139.1 95.0L141.6 96.4L142.3 96.8L142.7 97.1L143.2 97.4L143.6 97.6L144.0 97.9L144.5 98.2L144.9 98.5L145.4 98.7L145.8 99.0L146.2 99.3L146.7 99.6L147.1 99.9L147.5 100.2L148.0 100.5L148.4 100.9L148.8 101.2L149.3 101.5L149.7 101.9L150.1 102.2L150.6 102.6L151.0 103.0L151.4 103.3L151.9 103.7L152.3 104.1L152.8 104.5L153.2 104.9L153.6 105.4L154.1 105.8L154.5 106.3L154.9 106.8L155.4 107.2L155.8 107.8L156.2 108.3L156.7 108.8L157.1 109.4L157.5 110.0L158.0 110.7L158.4 111.4L158.8 112.1L159.3 112.9L159.7 113.7L160.2 114.6L160.6 115.5L161.0 116.4L161.5 117.4L161.9 118.4L162.3 119.5L162.8 120.7L163.2 122.1L163.6 123.7L164.1 125.5L164.5 127.6L164.9 130.3L165.4 133.3L165.8 136.9L166.3 141.2L166.7 146.3L167.1 152.0L167.3 155.3" stroke="#EDB120" stroke-width="0.48" />
<path d="M36.2 8.4L36.8 31.1L37.4 36.1L37.9 38.4L38.5 39.8L39.0 40.9L39.6 41.8L40.1 42.6L40.8 43.6L43.3 46.8L45.9 49.7L48.4 52.4L51.0 54.8L53.5 57.0L56.1 59.1L58.6 61.0L61.2 62.8L63.7 64.4L66.3 66.0L68.8 67.5L71.4 69.0L73.9 70.4L76.5 71.7L79.0 73.0L81.6 74.2L84.1 75.5L86.6 76.6L89.2 77.8L91.7 78.9L94.3 80.0L96.8 81.0L99.4 81.9L101.9 82.8L104.5 83.6L107.0 84.4L109.6 85.2L112.1 86.0L114.7 86.8L117.2 87.6L119.8 88.4L122.3 89.3L124.9 90.1L127.4 91.0L129.9 92.0L132.5 93.0L135.0 94.2L137.6 95.5L140.1 97.0L140.8 97.4L141.2 97.7L141.6 98.0L142.1 98.2L142.5 98.5L142.9 98.8L143.4 99.1L143.8 99.4L144.2 99.7L144.6 100.0L145.1 100.3L145.5 100.6L145.9 100.9L146.4 101.2L146.8 101.5L147.2 101.9L147.7 102.2L148.1 102.5L148.5 102.9L148.9 103.3L149.4 103.6L149.8 104.0L150.2 104.4L150.7 104.8L151.1 105.2L151.5 105.6L151.9 106.1L152.4 106.5L152.8 107.0L153.2 107.4L153.7 107.9L154.1 108.4L154.5 109.0L155.0 109.5L155.4 110.1L155.8 110.7L156.2 111.3L156.7 112.0L157.1 112.8L157.5 113.5L158.0 114.4L158.4 115.2L158.8 116.1L159.2 117.0L159.7 118.0L160.1 119.0L160.5 120.1L161.0 121.3L161.4 122.7L161.8 124.2L162.2 126.0L162.7 128.1L163.1 130.7L163.5 133.7L164.0 137.3L164.4 141.5L164.8 146.5L165.3 152.2L165.6 157.9" stroke="#77AC30" stroke-width="0.48" />
<path d="M36.2 8.4L36.8 31.3L37.4 36.3L37.9 38.5L38.5 40.0L39.0 41.0L39.6 41.9L40.1 42.8L40.8 43.8L43.3 46.9L45.8 49.9L48.3 52.6L50.8 55.0L53.4 57.3L55.9 59.3L58.4 61.2L60.9 63.0L63.5 64.7L66.0 66.3L68.5 67.8L71.0 69.2L73.6 70.6L76.1 72.0L78.6 73.3L81.1 74.5L83.6 75.8L86.2 76.9L88.7 78.1L91.2 79.2L93.7 80.3L96.3 81.3L98.8 82.2L101.3 83.1L103.8 83.9L106.4 84.7L108.9 85.5L111.4 86.3L113.9 87.1L116.5 87.9L119.0 88.7L121.5 89.6L124.0 90.5L126.5 91.3L129.1 92.3L131.6 93.3L134.1 94.5L136.6 95.9L139.2 97.4L139.8 97.8L140.2 98.1L140.7 98.4L141.1 98.6L141.5 98.9L141.9 99.2L142.4 99.5L142.8 99.8L143.2 100.1L143.6 100.4L144.1 100.7L144.5 101.0L144.9 101.3L145.3 101.6L145.8 101.9L146.2 102.3L146.6 102.6L147.0 103.0L147.5 103.3L147.9 103.7L148.3 104.1L148.7 104.4L149.2 104.8L149.6 105.2L150.0 105.7L150.4 106.1L150.9 106.5L151.3 107.0L151.7 107.4L152.1 107.9L152.6 108.4L153.0 108.9L153.4 109.4L153.8 110.0L154.3 110.6L154.7 111.2L155.1 111.8L155.5 112.5L156.0 113.2L156.4 114.0L156.8 114.8L157.2 115.6L157.7 116.5L158.1 117.4L158.5 118.4L158.9 119.4L159.4 120.5L159.8 121.7L160.2 123.0L160.6 124.6L161.1 126.3L161.5 128.4L161.9 131.0L162.3 134.0L162.8 137.5L163.2 141.7L163.6 146.7L164.0 152.1" stroke="#4DBEEE" stroke-width="0.48" />
<path d="M36.2 8.4L36.8 31.3L37.4 36.3L37.9 38.6L38.5 40.0L39.0 41.1L39.6 41.9L40.1 42.8L40.7 43.8L43.3 47.0L45.8 49.9L48.3 52.6L50.8 55.0L53.3 57.3L55.9 59.4L58.4 61.3L60.9 63.1L63.4 64.7L65.9 66.3L68.5 67.8L71.0 69.3L73.5 70.7L76.0 72.0L78.5 73.3L81.0 74.6L83.6 75.8L86.1 77.0L88.6 78.2L91.1 79.3L93.6 80.4L96.2 81.4L98.7 82.3L101.2 83.1L103.7 83.9L106.2 84.7L108.8 85.5L111.3 86.3L113.8 87.1L116.3 87.9L118.8 88.8L121.3 89.6L123.9 90.5L126.4 91.4L128.9 92.4L131.4 93.4L133.9 94.6L136.5 96.0L139.0 97.5L139.6 97.9L140.0 98.2L140.5 98.4L140.9 98.7L141.3 99.0L141.7 99.3L142.2 99.6L142.6 99.8L143.0 100.1L143.4 100.4L143.9 100.7L144.3 101.1L144.7 101.4L145.1 101.7L145.6 102.0L146.0 102.4L146.4 102.7L146.8 103.0L147.3 103.4L147.7 103.8L148.1 104.1L148.5 104.5L149.0 104.9L149.4 105.3L149.8 105.7L150.2 106.2L150.7 106.6L151.1 107.0L151.5 107.5L151.9 108.0L152.4 108.5L152.8 109.0L153.2 109.5L153.6 110.1L154.1 110.6L154.5 111.2L154.9 111.9L155.3 112.5L155.8 113.3L156.2 114.0L156.6 114.9L157.0 115.7L157.4 116.6L157.9 117.5L158.3 118.4L158.7 119.4L159.1 120.6L159.6 121.8L160.0 123.1L160.4 124.6L160.8 126.4L161.3 128.5L161.7 131.0L162.1 134.1L162.5 137.5L163.0 141.7L163.4 146.7L163.7 151.4" stroke="#A2142F" stroke-width="0.48" />
<path d="M36.2 8.4L36.8 31.6L37.3 36.6L37.9 38.8L38.4 40.3L39.0 41.3L39.5 42.2L40.0 43.0L40.7 44.0L43.2 47.2L45.6 50.2L48.1 52.9L50.6 55.4L53.1 57.6L55.6 59.7L58.1 61.6L60.6 63.4L63.0 65.1L65.5 66.7L68.0 68.2L70.5 69.7L73.0 71.1L75.5 72.5L77.9 73.8L80.4 75.0L82.9 76.3L85.4 77.4L87.9 78.6L90.4 79.7L92.8 80.8L95.3 81.8L97.8 82.7L100.3 83.6L102.8 84.4L105.3 85.2L107.7 86.0L110.2 86.8L112.7 87.6L115.2 88.4L117.7 89.2L120.2 90.1L122.6 91.0L125.1 91.9L127.6 92.9L130.1 93.9L132.6 95.1L135.1 96.5L137.6 98.0L138.2 98.5L138.6 98.7L139.0 99.0L139.4 99.3L139.9 99.6L140.3 99.9L140.7 100.1L141.1 100.4L141.5 100.7L142.0 101.0L142.4 101.4L142.8 101.7L143.2 102.0L143.6 102.3L144.0 102.6L144.5 103.0L144.9 103.3L145.3 103.7L145.7 104.0L146.1 104.4L146.6 104.8L147.0 105.2L147.4 105.6L147.8 106.0L148.2 106.4L148.6 106.8L149.1 107.2L149.5 107.7L149.9 108.1L150.3 108.6L150.7 109.1L151.2 109.6L151.6 110.2L152.0 110.7L152.4 111.3L152.8 111.9L153.3 112.5L153.7 113.2L154.1 113.9L154.5 114.7L154.9 115.5L155.3 116.3L155.8 117.2L156.2 118.1L156.6 119.0L157.0 120.0L157.4 121.1L157.9 122.3L158.3 123.6L158.7 125.1L159.1 126.8L159.5 128.9L159.9 131.5L160.4 134.4L160.8 137.9L161.2 142.0L161.6 146.9L162.0 152.5L162.4 157.6" stroke="#0072BD" stroke-width="0.48" />
<path d="M36.2 8.4L36.8 31.6L37.3 36.6L37.9 38.8L38.4 40.3L39.0 41.3L39.5 42.2L40.0 43.1L40.7 44.0L43.2 47.2L45.6 50.2L48.1 52.9L50.6 55.4L53.1 57.7L55.6 59.8L58.0 61.7L60.5 63.5L63.0 65.1L65.5 66.7L68.0 68.3L70.4 69.7L72.9 71.2L75.4 72.5L77.9 73.8L80.4 75.1L82.9 76.3L85.3 77.5L87.8 78.6L90.3 79.8L92.8 80.8L95.3 81.9L97.7 82.8L100.2 83.6L102.7 84.4L105.2 85.2L107.7 86.0L110.1 86.8L112.6 87.6L115.1 88.4L117.6 89.3L120.1 90.1L122.5 91.0L125.0 91.9L127.5 92.9L130.0 93.9L132.5 95.1L135.0 96.5L137.4 98.1L138.1 98.5L138.5 98.8L138.9 99.1L139.3 99.3L139.7 99.6L140.2 99.9L140.6 100.2L141.0 100.5L141.4 100.8L141.8 101.1L142.2 101.4L142.7 101.7L143.1 102.0L143.5 102.4L143.9 102.7L144.3 103.0L144.8 103.4L145.2 103.7L145.6 104.1L146.0 104.5L146.4 104.8L146.8 105.2L147.3 105.6L147.7 106.0L148.1 106.4L148.5 106.9L148.9 107.3L149.3 107.7L149.8 108.2L150.2 108.7L150.6 109.2L151.0 109.7L151.4 110.2L151.9 110.8L152.3 111.3L152.7 111.9L153.1 112.6L153.5 113.2L153.9 114.0L154.4 114.7L154.8 115.5L155.2 116.3L155.6 117.2L156.0 118.1L156.5 119.1L156.9 120.1L157.3 121.2L157.7 122.4L158.1 123.7L158.5 125.2L159.0 126.9L159.4 129.0L159.8 131.5L160.2 134.5L160.6 137.9L161.1 142.0L161.5 146.9L161.9 152.5L162.1 156.2" stroke="#EDB120" stroke-width="0.48" />
<path d="M36.2 8.4L36.8 31.7L37.3 36.7L37.9 38.9L38.4 40.4L38.9 41.4L39.5 42.3L40.0 43.1L40.7 44.1L43.1 47.3L45.6 50.3L48.1 53.0L50.5 55.5L53.0 57.8L55.5 59.9L57.9 61.8L60.4 63.6L62.9 65.3L65.4 66.9L67.8 68.4L70.3 69.9L72.8 71.3L75.2 72.6L77.7 73.9L80.2 75.2L82.7 76.4L85.1 77.6L87.6 78.8L90.1 79.9L92.5 81.0L95.0 82.0L97.5 82.9L99.9 83.7L102.4 84.5L104.9 85.4L107.4 86.2L109.8 87.0L112.3 87.8L114.8 88.6L117.2 89.4L119.7 90.3L122.2 91.2L124.6 92.1L127.1 93.0L129.6 94.1L132.1 95.3L134.5 96.7L137.0 98.3L137.6 98.7L138.0 98.9L138.5 99.2L138.9 99.5L139.3 99.8L139.7 100.1L140.1 100.4L140.5 100.7L141.0 101.0L141.4 101.3L141.8 101.6L142.2 101.9L142.6 102.2L143.0 102.5L143.5 102.9L143.9 103.2L144.3 103.6L144.7 103.9L145.1 104.3L145.5 104.6L146.0 105.0L146.4 105.4L146.8 105.8L147.2 106.2L147.6 106.6L148.0 107.1L148.5 107.5L148.9 107.9L149.3 108.4L149.7 108.9L150.1 109.4L150.5 109.9L150.9 110.4L151.4 111.0L151.8 111.5L152.2 112.1L152.6 112.8L153.0 113.4L153.4 114.1L153.9 114.9L154.3 115.7L154.7 116.5L155.1 117.4L155.5 118.3L155.9 119.2L156.4 120.2L156.8 121.3L157.2 122.5L157.6 123.9L158.0 125.3L158.4 127.0L158.9 129.1L159.3 131.6L159.7 134.6L160.1 138.0L160.5 142.1L160.9 147.0L161.4 152.5L161.7 157.5" stroke="#7E2F8E" stroke-width="0.48" />
<path d="M36.2 8.4L36.8 31.7L37.3 36.7L37.9 38.9L38.4 40.3L39.0 41.4L39.5 42.3L40.0 43.1L40.7 44.1L43.1 47.3L45.6 50.2L48.1 53.0L50.6 55.4L53.0 57.7L55.5 59.8L58.0 61.7L60.5 63.5L62.9 65.2L65.4 66.8L67.9 68.3L70.3 69.8L72.8 71.2L75.3 72.6L77.8 73.9L80.2 75.2L82.7 76.4L85.2 77.6L87.7 78.7L90.1 79.9L92.6 80.9L95.1 81.9L97.6 82.9L100.0 83.7L102.5 84.5L105.0 85.3L107.5 86.1L109.9 86.9L112.4 87.7L114.9 88.5L117.3 89.4L119.8 90.2L122.3 91.1L124.8 92.0L127.2 93.0L129.7 94.1L132.2 95.3L134.7 96.6L137.1 98.2L137.8 98.6L138.2 98.9L138.6 99.2L139.0 99.5L139.4 99.7L139.9 100.0L140.3 100.3L140.7 100.6L141.1 100.9L141.5 101.2L141.9 101.5L142.4 101.8L142.8 102.2L143.2 102.5L143.6 102.8L144.0 103.2L144.4 103.5L144.9 103.9L145.3 104.2L145.7 104.6L146.1 105.0L146.5 105.4L146.9 105.8L147.4 106.2L147.8 106.6L148.2 107.0L148.6 107.4L149.0 107.9L149.4 108.3L149.9 108.8L150.3 109.3L150.7 109.8L151.1 110.3L151.5 110.9L151.9 111.5L152.4 112.1L152.8 112.7L153.2 113.4L153.6 114.1L154.0 114.8L154.4 115.6L154.9 116.5L155.3 117.3L155.7 118.2L156.1 119.2L156.5 120.2L156.9 121.3L157.4 122.5L157.8 123.8L158.2 125.3L158.6 127.0L159.0 129.1L159.4 131.6L159.9 134.5L160.3 138.0L160.7 142.1L161.1 147.0L161.4 151.1" stroke="#77AC30" stroke-width="0.48" />
<path d="M36.2 8.4L36.8 31.7L37.3 36.7L37.9 38.9L38.4 40.4L38.9 41.4L39.5 42.3L40.0 43.1L40.7 44.1L43.1 47.3L45.6 50.3L48.1 53.0L50.5 55.5L53.0 57.8L55.5 59.9L58.0 61.8L60.4 63.6L62.9 65.3L65.4 66.9L67.8 68.4L70.3 69.9L72.8 71.3L75.2 72.6L77.7 73.9L80.2 75.2L82.7 76.4L85.1 77.6L87.6 78.8L90.1 79.9L92.5 81.0L95.0 82.0L97.5 82.9L100.0 83.7L102.4 84.5L104.9 85.3L107.4 86.2L109.8 87.0L112.3 87.8L114.8 88.6L117.3 89.4L119.7 90.3L122.2 91.2L124.7 92.1L127.1 93.0L129.6 94.1L132.1 95.3L134.5 96.7L137.0 98.2L137.6 98.7L138.1 98.9L138.5 99.2L138.9 99.5L139.3 99.8L139.7 100.1L140.1 100.4L140.6 100.7L141.0 101.0L141.4 101.3L141.8 101.6L142.2 101.9L142.6 102.2L143.1 102.5L143.5 102.9L143.9 103.2L144.3 103.6L144.7 103.9L145.1 104.3L145.6 104.6L146.0 105.0L146.4 105.4L146.8 105.8L147.2 106.2L147.6 106.6L148.1 107.1L148.5 107.5L148.9 107.9L149.3 108.4L149.7 108.9L150.1 109.4L150.6 109.9L151.0 110.4L151.4 111.0L151.8 111.5L152.2 112.1L152.6 112.8L153.1 113.4L153.5 114.1L153.9 114.9L154.3 115.7L154.7 116.5L155.1 117.4L155.5 118.3L156.0 119.2L156.4 120.2L156.8 121.3L157.2 122.5L157.6 123.8L158.0 125.3L158.5 127.0L158.9 129.1L159.3 131.6L159.7 134.6L160.1 138.0L160.5 142.1L161.0 147.0L161.2 150.2" stroke="#4DBEEE" stroke-width="0.48" />
<path d="M36.2 8.4L36.8 31.5L37.3 36.5L37.9 38.7L38.4 40.2L39.0 41.2L39.5 42.1L40.1 43.0L40.7 43.9L43.2 47.1L45.7 50.1L48.2 52.8L50.7 55.3L53.2 57.5L55.7 59.6L58.2 61.5L60.7 63.3L63.2 65.0L65.7 66.6L68.1 68.1L70.6 69.6L73.1 71.0L75.6 72.3L78.1 73.6L80.6 74.9L83.1 76.1L85.6 77.3L88.1 78.5L90.6 79.6L93.1 80.7L95.6 81.7L98.1 82.6L100.6 83.4L103.1 84.2L105.6 85.0L108.1 85.8L110.6 86.6L113.1 87.4L115.6 88.3L118.0 89.1L120.5 90.0L123.0 90.8L125.5 91.7L128.0 92.7L130.5 93.7L133.0 94.9L135.5 96.3L138.0 97.9L138.6 98.3L139.1 98.5L139.5 98.8L139.9 99.1L140.3 99.4L140.7 99.7L141.2 100.0L141.6 100.3L142.0 100.5L142.4 100.8L142.8 101.2L143.3 101.5L143.7 101.8L144.1 102.1L144.5 102.4L145.0 102.8L145.4 103.1L145.8 103.5L146.2 103.8L146.6 104.2L147.1 104.6L147.5 105.0L147.9 105.4L148.3 105.8L148.7 106.2L149.2 106.6L149.6 107.0L150.0 107.5L150.4 107.9L150.8 108.4L151.3 108.9L151.7 109.4L152.1 109.9L152.5 110.5L152.9 111.1L153.4 111.7L153.8 112.3L154.2 113.0L154.6 113.7L155.0 114.5L155.5 115.3L155.9 116.1L156.3 117.0L156.7 117.9L157.1 118.8L157.6 119.8L158.0 120.9L158.4 122.1L158.8 123.5L159.2 125.0L159.7 126.7L160.1 128.8L160.5 131.3L160.9 134.3L161.3 137.8L161.8 141.9L162.2 146.8L162.6 152.4L163.0 158.6L163.0 158.8" stroke="#0072BD" stroke-width="0.48" />
<path d="M36.2 8.4L36.8 31.7L37.3 36.7L37.9 38.9L38.4 40.4L38.9 41.4L39.5 42.3L40.0 43.1L40.7 44.1L43.1 47.3L45.6 50.3L48.1 53.0L50.5 55.5L53.0 57.8L55.5 59.9L57.9 61.8L60.4 63.6L62.9 65.3L65.4 66.9L67.8 68.4L70.3 69.9L72.8 71.3L75.2 72.7L77.7 74.0L80.2 75.2L82.6 76.4L85.1 77.6L87.6 78.8L90.1 79.9L92.5 81.0L95.0 82.0L97.5 82.9L99.9 83.8L102.4 84.5L104.9 85.4L107.3 86.2L109.8 87.0L112.3 87.8L114.7 88.6L117.2 89.4L119.7 90.3L122.2 91.2L124.6 92.1L127.1 93.0L129.6 94.1L132.0 95.3L134.5 96.7L137.0 98.3L137.6 98.7L138.0 99.0L138.4 99.2L138.9 99.5L139.3 99.8L139.7 100.1L140.1 100.4L140.5 100.7L140.9 101.0L141.3 101.3L141.8 101.6L142.2 101.9L142.6 102.2L143.0 102.6L143.4 102.9L143.8 103.2L144.3 103.6L144.7 103.9L145.1 104.3L145.5 104.7L145.9 105.0L146.3 105.4L146.8 105.8L147.2 106.2L147.6 106.6L148.0 107.1L148.4 107.5L148.8 108.0L149.3 108.4L149.7 108.9L150.1 109.4L150.5 109.9L150.9 110.4L151.3 111.0L151.8 111.5L152.2 112.1L152.6 112.8L153.0 113.4L153.4 114.2L153.8 114.9L154.2 115.7L154.7 116.5L155.1 117.4L155.5 118.3L155.9 119.2L156.3 120.2L156.7 121.3L157.2 122.5L157.6 123.9L158.0 125.3L158.4 127.0L158.8 129.1L159.2 131.6L159.7 134.6L160.1 138.0L160.5 142.1L160.9 147.0L161.3 152.5L161.7 158.7L161.8 158.9" stroke="#D95319" stroke-width="0.48" />
<path d="M36.2 8.4L36.8 31.8L37.3 36.8L37.9 39.0L38.4 40.5L38.9 41.6L39.5 42.4L40.0 43.3L40.6 44.2L43.1 47.4L45.5 50.4L48.0 53.2L50.4 55.7L52.9 58.0L55.3 60.1L57.8 62.0L60.2 63.8L62.7 65.5L65.1 67.1L67.6 68.6L70.0 70.1L72.5 71.5L74.9 72.9L77.4 74.2L79.8 75.5L82.3 76.7L84.7 77.9L87.2 79.0L89.6 80.2L92.1 81.2L94.5 82.2L97.0 83.2L99.4 84.0L101.9 84.8L104.3 85.6L106.8 86.4L109.2 87.2L111.7 88.0L114.1 88.8L116.6 89.7L119.0 90.6L121.5 91.4L123.9 92.4L126.4 93.3L128.8 94.4L131.3 95.6L133.7 97.0L136.2 98.6L136.8 99.0L137.2 99.3L137.6 99.6L138.1 99.8L138.5 100.1L138.9 100.4L139.3 100.7L139.7 101.0L140.1 101.3L140.5 101.6L140.9 101.9L141.4 102.2L141.8 102.6L142.2 102.9L142.6 103.2L143.0 103.6L143.4 103.9L143.8 104.3L144.2 104.6L144.7 105.0L145.1 105.4L145.5 105.8L145.9 106.2L146.3 106.6L146.7 107.0L147.1 107.4L147.6 107.9L148.0 108.3L148.4 108.8L148.8 109.2L149.2 109.7L149.6 110.2L150.0 110.8L150.4 111.3L150.9 111.9L151.3 112.5L151.7 113.1L152.1 113.8L152.5 114.5L152.9 115.3L153.3 116.0L153.7 116.9L154.2 117.7L154.6 118.6L155.0 119.6L155.4 120.6L155.8 121.6L156.2 122.8L156.6 124.2L157.0 125.6L157.5 127.3L157.9 129.4L158.3 131.9L158.7 134.8L159.1 138.2L159.5 142.3L159.9 147.1L160.4 152.6L160.4 153.8" stroke="#EDB120" stroke-width="0.48" />
<path d="M36.2 8.4L36.8 31.9L37.3 36.9L37.8 39.1L38.4 40.6L38.9 41.6L39.4 42.5L40.0 43.4L40.6 44.3L43.0 47.5L45.5 50.5L47.9 53.3L50.3 55.8L52.8 58.1L55.2 60.2L57.7 62.1L60.1 63.9L62.5 65.6L65.0 67.2L67.4 68.8L69.8 70.3L72.3 71.7L74.7 73.1L77.1 74.4L79.6 75.6L82.0 76.8L84.5 78.0L86.9 79.2L89.3 80.3L91.8 81.4L94.2 82.4L96.6 83.3L99.1 84.2L101.5 85.0L104.0 85.8L106.4 86.6L108.8 87.4L111.3 88.2L113.7 89.0L116.1 89.9L118.6 90.7L121.0 91.6L123.4 92.5L125.9 93.5L128.3 94.6L130.8 95.8L133.2 97.2L135.6 98.8L136.2 99.2L136.7 99.5L137.1 99.8L137.5 100.1L137.9 100.4L138.3 100.6L138.7 100.9L139.1 101.2L139.5 101.5L139.9 101.8L140.4 102.2L140.8 102.5L141.2 102.8L141.6 103.1L142.0 103.5L142.4 103.8L142.8 104.2L143.2 104.5L143.6 104.9L144.0 105.3L144.5 105.6L144.9 106.0L145.3 106.4L145.7 106.8L146.1 107.3L146.5 107.7L146.9 108.1L147.3 108.6L147.7 109.0L148.2 109.5L148.6 110.0L149.0 110.5L149.4 111.0L149.8 111.6L150.2 112.2L150.6 112.8L151.0 113.4L151.4 114.0L151.8 114.8L152.3 115.5L152.7 116.3L153.1 117.1L153.5 118.0L153.9 118.8L154.3 119.8L154.7 120.8L155.1 121.9L155.5 123.1L156.0 124.4L156.4 125.8L156.8 127.5L157.2 129.5L157.6 132.0L158.0 134.9L158.4 138.3L158.8 142.4L159.2 147.2L159.6 152.7L159.7 153.3" stroke="#7E2F8E" stroke-width="0.48" />
<path d="M36.2 8.4L36.8 32.1L37.3 37.0L37.8 39.2L38.4 40.7L38.9 41.8L39.4 42.6L40.0 43.5L40.6 44.4L43.0 47.6L45.4 50.6L47.8 53.4L50.3 55.9L52.7 58.2L55.1 60.4L57.5 62.3L59.9 64.1L62.4 65.8L64.8 67.4L67.2 69.0L69.6 70.4L72.0 71.9L74.5 73.2L76.9 74.6L79.3 75.8L81.7 77.0L84.1 78.2L86.6 79.4L89.0 80.5L91.4 81.6L93.8 82.6L96.3 83.5L98.7 84.4L101.1 85.2L103.5 86.0L105.9 86.8L108.4 87.6L110.8 88.4L113.2 89.2L115.6 90.1L118.0 90.9L120.5 91.8L122.9 92.8L125.3 93.7L127.7 94.8L130.1 96.0L132.6 97.5L135.0 99.0L135.6 99.5L136.0 99.7L136.4 100.0L136.8 100.3L137.2 100.6L137.6 100.9L138.1 101.2L138.5 101.5L138.9 101.8L139.3 102.1L139.7 102.4L140.1 102.8L140.5 103.1L140.9 103.4L141.3 103.7L141.7 104.1L142.1 104.4L142.5 104.8L143.0 105.2L143.4 105.5L143.8 105.9L144.2 106.3L144.6 106.7L145.0 107.1L145.4 107.5L145.8 108.0L146.2 108.4L146.6 108.9L147.0 109.3L147.4 109.8L147.8 110.3L148.3 110.8L148.7 111.3L149.1 111.9L149.5 112.4L149.9 113.0L150.3 113.7L150.7 114.3L151.1 115.0L151.5 115.8L151.9 116.6L152.3 117.4L152.7 118.2L153.1 119.1L153.6 120.0L154.0 121.0L154.4 122.1L154.8 123.3L155.2 124.6L155.6 126.1L156.0 127.7L156.4 129.7L156.8 132.2L157.2 135.1L157.6 138.5L158.0 142.5L158.5 147.3L158.9 152.7L159.0 154.3" stroke="#4DBEEE" stroke-width="0.48" />
<path d="M36.2 8.4L36.8 32.2L37.3 37.1L37.8 39.3L38.4 40.8L38.9 41.9L39.4 42.7L39.9 43.6L40.5 44.5L43.0 47.7L45.4 50.7L47.8 53.5L50.2 56.0L52.6 58.4L55.0 60.5L57.4 62.4L59.8 64.2L62.2 66.0L64.6 67.6L67.0 69.1L69.4 70.6L71.8 72.0L74.2 73.4L76.6 74.7L79.1 76.0L81.5 77.2L83.9 78.4L86.3 79.6L88.7 80.7L91.1 81.8L93.5 82.8L95.9 83.7L98.3 84.6L100.7 85.3L103.1 86.1L105.5 87.0L107.9 87.8L110.3 88.6L112.8 89.4L115.2 90.3L117.6 91.1L120.0 92.0L122.4 93.0L124.8 93.9L127.2 95.0L129.6 96.2L132.0 97.7L134.4 99.3L135.0 99.7L135.4 100.0L135.8 100.3L136.2 100.6L136.7 100.8L137.1 101.1L137.5 101.4L137.9 101.7L138.3 102.0L138.7 102.4L139.1 102.7L139.5 103.0L139.9 103.3L140.3 103.7L140.7 104.0L141.1 104.3L141.5 104.7L141.9 105.1L142.3 105.4L142.7 105.8L143.1 106.2L143.5 106.6L144.0 107.0L144.4 107.4L144.8 107.8L145.2 108.2L145.6 108.7L146.0 109.1L146.4 109.6L146.8 110.1L147.2 110.6L147.6 111.1L148.0 111.6L148.4 112.1L148.8 112.7L149.2 113.3L149.6 113.9L150.0 114.6L150.4 115.3L150.8 116.0L151.3 116.8L151.7 117.6L152.1 118.5L152.5 119.3L152.9 120.3L153.3 121.3L153.7 122.3L154.1 123.5L154.5 124.8L154.9 126.3L155.3 127.9L155.7 129.9L156.1 132.4L156.5 135.3L156.9 138.6L157.3 142.6L157.7 147.4L158.0 150.6" stroke="#A2142F" stroke-width="0.48" />
<path d="M36.2 8.4L36.8 32.3L37.3 37.2L37.8 39.4L38.3 40.9L38.9 41.9L39.4 42.8L39.9 43.6L40.5 44.6L42.9 47.8L45.3 50.8L47.7 53.6L50.1 56.1L52.5 58.5L54.9 60.6L57.3 62.5L59.7 64.4L62.1 66.1L64.5 67.7L66.9 69.3L69.3 70.7L71.7 72.2L74.1 73.6L76.5 74.9L78.9 76.1L81.3 77.4L83.6 78.6L86.0 79.7L88.4 80.9L90.8 81.9L93.2 82.9L95.6 83.9L98.0 84.7L100.4 85.5L102.8 86.3L105.2 87.1L107.6 87.9L110.0 88.7L112.4 89.5L114.8 90.4L117.2 91.3L119.6 92.2L122.0 93.1L124.4 94.1L126.8 95.2L129.2 96.4L131.6 97.8L134.0 99.4L134.6 99.9L135.0 100.2L135.4 100.4L135.8 100.7L136.2 101.0L136.6 101.3L137.0 101.6L137.4 101.9L137.8 102.2L138.2 102.5L138.6 102.9L139.0 103.2L139.4 103.5L139.8 103.9L140.2 104.2L140.6 104.5L141.0 104.9L141.4 105.3L141.8 105.6L142.2 106.0L142.6 106.4L143.0 106.8L143.4 107.2L143.9 107.6L144.3 108.0L144.7 108.4L145.1 108.9L145.5 109.3L145.9 109.8L146.3 110.3L146.7 110.8L147.1 111.3L147.5 111.8L147.9 112.3L148.3 112.9L148.7 113.5L149.1 114.1L149.5 114.8L149.9 115.5L150.3 116.2L150.7 117.0L151.1 117.8L151.5 118.6L151.9 119.5L152.3 120.4L152.7 121.4L153.1 122.5L153.5 123.7L153.9 125.0L154.3 126.4L154.8 128.1L155.2 130.1L155.6 132.5L156.0 135.4L156.4 138.7L156.8 142.7L157.2 147.4L157.6 152.8L157.8 156.4" stroke="#0072BD" stroke-width="0.48" />
<path d="M36.2 8.4L36.8 32.3L37.3 37.3L37.8 39.5L38.3 40.9L38.9 42.0L39.4 42.8L39.9 43.7L40.5 44.7L42.9 47.9L45.3 50.9L47.7 53.7L50.1 56.2L52.5 58.6L54.8 60.7L57.2 62.6L59.6 64.4L62.0 66.2L64.4 67.8L66.8 69.3L69.2 70.8L71.6 72.3L73.9 73.6L76.3 75.0L78.7 76.2L81.1 77.5L83.5 78.7L85.9 79.8L88.3 81.0L90.7 82.0L93.1 83.0L95.4 84.0L97.8 84.8L100.2 85.6L102.6 86.4L105.0 87.2L107.4 88.0L109.8 88.8L112.2 89.6L114.5 90.5L116.9 91.4L119.3 92.3L121.7 93.2L124.1 94.2L126.5 95.3L128.9 96.5L131.3 98.0L133.6 99.6L134.3 100.0L134.7 100.3L135.1 100.6L135.5 100.9L135.9 101.2L136.3 101.5L136.7 101.8L137.1 102.1L137.5 102.4L137.9 102.7L138.3 103.0L138.7 103.3L139.1 103.6L139.5 104.0L139.9 104.3L140.3 104.7L140.7 105.0L141.1 105.4L141.5 105.8L141.9 106.1L142.3 106.5L142.7 106.9L143.1 107.3L143.5 107.7L143.9 108.2L144.3 108.6L144.7 109.0L145.1 109.5L145.5 109.9L145.9 110.4L146.3 110.9L146.7 111.4L147.1 111.9L147.5 112.5L147.9 113.1L148.3 113.6L148.7 114.3L149.1 114.9L149.5 115.6L150.0 116.4L150.4 117.1L150.8 117.9L151.2 118.8L151.6 119.6L152.0 120.6L152.4 121.6L152.8 122.6L153.2 123.8L153.6 125.1L154.0 126.5L154.4 128.2L154.8 130.2L155.2 132.6L155.6 135.5L156.0 138.8L156.4 142.8L156.8 147.5L157.2 152.4" stroke="#D95319" stroke-width="0.48" />
<path d="M36.2 8.4L36.8 32.3L37.3 37.3L37.8 39.5L38.3 40.9L38.9 42.0L39.4 42.9L39.9 43.7L40.5 44.7L42.9 47.9L45.3 50.9L47.7 53.7L50.0 56.2L52.4 58.6L54.8 60.7L57.2 62.6L59.6 64.5L62.0 66.2L64.4 67.8L66.7 69.4L69.1 70.9L71.5 72.3L73.9 73.7L76.3 75.0L78.7 76.3L81.1 77.5L83.4 78.7L85.8 79.9L88.2 81.0L90.6 82.1L93.0 83.1L95.4 84.0L97.8 84.8L100.1 85.6L102.5 86.4L104.9 87.2L107.3 88.0L109.7 88.8L112.1 89.7L114.5 90.5L116.8 91.4L119.2 92.3L121.6 93.2L124.0 94.2L126.4 95.3L128.8 96.5L131.2 98.0L133.5 99.6L134.2 100.0L134.6 100.3L135.0 100.6L135.4 100.9L135.8 101.2L136.2 101.5L136.6 101.8L137.0 102.1L137.4 102.4L137.8 102.7L138.2 103.0L138.6 103.4L139.0 103.7L139.4 104.0L139.8 104.4L140.2 104.7L140.6 105.1L141.0 105.4L141.4 105.8L141.8 106.2L142.2 106.6L142.6 107.0L143.0 107.4L143.4 107.8L143.8 108.2L144.2 108.6L144.6 109.1L145.0 109.5L145.4 110.0L145.8 110.5L146.2 110.9L146.6 111.5L147.0 112.0L147.4 112.5L147.8 113.1L148.2 113.7L148.6 114.3L149.0 115.0L149.4 115.7L149.8 116.4L150.2 117.2L150.6 118.0L151.0 118.8L151.4 119.7L151.8 120.6L152.2 121.6L152.6 122.7L153.1 123.8L153.5 125.1L153.9 126.6L154.3 128.2L154.7 130.2L155.1 132.6L155.5 135.5L155.9 138.8L156.3 142.8L156.7 147.5L157.0 152.0" stroke="#7E2F8E" stroke-width="0.48" />
<path d="M36.2 8.4L36.8 32.5L37.3 37.4L37.8 39.6L38.3 41.1L38.8 42.1L39.4 43.0L39.9 43.8L40.5 44.8L42.8 48.0L45.2 51.0L47.6 53.9L50.0 56.4L52.3 58.7L54.7 60.9L57.1 62.8L59.4 64.7L61.8 66.4L64.2 68.0L66.5 69.6L68.9 71.1L71.3 72.5L73.6 73.9L76.0 75.2L78.4 76.5L80.7 77.7L83.1 78.9L85.5 80.1L87.9 81.2L90.2 82.3L92.6 83.3L95.0 84.2L97.3 85.0L99.7 85.8L102.1 86.6L104.4 87.4L106.8 88.3L109.2 89.1L111.5 89.9L113.9 90.8L116.3 91.6L118.6 92.6L121.0 93.5L123.4 94.5L125.8 95.6L128.1 96.8L130.5 98.3L132.9 99.9L133.5 100.3L133.9 100.6L134.3 100.9L134.7 101.2L135.1 101.5L135.5 101.8L135.9 102.1L136.3 102.4L136.7 102.7L137.1 103.0L137.5 103.3L137.9 103.7L138.3 104.0L138.7 104.3L139.1 104.7L139.4 105.0L139.8 105.4L140.2 105.7L140.6 106.1L141.0 106.5L141.4 106.9L141.8 107.3L142.2 107.7L142.6 108.1L143.0 108.5L143.4 108.9L143.8 109.4L144.2 109.8L144.6 110.3L145.0 110.8L145.4 111.3L145.8 111.8L146.2 112.3L146.6 112.8L147.0 113.4L147.4 114.0L147.8 114.6L148.2 115.3L148.6 116.0L149.0 116.7L149.4 117.5L149.8 118.3L150.2 119.1L150.6 120.0L151.0 120.9L151.4 121.9L151.8 122.9L152.2 124.1L152.6 125.4L153.0 126.8L153.4 128.4L153.8 130.4L154.2 132.8L154.6 135.7L155.0 139.0L155.4 142.9L155.8 147.6L156.2 152.9L156.5 156.9" stroke="#77AC30" stroke-width="0.48" />
<path d="M36.2 8.4L36.8 32.5L37.3 37.4L37.8 39.6L38.3 41.1L38.8 42.1L39.4 43.0L39.9 43.8L40.5 44.8L42.8 48.0L45.2 51.0L47.6 53.9L49.9 56.4L52.3 58.8L54.7 60.9L57.0 62.8L59.4 64.7L61.8 66.4L64.1 68.0L66.5 69.6L68.9 71.1L71.2 72.5L73.6 73.9L76.0 75.2L78.3 76.5L80.7 77.7L83.1 78.9L85.4 80.1L87.8 81.2L90.2 82.3L92.5 83.3L94.9 84.2L97.3 85.1L99.6 85.9L102.0 86.7L104.4 87.5L106.7 88.3L109.1 89.1L111.5 89.9L113.8 90.8L116.2 91.7L118.6 92.6L120.9 93.5L123.3 94.5L125.7 95.6L128.0 96.8L130.4 98.3L132.8 99.9L133.4 100.3L133.8 100.6L134.2 100.9L134.6 101.2L135.0 101.5L135.4 101.8L135.8 102.1L136.2 102.4L136.6 102.7L136.9 103.1L137.3 103.4L137.7 103.7L138.1 104.0L138.5 104.4L138.9 104.7L139.3 105.1L139.7 105.4L140.1 105.8L140.5 106.2L140.9 106.5L141.3 106.9L141.7 107.3L142.1 107.7L142.5 108.1L142.9 108.6L143.3 109.0L143.7 109.4L144.1 109.9L144.5 110.3L144.9 110.8L145.3 111.3L145.7 111.8L146.1 112.3L146.5 112.9L146.9 113.5L147.3 114.0L147.7 114.7L148.1 115.3L148.5 116.0L148.9 116.8L149.3 117.5L149.7 118.3L150.1 119.1L150.5 120.0L150.9 120.9L151.3 121.9L151.7 123.0L152.1 124.1L152.5 125.4L152.9 126.9L153.3 128.5L153.7 130.4L154.1 132.9L154.5 135.7L154.9 139.0L155.3 142.9L155.7 147.6L156.1 153.0L156.4 156.9" stroke="#4DBEEE" stroke-width="0.48" />
<path d="M36.2 8.4L36.8 32.7L37.3 37.6L37.8 39.8L38.3 41.3L38.8 42.3L39.3 43.2L39.8 44.0L40.4 45.0L42.8 48.2L45.1 51.2L47.4 54.1L49.8 56.6L52.1 59.0L54.5 61.2L56.8 63.1L59.1 65.0L61.5 66.7L63.8 68.3L66.2 69.9L68.5 71.4L70.8 72.9L73.2 74.2L75.5 75.6L77.9 76.8L80.2 78.1L82.5 79.3L84.9 80.4L87.2 81.6L89.6 82.6L91.9 83.7L94.2 84.6L96.6 85.4L98.9 86.2L101.3 87.0L103.6 87.8L105.9 88.6L108.3 89.4L110.6 90.3L113.0 91.1L115.3 92.0L117.6 92.9L120.0 93.9L122.3 94.9L124.7 96.0L127.0 97.2L129.3 98.7L131.7 100.3L132.3 100.8L132.7 101.1L133.1 101.4L133.5 101.7L133.9 102.0L134.3 102.3L134.6 102.6L135.0 102.9L135.4 103.2L135.8 103.5L136.2 103.8L136.6 104.2L137.0 104.5L137.4 104.8L137.8 105.2L138.2 105.5L138.6 105.9L139.0 106.2L139.4 106.6L139.8 107.0L140.2 107.4L140.6 107.8L141.0 108.2L141.4 108.6L141.7 109.0L142.1 109.5L142.5 109.9L142.9 110.4L143.3 110.8L143.7 111.3L144.1 111.8L144.5 112.3L144.9 112.8L145.3 113.4L145.7 113.9L146.1 114.5L146.5 115.2L146.9 115.8L147.3 116.5L147.7 117.2L148.1 118.0L148.4 118.8L148.8 119.6L149.2 120.4L149.6 121.4L150.0 122.3L150.4 123.4L150.8 124.6L151.2 125.8L151.6 127.3L152.0 128.8L152.4 130.8L152.8 133.2L153.2 136.0L153.6 139.2L154.0 143.1L154.4 147.8L154.6 151.4" stroke="#A2142F" stroke-width="0.48" />
<path d="M36.2 8.4L36.8 32.7L37.3 37.6L37.8 39.8L38.3 41.2L38.8 42.3L39.3 43.2L39.8 44.0L40.4 45.0L42.8 48.2L45.1 51.2L47.5 54.1L49.8 56.6L52.1 59.0L54.5 61.1L56.8 63.1L59.2 64.9L61.5 66.7L63.8 68.3L66.2 69.9L68.5 71.4L70.9 72.8L73.2 74.2L75.6 75.5L77.9 76.8L80.2 78.0L82.6 79.2L84.9 80.4L87.3 81.5L89.6 82.6L91.9 83.6L94.3 84.6L96.6 85.4L99.0 86.2L101.3 87.0L103.7 87.8L106.0 88.6L108.3 89.4L110.7 90.2L113.0 91.1L115.4 92.0L117.7 92.9L120.1 93.8L122.4 94.8L124.7 95.9L127.1 97.2L129.4 98.7L131.8 100.3L132.4 100.7L132.8 101.0L133.1 101.3L133.5 101.6L133.9 101.9L134.3 102.2L134.7 102.5L135.1 102.8L135.5 103.2L135.9 103.5L136.3 103.8L136.7 104.1L137.1 104.5L137.5 104.8L137.9 105.1L138.3 105.5L138.7 105.8L139.1 106.2L139.5 106.6L139.9 107.0L140.3 107.4L140.6 107.8L141.0 108.2L141.4 108.6L141.8 109.0L142.2 109.4L142.6 109.9L143.0 110.3L143.4 110.8L143.8 111.3L144.2 111.8L144.6 112.3L145.0 112.8L145.4 113.3L145.8 113.9L146.2 114.5L146.6 115.1L147.0 115.8L147.4 116.5L147.7 117.2L148.1 117.9L148.5 118.7L148.9 119.6L149.3 120.4L149.7 121.3L150.1 122.3L150.5 123.4L150.9 124.5L151.3 125.8L151.7 127.2L152.1 128.8L152.5 130.8L152.9 133.2L153.3 136.0L153.7 139.2L154.1 143.1L154.5 147.8L154.9 153.1L155.2 158.7" stroke="#D95319" stroke-width="0.48" />
<path d="M36.2 8.4L36.8 32.5L37.3 37.4L37.8 39.6L38.3 41.1L38.8 42.1L39.3 43.0L39.9 43.8L40.5 44.8L42.8 48.0L45.2 51.1L47.6 53.9L49.9 56.4L52.3 58.8L54.7 60.9L57.0 62.9L59.4 64.7L61.7 66.4L64.1 68.1L66.5 69.6L68.8 71.1L71.2 72.6L73.6 73.9L75.9 75.3L78.3 76.5L80.7 77.8L83.0 79.0L85.4 80.1L87.7 81.3L90.1 82.3L92.5 83.3L94.8 84.3L97.2 85.1L99.6 85.9L101.9 86.7L104.3 87.5L106.7 88.3L109.0 89.1L111.4 90.0L113.7 90.8L116.1 91.7L118.5 92.6L120.8 93.5L123.2 94.5L125.6 95.6L127.9 96.9L130.3 98.3L132.7 100.0L133.3 100.4L133.7 100.7L134.1 101.0L134.5 101.3L134.9 101.6L135.3 101.9L135.7 102.2L136.1 102.5L136.4 102.8L136.8 103.1L137.2 103.4L137.6 103.7L138.0 104.1L138.4 104.4L138.8 104.8L139.2 105.1L139.6 105.5L140.0 105.8L140.4 106.2L140.8 106.6L141.2 107.0L141.6 107.4L142.0 107.8L142.4 108.2L142.8 108.6L143.2 109.0L143.6 109.5L144.0 109.9L144.4 110.4L144.8 110.9L145.2 111.4L145.6 111.9L146.0 112.4L146.4 112.9L146.8 113.5L147.2 114.1L147.6 114.7L148.0 115.4L148.4 116.1L148.8 116.8L149.2 117.6L149.6 118.4L150.0 119.2L150.4 120.1L150.8 121.0L151.2 122.0L151.6 123.0L152.0 124.2L152.4 125.5L152.8 126.9L153.2 128.5L153.6 130.5L154.0 132.9L154.4 135.7L154.8 139.0L155.2 143.0L155.6 147.6L156.0 153.0L156.2 155.8" stroke="#EDB120" stroke-width="0.48" />
<path d="M36.2 8.4L36.8 32.2L37.3 37.1L37.8 39.4L38.4 40.8L38.9 41.9L39.4 42.7L39.9 43.6L40.5 44.5L42.9 47.7L45.4 50.7L47.8 53.5L50.2 56.1L52.6 58.4L55.0 60.5L57.4 62.4L59.8 64.3L62.2 66.0L64.6 67.6L67.0 69.1L69.4 70.6L71.8 72.1L74.2 73.4L76.6 74.7L79.0 76.0L81.4 77.2L83.8 78.4L86.3 79.6L88.7 80.7L91.1 81.8L93.5 82.8L95.9 83.7L98.3 84.6L100.7 85.4L103.1 86.2L105.5 87.0L107.9 87.8L110.3 88.6L112.7 89.4L115.1 90.3L117.5 91.2L119.9 92.0L122.3 93.0L124.7 93.9L127.2 95.0L129.6 96.3L132.0 97.7L134.4 99.3L135.0 99.7L135.4 100.0L135.8 100.3L136.2 100.6L136.6 100.9L137.0 101.2L137.4 101.5L137.8 101.8L138.2 102.1L138.6 102.4L139.0 102.7L139.4 103.0L139.8 103.3L140.3 103.7L140.7 104.0L141.1 104.4L141.5 104.7L141.9 105.1L142.3 105.4L142.7 105.8L143.1 106.2L143.5 106.6L143.9 107.0L144.3 107.4L144.7 107.8L145.1 108.3L145.5 108.7L145.9 109.1L146.3 109.6L146.7 110.1L147.1 110.6L147.6 111.1L148.0 111.6L148.4 112.2L148.8 112.7L149.2 113.3L149.6 113.9L150.0 114.6L150.4 115.3L150.8 116.1L151.2 116.8L151.6 117.6L152.0 118.5L152.4 119.4L152.8 120.3L153.2 121.3L153.6 122.4L154.0 123.5L154.4 124.8L154.8 126.3L155.3 127.9L155.7 129.9L156.1 132.4L156.5 135.3L156.9 138.6L157.3 142.6L157.7 147.4L158.1 152.8L158.4 157.2" stroke="#7E2F8E" stroke-width="0.48" />
<path d="M36.2 8.4L36.8 32.6L37.3 37.5L37.8 39.8L38.3 41.2L38.8 42.3L39.3 43.1L39.8 44.0L40.4 44.9L42.8 48.1L45.1 51.2L47.5 54.0L49.8 56.6L52.2 58.9L54.5 61.1L56.9 63.0L59.2 64.9L61.6 66.6L63.9 68.2L66.3 69.8L68.6 71.3L71.0 72.8L73.3 74.1L75.7 75.5L78.0 76.7L80.4 78.0L82.7 79.2L85.1 80.3L87.4 81.5L89.7 82.5L92.1 83.6L94.4 84.5L96.8 85.3L99.1 86.1L101.5 86.9L103.8 87.7L106.2 88.5L108.5 89.3L110.9 90.2L113.2 91.0L115.6 91.9L117.9 92.8L120.3 93.8L122.6 94.8L125.0 95.9L127.3 97.1L129.7 98.6L132.0 100.2L132.6 100.6L133.0 100.9L133.4 101.2L133.8 101.5L134.2 101.8L134.6 102.1L135.0 102.4L135.4 102.7L135.8 103.1L136.2 103.4L136.6 103.7L137.0 104.0L137.4 104.3L137.7 104.7L138.1 105.0L138.5 105.4L138.9 105.7L139.3 106.1L139.7 106.5L140.1 106.9L140.5 107.3L140.9 107.7L141.3 108.1L141.7 108.5L142.1 108.9L142.5 109.3L142.9 109.8L143.3 110.2L143.7 110.7L144.1 111.2L144.5 111.7L144.9 112.2L145.3 112.7L145.7 113.2L146.1 113.8L146.5 114.4L146.8 115.0L147.2 115.7L147.6 116.4L148.0 117.1L148.4 117.8L148.8 118.6L149.2 119.5L149.6 120.3L150.0 121.2L150.4 122.2L150.8 123.3L151.2 124.4L151.6 125.7L152.0 127.1L152.4 128.7L152.8 130.7L153.2 133.1L153.6 135.9L154.0 139.2L154.4 143.1L154.8 147.7L155.2 153.0L155.2 153.4" stroke="#77AC30" stroke-width="0.48" />
<path d="M36.2 8.4L36.8 32.8L37.3 37.7L37.8 40.0L38.3 41.4L38.8 42.4L39.3 43.3L39.8 44.1L40.4 45.1L42.7 48.3L45.0 51.4L47.4 54.2L49.7 56.8L52.0 59.2L54.3 61.3L56.6 63.3L59.0 65.2L61.3 66.9L63.6 68.5L65.9 70.1L68.2 71.6L70.6 73.1L72.9 74.5L75.2 75.8L77.5 77.1L79.9 78.3L82.2 79.5L84.5 80.7L86.8 81.8L89.1 82.9L91.5 83.9L93.8 84.8L96.1 85.6L98.4 86.4L100.7 87.2L103.1 88.0L105.4 88.9L107.7 89.7L110.0 90.5L112.3 91.4L114.7 92.3L117.0 93.2L119.3 94.1L121.6 95.1L124.0 96.2L126.3 97.5L128.6 99.0L130.9 100.6L131.5 101.1L131.9 101.4L132.3 101.7L132.7 102.0L133.1 102.3L133.5 102.6L133.9 102.9L134.2 103.2L134.6 103.5L135.0 103.8L135.4 104.2L135.8 104.5L136.2 104.8L136.6 105.2L137.0 105.5L137.4 105.9L137.8 106.2L138.2 106.6L138.5 107.0L138.9 107.3L139.3 107.7L139.7 108.1L140.1 108.6L140.5 109.0L140.9 109.4L141.3 109.8L141.7 110.3L142.1 110.7L142.5 111.2L142.8 111.7L143.2 112.2L143.6 112.7L144.0 113.2L144.4 113.7L144.8 114.3L145.2 114.9L145.6 115.5L146.0 116.1L146.4 116.8L146.8 117.6L147.1 118.3L147.5 119.1L147.9 119.9L148.3 120.8L148.7 121.7L149.1 122.6L149.5 123.7L149.9 124.9L150.3 126.1L150.7 127.5L151.1 129.1L151.5 131.0L151.8 133.4L152.2 136.2L152.6 139.4L153.0 143.3L153.4 147.9L153.7 151.4" stroke="#A2142F" stroke-width="0.48" />
<path d="M36.2 8.4L36.8 33.0L37.3 37.9L37.8 40.2L38.3 41.6L38.8 42.6L39.3 43.5L39.8 44.3L40.3 45.3L42.6 48.5L44.9 51.6L47.2 54.5L49.5 57.1L51.8 59.5L54.1 61.6L56.4 63.6L58.7 65.5L61.0 67.2L63.3 68.9L65.6 70.4L67.8 72.0L70.1 73.4L72.4 74.8L74.7 76.2L77.0 77.4L79.3 78.7L81.6 79.9L83.9 81.1L86.2 82.2L88.5 83.3L90.8 84.3L93.1 85.2L95.4 86.0L97.6 86.8L99.9 87.6L102.2 88.4L104.5 89.2L106.8 90.1L109.1 90.9L111.4 91.8L113.7 92.7L116.0 93.6L118.3 94.5L120.6 95.5L122.9 96.7L125.2 97.9L127.4 99.4L129.7 101.1L130.3 101.5L130.7 101.8L131.1 102.1L131.5 102.4L131.9 102.7L132.3 103.1L132.6 103.4L133.0 103.7L133.4 104.0L133.8 104.3L134.2 104.6L134.6 105.0L135.0 105.3L135.3 105.7L135.7 106.0L136.1 106.4L136.5 106.7L136.9 107.1L137.3 107.5L137.7 107.9L138.0 108.3L138.4 108.7L138.8 109.1L139.2 109.5L139.6 109.9L140.0 110.4L140.4 110.8L140.8 111.3L141.1 111.7L141.5 112.2L141.9 112.7L142.3 113.2L142.7 113.7L143.1 114.3L143.5 114.8L143.8 115.4L144.2 116.0L144.6 116.7L145.0 117.4L145.4 118.1L145.8 118.8L146.2 119.6L146.5 120.4L146.9 121.2L147.3 122.1L147.7 123.1L148.1 124.2L148.5 125.3L148.9 126.6L149.2 128.0L149.6 129.5L150.0 131.4L150.4 133.8L150.8 136.5L151.2 139.7L151.6 143.5L152.0 148.1L152.3 153.3L152.6 157.1" stroke="#0072BD" stroke-width="0.48" />
<path d="M36.2 8.4L36.7 33.1L37.2 38.0L37.7 40.2L38.2 41.6L38.7 42.7L39.2 43.5L39.7 44.4L40.3 45.4L42.6 48.6L44.9 51.7L47.2 54.5L49.5 57.1L51.7 59.5L54.0 61.7L56.3 63.7L58.6 65.5L60.9 67.3L63.2 69.0L65.5 70.5L67.7 72.1L70.0 73.5L72.3 74.9L74.6 76.2L76.9 77.5L79.2 78.8L81.5 80.0L83.7 81.1L86.0 82.3L88.3 83.4L90.6 84.4L92.9 85.3L95.2 86.1L97.4 86.9L99.7 87.7L102.0 88.5L104.3 89.3L106.6 90.1L108.9 91.0L111.2 91.9L113.4 92.8L115.7 93.7L118.0 94.6L120.3 95.6L122.6 96.8L124.9 98.0L127.1 99.5L129.4 101.2L130.0 101.7L130.4 102.0L130.8 102.3L131.2 102.6L131.5 102.9L131.9 103.2L132.3 103.5L132.7 103.8L133.1 104.1L133.5 104.5L133.9 104.8L134.2 105.1L134.6 105.5L135.0 105.8L135.4 106.1L135.8 106.5L136.2 106.9L136.6 107.2L136.9 107.6L137.3 108.0L137.7 108.4L138.1 108.8L138.5 109.2L138.9 109.6L139.2 110.1L139.6 110.5L140.0 111.0L140.4 111.4L140.8 111.9L141.2 112.3L141.6 112.8L141.9 113.3L142.3 113.9L142.7 114.4L143.1 115.0L143.5 115.6L143.9 116.2L144.3 116.8L144.6 117.5L145.0 118.2L145.4 118.9L145.8 119.7L146.2 120.5L146.6 121.4L146.9 122.3L147.3 123.2L147.7 124.3L148.1 125.4L148.5 126.7L148.9 128.1L149.3 129.6L149.6 131.5L150.0 133.8L150.4 136.6L150.8 139.8L151.2 143.6L151.6 148.1L151.9 152.2" stroke="#D95319" stroke-width="0.48" />
<path d="M36.2 8.4L36.7 33.2L37.2 38.1L37.7 40.3L38.2 41.7L38.7 42.8L39.2 43.6L39.7 44.4L40.3 45.4L42.6 48.7L44.9 51.7L47.1 54.6L49.4 57.2L51.7 59.6L54.0 61.8L56.2 63.8L58.5 65.7L60.8 67.4L63.1 69.1L65.3 70.7L67.6 72.2L69.9 73.6L72.1 75.0L74.4 76.4L76.7 77.7L79.0 78.9L81.2 80.1L83.5 81.3L85.8 82.4L88.1 83.5L90.3 84.5L92.6 85.4L94.9 86.2L97.2 87.0L99.4 87.8L101.7 88.6L104.0 89.5L106.3 90.3L108.5 91.1L110.8 92.0L113.1 92.9L115.4 93.8L117.6 94.8L119.9 95.8L122.2 96.9L124.5 98.2L126.7 99.7L129.0 101.4L129.6 101.8L130.0 102.1L130.4 102.4L130.7 102.7L131.1 103.0L131.5 103.4L131.9 103.7L132.3 104.0L132.7 104.3L133.0 104.6L133.4 105.0L133.8 105.3L134.2 105.6L134.6 106.0L135.0 106.3L135.3 106.7L135.7 107.1L136.1 107.4L136.5 107.8L136.9 108.2L137.3 108.6L137.6 109.0L138.0 109.4L138.4 109.8L138.8 110.3L139.2 110.7L139.6 111.1L139.9 111.6L140.3 112.1L140.7 112.5L141.1 113.0L141.5 113.5L141.8 114.1L142.2 114.6L142.6 115.2L143.0 115.7L143.4 116.4L143.8 117.0L144.1 117.7L144.5 118.4L144.9 119.1L145.3 119.9L145.7 120.7L146.1 121.5L146.4 122.4L146.8 123.4L147.2 124.4L147.6 125.6L148.0 126.8L148.4 128.2L148.7 129.8L149.1 131.6L149.5 134.0L149.9 136.7L150.3 139.9L150.7 143.7L151.0 148.2L151.3 151.6" stroke="#EDB120" stroke-width="0.48" />
<path d="M36.2 8.4L36.7 33.4L37.2 38.3L37.7 40.5L38.2 41.9L38.7 43.0L39.2 43.8L39.7 44.7L40.3 45.6L42.5 48.9L44.7 52.0L47.0 54.9L49.2 57.5L51.5 59.9L53.7 62.1L56.0 64.1L58.2 66.0L60.4 67.7L62.7 69.4L64.9 71.0L67.2 72.5L69.4 74.0L71.7 75.4L73.9 76.8L76.1 78.0L78.4 79.3L80.6 80.5L82.9 81.7L85.1 82.8L87.4 83.9L89.6 84.9L91.9 85.8L94.1 86.6L96.3 87.4L98.6 88.2L100.8 89.0L103.1 89.8L105.3 90.7L107.6 91.5L109.8 92.4L112.0 93.3L114.3 94.3L116.5 95.2L118.8 96.2L121.0 97.4L123.3 98.6L125.5 100.2L127.8 101.9L128.3 102.3L128.7 102.6L129.1 102.9L129.5 103.2L129.8 103.6L130.2 103.9L130.6 104.2L131.0 104.5L131.3 104.8L131.7 105.2L132.1 105.5L132.5 105.8L132.9 106.2L133.2 106.5L133.6 106.9L134.0 107.2L134.4 107.6L134.7 108.0L135.1 108.4L135.5 108.8L135.9 109.2L136.3 109.6L136.6 110.0L137.0 110.4L137.4 110.8L137.8 111.3L138.2 111.7L138.5 112.2L138.9 112.6L139.3 113.1L139.7 113.6L140.0 114.1L140.4 114.6L140.8 115.2L141.2 115.7L141.6 116.3L141.9 116.9L142.3 117.6L142.7 118.2L143.1 118.9L143.4 119.7L143.8 120.4L144.2 121.2L144.6 122.1L145.0 122.9L145.3 123.9L145.7 124.9L146.1 126.1L146.5 127.3L146.8 128.7L147.2 130.2L147.6 132.0L148.0 134.3L148.4 137.1L148.7 140.2L149.1 143.9L149.5 148.4L149.9 153.5L150.0 155.5" stroke="#77AC30" stroke-width="0.48" />
<path d="M36.2 8.4L36.7 33.5L37.2 38.3L37.7 40.6L38.2 42.0L38.7 43.0L39.2 43.9L39.7 44.7L40.2 45.7L42.5 48.9L44.7 52.0L46.9 55.0L49.2 57.6L51.4 60.0L53.6 62.2L55.9 64.2L58.1 66.1L60.4 67.8L62.6 69.5L64.8 71.1L67.1 72.6L69.3 74.1L71.5 75.5L73.8 76.9L76.0 78.2L78.2 79.4L80.5 80.6L82.7 81.8L84.9 82.9L87.2 84.0L89.4 85.0L91.6 85.9L93.9 86.7L96.1 87.5L98.3 88.3L100.6 89.1L102.8 90.0L105.1 90.8L107.3 91.6L109.5 92.5L111.8 93.4L114.0 94.4L116.2 95.3L118.5 96.3L120.7 97.5L122.9 98.8L125.2 100.3L127.4 102.0L128.0 102.5L128.3 102.8L128.7 103.1L129.1 103.4L129.5 103.7L129.9 104.0L130.2 104.3L130.6 104.6L131.0 105.0L131.4 105.3L131.7 105.6L132.1 106.0L132.5 106.3L132.9 106.7L133.2 107.0L133.6 107.4L134.0 107.8L134.4 108.1L134.8 108.5L135.1 108.9L135.5 109.3L135.9 109.7L136.3 110.1L136.6 110.6L137.0 111.0L137.4 111.4L137.8 111.9L138.1 112.3L138.5 112.8L138.9 113.3L139.3 113.8L139.6 114.3L140.0 114.8L140.4 115.3L140.8 115.9L141.2 116.5L141.5 117.1L141.9 117.7L142.3 118.4L142.7 119.1L143.0 119.8L143.4 120.6L143.8 121.4L144.2 122.2L144.5 123.1L144.9 124.0L145.3 125.1L145.7 126.2L146.0 127.4L146.4 128.8L146.8 130.3L147.2 132.1L147.6 134.4L147.9 137.1L148.3 140.2L148.7 144.0L149.1 148.4L149.3 151.0" stroke="#4DBEEE" stroke-width="0.48" />
<path d="M36.2 8.4L36.7 33.6L37.2 38.5L37.7 40.7L38.2 42.1L38.7 43.2L39.2 44.0L39.6 44.9L40.2 45.8L42.4 49.1L44.6 52.2L46.8 55.1L49.1 57.8L51.3 60.2L53.5 62.4L55.7 64.4L57.9 66.3L60.1 68.1L62.3 69.7L64.6 71.4L66.8 72.9L69.0 74.4L71.2 75.8L73.4 77.1L75.6 78.4L77.8 79.7L80.1 80.9L82.3 82.0L84.5 83.2L86.7 84.3L88.9 85.3L91.1 86.2L93.3 87.0L95.6 87.8L97.8 88.6L100.0 89.4L102.2 90.2L104.4 91.1L106.6 91.9L108.8 92.8L111.1 93.7L113.3 94.7L115.5 95.6L117.7 96.6L119.9 97.8L122.1 99.1L124.3 100.6L126.6 102.3L127.1 102.8L127.5 103.1L127.9 103.4L128.2 103.7L128.6 104.0L129.0 104.4L129.4 104.7L129.7 105.0L130.1 105.3L130.5 105.7L130.8 106.0L131.2 106.3L131.6 106.7L132.0 107.0L132.3 107.4L132.7 107.8L133.1 108.1L133.5 108.5L133.8 108.9L134.2 109.3L134.6 109.7L135.0 110.1L135.3 110.5L135.7 110.9L136.1 111.4L136.4 111.8L136.8 112.3L137.2 112.7L137.6 113.2L137.9 113.7L138.3 114.1L138.7 114.7L139.1 115.2L139.4 115.7L139.8 116.3L140.2 116.9L140.5 117.5L140.9 118.1L141.3 118.8L141.7 119.5L142.0 120.2L142.4 120.9L142.8 121.7L143.2 122.5L143.5 123.4L143.9 124.4L144.3 125.4L144.6 126.5L145.0 127.8L145.4 129.1L145.8 130.6L146.1 132.4L146.5 134.7L146.9 137.4L147.3 140.4L147.6 144.1L148.0 148.5L148.4 153.3" stroke="#A2142F" stroke-width="0.48" />
<path d="M36.2 8.4L36.7 33.7L37.2 38.6L37.7 40.8L38.2 42.2L38.7 43.2L39.1 44.1L39.6 44.9L40.2 45.9L42.4 49.1L44.6 52.3L46.8 55.2L49.0 57.9L51.2 60.3L53.4 62.5L55.6 64.5L57.8 66.4L60.0 68.2L62.2 69.9L64.4 71.5L66.6 73.0L68.8 74.5L71.0 75.9L73.2 77.2L75.5 78.5L77.7 79.8L79.9 81.0L82.1 82.2L84.3 83.3L86.5 84.4L88.7 85.4L90.9 86.3L93.1 87.1L95.3 87.9L97.5 88.7L99.7 89.5L101.9 90.3L104.1 91.2L106.3 92.0L108.5 92.9L110.7 93.9L112.9 94.8L115.1 95.7L117.3 96.8L119.5 97.9L121.7 99.2L123.9 100.8L126.2 102.5L126.7 103.0L127.1 103.3L127.5 103.6L127.8 103.9L128.2 104.2L128.6 104.5L128.9 104.8L129.3 105.2L129.7 105.5L130.1 105.8L130.4 106.2L130.8 106.5L131.2 106.9L131.5 107.2L131.9 107.6L132.3 107.9L132.7 108.3L133.0 108.7L133.4 109.1L133.8 109.5L134.1 109.9L134.5 110.3L134.9 110.7L135.3 111.1L135.6 111.6L136.0 112.0L136.4 112.4L136.7 112.9L137.1 113.4L137.5 113.8L137.9 114.3L138.2 114.8L138.6 115.4L139.0 115.9L139.3 116.5L139.7 117.0L140.1 117.6L140.5 118.3L140.8 118.9L141.2 119.6L141.6 120.3L141.9 121.1L142.3 121.9L142.7 122.7L143.1 123.6L143.4 124.5L143.8 125.6L144.2 126.7L144.5 127.9L144.9 129.2L145.3 130.7L145.7 132.5L146.0 134.8L146.4 137.5L146.8 140.5L147.1 144.2L147.5 148.6L147.9 153.6L148.1 157.5" stroke="#0072BD" stroke-width="0.48" />
<path d="M36.2 8.4L36.7 33.9L37.2 38.8L37.7 41.0L38.2 42.4L38.6 43.4L39.1 44.3L39.6 45.1L40.1 46.1L42.3 49.3L44.5 52.5L46.7 55.5L48.8 58.1L51.0 60.6L53.2 62.8L55.4 64.8L57.5 66.7L59.7 68.5L61.9 70.2L64.1 71.8L66.2 73.4L68.4 74.8L70.6 76.2L72.8 77.6L74.9 78.9L77.1 80.1L79.3 81.4L81.5 82.5L83.6 83.7L85.8 84.7L88.0 85.8L90.2 86.7L92.3 87.5L94.5 88.3L96.7 89.1L98.9 89.9L101.0 90.7L103.2 91.6L105.4 92.4L107.6 93.3L109.7 94.2L111.9 95.2L114.1 96.1L116.3 97.2L118.4 98.3L120.6 99.7L122.8 101.2L125.0 103.0L125.5 103.4L125.9 103.7L126.3 104.1L126.6 104.4L127.0 104.7L127.4 105.0L127.7 105.3L128.1 105.7L128.5 106.0L128.8 106.3L129.2 106.7L129.6 107.0L129.9 107.4L130.3 107.7L130.7 108.1L131.0 108.4L131.4 108.8L131.8 109.2L132.1 109.6L132.5 110.0L132.9 110.4L133.2 110.8L133.6 111.2L134.0 111.7L134.3 112.1L134.7 112.5L135.1 113.0L135.4 113.4L135.8 113.9L136.2 114.4L136.5 114.9L136.9 115.4L137.3 115.9L137.6 116.4L138.0 117.0L138.4 117.6L138.7 118.2L139.1 118.8L139.5 119.5L139.8 120.1L140.2 120.9L140.6 121.6L140.9 122.4L141.3 123.2L141.7 124.1L142.0 125.0L142.4 126.0L142.8 127.1L143.1 128.3L143.5 129.7L143.9 131.1L144.2 132.9L144.6 135.1L145.0 137.8L145.3 140.8L145.7 144.4L146.1 148.8L146.4 153.8L146.5 154.4" stroke="#EDB120" stroke-width="0.48" />
<path d="M36.2 8.4L36.7 33.8L37.2 38.6L37.7 40.8L38.2 42.3L38.6 43.3L39.1 44.1L39.6 45.0L40.2 46.0L42.4 49.2L44.6 52.3L46.8 55.3L49.0 57.9L51.1 60.4L53.3 62.6L55.5 64.6L57.7 66.5L59.9 68.3L62.1 70.0L64.3 71.6L66.5 73.1L68.7 74.6L70.9 76.0L73.1 77.3L75.3 78.6L77.5 79.9L79.7 81.1L81.9 82.3L84.1 83.4L86.3 84.5L88.5 85.5L90.7 86.4L92.9 87.2L95.1 88.0L97.3 88.8L99.5 89.6L101.7 90.5L103.9 91.3L106.0 92.2L108.2 93.0L110.4 94.0L112.6 94.9L114.8 95.9L117.0 96.9L119.2 98.0L121.4 99.3L123.6 100.9L125.8 102.6L126.4 103.1L126.7 103.4L127.1 103.7L127.5 104.0L127.8 104.3L128.2 104.7L128.6 105.0L129.0 105.3L129.3 105.6L129.7 106.0L130.1 106.3L130.4 106.6L130.8 107.0L131.2 107.4L131.5 107.7L131.9 108.1L132.3 108.5L132.7 108.8L133.0 109.2L133.4 109.6L133.8 110.0L134.1 110.4L134.5 110.9L134.9 111.3L135.2 111.7L135.6 112.2L136.0 112.6L136.4 113.1L136.7 113.5L137.1 114.0L137.5 114.5L137.8 115.0L138.2 115.5L138.6 116.0L138.9 116.6L139.3 117.2L139.7 117.8L140.1 118.4L140.4 119.1L140.8 119.8L141.2 120.5L141.5 121.2L141.9 122.0L142.3 122.8L142.6 123.7L143.0 124.7L143.4 125.7L143.8 126.8L144.1 128.0L144.5 129.4L144.9 130.8L145.2 132.6L145.6 134.9L146.0 137.6L146.3 140.6L146.7 144.3L147.1 148.7L147.5 153.7L147.6 155.6" stroke="#7E2F8E" stroke-width="0.48" />
<path d="M36.2 8.4L36.7 33.8L37.2 38.7L37.7 40.9L38.2 42.3L38.6 43.3L39.1 44.2L39.6 45.0L40.2 46.0L42.4 49.2L44.5 52.4L46.7 55.3L48.9 58.0L51.1 60.4L53.3 62.6L55.5 64.7L57.7 66.5L59.9 68.3L62.1 70.0L64.3 71.6L66.5 73.2L68.6 74.6L70.8 76.1L73.0 77.4L75.2 78.7L77.4 79.9L79.6 81.2L81.8 82.3L84.0 83.5L86.2 84.5L88.4 85.6L90.6 86.5L92.7 87.3L94.9 88.1L97.1 88.9L99.3 89.7L101.5 90.5L103.7 91.4L105.9 92.2L108.1 93.1L110.3 94.0L112.5 95.0L114.7 95.9L116.8 97.0L119.0 98.1L121.2 99.4L123.4 101.0L125.6 102.7L126.2 103.2L126.5 103.5L126.9 103.8L127.3 104.1L127.6 104.4L128.0 104.7L128.4 105.1L128.8 105.4L129.1 105.7L129.5 106.1L129.9 106.4L130.2 106.7L130.6 107.1L131.0 107.4L131.3 107.8L131.7 108.2L132.1 108.5L132.4 108.9L132.8 109.3L133.2 109.7L133.6 110.1L133.9 110.5L134.3 110.9L134.7 111.4L135.0 111.8L135.4 112.2L135.8 112.7L136.1 113.1L136.5 113.6L136.9 114.1L137.2 114.6L137.6 115.1L138.0 115.6L138.4 116.1L138.7 116.7L139.1 117.3L139.5 117.9L139.8 118.5L140.2 119.2L140.6 119.9L140.9 120.6L141.3 121.3L141.7 122.1L142.0 122.9L142.4 123.8L142.8 124.7L143.2 125.8L143.5 126.9L143.9 128.1L144.3 129.4L144.6 130.9L145.0 132.7L145.4 135.0L145.7 137.6L146.1 140.7L146.5 144.3L146.8 148.7L147.2 153.7L147.5 158.1" stroke="#77AC30" stroke-width="0.48" />
<path d="M36.2 8.4L36.7 33.7L37.2 38.5L37.7 40.7L38.2 42.2L38.7 43.2L39.1 44.0L39.6 44.9L40.2 45.8L42.4 49.1L44.6 52.2L46.8 55.2L49.0 57.8L51.3 60.2L53.5 62.4L55.7 64.4L57.9 66.3L60.1 68.1L62.3 69.8L64.5 71.4L66.7 72.9L68.9 74.4L71.2 75.8L73.4 77.2L75.6 78.4L77.8 79.7L80.0 80.9L82.2 82.1L84.4 83.2L86.6 84.3L88.8 85.3L91.1 86.2L93.3 87.0L95.5 87.8L97.7 88.6L99.9 89.4L102.1 90.3L104.3 91.1L106.5 92.0L108.7 92.8L111.0 93.8L113.2 94.7L115.4 95.7L117.6 96.7L119.8 97.8L122.0 99.1L124.2 100.7L126.4 102.4L127.0 102.9L127.4 103.2L127.7 103.5L128.1 103.8L128.5 104.1L128.9 104.4L129.2 104.7L129.6 105.0L130.0 105.4L130.4 105.7L130.7 106.0L131.1 106.4L131.5 106.7L131.8 107.1L132.2 107.4L132.6 107.8L133.0 108.2L133.3 108.6L133.7 108.9L134.1 109.3L134.5 109.7L134.8 110.2L135.2 110.6L135.6 111.0L135.9 111.4L136.3 111.9L136.7 112.3L137.1 112.8L137.4 113.2L137.8 113.7L138.2 114.2L138.5 114.7L138.9 115.2L139.3 115.8L139.7 116.3L140.0 116.9L140.4 117.5L140.8 118.1L141.2 118.8L141.5 119.5L141.9 120.2L142.3 121.0L142.6 121.8L143.0 122.6L143.4 123.5L143.8 124.4L144.1 125.4L144.5 126.6L144.9 127.8L145.3 129.1L145.6 130.6L146.0 132.5L146.4 134.7L146.7 137.4L147.1 140.5L147.5 144.2L147.9 148.6L148.2 153.6L148.3 154.9" stroke="#4DBEEE" stroke-width="0.48" />
</g>
<line x1="379.4" y1="4.6" x2="379.4" y2="160.8" stroke="#f3f3f3" stroke-width="0.8"/>
<line x1="431.4" y1="4.6" x2="431.4" y2="160.8" stroke="#f3f3f3" stroke-width="0.8"/>
<line x1="483.5" y1="4.6" x2="483.5" y2="160.8" stroke="#f3f3f3" stroke-width="0.8"/>
<line x1="327.4" y1="152.5" x2="535.5" y2="152.5" stroke="#f3f3f3" stroke-width="0.8"/>
<line x1="327.4" y1="109.1" x2="535.5" y2="109.1" stroke="#f3f3f3" stroke-width="0.8"/>
<line x1="327.4" y1="65.6" x2="535.5" y2="65.6" stroke="#f3f3f3" stroke-width="0.8"/>
<line x1="327.4" y1="22.1" x2="535.5" y2="22.1" stroke="#f3f3f3" stroke-width="0.8"/>
<path d="M327.40 4.50H535.50V160.80" fill="none" stroke="#a8a8a8" stroke-width="0.7"/>
<path d="M327.40 4.30V160.80H535.80" fill="none" stroke="#dcdcdc" stroke-width="1.8"/>
<path d="M327.4 160.8v-2.0M327.4 4.6v2.0" stroke="#bdbdbd" stroke-width="0.8"/>
<text x="327.4" y="174.5" text-anchor="middle" class="t">0</text>
<path d="M379.4 160.8v-2.0M379.4 4.6v2.0" stroke="#bdbdbd" stroke-width="0.8"/>
<text x="379.4" y="174.5" text-anchor="middle" class="t">1000</text>
<path d="M431.4 160.8v-2.0M431.4 4.6v2.0" stroke="#bdbdbd" stroke-width="0.8"/>
<text x="431.4" y="174.5" text-anchor="middle" class="t">2000</text>
<path d="M483.5 160.8v-2.0M483.5 4.6v2.0" stroke="#bdbdbd" stroke-width="0.8"/>
<text x="483.5" y="174.5" text-anchor="middle" class="t">3000</text>
<path d="M535.5 160.8v-2.0M535.5 4.6v2.0" stroke="#bdbdbd" stroke-width="0.8"/>
<text x="535.5" y="174.5" text-anchor="middle" class="t">4000</text>
<path d="M327.4 152.5h2.0M535.5 152.5h-2.0" stroke="#bdbdbd" stroke-width="0.8"/>
<text x="323.8" y="156.6" text-anchor="end" class="t">25</text>
<path d="M327.4 109.1h2.0M535.5 109.1h-2.0" stroke="#bdbdbd" stroke-width="0.8"/>
<text x="323.8" y="113.2" text-anchor="end" class="t">30</text>
<path d="M327.4 65.6h2.0M535.5 65.6h-2.0" stroke="#bdbdbd" stroke-width="0.8"/>
<text x="323.8" y="69.7" text-anchor="end" class="t">35</text>
<path d="M327.4 22.1h2.0M535.5 22.1h-2.0" stroke="#bdbdbd" stroke-width="0.8"/>
<text x="323.8" y="26.2" text-anchor="end" class="t">40</text>
<text x="431.4" y="188.4" text-anchor="middle" class="l">Time / s</text>
<text transform="translate(307.9 83.3) rotate(-90)" text-anchor="middle" class="l">Temperature / C</text>
<g class="g" clip-path="url(#c2)">
<path d="M327.4 138.2L332.6 129.9L337.8 122.1L343.0 114.3L348.2 107.3L353.4 101.2L358.4 96.9L361.2 97.7L363.8 97.3L366.9 98.6" stroke="#4DBEEE" stroke-width="0.5" />
<path d="M327.4 167.1L329.0 164.5L330.5 161.6L332.1 158.9L333.6 155.9L335.2 153.5L336.8 150.7L338.3 148.2L339.9 145.1L341.4 142.6L343.0 140.0L344.6 137.2L346.1 134.6L347.7 132.4L349.3 129.4L350.8 127.3L352.4 124.8L353.9 123.1L355.5 121.1L357.1 120.5L358.6 119.2L360.2 118.5L361.7 118.4L363.3 118.0L364.9 118.3L366.4 119.0L368.0 119.6L369.5 120.4L371.1 120.2L372.7 120.0L374.2 119.4L378.4 116.2L382.5 114.3L386.6 112.0L390.7 110.6L394.9 108.6L399.0 107.0L403.1 105.2L407.3 102.6L411.4 101.3L415.5 99.1L419.6 97.9L423.8 95.8L427.9 94.8L432.0 93.5L436.2 91.9L440.3 89.6L444.4 86.8L448.6 84.8L452.7 82.4L456.8 79.5L460.9 77.2L465.1 74.9L469.2 71.9L473.3 70.0L477.5 67.7L481.6 65.4L485.7 62.8L489.8 60.4L494.0 57.2L498.1 54.7L502.2 52.5L506.4 49.3L510.5 44.7L514.6 39.0L518.7 31.8L519.2 32.3" stroke="#0072BD" stroke-width="0.38" />
<path d="M327.4 168.7L329.0 166.2L330.5 164.3L332.1 161.7L333.6 159.6L335.2 157.3L336.8 155.1L338.3 152.1L339.9 149.8L341.4 146.9L343.0 144.7L344.6 142.4L346.1 140.4L347.7 137.9L349.3 135.3L350.8 133.4L352.4 131.0L353.9 129.8L355.5 128.1L357.1 127.4L358.6 126.8L360.2 126.0L361.7 125.5L363.3 124.6L364.9 125.7L366.4 125.7L368.0 125.7L369.5 125.3L371.1 125.3L372.7 125.2L374.2 124.0L378.3 121.1L382.4 118.4L386.5 115.9L390.7 113.6L394.8 111.5L398.9 109.8L403.0 108.0L407.1 106.5L411.2 105.1L415.3 103.6L419.4 101.5L423.5 100.2L427.6 98.9L431.7 96.0L435.8 94.0L439.9 92.1L444.0 90.0L448.2 87.3L452.3 85.1L456.4 82.5L460.5 80.0L464.6 77.3L468.7 75.4L472.8 73.3L476.9 70.4L481.0 67.9L485.1 64.8L489.2 62.4L493.3 60.0L497.4 56.7L501.5 53.8L505.7 51.1L509.8 46.3L513.9 41.2L518.0 32.9L518.4 33.4" stroke="#D95319" stroke-width="0.38" />
<path d="M327.4 165.7L329.0 163.2L330.5 161.1L332.1 158.7L333.6 156.1L335.2 153.9L336.8 151.0L338.3 148.6L339.9 145.7L341.4 143.5L343.0 140.5L344.6 138.4L346.1 136.3L347.7 133.9L349.3 132.4L350.8 129.8L352.4 127.7L353.9 126.5L355.5 125.3L357.1 124.8L358.6 123.2L360.2 123.0L361.7 123.2L363.3 124.0L364.9 124.1L366.4 124.1L368.0 124.6L369.5 124.2L371.1 123.8L372.7 123.9L374.2 123.3L378.3 119.7L382.4 116.8L386.4 114.4L390.5 111.9L394.6 110.1L398.6 107.8L402.7 105.9L406.8 104.9L410.9 103.6L414.9 101.1L419.0 100.0L423.1 98.0L427.1 95.4L431.2 94.3L435.3 93.0L439.3 91.1L443.4 88.6L447.5 86.1L451.6 83.5L455.6 81.2L459.7 79.2L463.8 76.0L467.8 73.8L471.9 72.0L476.0 69.1L480.1 66.0L484.1 63.3L488.2 60.9L492.3 58.6L496.3 55.6L500.4 52.5L504.5 50.2L508.5 45.3L512.6 39.2L516.7 31.0L517.2 31.5" stroke="#EDB120" stroke-width="0.38" />
<path d="M327.4 163.6L329.0 160.9L330.5 157.5L332.1 154.6L333.6 152.2L335.2 149.6L336.8 147.3L338.3 144.7L339.9 141.9L341.4 139.9L343.0 137.2L344.6 134.7L346.1 132.2L347.7 129.5L349.3 126.7L350.8 124.5L352.4 122.2L353.9 121.1L355.5 119.1L357.1 117.8L358.6 117.4L360.2 117.0L361.7 117.0L363.3 118.0L364.9 118.4L366.4 119.1L368.0 119.3L369.5 119.6L371.1 120.1L372.7 119.7L374.2 119.8L378.3 117.1L382.4 114.9L386.4 112.4L390.5 110.6L394.6 108.6L398.6 107.0L402.7 104.8L406.8 102.7L410.8 102.2L414.9 100.0L419.0 98.5L423.0 97.0L427.1 95.1L431.1 93.9L435.2 91.4L439.3 88.4L443.3 86.8L447.4 84.6L451.5 82.7L455.5 80.1L459.6 77.8L463.7 74.4L467.7 73.4L471.8 71.4L475.9 69.3L479.9 66.9L484.0 64.5L488.1 62.4L492.1 59.1L496.2 56.3L500.3 54.5L504.3 51.3L508.4 46.9L512.5 41.1L516.5 34.5L517.0 35.0" stroke="#7E2F8E" stroke-width="0.38" />
<path d="M327.4 169.4L329.0 166.7L330.5 163.4L332.1 160.7L333.6 157.9L335.2 156.0L336.8 153.1L338.3 150.9L339.9 147.9L341.4 145.1L343.0 142.3L344.6 140.0L346.1 136.9L347.7 134.2L349.3 131.8L350.8 129.3L352.4 127.8L353.9 125.5L355.5 124.1L357.1 122.6L358.6 122.2L360.2 121.5L361.7 121.4L363.3 121.6L364.9 121.7L366.4 122.3L368.0 123.0L369.5 122.7L371.1 122.5L372.7 123.3L374.2 122.9L378.3 119.8L382.3 117.4L386.4 115.3L390.4 113.8L394.5 111.8L398.5 109.6L402.5 107.7L406.6 105.6L410.6 104.3L414.7 102.4L418.7 101.1L422.8 99.6L426.8 98.0L430.9 96.0L434.9 93.5L439.0 92.0L443.0 89.9L447.1 88.1L451.1 85.5L455.2 83.2L459.2 81.0L463.2 78.9L467.3 76.9L471.3 73.9L475.4 71.5L479.4 68.7L483.5 66.0L487.5 64.2L491.6 61.3L495.6 57.9L499.7 55.4L503.7 52.4L507.8 48.4L511.8 42.3L515.9 36.0L516.3 36.5" stroke="#77AC30" stroke-width="0.38" />
<path d="M327.4 164.5L329.0 161.9L330.5 159.2L332.1 156.8L333.6 154.4L335.2 152.3L336.8 149.1L338.3 146.8L339.9 144.0L341.4 142.0L343.0 140.1L344.6 137.5L346.1 134.6L347.7 132.3L349.3 129.9L350.8 128.5L352.4 125.7L353.9 124.6L355.5 123.2L357.1 121.6L358.6 120.9L360.2 120.5L361.7 120.6L363.3 120.7L364.9 120.4L366.4 122.1L368.0 122.5L369.5 122.6L371.1 122.3L372.7 121.7L374.2 121.9L378.3 119.0L382.4 116.1L386.4 113.7L390.5 112.2L394.6 110.2L398.6 108.2L402.7 106.9L406.8 105.3L410.8 103.5L414.9 101.7L419.0 100.4L423.0 98.6L427.1 97.4L431.2 94.9L435.2 92.8L439.3 90.8L443.4 88.1L447.4 86.0L451.5 82.8L455.6 80.7L459.7 78.7L463.7 75.9L467.8 72.6L471.9 70.2L475.9 67.6L480.0 64.8L484.1 63.0L488.1 60.5L492.2 57.6L496.3 55.1L500.3 52.6L504.4 49.9L508.5 45.4L512.5 39.2L516.6 32.0L517.1 32.5" stroke="#4DBEEE" stroke-width="0.38" />
<path d="M327.4 168.7L329.0 166.0L330.5 163.1L332.1 160.9L333.6 158.3L335.2 155.4L336.8 152.9L338.3 149.8L339.9 147.6L341.4 145.0L343.0 143.0L344.6 139.6L346.1 137.0L347.7 134.5L349.3 132.2L350.8 130.0L352.4 127.8L353.9 125.6L355.5 124.0L357.1 122.5L358.6 122.2L360.2 122.0L361.7 121.7L363.3 121.7L364.9 121.9L366.4 122.0L368.0 122.0L369.5 122.1L371.1 122.8L372.7 122.8L374.2 122.5L378.3 119.5L382.3 117.2L386.4 115.1L390.5 112.8L394.5 110.5L398.6 109.0L402.6 107.7L406.7 105.8L410.8 104.7L414.8 103.1L418.9 100.8L422.9 100.0L427.0 98.4L431.1 96.2L435.1 94.4L439.2 92.1L443.2 89.3L447.3 86.9L451.4 84.9L455.4 82.6L459.5 80.0L463.5 77.4L467.6 74.6L471.7 71.8L475.7 69.6L479.8 67.1L483.8 63.9L487.9 61.7L491.9 58.8L496.0 55.4L500.1 52.8L504.1 49.3L508.2 44.8L512.2 39.4L516.3 32.1L516.8 32.6" stroke="#A2142F" stroke-width="0.38" />
<path d="M327.4 167.3L329.0 164.9L330.5 162.2L332.1 159.4L333.6 157.1L335.2 154.2L336.8 151.3L338.3 148.8L339.9 146.2L341.4 143.8L343.0 140.2L344.6 137.7L346.1 134.8L347.7 132.8L349.3 130.3L350.8 127.7L352.4 125.5L353.9 123.3L355.5 121.0L357.1 119.9L358.6 118.9L360.2 118.2L361.7 117.9L363.3 118.4L364.9 119.1L366.4 119.3L368.0 119.0L369.5 120.1L371.1 119.6L372.7 119.3L374.2 119.5L378.2 116.9L382.2 113.7L386.1 111.8L390.1 109.7L394.1 108.0L398.1 106.4L402.0 104.6L406.0 102.9L410.0 101.1L414.0 99.2L417.9 97.8L421.9 96.5L425.9 95.5L429.9 93.1L433.8 91.6L437.8 89.9L441.8 88.5L445.8 86.2L449.7 84.8L453.7 82.6L457.7 80.7L461.7 78.7L465.6 76.5L469.6 74.4L473.6 71.7L477.6 69.0L481.5 67.1L485.5 65.0L489.5 62.7L493.4 60.2L497.4 56.6L501.4 53.8L505.4 49.1L509.3 43.4L513.3 37.8L513.8 38.3" stroke="#0072BD" stroke-width="0.38" />
<path d="M327.4 167.9L329.0 165.5L330.5 163.2L332.1 160.4L333.6 158.0L335.2 154.9L336.8 151.8L338.3 149.3L339.9 146.7L341.4 143.5L343.0 141.0L344.6 138.9L346.1 136.1L347.7 133.2L349.3 130.1L350.8 127.7L352.4 126.0L353.9 123.9L355.5 121.5L357.1 120.7L358.6 120.4L360.2 120.2L361.7 120.0L363.3 120.4L364.9 121.1L366.4 122.1L368.0 122.6L369.5 122.9L371.1 123.0L372.7 122.9L374.2 122.6L378.2 120.0L382.1 117.3L386.0 115.6L390.0 113.1L393.9 111.2L397.8 109.0L401.7 107.1L405.7 104.6L409.6 102.6L413.5 101.2L417.5 99.8L421.4 97.6L425.3 95.4L429.3 93.1L433.2 92.1L437.1 89.8L441.1 89.1L445.0 86.1L448.9 84.7L452.9 81.9L456.8 79.7L460.7 76.6L464.7 74.8L468.6 71.4L472.5 69.6L476.5 66.2L480.4 63.9L484.3 61.5L488.3 59.2L492.2 55.9L496.1 53.2L500.1 50.8L504.0 45.8L507.9 39.9L511.9 33.7L512.3 34.2" stroke="#D95319" stroke-width="0.38" />
<path d="M327.4 165.6L329.0 164.1L330.5 161.0L332.1 158.6L333.6 156.4L335.2 153.7L336.8 151.2L338.3 148.4L339.9 146.4L341.4 143.9L343.0 141.1L344.6 138.3L346.1 136.1L347.7 134.2L349.3 131.9L350.8 129.4L352.4 127.7L353.9 125.6L355.5 123.7L357.1 123.3L358.6 122.2L360.2 121.3L361.7 121.1L363.3 121.4L364.9 121.0L366.4 120.9L368.0 120.5L369.5 120.6L371.1 120.6L372.7 120.6L374.2 120.8L378.1 117.8L382.0 115.0L385.9 112.5L389.8 110.4L393.7 109.5L397.6 107.2L401.5 105.8L405.4 104.1L409.3 101.8L413.3 100.4L417.2 98.3L421.1 96.6L425.0 95.6L428.9 93.7L432.8 91.1L436.7 89.6L440.6 87.1L444.5 84.4L448.4 82.6L452.3 80.1L456.2 77.4L460.1 74.7L464.0 72.4L467.9 69.8L471.8 67.7L475.7 65.5L479.6 62.4L483.5 60.1L487.4 57.6L491.3 55.3L495.2 52.0L499.1 48.9L503.0 44.4L506.9 39.3L510.8 31.8L511.3 32.3" stroke="#EDB120" stroke-width="0.38" />
<path d="M327.4 165.4L329.0 162.6L330.5 159.7L332.1 157.5L333.6 155.2L335.2 152.7L336.8 149.8L338.3 146.5L339.9 144.8L341.4 142.0L343.0 139.4L344.6 136.1L346.1 132.9L347.7 130.3L349.3 127.8L350.8 124.8L352.4 123.2L353.9 120.6L355.5 119.5L357.1 118.1L358.6 116.8L360.2 116.3L361.7 115.8L363.3 115.9L364.9 114.7L366.4 114.8L368.0 114.6L369.5 115.0L371.1 114.8L372.7 114.2L374.2 113.5L378.1 111.0L382.0 108.5L385.9 106.1L389.8 104.1L393.7 101.9L397.6 100.4L401.4 98.4L405.3 97.4L409.2 95.9L413.1 95.0L417.0 93.1L420.9 91.2L424.8 90.2L428.7 88.0L432.6 85.8L436.4 85.0L440.3 82.5L444.2 79.9L448.1 77.4L452.0 75.6L455.9 73.4L459.8 71.8L463.7 69.4L467.6 67.5L471.4 65.0L475.3 62.3L479.2 59.8L483.1 58.2L487.0 55.5L490.9 52.7L494.8 50.8L498.7 48.0L502.6 43.9L506.5 38.6L510.3 32.5L510.8 33.0" stroke="#7E2F8E" stroke-width="0.38" />
<path d="M327.4 169.0L329.0 166.3L330.5 163.5L332.1 160.6L333.6 157.7L335.2 154.0L336.8 150.5L338.3 147.5L339.9 143.8L341.4 140.2L343.0 137.5L344.6 134.8L346.1 131.3L347.7 128.5L349.3 126.0L350.8 123.5L352.4 121.3L353.9 118.5L355.5 116.7L357.1 115.3L358.6 115.3L360.2 114.9L361.7 114.2L363.3 114.2L364.9 114.3L366.4 114.1L368.0 113.8L369.5 114.1L371.1 114.5L372.7 114.4L374.2 113.8L378.1 111.5L381.9 109.3L385.8 107.5L389.7 105.7L393.5 103.6L397.4 101.9L401.2 100.6L405.1 98.6L408.9 97.5L412.8 96.4L416.7 94.1L420.5 92.8L424.4 91.4L428.2 89.9L432.1 87.2L436.0 85.1L439.8 83.3L443.7 80.8L447.5 79.1L451.4 77.4L455.2 75.3L459.1 73.6L463.0 71.0L466.8 69.4L470.7 67.4L474.5 64.6L478.4 62.9L482.3 60.2L486.1 58.1L490.0 55.7L493.8 53.3L497.7 51.6L501.5 47.8L505.4 42.4L509.3 36.3L509.7 36.8" stroke="#77AC30" stroke-width="0.38" />
<path d="M327.4 161.5L329.0 158.3L330.5 156.0L332.1 153.6L333.6 150.7L335.2 147.6L336.8 145.7L338.3 142.8L339.9 139.8L341.4 136.6L343.0 134.7L344.6 132.6L346.1 129.8L347.7 128.3L349.3 125.3L350.8 123.1L352.4 120.2L353.9 118.3L355.5 116.5L357.1 115.1L358.6 114.5L360.2 114.1L361.7 112.8L363.3 112.5L364.9 112.6L366.4 112.2L368.0 112.2L369.5 112.1L371.1 112.2L372.7 111.3L374.2 111.2L378.0 109.2L381.9 107.4L385.7 105.2L389.5 102.3L393.3 100.6L397.2 99.2L401.0 98.2L404.8 97.1L408.6 95.6L412.4 94.4L416.3 93.8L420.1 92.0L423.9 90.8L427.7 88.9L431.6 87.2L435.4 85.3L439.2 83.0L443.0 81.4L446.8 78.9L450.7 77.8L454.5 75.4L458.3 73.6L462.1 72.6L465.9 70.3L469.8 67.3L473.6 65.5L477.4 62.8L481.2 60.7L485.1 59.3L488.9 56.3L492.7 54.4L496.5 52.1L500.3 48.9L504.2 44.1L508.0 38.3L508.5 38.8" stroke="#4DBEEE" stroke-width="0.38" />
<path d="M327.4 165.5L329.0 163.3L330.5 160.3L332.1 157.5L333.6 155.4L335.2 153.6L336.8 150.6L338.3 148.4L339.9 145.6L341.4 142.9L343.0 140.1L344.6 137.6L346.1 134.9L347.7 132.1L349.3 129.9L350.8 127.6L352.4 125.8L353.9 123.4L355.5 121.5L357.1 119.7L358.6 120.3L360.2 119.4L361.7 119.1L363.3 118.8L364.9 118.7L366.4 118.6L368.0 118.3L369.5 118.0L371.1 117.4L372.7 116.7L374.2 115.9L378.0 113.5L381.8 111.4L385.6 109.7L389.4 107.4L393.2 105.6L397.0 104.2L400.9 102.7L404.7 101.4L408.5 99.9L412.3 98.2L416.1 96.6L419.9 95.8L423.7 93.8L427.5 92.1L431.3 89.9L435.1 87.7L438.9 85.8L442.7 83.4L446.5 81.0L450.3 79.4L454.1 76.4L457.9 74.5L461.7 71.5L465.5 69.6L469.3 67.4L473.1 65.0L476.9 62.4L480.7 59.8L484.5 57.7L488.4 55.0L492.2 52.3L496.0 49.8L499.8 45.7L503.6 39.9L507.4 33.5L507.8 34.1" stroke="#A2142F" stroke-width="0.38" />
<path d="M327.4 163.1L329.0 161.2L330.5 158.7L332.1 155.8L333.6 152.9L335.2 150.6L336.8 148.2L338.3 145.9L339.9 144.4L341.4 141.4L343.0 138.9L344.6 136.0L346.1 132.7L347.7 130.8L349.3 127.8L350.8 125.5L352.4 122.7L353.9 120.6L355.5 119.5L357.1 118.0L358.6 117.1L360.2 116.9L361.7 115.8L363.3 115.3L364.9 116.1L366.4 116.9L368.0 116.5L369.5 117.5L371.1 117.4L372.7 117.5L374.2 116.7L378.0 113.1L381.8 110.6L385.5 109.0L389.3 107.3L393.0 104.9L396.8 103.0L400.6 101.0L404.3 99.4L408.1 98.5L411.9 96.5L415.6 94.8L419.4 93.5L423.2 91.5L426.9 89.7L430.7 87.9L434.5 86.1L438.2 83.5L442.0 81.9L445.7 79.0L449.5 77.0L453.3 74.9L457.0 72.9L460.8 70.5L464.6 68.0L468.3 65.3L472.1 62.9L475.9 61.5L479.6 58.6L483.4 56.1L487.2 53.6L490.9 51.5L494.7 49.0L498.4 45.2L502.2 39.6L506.0 32.8L506.4 33.4" stroke="#0072BD" stroke-width="0.38" />
<path d="M327.4 164.8L329.0 162.1L330.5 159.9L332.1 157.4L333.6 154.0L335.2 151.5L336.8 148.6L338.3 146.1L339.9 142.8L341.4 140.5L343.0 137.9L344.6 135.7L346.1 133.4L347.7 131.3L349.3 128.2L350.8 125.4L352.4 122.3L353.9 119.9L355.5 117.9L357.1 117.1L358.6 116.2L360.2 115.6L361.7 115.4L363.3 115.1L364.9 115.3L366.4 115.1L368.0 114.5L369.5 113.5L371.1 113.5L372.7 113.2L374.2 113.8L378.0 110.8L381.7 108.8L385.4 107.2L389.2 105.8L392.9 104.4L396.7 102.5L400.4 99.8L404.1 97.6L407.9 96.5L411.6 95.7L415.4 93.8L419.1 92.6L422.9 91.1L426.6 90.1L430.3 87.9L434.1 86.2L437.8 84.2L441.6 82.2L445.3 79.7L449.0 77.9L452.8 75.2L456.5 73.5L460.3 71.0L464.0 68.4L467.7 66.8L471.5 63.9L475.2 61.5L479.0 58.9L482.7 56.8L486.4 54.5L490.2 52.1L493.9 49.6L497.7 44.8L501.4 40.5L505.2 34.0L505.6 34.5" stroke="#D95319" stroke-width="0.38" />
<path d="M327.4 164.8L329.0 163.2L330.5 160.4L332.1 157.9L333.6 155.4L335.2 152.6L336.8 149.5L338.3 146.3L339.9 143.5L341.4 141.0L343.0 138.2L344.6 135.4L346.1 133.1L347.7 130.0L349.3 127.3L350.8 125.2L352.4 123.1L353.9 121.5L355.5 119.2L357.1 118.3L358.6 117.6L360.2 117.5L361.7 117.7L363.3 117.2L364.9 117.1L366.4 117.2L368.0 117.0L369.5 117.1L371.1 117.0L372.7 116.2L374.2 115.0L377.9 112.1L381.7 110.1L385.4 107.8L389.1 106.0L392.8 103.5L396.5 102.1L400.3 100.3L404.0 98.9L407.7 97.2L411.4 96.3L415.1 95.3L418.9 93.9L422.6 91.9L426.3 90.8L430.0 88.3L433.7 86.4L437.5 85.0L441.2 82.3L444.9 80.7L448.6 78.5L452.3 76.4L456.1 73.9L459.8 71.8L463.5 70.0L467.2 67.5L470.9 65.6L474.7 63.4L478.4 60.7L482.1 57.8L485.8 55.5L489.5 53.7L493.3 50.8L497.0 46.9L500.7 42.7L504.4 35.8L504.9 36.3" stroke="#EDB120" stroke-width="0.38" />
<path d="M327.4 164.5L329.0 161.7L330.5 159.0L332.1 156.2L333.6 153.6L335.2 151.3L336.8 148.6L338.3 145.6L339.9 142.4L341.4 139.9L343.0 137.4L344.6 134.2L346.1 131.6L347.7 129.4L349.3 127.0L350.8 124.5L352.4 122.2L353.9 120.9L355.5 119.5L357.1 118.5L358.6 117.3L360.2 117.0L361.7 117.5L363.3 116.7L364.9 116.6L366.4 116.5L368.0 116.8L369.5 116.3L371.1 116.0L372.7 114.6L374.2 113.5L377.9 112.0L381.6 109.6L385.3 107.7L389.0 105.8L392.7 104.5L396.3 103.1L400.0 101.3L403.7 99.6L407.4 98.5L411.1 97.7L414.8 97.0L418.5 95.3L422.1 93.4L425.8 91.4L429.5 90.1L433.2 88.8L436.9 87.1L440.6 86.4L444.3 84.0L447.9 81.5L451.6 79.5L455.3 77.7L459.0 75.3L462.7 73.0L466.4 70.8L470.1 69.3L473.7 66.9L477.4 65.3L481.1 62.5L484.8 60.6L488.5 58.5L492.2 55.8L495.9 52.3L499.6 48.5L503.2 42.8L503.7 43.3" stroke="#7E2F8E" stroke-width="0.38" />
<path d="M327.4 165.0L329.0 162.5L330.5 159.7L332.1 157.0L333.6 154.5L335.2 151.9L336.8 149.7L338.3 146.6L339.9 143.7L341.4 141.1L343.0 138.3L344.6 135.6L346.1 133.1L347.7 130.2L349.3 127.5L350.8 124.7L352.4 122.5L353.9 120.1L355.5 118.7L357.1 117.6L358.6 116.0L360.2 115.6L361.7 116.0L363.3 116.1L364.9 115.5L366.4 116.3L368.0 116.4L369.5 116.2L371.1 115.2L372.7 114.4L374.2 114.8L378.0 111.5L381.7 108.8L385.5 106.3L389.2 105.4L393.0 103.0L396.7 101.0L400.5 99.6L404.3 97.8L408.0 97.1L411.8 95.3L415.5 93.8L419.3 92.0L423.0 91.1L426.8 90.0L430.5 87.7L434.3 85.5L438.0 83.2L441.8 80.7L445.5 78.6L449.3 76.0L453.0 74.5L456.8 72.2L460.6 69.6L464.3 67.8L468.1 65.3L471.8 63.3L475.6 61.2L479.3 58.9L483.1 57.2L486.8 54.1L490.6 51.3L494.3 48.4L498.1 43.9L501.8 38.3L505.6 31.8L506.1 32.3" stroke="#77AC30" stroke-width="0.38" />
<path d="M327.4 167.0L329.0 164.4L330.5 161.9L332.1 159.2L333.6 156.5L335.2 154.0L336.8 150.9L338.3 148.4L339.9 145.1L341.4 142.0L343.0 139.8L344.6 137.1L346.1 134.2L347.7 131.4L349.3 128.3L350.8 125.9L352.4 123.0L353.9 121.7L355.5 120.7L357.1 119.8L358.6 119.5L360.2 118.9L361.7 119.7L363.3 120.2L364.9 120.5L366.4 121.0L368.0 121.5L369.5 121.6L371.1 121.5L372.7 120.9L374.2 120.7L378.2 117.3L382.2 115.3L386.2 112.9L390.2 111.1L394.1 109.3L398.1 107.1L402.1 105.2L406.1 103.7L410.1 101.9L414.0 100.5L418.0 98.8L422.0 97.2L426.0 95.2L430.0 92.8L434.0 91.2L437.9 89.1L441.9 86.9L445.9 84.7L449.9 83.2L453.9 81.0L457.8 78.2L461.8 76.0L465.8 74.9L469.8 72.1L473.8 69.7L477.8 67.8L481.7 64.9L485.7 62.1L489.7 58.7L493.7 56.2L497.7 53.5L501.6 50.6L505.6 45.9L509.6 40.5L513.6 33.0L514.1 33.6" stroke="#4DBEEE" stroke-width="0.38" />
<path d="M327.4 168.6L329.0 166.0L330.5 163.2L332.1 160.3L333.6 157.6L335.2 154.0L336.8 152.4L338.3 149.7L339.9 146.6L341.4 144.0L343.0 141.7L344.6 139.5L346.1 136.5L347.7 134.1L349.3 130.7L350.8 128.5L352.4 126.2L353.9 124.9L355.5 123.9L357.1 122.8L358.6 121.7L360.2 121.6L361.7 121.0L363.3 121.3L364.9 120.8L366.4 121.1L368.0 121.9L369.5 121.7L371.1 121.2L372.7 121.5L374.2 120.9L378.2 119.0L382.1 116.4L386.0 113.6L390.0 111.6L393.9 109.7L397.9 107.7L401.8 105.5L405.8 103.7L409.7 101.7L413.6 100.8L417.6 99.4L421.5 98.0L425.5 95.8L429.4 94.0L433.3 91.0L437.3 89.0L441.2 86.9L445.2 85.3L449.1 82.9L453.0 80.1L457.0 77.4L460.9 74.7L464.9 72.8L468.8 71.0L472.8 68.3L476.7 65.8L480.6 62.5L484.6 60.3L488.5 58.2L492.5 55.4L496.4 52.4L500.3 49.4L504.3 45.4L508.2 39.0L512.2 31.9L512.6 32.5" stroke="#A2142F" stroke-width="0.38" />
<path d="M327.4 167.7L329.0 164.8L330.5 161.5L332.1 158.7L333.6 155.6L335.2 153.2L336.8 150.1L338.3 147.1L339.9 144.4L341.4 142.2L343.0 138.6L344.6 136.6L346.1 133.8L347.7 130.4L349.3 127.9L350.8 125.2L352.4 122.4L353.9 120.3L355.5 117.6L357.1 116.7L358.6 115.3L360.2 114.7L361.7 114.5L363.3 114.4L364.9 114.9L366.4 114.8L368.0 115.5L369.5 114.8L371.1 115.0L372.7 115.4L374.2 115.2L378.1 112.1L382.0 110.3L385.9 107.6L389.7 106.8L393.6 104.6L397.5 103.8L401.4 101.8L405.3 100.1L409.1 98.6L413.0 97.9L416.9 96.5L420.8 94.6L424.7 93.5L428.5 91.9L432.4 90.2L436.3 88.9L440.2 86.5L444.1 83.4L447.9 82.4L451.8 80.2L455.7 78.4L459.6 75.6L463.5 73.9L467.3 72.0L471.2 69.3L475.1 67.2L479.0 65.1L482.9 63.5L486.7 60.7L490.6 58.8L494.5 56.9L498.4 54.4L502.3 50.5L506.1 45.2L510.0 38.9L510.5 39.4" stroke="#0072BD" stroke-width="0.38" />
<path d="M327.4 164.4L329.0 161.7L330.5 159.0L332.1 156.1L333.6 153.3L335.2 150.8L336.8 148.3L338.3 146.0L339.9 142.9L341.4 139.5L343.0 136.9L344.6 134.5L346.1 132.0L347.7 129.8L349.3 127.1L350.8 124.8L352.4 122.0L353.9 120.3L355.5 118.8L357.1 117.0L358.6 116.3L360.2 116.1L361.7 115.0L363.3 115.3L364.9 114.9L366.4 114.9L368.0 115.4L369.5 115.6L371.1 115.1L372.7 114.7L374.2 114.1L378.1 111.9L381.9 109.6L385.8 108.6L389.6 106.2L393.5 104.6L397.3 102.9L401.2 100.8L405.0 99.3L408.9 97.4L412.7 96.0L416.5 95.0L420.4 94.0L424.2 92.6L428.1 91.3L431.9 90.3L435.8 88.2L439.6 85.7L443.5 83.6L447.3 80.9L451.2 79.0L455.0 77.0L458.9 75.1L462.7 73.3L466.6 71.4L470.4 69.2L474.3 66.2L478.1 64.7L482.0 62.3L485.8 59.5L489.7 57.5L493.5 54.4L497.4 51.6L501.2 48.4L505.0 42.7L508.9 35.6L509.4 36.1" stroke="#D95319" stroke-width="0.38" />
<path d="M327.4 164.9L329.0 162.0L330.5 159.4L332.1 156.3L333.6 153.6L335.2 151.2L336.8 148.7L338.3 145.8L339.9 142.8L341.4 141.0L343.0 139.1L344.6 136.1L346.1 133.9L347.7 130.8L349.3 128.6L350.8 125.6L352.4 123.3L353.9 121.8L355.5 120.6L357.1 119.4L358.6 117.8L360.2 117.8L361.7 117.0L363.3 117.5L364.9 117.6L366.4 117.9L368.0 117.5L369.5 118.0L371.1 117.9L372.7 117.8L374.2 117.2L378.1 114.2L381.9 112.2L385.8 110.8L389.7 108.8L393.5 107.5L397.4 105.4L401.3 103.7L405.1 102.0L409.0 100.9L412.9 99.7L416.7 97.4L420.6 96.3L424.4 94.8L428.3 92.8L432.2 91.2L436.0 88.9L439.9 86.7L443.8 85.0L447.6 82.0L451.5 80.0L455.4 77.7L459.2 75.3L463.1 72.9L466.9 70.6L470.8 68.3L474.7 66.3L478.5 62.9L482.4 61.3L486.3 58.8L490.1 56.2L494.0 53.4L497.8 50.3L501.7 46.8L505.6 40.8L509.4 34.3L509.9 34.8" stroke="#EDB120" stroke-width="0.38" />
<path d="M327.4 168.0L329.0 165.5L330.5 162.6L332.1 159.6L333.6 157.3L335.2 154.4L336.8 150.8L338.3 148.1L339.9 144.7L341.4 142.0L343.0 139.2L344.6 136.5L346.1 134.2L347.7 131.5L349.3 128.8L350.8 125.9L352.4 123.2L353.9 121.4L355.5 119.4L357.1 118.8L358.6 117.8L360.2 117.5L361.7 116.7L363.3 116.9L364.9 116.8L366.4 116.9L368.0 117.2L369.5 117.8L371.1 117.4L372.7 117.6L374.2 117.1L378.0 113.9L381.8 112.1L385.6 109.8L389.4 108.0L393.2 106.3L397.0 104.4L400.8 102.9L404.6 101.6L408.4 100.1L412.2 98.5L415.9 97.4L419.7 95.6L423.5 94.1L427.3 91.8L431.1 90.2L434.9 87.4L438.7 85.6L442.5 83.9L446.3 81.7L450.1 79.4L453.9 77.6L457.7 75.2L461.5 73.0L465.3 70.3L469.1 67.2L472.9 64.9L476.6 61.7L480.4 58.5L484.2 56.6L488.0 54.0L491.8 51.1L495.6 47.6L499.4 44.1L503.2 38.9L507.0 31.3L507.5 31.8" stroke="#7E2F8E" stroke-width="0.38" />
<path d="M327.4 168.3L329.0 165.8L330.5 164.1L332.1 160.6L333.6 158.2L335.2 155.3L336.8 152.6L338.3 148.9L339.9 147.6L341.4 144.4L343.0 141.3L344.6 137.9L346.1 135.4L347.7 132.6L349.3 130.2L350.8 127.2L352.4 124.4L353.9 121.9L355.5 120.4L357.1 118.8L358.6 118.3L360.2 118.3L361.7 117.8L363.3 117.2L364.9 117.0L366.4 117.0L368.0 116.3L369.5 116.7L371.1 115.7L372.7 115.3L374.2 114.8L377.9 111.3L381.7 108.9L385.4 107.0L389.1 105.4L392.8 103.8L396.5 102.7L400.2 100.9L404.0 98.5L407.7 96.8L411.4 95.4L415.1 95.3L418.8 93.9L422.6 92.7L426.3 91.1L430.0 88.6L433.7 87.3L437.4 85.3L441.1 83.2L444.9 81.5L448.6 79.5L452.3 77.5L456.0 75.6L459.7 73.8L463.5 71.5L467.2 69.8L470.9 68.3L474.6 65.9L478.3 63.7L482.0 61.3L485.8 58.9L489.5 56.3L493.2 53.3L496.9 50.3L500.6 45.6L504.4 39.1L504.8 39.6" stroke="#77AC30" stroke-width="0.38" />
<path d="M327.4 158.5L329.0 156.0L330.5 153.8L332.1 151.1L333.6 148.3L335.2 146.0L336.8 143.8L338.3 142.0L339.9 139.1L341.4 136.7L343.0 134.1L344.6 131.4L346.1 130.0L347.7 127.6L349.3 124.7L350.8 121.8L352.4 119.5L353.9 118.4L355.5 116.7L357.1 115.6L358.6 114.9L360.2 114.8L361.7 114.3L363.3 114.2L364.9 114.9L366.4 115.1L368.0 114.5L369.5 114.7L371.1 115.3L372.7 114.1L374.2 114.3L377.9 111.4L381.6 109.0L385.3 106.6L389.0 105.0L392.6 102.7L396.3 101.6L400.0 99.7L403.7 98.6L407.4 96.9L411.1 95.6L414.8 93.8L418.4 92.1L422.1 90.5L425.8 89.3L429.5 87.7L433.2 85.5L436.9 84.2L440.6 82.0L444.2 79.7L447.9 77.3L451.6 75.3L455.3 72.5L459.0 70.1L462.7 67.6L466.3 65.0L470.0 63.2L473.7 60.4L477.4 58.3L481.1 55.9L484.8 53.6L488.5 50.4L492.1 46.9L495.8 42.7L499.5 37.2L503.2 30.9L503.7 31.5" stroke="#4DBEEE" stroke-width="0.38" />
<path d="M327.4 159.0L329.0 157.2L330.5 154.8L332.1 152.5L333.6 150.0L335.2 147.9L336.8 145.4L338.3 143.0L339.9 140.7L341.4 138.3L343.0 135.1L344.6 132.8L346.1 129.7L347.7 126.9L349.3 124.7L350.8 122.5L352.4 121.2L353.9 118.9L355.5 117.6L357.1 116.0L358.6 115.5L360.2 114.9L361.7 114.4L363.3 114.2L364.9 114.0L366.4 114.1L368.0 114.3L369.5 113.8L371.1 112.8L372.7 112.8L374.2 111.4L377.9 108.0L381.6 105.6L385.2 103.8L388.9 101.6L392.6 99.3L396.2 97.5L399.9 96.0L403.6 94.2L407.3 92.6L410.9 91.3L414.6 90.3L418.3 88.0L421.9 86.4L425.6 85.4L429.3 83.4L432.9 82.3L436.6 79.9L440.3 77.4L444.0 74.8L447.6 73.1L451.3 71.6L455.0 69.4L458.6 67.2L462.3 65.3L466.0 63.1L469.7 60.8L473.3 58.3L477.0 55.5L480.7 53.7L484.3 51.1L488.0 48.6L491.7 45.6L495.3 42.2L499.0 36.8L502.7 30.4L503.2 31.0" stroke="#A2142F" stroke-width="0.38" />
<path d="M327.4 163.9L329.0 160.6L330.5 157.8L332.1 155.6L333.6 152.8L335.2 150.5L336.8 147.9L338.3 144.9L339.9 142.5L341.4 139.5L343.0 136.9L344.6 133.9L346.1 131.6L347.7 128.3L349.3 125.6L350.8 123.2L352.4 120.1L353.9 117.7L355.5 116.1L357.1 114.6L358.6 114.2L360.2 113.8L361.7 113.1L363.3 113.1L364.9 113.9L366.4 113.6L368.0 113.5L369.5 113.6L371.1 113.6L372.7 113.0L374.2 112.4L377.9 109.9L381.5 107.2L385.1 105.6L388.8 104.1L392.4 102.2L396.0 100.7L399.7 99.2L403.3 98.5L407.0 97.3L410.6 95.5L414.2 94.1L417.9 92.5L421.5 91.0L425.1 89.6L428.8 87.6L432.4 85.8L436.0 84.2L439.7 82.1L443.3 79.9L447.0 78.4L450.6 76.1L454.2 73.9L457.9 71.9L461.5 69.1L465.1 66.8L468.8 64.0L472.4 61.5L476.1 59.3L479.7 57.0L483.3 54.3L487.0 51.8L490.6 48.7L494.2 45.3L497.9 40.0L501.5 33.1L502.0 33.6" stroke="#0072BD" stroke-width="0.38" />
<path d="M327.4 162.3L329.0 160.4L330.5 157.7L332.1 155.3L333.6 152.3L335.2 150.3L336.8 147.5L338.3 145.3L339.9 142.4L341.4 139.2L343.0 136.9L344.6 134.3L346.1 131.5L347.7 129.8L349.3 127.0L350.8 124.4L352.4 123.2L353.9 120.9L355.5 119.3L357.1 118.1L358.6 117.5L360.2 117.3L361.7 116.5L363.3 116.6L364.9 116.0L366.4 116.0L368.0 116.0L369.5 115.9L371.1 115.7L372.7 115.6L374.2 115.0L377.8 111.3L381.5 109.3L385.1 107.8L388.7 106.2L392.3 104.4L396.0 103.0L399.6 101.7L403.2 100.0L406.8 98.9L410.4 96.9L414.1 95.4L417.7 93.8L421.3 92.1L424.9 90.5L428.5 88.5L432.2 86.2L435.8 84.4L439.4 82.4L443.0 80.1L446.7 78.1L450.3 76.2L453.9 73.9L457.5 71.1L461.1 69.3L464.8 67.2L468.4 64.2L472.0 61.9L475.6 60.1L479.2 58.0L482.9 54.9L486.5 51.7L490.1 49.6L493.7 46.3L497.3 40.9L501.0 34.2L501.4 34.7" stroke="#D95319" stroke-width="0.38" />
<path d="M327.4 166.9L329.0 163.9L330.5 160.9L332.1 158.3L333.6 155.2L335.2 151.6L336.8 148.8L338.3 145.2L339.9 142.7L341.4 139.3L343.0 136.4L344.6 133.6L346.1 131.4L347.7 128.7L349.3 126.3L350.8 124.2L352.4 122.7L353.9 119.8L355.5 117.7L357.1 116.1L358.6 115.4L360.2 115.7L361.7 114.9L363.3 115.4L364.9 115.9L366.4 115.9L368.0 116.0L369.5 116.2L371.1 116.1L372.7 115.9L374.2 115.1L378.0 112.3L381.9 109.3L385.7 107.6L389.5 105.6L393.3 103.8L397.2 101.9L401.0 100.4L404.8 98.3L408.6 96.1L412.5 94.9L416.3 93.8L420.1 92.9L423.9 91.3L427.8 89.2L431.6 87.9L435.4 86.1L439.2 84.0L443.1 82.2L446.9 79.8L450.7 78.4L454.5 75.4L458.4 73.0L462.2 71.7L466.0 69.1L469.8 66.5L473.7 64.2L477.5 62.1L481.3 60.8L485.1 58.3L489.0 55.8L492.8 53.8L496.6 50.8L500.4 46.8L504.2 42.1L508.1 35.6L508.5 36.1" stroke="#EDB120" stroke-width="0.38" />
<path d="M327.4 165.4L329.0 162.8L330.5 159.6L332.1 157.0L333.6 154.8L335.2 152.2L336.8 149.6L338.3 146.4L339.9 143.8L341.4 140.9L343.0 138.1L344.6 135.0L346.1 131.4L347.7 128.3L349.3 125.9L350.8 124.0L352.4 121.4L353.9 119.9L355.5 117.9L357.1 115.9L358.6 115.5L360.2 115.2L361.7 114.6L363.3 115.1L364.9 114.7L366.4 115.0L368.0 115.1L369.5 115.0L371.1 114.0L372.7 114.1L374.2 113.2L377.9 109.8L381.7 107.5L385.4 105.2L389.1 104.1L392.8 102.3L396.5 101.3L400.2 100.2L404.0 99.1L407.7 97.4L411.4 95.5L415.1 94.2L418.8 92.6L422.5 90.9L426.2 89.2L430.0 87.6L433.7 85.6L437.4 83.0L441.1 81.8L444.8 79.2L448.5 76.5L452.3 74.6L456.0 71.8L459.7 69.3L463.4 67.5L467.1 65.3L470.8 63.3L474.6 60.6L478.3 58.4L482.0 56.5L485.7 54.3L489.4 51.4L493.1 48.1L496.9 45.1L500.6 38.6L504.3 32.2L504.8 32.7" stroke="#7E2F8E" stroke-width="0.38" />
<path d="M327.4 166.8L329.0 164.6L330.5 161.8L332.1 158.2L333.6 156.6L335.2 153.6L336.8 151.0L338.3 147.7L339.9 145.8L341.4 142.9L343.0 140.4L344.6 137.5L346.1 135.4L347.7 132.2L349.3 129.3L350.8 126.2L352.4 123.8L353.9 122.0L355.5 119.9L357.1 118.6L358.6 117.6L360.2 116.7L361.7 116.7L363.3 117.2L364.9 117.0L366.4 116.7L368.0 116.7L369.5 116.1L371.1 116.2L372.7 115.6L374.2 115.7L377.9 112.9L381.6 111.4L385.2 109.7L388.9 107.9L392.6 105.6L396.3 104.6L399.9 102.7L403.6 101.2L407.3 100.0L411.0 98.1L414.6 96.3L418.3 94.5L422.0 93.2L425.6 92.2L429.3 90.8L433.0 89.0L436.7 87.0L440.3 83.9L444.0 82.0L447.7 79.7L451.4 77.6L455.0 75.8L458.7 73.6L462.4 71.9L466.1 69.9L469.7 67.2L473.4 64.1L477.1 61.9L480.7 59.5L484.4 57.4L488.1 55.1L491.8 51.6L495.4 47.8L499.1 42.3L502.8 36.2L503.3 36.7" stroke="#77AC30" stroke-width="0.38" />
<path d="M327.4 163.0L329.0 160.4L330.5 157.2L332.1 154.9L333.6 152.2L335.2 150.2L336.8 147.1L338.3 144.6L339.9 142.5L341.4 139.7L343.0 137.1L344.6 135.2L346.1 132.0L347.7 129.9L349.3 127.4L350.8 125.0L352.4 123.0L353.9 121.1L355.5 118.4L357.1 116.9L358.6 116.3L360.2 115.2L361.7 115.0L363.3 114.5L364.9 114.9L366.4 113.9L368.0 114.1L369.5 114.0L371.1 113.6L372.7 113.3L374.2 112.6L377.8 110.1L381.4 108.3L385.1 106.8L388.7 105.5L392.3 104.2L395.9 102.4L399.5 100.6L403.1 98.4L406.7 97.0L410.3 94.8L414.0 93.3L417.6 91.1L421.2 89.7L424.8 87.6L428.4 86.5L432.0 84.3L435.6 82.0L439.2 79.8L442.9 77.5L446.5 75.9L450.1 73.3L453.7 71.1L457.3 69.4L460.9 66.5L464.5 64.5L468.1 62.4L471.7 60.6L475.4 58.9L479.0 56.5L482.6 53.4L486.2 51.6L489.8 48.5L493.4 44.7L497.0 39.5L500.6 33.1L501.1 33.7" stroke="#4DBEEE" stroke-width="0.38" />
<path d="M327.4 169.1L329.0 165.8L330.5 163.6L332.1 160.0L333.6 157.6L335.2 154.5L336.8 151.2L338.3 148.6L339.9 146.3L341.4 143.2L343.0 140.2L344.6 137.1L346.1 134.2L347.7 131.1L349.3 129.0L350.8 126.7L352.4 123.9L353.9 121.9L355.5 119.4L357.1 118.1L358.6 117.3L360.2 116.5L361.7 116.7L363.3 116.7L364.9 116.9L366.4 115.8L368.0 115.8L369.5 115.8L371.1 116.0L372.7 115.1L374.2 115.0L377.8 112.2L381.3 109.1L384.9 107.4L388.5 105.8L392.0 104.0L395.6 101.5L399.1 99.4L402.7 98.3L406.2 96.9L409.8 94.5L413.4 93.1L416.9 91.6L420.5 89.5L424.0 87.6L427.6 86.0L431.1 84.1L434.7 81.6L438.3 78.6L441.8 76.8L445.4 74.0L448.9 72.7L452.5 70.2L456.1 67.3L459.6 65.0L463.2 62.4L466.7 60.1L470.3 57.0L473.8 54.4L477.4 52.6L481.0 49.2L484.5 46.4L488.1 43.3L491.6 39.8L495.2 33.6L498.7 27.4L499.2 27.9" stroke="#A2142F" stroke-width="0.38" />
<path d="M327.4 170.1L329.0 167.0L330.5 164.7L332.1 161.9L333.6 159.0L335.2 156.3L336.8 152.9L338.3 150.1L339.9 147.0L341.4 144.3L343.0 140.7L344.6 138.2L346.1 134.9L347.7 132.8L349.3 129.6L350.8 127.1L352.4 124.3L353.9 121.7L355.5 120.0L357.1 118.5L358.6 117.8L360.2 117.6L361.7 116.7L363.3 116.2L364.9 115.6L366.4 115.2L368.0 115.3L369.5 114.8L371.1 113.2L372.7 113.3L374.2 112.2L377.7 109.3L381.3 107.6L384.8 105.3L388.3 103.7L391.8 102.0L395.3 100.4L398.9 98.8L402.4 97.0L405.9 95.8L409.4 94.0L412.9 91.9L416.5 91.0L420.0 88.9L423.5 86.8L427.0 84.8L430.6 81.9L434.1 80.8L437.6 79.0L441.1 77.5L444.6 74.8L448.2 72.4L451.7 70.4L455.2 67.8L458.7 65.5L462.2 63.2L465.8 59.8L469.3 58.2L472.8 54.9L476.3 52.6L479.8 49.4L483.4 46.8L486.9 43.1L490.4 39.3L493.9 33.7L497.4 26.8L497.9 27.3" stroke="#0072BD" stroke-width="0.38" />
<path d="M327.4 166.4L329.0 163.7L330.5 161.1L332.1 158.8L333.6 155.8L335.2 152.5L336.8 149.4L338.3 146.7L339.9 144.3L341.4 141.4L343.0 138.3L344.6 135.7L346.1 132.6L347.7 130.0L349.3 128.4L350.8 125.3L352.4 122.5L353.9 120.4L355.5 118.4L357.1 116.7L358.6 116.5L360.2 116.6L361.7 116.4L363.3 116.2L364.9 116.2L366.4 116.7L368.0 116.2L369.5 115.3L371.1 115.4L372.7 115.0L374.2 114.2L377.7 111.5L381.2 109.8L384.6 107.0L388.1 104.8L391.6 102.7L395.1 101.1L398.5 99.4L402.0 98.1L405.5 96.3L408.9 94.1L412.4 92.8L415.9 91.3L419.4 88.9L422.8 87.0L426.3 85.6L429.8 83.1L433.3 81.1L436.7 78.0L440.2 75.7L443.7 74.3L447.1 71.7L450.6 69.5L454.1 66.9L457.6 64.4L461.0 61.6L464.5 58.6L468.0 55.9L471.5 53.3L474.9 50.6L478.4 48.0L481.9 45.4L485.3 42.2L488.8 37.8L492.3 31.7L495.8 25.7L496.2 26.2" stroke="#D95319" stroke-width="0.38" />
<path d="M327.4 158.6L329.0 155.7L330.5 153.6L332.1 151.0L333.6 148.4L335.2 146.0L336.8 143.1L338.3 140.4L339.9 138.2L341.4 135.6L343.0 132.9L344.6 130.7L346.1 128.4L347.7 126.0L349.3 123.4L350.8 121.8L352.4 119.7L353.9 118.2L355.5 116.1L357.1 114.3L358.6 113.3L360.2 113.2L361.7 112.6L363.3 112.0L364.9 111.4L366.4 111.8L368.0 110.9L369.5 111.2L371.1 110.9L372.7 110.4L374.2 109.6L377.7 107.1L381.1 104.6L384.6 102.8L388.0 101.5L391.5 99.7L394.9 98.1L398.4 96.0L401.9 93.8L405.3 93.0L408.8 91.3L412.2 89.8L415.7 88.2L419.1 86.5L422.6 84.7L426.0 83.1L429.5 80.5L432.9 78.7L436.4 75.7L439.8 73.6L443.3 71.6L446.7 69.4L450.2 66.8L453.7 64.4L457.1 62.0L460.6 59.5L464.0 57.3L467.5 55.8L470.9 53.3L474.4 50.6L477.8 48.0L481.3 45.4L484.7 42.8L488.2 40.3L491.6 34.5L495.1 28.7L495.6 29.2" stroke="#EDB120" stroke-width="0.38" />
<path d="M327.4 170.6L329.0 167.8L330.5 164.6L332.1 161.9L333.6 158.8L335.2 155.8L336.8 153.4L338.3 151.1L339.9 148.1L341.4 144.9L343.0 141.5L344.6 139.1L346.1 135.9L347.7 132.8L349.3 129.9L350.8 126.9L352.4 125.5L353.9 122.5L355.5 120.7L357.1 119.2L358.6 118.4L360.2 117.7L361.7 117.6L363.3 117.6L364.9 117.7L366.4 117.9L368.0 117.5L369.5 117.6L371.1 117.0L372.7 117.0L374.2 115.7L377.7 113.6L381.1 111.6L384.5 108.8L388.0 107.2L391.4 105.2L394.8 102.8L398.2 100.8L401.7 99.7L405.1 98.8L408.5 96.3L412.0 94.8L415.4 92.9L418.8 91.6L422.3 89.1L425.7 86.8L429.1 83.9L432.6 82.1L436.0 79.3L439.4 77.1L442.9 75.0L446.3 72.1L449.7 69.4L453.2 67.1L456.6 65.2L460.0 63.0L463.5 60.7L466.9 58.1L470.3 55.5L473.8 53.2L477.2 50.2L480.6 47.1L484.0 43.5L487.5 39.8L490.9 34.4L494.3 28.1L494.8 28.6" stroke="#7E2F8E" stroke-width="0.38" />
<path d="M327.4 159.7L329.0 158.1L330.5 155.7L332.1 153.8L333.6 151.8L335.2 149.5L336.8 146.8L338.3 144.1L339.9 141.5L341.4 138.8L343.0 136.2L344.6 133.8L346.1 130.4L347.7 128.0L349.3 125.3L350.8 123.2L352.4 121.2L353.9 118.5L355.5 116.8L357.1 115.3L358.6 114.3L360.2 113.5L361.7 113.5L363.3 113.2L364.9 113.1L366.4 112.9L368.0 112.4L369.5 112.1L371.1 111.5L372.7 111.0L374.2 111.1L377.6 108.4L381.0 106.2L384.4 104.0L387.8 101.9L391.2 99.9L394.5 98.2L397.9 96.8L401.3 95.0L404.7 93.8L408.1 91.9L411.5 90.3L414.9 88.9L418.3 87.3L421.6 85.5L425.0 83.5L428.4 81.6L431.8 79.0L435.2 76.8L438.6 74.1L442.0 71.8L445.4 70.5L448.7 67.4L452.1 65.3L455.5 63.5L458.9 61.1L462.3 59.2L465.7 56.6L469.1 54.1L472.5 52.0L475.8 49.1L479.2 46.6L482.6 43.0L486.0 39.3L489.4 34.3L492.8 27.7L493.3 28.2" stroke="#77AC30" stroke-width="0.38" />
<path d="M327.4 164.4L329.0 161.9L330.5 159.2L332.1 156.1L333.6 153.4L335.2 150.5L336.8 148.3L338.3 145.1L339.9 143.0L341.4 140.4L343.0 137.6L344.6 135.1L346.1 132.7L347.7 129.5L349.3 127.5L350.8 124.4L352.4 121.4L353.9 119.1L355.5 117.8L357.1 116.8L358.6 116.1L360.2 115.7L361.7 114.8L363.3 113.4L364.9 113.2L366.4 112.9L368.0 112.8L369.5 112.0L371.1 111.5L372.7 110.9L374.2 110.1L377.6 107.4L380.9 105.0L384.3 103.6L387.7 102.0L391.0 100.2L394.4 98.6L397.7 97.2L401.1 96.6L404.4 95.7L407.8 94.1L411.2 93.0L414.5 91.8L417.9 90.1L421.2 88.4L424.6 87.1L427.9 84.8L431.3 82.7L434.7 80.6L438.0 79.1L441.4 76.9L444.7 75.1L448.1 73.4L451.5 71.0L454.8 69.0L458.2 67.5L461.5 65.3L464.9 63.1L468.2 61.0L471.6 58.3L475.0 55.8L478.3 52.8L481.7 50.5L485.0 46.7L488.4 43.2L491.7 36.8L492.2 37.3" stroke="#4DBEEE" stroke-width="0.38" />
<path d="M327.4 158.5L329.0 156.1L330.5 153.2L332.1 151.3L333.6 148.0L335.2 145.6L336.8 142.9L338.3 139.9L339.9 137.3L341.4 135.1L343.0 132.5L344.6 130.2L346.1 127.5L347.7 125.2L349.3 122.6L350.8 120.2L352.4 118.2L353.9 115.5L355.5 113.9L357.1 112.1L358.6 111.3L360.2 111.0L361.7 110.1L363.3 110.4L364.9 110.6L366.4 110.9L368.0 110.0L369.5 109.8L371.1 109.4L372.7 109.3L374.2 109.0L377.6 106.5L380.9 104.6L384.3 102.4L387.6 100.2L391.0 98.8L394.3 96.6L397.7 95.2L401.0 92.7L404.3 91.3L407.7 89.9L411.0 88.6L414.4 86.5L417.7 85.1L421.1 83.3L424.4 81.6L427.8 79.8L431.1 78.0L434.5 75.4L437.8 73.3L441.2 71.5L444.5 69.1L447.9 67.7L451.2 65.4L454.6 63.3L457.9 60.9L461.3 58.4L464.6 56.0L467.9 53.7L471.3 51.7L474.6 48.8L478.0 46.4L481.3 43.6L484.7 40.2L488.0 35.9L491.4 30.1L491.8 30.6" stroke="#A2142F" stroke-width="0.38" />
<path d="M327.4 157.9L329.0 155.6L330.5 152.7L332.1 150.8L333.6 148.1L335.2 145.7L336.8 143.2L338.3 141.3L339.9 139.4L341.4 136.6L343.0 134.0L344.6 130.9L346.1 128.6L347.7 126.6L349.3 123.6L350.8 121.2L352.4 118.7L353.9 116.3L355.5 114.6L357.1 113.2L358.6 112.7L360.2 111.9L361.7 112.1L363.3 111.6L364.9 111.8L366.4 110.6L368.0 110.2L369.5 110.4L371.1 110.7L372.7 109.2L374.2 109.1L377.6 106.0L380.9 103.6L384.3 102.1L387.7 100.7L391.0 98.9L394.4 96.9L397.8 94.8L401.1 93.1L404.5 92.0L407.9 90.2L411.2 88.8L414.6 86.2L417.9 84.9L421.3 83.6L424.7 80.8L428.0 78.8L431.4 77.3L434.8 75.6L438.1 73.3L441.5 70.9L444.9 68.4L448.2 66.6L451.6 64.2L454.9 62.7L458.3 60.0L461.7 57.8L465.0 54.9L468.4 53.4L471.8 50.5L475.1 48.2L478.5 44.9L481.8 42.2L485.2 38.9L488.6 33.9L491.9 28.1L492.4 28.6" stroke="#0072BD" stroke-width="0.38" />
<path d="M327.4 155.9L329.0 153.9L330.5 151.7L332.1 149.0L333.6 146.2L335.2 143.5L336.8 140.5L338.3 138.2L339.9 136.4L341.4 133.4L343.0 131.4L344.6 128.2L346.1 126.7L347.7 123.5L349.3 121.8L350.8 119.2L352.4 117.0L353.9 115.2L355.5 113.4L357.1 112.1L358.6 112.2L360.2 111.7L361.7 110.6L363.3 110.6L364.9 110.9L366.4 110.7L368.0 111.0L369.5 111.3L371.1 111.1L372.7 111.2L374.2 110.5L377.6 107.9L381.0 105.6L384.4 104.2L387.8 102.0L391.2 100.8L394.6 99.0L398.0 97.3L401.4 95.6L404.8 93.8L408.2 92.5L411.5 91.1L414.9 89.4L418.3 88.1L421.7 86.7L425.1 84.8L428.5 82.8L431.9 80.7L435.3 79.3L438.7 77.3L442.1 74.6L445.5 72.9L448.9 70.7L452.3 67.9L455.7 66.0L459.0 64.5L462.4 62.0L465.8 59.4L469.2 57.1L472.6 55.1L476.0 52.4L479.4 50.2L482.8 47.5L486.2 44.2L489.6 39.8L493.0 33.8L493.4 34.4" stroke="#D95319" stroke-width="0.38" />
<path d="M327.4 162.5L329.0 160.4L330.5 157.4L332.1 154.9L333.6 152.1L335.2 150.5L336.8 147.3L338.3 144.4L339.9 140.7L341.4 138.1L343.0 135.4L344.6 132.8L346.1 130.6L347.7 127.6L349.3 125.4L350.8 122.2L352.4 119.9L353.9 117.4L355.5 116.4L357.1 114.8L358.6 113.5L360.2 112.7L361.7 112.3L363.3 112.4L364.9 111.6L366.4 111.6L368.0 110.9L369.5 109.9L371.1 109.4L372.7 109.2L374.2 108.3L377.6 105.5L380.9 103.3L384.3 100.9L387.6 99.6L390.9 97.8L394.3 96.5L397.6 94.5L401.0 92.6L404.3 91.6L407.7 89.7L411.0 88.5L414.3 86.1L417.7 84.1L421.0 83.0L424.4 81.1L427.7 79.1L431.1 78.2L434.4 76.2L437.7 73.9L441.1 72.0L444.4 69.6L447.8 68.1L451.1 66.5L454.5 64.2L457.8 61.9L461.2 59.5L464.5 57.3L467.8 55.3L471.2 52.3L474.5 49.8L477.9 47.3L481.2 44.5L484.6 40.5L487.9 35.9L491.2 31.1L491.7 31.6" stroke="#EDB120" stroke-width="0.38" />
<path d="M327.4 160.2L329.0 157.6L330.5 155.9L332.1 153.0L333.6 150.9L335.2 148.7L336.8 146.1L338.3 143.8L339.9 140.6L341.4 138.0L343.0 134.9L344.6 132.4L346.1 129.5L347.7 127.3L349.3 124.2L350.8 122.2L352.4 119.7L353.9 118.3L355.5 116.8L357.1 115.4L358.6 113.7L360.2 113.2L361.7 113.0L363.3 111.8L364.9 112.2L366.4 111.7L368.0 111.7L369.5 111.7L371.1 110.8L372.7 110.5L374.2 109.1L377.5 106.6L380.8 104.1L384.1 102.6L387.3 99.9L390.6 98.0L393.9 96.2L397.2 94.4L400.4 92.6L403.7 90.8L407.0 89.2L410.3 87.9L413.6 86.5L416.8 84.7L420.1 82.7L423.4 80.5L426.7 78.9L430.0 76.9L433.2 74.7L436.5 72.9L439.8 70.6L443.1 69.1L446.3 67.5L449.6 65.0L452.9 63.0L456.2 60.8L459.5 58.7L462.7 55.7L466.0 53.8L469.3 50.8L472.6 48.3L475.8 46.0L479.1 43.5L482.4 39.4L485.7 35.1L489.0 29.4L489.4 29.9" stroke="#7E2F8E" stroke-width="0.38" />
<path d="M327.4 160.0L329.0 158.0L330.5 155.9L332.1 152.6L333.6 150.3L335.2 147.4L336.8 144.7L338.3 142.4L339.9 140.0L341.4 137.3L343.0 134.1L344.6 132.1L346.1 129.4L347.7 126.8L349.3 124.8L350.8 122.4L352.4 119.5L353.9 117.3L355.5 115.4L357.1 114.8L358.6 113.8L360.2 113.3L361.7 112.9L363.3 112.7L364.9 112.2L366.4 111.8L368.0 111.9L369.5 111.5L371.1 110.7L372.7 109.9L374.2 108.8L377.5 106.8L380.7 104.5L384.0 103.4L387.2 100.8L390.5 99.5L393.7 97.7L397.0 96.0L400.2 94.9L403.5 93.9L406.7 92.0L410.0 89.8L413.2 88.8L416.5 87.0L419.7 85.2L423.0 83.9L426.2 81.1L429.5 80.2L432.7 77.7L436.0 75.0L439.2 73.7L442.5 72.0L445.7 69.7L449.0 67.1L452.2 64.4L455.5 62.0L458.7 60.1L462.0 56.8L465.2 54.3L468.5 51.8L471.7 49.4L475.0 47.2L478.2 44.3L481.5 41.5L484.7 37.4L488.0 32.2L488.4 32.8" stroke="#77AC30" stroke-width="0.38" />
<path d="M327.4 160.5L329.0 157.6L330.5 155.1L332.1 152.6L333.6 150.5L335.2 147.8L336.8 145.8L338.3 143.3L339.9 140.8L341.4 138.5L343.0 135.5L344.6 133.3L346.1 130.8L347.7 128.0L349.3 125.8L350.8 123.5L352.4 121.8L353.9 119.5L355.5 118.0L357.1 116.5L358.6 115.6L360.2 114.8L361.7 113.7L363.3 113.4L364.9 113.9L366.4 113.7L368.0 113.3L369.5 113.0L371.1 112.2L372.7 111.3L374.2 110.3L377.8 108.4L381.3 106.3L384.9 105.2L388.4 103.2L392.0 101.1L395.5 99.7L399.0 98.4L402.6 96.7L406.1 95.2L409.7 93.8L413.2 92.9L416.8 90.9L420.3 89.2L423.9 87.9L427.4 85.8L431.0 84.3L434.5 81.6L438.1 79.1L441.6 77.1L445.2 74.4L448.7 72.6L452.2 69.1L455.8 66.8L459.3 64.2L462.9 61.6L466.4 59.0L470.0 56.6L473.5 53.7L477.1 51.7L480.6 48.6L484.2 45.7L487.7 42.9L491.3 37.8L494.8 32.6L498.3 25.9L498.8 26.5" stroke="#4DBEEE" stroke-width="0.38" />
<path d="M327.4 169.1L329.0 166.4L330.5 164.7L332.1 161.6L333.6 158.6L335.2 156.1L336.8 153.3L338.3 150.0L339.9 147.3L341.4 144.1L343.0 140.7L344.6 137.9L346.1 134.6L347.7 132.1L349.3 129.1L350.8 126.6L352.4 123.9L353.9 121.7L355.5 120.0L357.1 118.8L358.6 117.7L360.2 116.7L361.7 115.9L363.3 115.7L364.9 115.8L366.4 115.7L368.0 115.2L369.5 115.2L371.1 114.4L372.7 113.2L374.2 112.9L377.7 109.8L381.2 107.6L384.7 104.8L388.2 103.3L391.8 101.3L395.3 100.4L398.8 98.3L402.3 96.2L405.8 94.4L409.3 92.5L412.8 91.4L416.3 89.3L419.8 88.1L423.3 86.6L426.8 85.2L430.3 83.4L433.8 80.9L437.3 78.9L440.8 77.0L444.3 75.4L447.8 73.7L451.4 71.3L454.9 68.9L458.4 67.0L461.9 64.6L465.4 61.6L468.9 59.2L472.4 56.9L475.9 54.5L479.4 51.5L482.9 48.5L486.4 46.0L489.9 42.2L493.4 36.6L496.9 30.3L497.4 30.8" stroke="#A2142F" stroke-width="0.38" />
<path d="M327.4 163.4L329.0 161.0L330.5 157.6L332.1 155.7L333.6 153.0L335.2 149.8L336.8 147.5L338.3 145.0L339.9 142.5L341.4 139.8L343.0 136.6L344.6 134.5L346.1 131.9L347.7 128.5L349.3 125.5L350.8 122.8L352.4 121.0L353.9 118.5L355.5 117.3L357.1 115.5L358.6 114.8L360.2 114.3L361.7 113.4L363.3 113.3L364.9 112.7L366.4 112.6L368.0 112.2L369.5 111.9L371.1 111.8L372.7 111.3L374.2 110.4L377.6 107.5L381.1 105.6L384.5 103.3L387.9 101.6L391.3 100.2L394.7 98.2L398.2 96.5L401.6 94.8L405.0 93.3L408.4 91.8L411.9 91.1L415.3 89.2L418.7 87.7L422.1 86.3L425.5 83.8L429.0 82.0L432.4 80.0L435.8 78.2L439.2 75.4L442.6 73.2L446.1 71.9L449.5 68.8L452.9 67.2L456.3 63.7L459.7 61.1L463.2 59.0L466.6 56.0L470.0 53.7L473.4 51.3L476.9 48.4L480.3 45.6L483.7 43.1L487.1 39.0L490.5 33.9L494.0 27.4L494.4 27.9" stroke="#0072BD" stroke-width="0.38" />
<path d="M327.4 158.8L329.0 155.9L330.5 153.2L332.1 151.2L333.6 148.6L335.2 145.6L336.8 141.8L338.3 139.8L339.9 136.6L341.4 134.0L343.0 131.5L344.6 129.4L346.1 127.0L347.7 125.5L349.3 122.6L350.8 120.7L352.4 118.4L353.9 117.0L355.5 115.2L357.1 114.3L358.6 113.0L360.2 113.1L361.7 112.9L363.3 112.5L364.9 112.2L366.4 111.5L368.0 111.7L369.5 111.6L371.1 111.1L372.7 111.2L374.2 110.2L377.6 108.7L381.0 105.5L384.3 104.0L387.7 101.5L391.1 100.0L394.5 98.9L397.8 97.2L401.2 95.5L404.6 94.0L407.9 92.7L411.3 91.1L414.7 89.0L418.1 87.5L421.4 85.5L424.8 83.8L428.2 81.7L431.5 79.4L434.9 76.6L438.3 74.5L441.7 72.4L445.0 70.2L448.4 67.7L451.8 65.1L455.2 62.1L458.5 60.3L461.9 58.6L465.3 56.5L468.6 54.7L472.0 52.7L475.4 50.5L478.8 48.1L482.1 44.8L485.5 40.8L488.9 35.1L492.2 28.9L492.7 29.4" stroke="#D95319" stroke-width="0.38" />
<path d="M327.4 159.4L329.0 157.1L330.5 154.2L332.1 151.9L333.6 149.5L335.2 146.6L336.8 144.1L338.3 141.2L339.9 138.7L341.4 136.3L343.0 134.5L344.6 132.1L346.1 129.7L347.7 127.1L349.3 124.9L350.8 122.3L352.4 120.4L353.9 118.3L355.5 117.0L357.1 115.4L358.6 115.0L360.2 114.1L361.7 113.5L363.3 113.7L364.9 112.9L366.4 112.6L368.0 112.4L369.5 111.7L371.1 111.2L372.7 111.1L374.2 110.1L377.5 108.5L380.8 106.1L384.1 104.5L387.4 103.1L390.7 101.7L394.1 100.0L397.4 98.5L400.7 97.7L404.0 95.7L407.3 95.0L410.6 93.8L413.9 92.7L417.2 91.1L420.5 89.3L423.8 87.5L427.1 86.3L430.4 84.5L433.7 83.0L437.0 80.7L440.3 79.2L443.6 76.6L446.9 75.0L450.2 73.0L453.5 70.7L456.8 69.2L460.1 67.5L463.5 65.4L466.8 63.5L470.1 60.5L473.4 58.5L476.7 55.6L480.0 53.3L483.3 50.1L486.6 45.9L489.9 41.2L490.4 41.8" stroke="#EDB120" stroke-width="0.38" />
<path d="M327.4 162.5L329.0 159.7L330.5 157.2L332.1 154.1L333.6 151.6L335.2 149.0L336.8 145.9L338.3 143.8L339.9 141.4L341.4 139.2L343.0 136.8L344.6 133.6L346.1 130.9L347.7 128.6L349.3 125.7L350.8 123.6L352.4 121.5L353.9 119.6L355.5 117.4L357.1 115.7L358.6 115.0L360.2 113.7L361.7 113.3L363.3 112.5L364.9 112.0L366.4 111.9L368.0 111.4L369.5 111.3L371.1 110.7L372.7 110.3L374.2 109.0L377.5 106.7L380.7 104.2L384.0 102.9L387.3 101.4L390.5 98.9L393.8 97.7L397.1 95.1L400.3 93.4L403.6 92.3L406.8 90.8L410.1 89.2L413.4 87.9L416.6 86.3L419.9 84.0L423.1 82.4L426.4 80.1L429.7 77.6L432.9 76.2L436.2 74.2L439.5 72.6L442.7 71.3L446.0 68.6L449.2 66.4L452.5 64.3L455.8 62.3L459.0 59.9L462.3 58.1L465.6 55.9L468.8 53.9L472.1 51.6L475.3 48.6L478.6 46.5L481.9 43.4L485.1 38.3L488.4 32.6L488.9 33.1" stroke="#7E2F8E" stroke-width="0.38" />
<path d="M327.4 160.0L329.0 157.1L330.5 154.7L332.1 152.5L333.6 149.4L335.2 146.3L336.8 143.5L338.3 140.0L339.9 137.8L341.4 135.6L343.0 132.7L344.6 130.2L346.1 127.5L347.7 125.3L349.3 122.4L350.8 120.0L352.4 118.2L353.9 116.3L355.5 114.2L357.1 112.5L358.6 111.0L360.2 110.4L361.7 110.6L363.3 109.1L364.9 109.0L366.4 108.0L368.0 107.8L369.5 107.3L371.1 107.3L372.7 105.8L374.2 104.9L377.4 102.7L380.6 101.3L383.8 99.3L387.1 97.4L390.3 95.3L393.5 94.0L396.7 92.3L399.9 91.2L403.1 90.4L406.3 88.4L409.5 86.8L412.7 85.2L415.9 84.1L419.1 82.5L422.3 80.9L425.5 78.5L428.8 76.6L432.0 75.2L435.2 73.0L438.4 71.3L441.6 69.5L444.8 67.4L448.0 64.9L451.2 62.6L454.4 61.4L457.6 58.5L460.8 56.4L464.0 54.4L467.2 51.9L470.5 49.7L473.7 46.8L476.9 43.8L480.1 40.3L483.3 35.8L486.5 30.3L487.0 30.9" stroke="#77AC30" stroke-width="0.38" />
<path d="M327.4 165.5L329.0 162.4L330.5 159.7L332.1 156.7L333.6 153.9L335.2 150.2L336.8 147.4L338.3 144.6L339.9 141.6L341.4 138.5L343.0 135.8L344.6 132.7L346.1 129.2L347.7 126.1L349.3 123.6L350.8 120.1L352.4 117.8L353.9 116.0L355.5 114.1L357.1 112.8L358.6 111.3L360.2 111.4L361.7 111.2L363.3 110.8L364.9 111.0L366.4 110.7L368.0 110.4L369.5 109.8L371.1 109.3L372.7 108.7L374.2 108.4L377.4 106.3L380.6 104.6L383.7 103.1L386.9 100.9L390.0 99.3L393.2 97.4L396.4 95.0L399.5 93.4L402.7 91.9L405.9 91.2L409.0 89.4L412.2 87.8L415.4 86.1L418.5 84.1L421.7 82.8L424.9 80.7L428.0 79.8L431.2 77.8L434.3 76.0L437.5 74.2L440.7 71.1L443.8 69.4L447.0 67.4L450.2 65.2L453.3 63.1L456.5 60.8L459.7 59.1L462.8 56.8L466.0 53.5L469.2 51.7L472.3 48.1L475.5 45.7L478.6 42.6L481.8 38.0L485.0 31.9L485.4 32.4" stroke="#4DBEEE" stroke-width="0.38" />
<path d="M327.4 160.2L329.0 157.3L330.5 154.6L332.1 152.1L333.6 148.8L335.2 146.2L336.8 143.7L338.3 140.5L339.9 136.9L341.4 134.3L343.0 131.6L344.6 129.4L346.1 127.0L347.7 123.4L349.3 121.4L350.8 118.7L352.4 116.6L353.9 115.4L355.5 114.0L357.1 113.0L358.6 112.0L360.2 111.8L361.7 110.8L363.3 110.2L364.9 110.0L366.4 109.3L368.0 109.0L369.5 108.3L371.1 108.2L372.7 108.0L374.2 107.5L377.3 105.3L380.5 103.4L383.6 101.8L386.7 101.2L389.8 98.7L392.9 98.0L396.0 95.7L399.2 93.8L402.3 92.5L405.4 91.2L408.5 89.1L411.6 88.5L414.7 87.0L417.9 84.8L421.0 83.0L424.1 81.6L427.2 80.0L430.3 77.7L433.4 74.8L436.6 72.8L439.7 71.5L442.8 69.5L445.9 67.6L449.0 65.2L452.1 63.3L455.3 61.9L458.4 59.2L461.5 56.7L464.6 55.0L467.7 53.0L470.8 50.1L474.0 47.4L477.1 44.2L480.2 39.5L483.3 34.2L483.8 34.7" stroke="#A2142F" stroke-width="0.38" />
<path d="M327.4 160.6L329.0 157.7L330.5 154.9L332.1 152.2L333.6 149.6L335.2 146.8L336.8 144.6L338.3 141.9L339.9 138.9L341.4 136.3L343.0 133.8L344.6 130.9L346.1 128.5L347.7 125.9L349.3 123.3L350.8 120.6L352.4 118.7L353.9 116.4L355.5 114.5L357.1 113.8L358.6 113.2L360.2 112.7L361.7 112.3L363.3 111.7L364.9 111.3L366.4 111.5L368.0 110.3L369.5 109.9L371.1 109.6L372.7 109.0L374.2 108.7L377.3 105.8L380.4 103.8L383.6 101.8L386.7 100.2L389.8 98.6L392.9 97.2L396.0 95.1L399.1 94.3L402.2 92.5L405.4 90.2L408.5 89.4L411.6 87.5L414.7 85.3L417.8 83.4L420.9 82.2L424.0 80.8L427.1 78.0L430.3 76.1L433.4 73.1L436.5 71.0L439.6 69.4L442.7 67.8L445.8 65.7L448.9 63.2L452.1 61.6L455.2 59.8L458.3 57.9L461.4 56.0L464.5 53.5L467.6 51.2L470.7 48.5L473.8 46.4L477.0 43.1L480.1 38.7L483.2 33.2L483.7 33.7" stroke="#0072BD" stroke-width="0.38" />
<path d="M327.4 167.4L329.0 164.6L330.5 161.9L332.1 158.5L333.6 156.2L335.2 152.9L336.8 150.5L338.3 147.4L339.9 144.2L341.4 142.3L343.0 140.3L344.6 137.6L346.1 134.9L347.7 132.4L349.3 130.0L350.8 126.7L352.4 125.0L353.9 122.7L355.5 120.8L357.1 119.1L358.6 118.8L360.2 117.6L361.7 117.0L363.3 116.5L364.9 116.8L366.4 116.8L368.0 116.3L369.5 115.9L371.1 114.9L372.7 114.1L374.2 112.6L377.3 109.8L380.4 107.5L383.4 106.2L386.5 104.5L389.6 102.4L392.6 100.6L395.7 98.3L398.8 97.1L401.9 95.9L404.9 93.1L408.0 91.5L411.1 89.9L414.1 88.2L417.2 86.3L420.3 84.1L423.3 82.5L426.4 80.2L429.5 77.3L432.6 74.8L435.6 73.5L438.7 71.5L441.8 69.8L444.8 67.8L447.9 65.8L451.0 62.7L454.0 61.0L457.1 58.8L460.2 56.1L463.3 54.4L466.3 51.6L469.4 48.9L472.5 46.2L475.5 43.3L478.6 39.0L481.7 33.1L482.1 33.6" stroke="#D95319" stroke-width="0.38" />
<path d="M327.4 158.5L329.0 156.0L330.5 153.4L332.1 152.0L333.6 148.9L335.2 146.7L336.8 144.8L338.3 141.8L339.9 139.2L341.4 136.6L343.0 134.5L344.6 131.6L346.1 129.0L347.7 126.6L349.3 123.8L350.8 122.1L352.4 119.8L353.9 118.2L355.5 116.3L357.1 114.8L358.6 113.4L360.2 113.5L361.7 113.7L363.3 113.1L364.9 112.4L366.4 112.7L368.0 112.2L369.5 111.9L371.1 111.7L372.7 111.1L374.2 110.5L377.3 107.7L380.3 106.1L383.3 103.8L386.4 102.2L389.4 100.0L392.5 98.6L395.5 97.1L398.5 94.9L401.6 93.2L404.6 92.0L407.7 90.8L410.7 88.2L413.8 86.8L416.8 85.6L419.8 83.9L422.9 82.5L425.9 80.3L429.0 78.3L432.0 76.3L435.0 74.2L438.1 71.6L441.1 69.4L444.2 66.9L447.2 64.3L450.2 62.0L453.3 60.0L456.3 57.5L459.4 55.2L462.4 52.8L465.4 49.2L468.5 46.7L471.5 43.8L474.6 39.5L477.6 34.6L480.7 29.1L481.1 29.6" stroke="#EDB120" stroke-width="0.38" />
<path d="M327.4 163.1L329.0 160.3L330.5 157.0L332.1 153.9L333.6 151.2L335.2 147.5L336.8 144.9L338.3 142.3L339.9 138.8L341.4 136.1L343.0 133.2L344.6 130.4L346.1 127.7L347.7 124.5L349.3 122.0L350.8 119.7L352.4 116.8L353.9 114.9L355.5 112.7L357.1 111.5L358.6 110.5L360.2 109.8L361.7 109.3L363.3 109.0L364.9 107.9L366.4 108.6L368.0 108.1L369.5 108.2L371.1 107.8L372.7 107.3L374.2 106.0L377.2 103.3L380.2 101.3L383.2 99.7L386.2 97.5L389.2 95.4L392.2 94.2L395.2 92.2L398.2 90.2L401.2 88.2L404.2 86.6L407.2 84.9L410.2 83.2L413.2 81.0L416.2 78.8L419.2 76.9L422.2 74.8L425.3 72.6L428.3 70.1L431.3 67.8L434.3 65.5L437.3 63.2L440.3 59.8L443.3 58.1L446.3 55.7L449.3 53.6L452.3 51.0L455.3 48.4L458.3 47.2L461.3 44.2L464.3 41.3L467.3 38.6L470.3 35.3L473.3 31.0L476.3 27.0L479.3 20.8L479.7 21.3" stroke="#7E2F8E" stroke-width="0.38" />
<path d="M327.4 161.6L329.0 159.3L330.5 156.8L332.1 153.8L333.6 151.3L335.2 148.3L336.8 145.4L338.3 142.4L339.9 140.4L341.4 137.3L343.0 135.8L344.6 132.9L346.1 130.3L347.7 127.6L349.3 125.6L350.8 123.4L352.4 121.3L353.9 119.0L355.5 117.1L357.1 116.0L358.6 115.6L360.2 114.7L361.7 113.3L363.3 113.1L364.9 112.7L366.4 111.7L368.0 110.6L369.5 110.5L371.1 108.2L372.7 106.7L374.2 105.3L377.2 103.4L380.2 100.9L383.2 99.1L386.1 97.3L389.1 95.8L392.1 93.6L395.1 91.8L398.1 90.6L401.0 88.5L404.0 86.9L407.0 85.1L410.0 83.1L413.0 81.5L415.9 79.5L418.9 78.6L421.9 76.4L424.9 74.0L427.9 71.6L430.9 69.1L433.8 66.6L436.8 64.2L439.8 62.0L442.8 60.4L445.8 58.0L448.7 56.0L451.7 53.5L454.7 51.5L457.7 48.8L460.7 45.9L463.6 43.1L466.6 40.1L469.6 37.1L472.6 32.3L475.6 27.1L478.5 21.6L479.0 22.1" stroke="#77AC30" stroke-width="0.38" />
<path d="M327.4 161.9L329.0 160.1L330.5 156.8L332.1 153.9L333.6 151.5L335.2 148.7L336.8 145.9L338.3 143.1L339.9 140.4L341.4 137.7L343.0 135.2L344.6 132.6L346.1 130.3L347.7 128.1L349.3 126.3L350.8 123.5L352.4 121.4L353.9 119.8L355.5 118.4L357.1 117.7L358.6 117.2L360.2 115.5L361.7 114.3L363.3 113.1L364.9 113.3L366.4 112.4L368.0 112.2L369.5 112.2L371.1 111.3L372.7 110.0L374.2 108.7L377.2 106.6L380.2 104.9L383.1 103.2L386.1 101.1L389.1 99.6L392.1 96.7L395.0 94.6L398.0 93.9L401.0 92.0L403.9 90.4L406.9 88.6L409.9 86.0L412.9 84.4L415.8 82.7L418.8 80.1L421.8 78.7L424.8 75.8L427.7 73.8L430.7 71.5L433.7 69.4L436.6 66.4L439.6 64.2L442.6 62.1L445.6 59.8L448.5 58.4L451.5 55.9L454.5 53.6L457.5 51.2L460.4 48.2L463.4 45.3L466.4 42.4L469.3 39.5L472.3 35.7L475.3 30.8L478.3 26.1L478.7 26.6" stroke="#4DBEEE" stroke-width="0.38" />
<path d="M327.4 161.4L329.0 158.5L330.5 156.3L332.1 154.0L333.6 151.3L335.2 148.3L336.8 145.9L338.3 143.5L339.9 140.9L341.4 137.9L343.0 135.5L344.6 132.7L346.1 128.8L347.7 126.5L349.3 123.9L350.8 122.2L352.4 119.4L353.9 117.7L355.5 115.4L357.1 113.9L358.6 112.8L360.2 111.7L361.7 111.2L363.3 110.7L364.9 110.0L366.4 109.5L368.0 108.4L369.5 107.3L371.1 106.6L372.7 105.7L374.2 104.4L377.2 102.0L380.1 100.0L383.0 98.5L386.0 96.7L388.9 95.5L391.8 93.6L394.8 91.5L397.7 89.7L400.7 88.6L403.6 86.5L406.5 84.9L409.5 83.1L412.4 81.4L415.3 79.4L418.3 76.8L421.2 74.8L424.2 72.0L427.1 69.2L430.0 67.4L433.0 64.8L435.9 63.0L438.8 60.1L441.8 58.4L444.7 55.7L447.7 53.1L450.6 51.2L453.5 48.1L456.5 45.5L459.4 42.6L462.3 39.6L465.3 36.7L468.2 33.6L471.1 29.7L474.1 24.8L477.0 18.7L477.5 19.3" stroke="#A2142F" stroke-width="0.38" />
<path d="M327.4 162.4L329.0 159.5L330.5 157.4L332.1 154.7L333.6 151.4L335.2 149.1L336.8 145.8L338.3 143.3L339.9 141.0L341.4 138.6L343.0 136.1L344.6 133.4L346.1 131.0L347.7 128.0L349.3 125.2L350.8 122.3L352.4 119.9L353.9 118.2L355.5 115.8L357.1 115.1L358.6 113.8L360.2 113.2L361.7 111.7L363.3 110.7L364.9 111.0L366.4 110.2L368.0 110.2L369.5 109.8L371.1 108.6L372.7 107.4L374.2 107.3L377.1 105.2L380.1 102.4L383.0 100.8L385.9 99.5L388.8 97.5L391.7 95.7L394.6 93.9L397.5 91.9L400.5 90.4L403.4 88.3L406.3 85.7L409.2 84.3L412.1 82.0L415.0 79.9L417.9 78.4L420.9 76.3L423.8 74.0L426.7 71.3L429.6 69.4L432.5 66.5L435.4 64.2L438.4 61.9L441.3 59.1L444.2 56.2L447.1 54.0L450.0 51.5L452.9 48.9L455.8 46.2L458.8 43.7L461.7 40.6L464.6 37.5L467.5 34.2L470.4 29.5L473.3 23.8L476.2 17.6L476.7 18.1" stroke="#0072BD" stroke-width="0.38" />
<path d="M327.4 159.7L329.0 156.9L330.5 154.3L332.1 151.6L333.6 148.2L335.2 145.9L336.8 142.5L338.3 140.0L339.9 137.4L341.4 135.1L343.0 132.5L344.6 130.2L346.1 127.2L347.7 124.4L349.3 122.3L350.8 119.9L352.4 117.2L353.9 114.9L355.5 112.8L357.1 112.3L358.6 111.2L360.2 110.3L361.7 109.8L363.3 109.3L364.9 108.4L366.4 107.7L368.0 107.7L369.5 107.1L371.1 106.0L372.7 105.2L374.2 103.7L377.1 102.4L380.0 100.4L382.9 98.6L385.8 96.7L388.7 94.0L391.5 93.0L394.4 91.0L397.3 89.4L400.2 87.7L403.1 86.2L406.0 84.8L408.9 83.7L411.7 82.2L414.6 80.2L417.5 77.6L420.4 75.2L423.3 73.3L426.2 71.7L429.1 69.0L432.0 66.2L434.8 65.2L437.7 63.0L440.6 60.6L443.5 59.1L446.4 56.7L449.3 54.3L452.2 52.5L455.0 50.1L457.9 48.0L460.8 45.6L463.7 42.5L466.6 39.6L469.5 36.3L472.4 32.0L475.3 26.6L475.7 27.1" stroke="#D95319" stroke-width="0.38" />
<path d="M327.4 152.3L329.0 149.5L330.5 147.0L332.1 144.9L333.6 142.5L335.2 139.7L336.8 137.4L338.3 134.7L339.9 132.2L341.4 129.7L343.0 128.0L344.6 124.9L346.1 123.3L347.7 120.9L349.3 119.0L350.8 116.4L352.4 114.7L353.9 113.0L355.5 111.6L357.1 110.8L358.6 110.5L360.2 109.5L361.7 109.1L363.3 108.3L364.9 107.4L366.4 106.9L368.0 106.3L369.5 105.9L371.1 105.1L372.7 104.2L374.2 103.5L377.1 101.5L380.0 99.4L382.8 96.8L385.7 95.6L388.6 93.4L391.4 91.8L394.3 88.9L397.2 87.9L400.0 85.6L402.9 83.2L405.8 81.5L408.7 79.7L411.5 78.6L414.4 77.5L417.3 74.5L420.1 73.2L423.0 71.6L425.9 69.5L428.7 67.5L431.6 65.7L434.5 63.6L437.3 61.1L440.2 58.6L443.1 56.3L446.0 53.8L448.8 51.7L451.7 48.8L454.6 47.0L457.4 44.6L460.3 42.3L463.2 40.1L466.0 36.8L468.9 33.4L471.8 29.3L474.7 24.0L475.1 24.6" stroke="#EDB120" stroke-width="0.38" />
<path d="M327.4 163.0L329.0 159.9L330.5 157.3L332.1 153.6L333.6 151.1L335.2 148.4L336.8 146.0L338.3 143.4L339.9 140.3L341.4 137.6L343.0 134.4L344.6 130.9L346.1 128.3L347.7 125.3L349.3 122.4L350.8 120.2L352.4 117.0L353.9 114.5L355.5 112.0L357.1 110.8L358.6 109.5L360.2 107.7L361.7 107.5L363.3 106.8L364.9 106.0L366.4 105.6L368.0 105.1L369.5 103.9L371.1 102.8L372.7 101.9L374.2 101.0L377.1 98.2L379.9 95.9L382.8 94.3L385.6 92.5L388.5 90.7L391.3 88.4L394.2 86.9L397.0 85.3L399.8 84.0L402.7 82.2L405.5 80.5L408.4 78.2L411.2 76.1L414.1 74.2L416.9 72.7L419.8 71.6L422.6 69.1L425.5 66.8L428.3 65.1L431.2 62.5L434.0 60.5L436.9 58.2L439.7 56.3L442.6 54.0L445.4 51.4L448.2 49.4L451.1 45.5L453.9 43.7L456.8 41.4L459.6 39.0L462.5 36.1L465.3 32.9L468.2 29.2L471.0 24.4L473.9 18.6L474.3 19.1" stroke="#7E2F8E" stroke-width="0.38" />
<path d="M327.4 156.9L329.0 153.8L330.5 151.2L332.1 148.8L333.6 145.8L335.2 143.2L336.8 140.6L338.3 138.2L339.9 135.9L341.4 133.0L343.0 130.3L344.6 126.9L346.1 124.6L347.7 122.1L349.3 119.5L350.8 117.0L352.4 115.2L353.9 113.1L355.5 112.0L357.1 110.9L358.6 109.9L360.2 108.9L361.7 108.5L363.3 108.1L364.9 107.9L366.4 108.0L368.0 107.4L369.5 107.1L371.1 106.2L372.7 105.2L374.2 103.6L377.0 101.2L379.8 98.9L382.7 97.5L385.5 95.2L388.3 94.2L391.1 91.6L393.9 90.1L396.7 88.0L399.5 85.9L402.3 83.1L405.1 81.2L408.0 78.6L410.8 76.8L413.6 75.2L416.4 73.8L419.2 71.3L422.0 70.0L424.8 67.4L427.6 64.8L430.4 62.0L433.3 60.8L436.1 58.1L438.9 55.6L441.7 53.7L444.5 51.2L447.3 49.5L450.1 47.0L452.9 44.1L455.7 41.8L458.6 38.9L461.4 35.9L464.2 33.7L467.0 29.2L469.8 24.5L472.6 19.2L473.1 19.7" stroke="#77AC30" stroke-width="0.38" />
<path d="M327.4 157.4L329.0 154.2L330.5 151.5L332.1 148.8L333.6 146.5L335.2 143.5L336.8 140.8L338.3 137.9L339.9 135.2L341.4 132.8L343.0 129.5L344.6 127.0L346.1 123.5L347.7 120.8L349.3 118.3L350.8 116.3L352.4 113.7L353.9 111.3L355.5 109.9L357.1 108.6L358.6 107.3L360.2 106.4L361.7 106.2L363.3 105.6L364.9 104.9L366.4 104.8L368.0 104.7L369.5 104.0L371.1 103.8L372.7 102.9L374.2 103.0L377.0 99.9L379.8 97.5L382.6 96.5L385.4 94.9L388.2 92.8L391.0 91.8L393.8 91.0L396.6 89.2L399.4 88.6L402.2 86.3L405.0 84.6L407.8 82.7L410.6 81.1L413.4 79.9L416.2 77.4L419.0 76.0L421.8 74.3L424.6 72.0L427.4 69.9L430.1 67.6L432.9 65.9L435.7 64.2L438.5 61.3L441.3 59.0L444.1 56.8L446.9 54.3L449.7 51.7L452.5 49.6L455.3 47.6L458.1 45.4L460.9 42.8L463.7 40.1L466.5 35.9L469.3 31.0L472.1 26.5L472.6 27.0" stroke="#4DBEEE" stroke-width="0.38" />
<path d="M327.4 158.5L329.0 155.8L330.5 153.2L332.1 150.4L333.6 147.9L335.2 145.3L336.8 142.6L338.3 139.9L339.9 136.5L341.4 134.1L343.0 131.4L344.6 129.1L346.1 127.0L347.7 124.0L349.3 121.5L350.8 120.3L352.4 116.7L353.9 115.0L355.5 113.5L357.1 111.9L358.6 110.6L360.2 109.7L361.7 108.9L363.3 107.9L364.9 107.3L366.4 105.8L368.0 105.4L369.5 104.5L371.1 103.3L372.7 102.5L374.2 101.1L377.0 99.3L379.8 96.9L382.6 95.0L385.3 93.2L388.1 91.5L390.9 89.5L393.7 87.1L396.4 85.4L399.2 84.0L402.0 82.6L404.8 80.4L407.6 79.0L410.3 77.1L413.1 75.2L415.9 73.5L418.7 71.2L421.5 69.1L424.2 66.6L427.0 64.3L429.8 62.6L432.6 60.6L435.3 58.5L438.1 56.6L440.9 53.9L443.7 51.4L446.5 48.2L449.2 45.6L452.0 43.1L454.8 40.2L457.6 37.6L460.4 34.5L463.1 31.2L465.9 27.8L468.7 23.3L471.5 18.0L471.9 18.5" stroke="#A2142F" stroke-width="0.38" />
<path d="M327.4 155.5L329.0 153.5L330.5 151.1L332.1 148.7L333.6 145.4L335.2 141.7L336.8 139.2L338.3 136.5L339.9 133.8L341.4 131.6L343.0 129.1L344.6 126.9L346.1 123.8L347.7 122.1L349.3 119.2L350.8 117.0L352.4 114.8L353.9 113.1L355.5 111.9L357.1 110.5L358.6 108.7L360.2 108.6L361.7 108.3L363.3 107.4L364.9 107.8L366.4 106.7L368.0 106.1L369.5 104.9L371.1 103.9L372.7 103.4L374.2 102.8L377.0 100.5L379.8 98.5L382.5 95.9L385.3 94.3L388.1 92.3L390.8 90.7L393.6 89.3L396.4 87.4L399.1 85.9L401.9 84.1L404.7 82.3L407.4 80.3L410.2 78.9L413.0 77.2L415.7 75.4L418.5 73.9L421.3 71.2L424.0 69.2L426.8 67.7L429.6 64.9L432.3 62.8L435.1 60.5L437.9 58.6L440.6 55.8L443.4 53.5L446.2 51.5L448.9 48.3L451.7 46.4L454.5 43.1L457.2 40.9L460.0 38.5L462.8 36.0L465.5 32.0L468.3 26.9L471.1 21.7L471.5 22.2" stroke="#0072BD" stroke-width="0.38" />
<path d="M327.4 158.4L329.0 155.4L330.5 152.4L332.1 150.1L333.6 147.6L335.2 145.4L336.8 142.6L338.3 140.6L339.9 137.9L341.4 135.4L343.0 133.5L344.6 130.2L346.1 126.9L347.7 124.6L349.3 122.6L350.8 120.1L352.4 117.7L353.9 115.3L355.5 113.6L357.1 112.8L358.6 112.0L360.2 111.2L361.7 110.3L363.3 108.5L364.9 108.3L366.4 107.9L368.0 107.3L369.5 105.8L371.1 104.1L372.7 103.7L374.2 102.0L377.0 99.3L379.7 97.8L382.5 95.8L385.2 94.2L388.0 92.6L390.7 90.7L393.5 88.6L396.2 86.9L399.0 85.4L401.7 83.3L404.5 81.7L407.2 80.6L410.0 78.6L412.7 77.3L415.5 75.4L418.2 72.6L421.0 70.7L423.7 68.9L426.5 66.8L429.2 64.2L432.0 62.1L434.7 60.3L437.5 58.0L440.2 56.0L443.0 54.1L445.7 51.4L448.5 48.7L451.2 46.4L454.0 44.1L456.7 42.2L459.5 39.5L462.2 36.9L465.0 33.2L467.8 28.7L470.5 24.4L471.0 24.9" stroke="#D95319" stroke-width="0.38" />
<path d="M327.4 157.8L329.0 155.0L330.5 152.7L332.1 150.3L333.6 147.5L335.2 145.7L336.8 142.8L338.3 140.3L339.9 137.4L341.4 134.7L343.0 133.1L344.6 131.0L346.1 129.0L347.7 126.8L349.3 123.9L350.8 122.5L352.4 120.4L353.9 118.8L355.5 116.3L357.1 115.3L358.6 114.5L360.2 113.2L361.7 112.6L363.3 112.2L364.9 111.8L366.4 111.1L368.0 110.6L369.5 109.9L371.1 108.7L372.7 109.0L374.2 107.1L376.9 105.2L379.6 103.2L382.4 101.3L385.1 99.1L387.8 97.3L390.5 95.1L393.2 93.8L395.9 92.3L398.6 90.6L401.4 88.5L404.1 86.7L406.8 84.7L409.5 82.8L412.2 81.4L414.9 78.5L417.6 76.3L420.3 74.4L423.1 72.2L425.8 70.0L428.5 68.5L431.2 65.9L433.9 63.8L436.6 61.0L439.3 58.5L442.1 56.7L444.8 54.8L447.5 52.0L450.2 50.1L452.9 46.5L455.6 44.5L458.3 41.8L461.0 38.5L463.8 34.7L466.5 30.7L469.2 25.5L469.7 26.0" stroke="#EDB120" stroke-width="0.38" />
<path d="M327.4 158.3L329.0 155.3L330.5 152.6L332.1 150.4L333.6 148.3L335.2 145.6L336.8 142.6L338.3 140.5L339.9 137.2L341.4 134.5L343.0 132.4L344.6 129.1L346.1 127.4L347.7 124.4L349.3 121.8L350.8 120.3L352.4 117.2L353.9 114.8L355.5 114.2L357.1 112.8L358.6 111.1L360.2 109.7L361.7 108.7L363.3 108.7L364.9 108.4L366.4 107.4L368.0 106.8L369.5 106.0L371.1 105.2L372.7 104.2L374.2 102.9L376.9 101.2L379.6 99.6L382.3 97.4L385.0 95.2L387.7 92.7L390.4 91.5L393.2 90.3L395.9 88.8L398.6 86.5L401.3 85.4L404.0 83.3L406.7 81.4L409.4 79.4L412.1 77.5L414.8 74.7L417.5 73.0L420.2 71.2L422.9 70.1L425.6 67.2L428.3 65.2L431.0 63.2L433.7 60.7L436.4 58.2L439.1 56.0L441.8 52.2L444.5 50.1L447.2 47.7L449.9 44.3L452.7 41.3L455.4 38.0L458.1 35.3L460.8 31.3L463.5 28.5L466.2 23.7L468.9 18.3L469.3 18.9" stroke="#7E2F8E" stroke-width="0.38" />
<path d="M327.4 156.4L329.0 153.7L330.5 150.6L332.1 147.6L333.6 145.1L335.2 142.3L336.8 140.3L338.3 136.9L339.9 134.7L341.4 131.5L343.0 128.8L344.6 126.7L346.1 123.9L347.7 121.5L349.3 119.4L350.8 116.4L352.4 113.9L353.9 112.0L355.5 110.1L357.1 108.5L358.6 108.0L360.2 107.7L361.7 107.2L363.3 105.3L364.9 104.4L366.4 104.3L368.0 102.8L369.5 100.8L371.1 100.0L372.7 99.0L374.2 97.0L376.9 95.8L379.6 93.5L382.3 91.9L384.9 90.8L387.6 89.2L390.3 87.7L393.0 85.5L395.7 84.5L398.3 83.1L401.0 81.6L403.7 79.0L406.4 77.2L409.1 76.4L411.7 75.1L414.4 72.1L417.1 70.3L419.8 67.7L422.5 65.9L425.1 63.5L427.8 60.8L430.5 58.9L433.2 56.1L435.9 54.5L438.5 52.5L441.2 50.1L443.9 48.0L446.6 45.3L449.3 43.0L451.9 40.7L454.6 37.8L457.3 35.2L460.0 32.5L462.7 27.7L465.3 23.8L468.0 19.2L468.5 19.7" stroke="#77AC30" stroke-width="0.38" />
<path d="M327.4 159.5L329.0 156.7L330.5 154.1L332.1 151.7L333.6 149.1L335.2 146.3L336.8 144.2L338.3 140.5L339.9 138.0L341.4 135.6L343.0 133.2L344.6 129.8L346.1 127.6L347.7 124.8L349.3 122.7L350.8 120.2L352.4 117.6L353.9 116.1L355.5 113.4L357.1 112.4L358.6 111.1L360.2 109.2L361.7 108.1L363.3 107.3L364.9 105.8L366.4 105.0L368.0 104.1L369.5 102.7L371.1 101.2L372.7 99.6L374.2 97.9L376.9 95.8L379.6 94.1L382.2 93.2L384.9 91.1L387.6 90.1L390.2 88.3L392.9 86.9L395.6 85.4L398.2 82.9L400.9 81.6L403.6 79.7L406.3 77.7L408.9 76.3L411.6 75.0L414.3 73.2L416.9 71.2L419.6 69.5L422.3 67.4L424.9 65.8L427.6 64.2L430.3 61.5L433.0 59.1L435.6 57.5L438.3 55.2L441.0 53.6L443.6 52.1L446.3 49.7L449.0 47.7L451.6 44.5L454.3 42.6L457.0 40.7L459.6 38.1L462.3 34.7L465.0 31.0L467.7 26.5L468.1 27.1" stroke="#4DBEEE" stroke-width="0.38" />
<path d="M327.4 156.4L329.0 153.3L330.5 151.6L332.1 149.0L333.6 146.2L335.2 143.6L336.8 140.9L338.3 138.2L339.9 135.6L341.4 133.1L343.0 130.6L344.6 127.7L346.1 125.7L347.7 123.1L349.3 121.2L350.8 118.6L352.4 116.7L353.9 113.9L355.5 112.1L357.1 110.9L358.6 109.8L360.2 109.1L361.7 108.6L363.3 107.2L364.9 106.7L366.4 106.1L368.0 105.0L369.5 104.4L371.1 103.7L372.7 102.6L374.2 101.7L376.9 98.7L379.5 96.5L382.2 94.8L384.8 92.9L387.5 91.0L390.2 89.9L392.8 88.2L395.5 85.7L398.1 84.2L400.8 82.7L403.4 80.2L406.1 78.5L408.7 76.9L411.4 75.3L414.0 73.2L416.7 71.2L419.4 68.6L422.0 66.1L424.7 64.2L427.3 61.5L430.0 59.3L432.6 56.8L435.3 54.6L437.9 52.1L440.6 48.9L443.2 46.9L445.9 44.5L448.6 42.0L451.2 39.7L453.9 36.9L456.5 33.7L459.2 30.4L461.8 26.8L464.5 22.1L467.1 16.8L467.6 17.3" stroke="#A2142F" stroke-width="0.38" />
<path d="M327.4 159.7L329.0 157.5L330.5 155.0L332.1 152.0L333.6 149.6L335.2 147.7L336.8 145.1L338.3 142.0L339.9 138.9L341.4 135.8L343.0 133.7L344.6 131.3L346.1 129.0L347.7 126.2L349.3 124.4L350.8 122.5L352.4 119.7L353.9 118.0L355.5 115.6L357.1 114.2L358.6 112.8L360.2 112.3L361.7 111.0L363.3 111.0L364.9 110.2L366.4 109.1L368.0 108.8L369.5 107.5L371.1 106.6L372.7 105.2L374.2 104.1L377.0 101.8L379.8 100.0L382.5 98.0L385.3 96.7L388.1 94.7L390.8 92.9L393.6 91.9L396.4 89.8L399.1 87.5L401.9 85.9L404.7 83.9L407.4 82.2L410.2 79.9L413.0 78.2L415.8 75.9L418.5 74.0L421.3 71.8L424.1 69.7L426.8 67.3L429.6 64.9L432.4 62.3L435.1 60.9L437.9 58.4L440.7 56.4L443.4 54.4L446.2 51.9L449.0 49.3L451.7 46.8L454.5 45.2L457.3 42.4L460.0 39.3L462.8 35.6L465.6 31.9L468.4 27.2L471.1 21.1L471.6 21.6" stroke="#0072BD" stroke-width="0.38" />
<path d="M327.4 161.7L329.0 159.5L330.5 156.3L332.1 152.9L333.6 150.3L335.2 147.4L336.8 143.7L338.3 141.3L339.9 137.8L341.4 135.3L343.0 132.0L344.6 129.2L346.1 126.8L347.7 124.2L349.3 122.1L350.8 118.9L352.4 115.8L353.9 113.4L355.5 112.0L357.1 110.4L358.6 109.4L360.2 108.8L361.7 107.9L363.3 107.6L364.9 107.4L366.4 106.1L368.0 105.8L369.5 105.0L371.1 104.1L372.7 104.0L374.2 103.0L376.9 100.7L379.6 98.4L382.3 96.6L385.0 93.9L387.7 92.3L390.4 90.2L393.1 88.9L395.8 86.8L398.6 84.9L401.3 83.0L404.0 80.8L406.7 79.0L409.4 77.0L412.1 74.9L414.8 73.0L417.5 70.8L420.2 68.8L422.9 66.4L425.6 64.1L428.3 61.3L431.0 59.2L433.7 57.0L436.4 54.9L439.1 53.4L441.8 51.1L444.5 47.6L447.2 45.3L449.9 42.3L452.6 40.3L455.3 37.7L458.0 35.5L460.7 31.1L463.4 28.2L466.1 23.2L468.8 18.0L469.3 18.6" stroke="#D95319" stroke-width="0.38" />
<path d="M327.4 156.4L329.0 153.1L330.5 150.9L332.1 147.8L333.6 144.6L335.2 141.8L336.8 139.0L338.3 135.3L339.9 132.9L341.4 130.3L343.0 128.2L344.6 125.2L346.1 122.4L347.7 120.1L349.3 117.0L350.8 114.2L352.4 112.0L353.9 110.0L355.5 108.3L357.1 107.1L358.6 105.6L360.2 104.9L361.7 104.5L363.3 103.1L364.9 102.7L366.4 102.2L368.0 101.2L369.5 100.3L371.1 98.5L372.7 97.8L374.2 96.6L376.9 93.9L379.6 92.4L382.2 90.9L384.9 89.8L387.6 87.6L390.2 86.2L392.9 84.2L395.6 82.7L398.3 80.9L400.9 79.7L403.6 77.2L406.3 75.4L408.9 73.3L411.6 71.5L414.3 69.7L417.0 67.4L419.6 65.6L422.3 64.1L425.0 62.9L427.6 60.8L430.3 58.1L433.0 56.3L435.6 53.9L438.3 51.2L441.0 48.4L443.7 46.3L446.3 44.0L449.0 41.2L451.7 38.9L454.3 36.9L457.0 34.2L459.7 30.7L462.4 27.4L465.0 22.7L467.7 17.1L468.2 17.7" stroke="#EDB120" stroke-width="0.38" />
<path d="M327.4 154.5L329.0 151.9L330.5 148.7L332.1 146.3L333.6 144.4L335.2 141.9L336.8 139.5L338.3 136.6L339.9 134.2L341.4 131.6L343.0 128.7L344.6 126.4L346.1 123.4L347.7 120.7L349.3 119.5L350.8 115.9L352.4 113.5L353.9 112.4L355.5 110.4L357.1 108.7L358.6 108.3L360.2 106.9L361.7 106.2L363.3 105.2L364.9 104.5L366.4 103.9L368.0 102.9L369.5 102.1L371.1 101.3L372.7 100.5L374.2 99.8L376.9 97.6L379.5 96.4L382.2 95.1L384.8 93.0L387.5 91.2L390.1 89.6L392.8 88.3L395.4 86.5L398.1 85.5L400.8 83.8L403.4 82.4L406.1 80.6L408.7 79.0L411.4 76.6L414.0 75.1L416.7 73.6L419.3 71.1L422.0 69.2L424.6 67.4L427.3 65.5L429.9 63.7L432.6 62.0L435.3 60.4L437.9 57.2L440.6 55.2L443.2 52.4L445.9 49.2L448.5 47.3L451.2 44.7L453.8 42.4L456.5 39.7L459.1 37.3L461.8 33.3L464.4 29.8L467.1 25.1L467.6 25.6" stroke="#7E2F8E" stroke-width="0.38" />
<path d="M327.4 156.7L329.0 153.9L330.5 151.3L332.1 147.9L333.6 145.0L335.2 142.8L336.8 139.7L338.3 137.4L339.9 134.6L341.4 132.3L343.0 129.0L344.6 126.9L346.1 124.9L347.7 122.3L349.3 120.1L350.8 117.5L352.4 115.2L353.9 113.1L355.5 111.7L357.1 110.4L358.6 109.4L360.2 108.4L361.7 108.1L363.3 106.8L364.9 106.3L366.4 105.8L368.0 105.2L369.5 104.7L371.1 104.2L372.7 103.3L374.2 102.5L376.8 100.8L379.5 99.1L382.1 97.1L384.7 95.0L387.3 92.6L390.0 91.5L392.6 89.5L395.2 87.5L397.8 85.9L400.5 84.7L403.1 82.7L405.7 80.8L408.3 79.4L411.0 77.6L413.6 75.4L416.2 72.7L418.8 71.2L421.5 69.3L424.1 66.6L426.7 63.8L429.3 61.4L432.0 58.7L434.6 56.6L437.2 54.8L439.8 51.6L442.5 49.7L445.1 47.1L447.7 44.2L450.3 41.6L453.0 38.1L455.6 35.3L458.2 31.7L460.8 27.1L463.5 22.7L466.1 17.1L466.5 17.6" stroke="#77AC30" stroke-width="0.38" />
<path d="M327.4 160.2L329.0 156.6L330.5 154.3L332.1 151.6L333.6 148.8L335.2 146.1L336.8 143.9L338.3 140.2L339.9 136.9L341.4 134.7L343.0 131.5L344.6 129.4L346.1 126.6L347.7 123.9L349.3 121.3L350.8 119.0L352.4 116.8L353.9 114.1L355.5 112.3L357.1 110.1L358.6 109.1L360.2 107.5L361.7 106.0L363.3 105.4L364.9 105.2L366.4 104.4L368.0 103.7L369.5 103.6L371.1 102.4L372.7 101.3L374.2 100.1L376.9 98.7L379.5 97.0L382.1 95.4L384.7 92.6L387.4 91.1L390.0 89.2L392.6 87.3L395.3 86.1L397.9 84.1L400.5 82.3L403.2 80.5L405.8 78.8L408.4 77.5L411.0 75.5L413.7 73.0L416.3 70.8L418.9 68.4L421.6 66.0L424.2 63.1L426.8 61.3L429.5 59.0L432.1 57.3L434.7 54.5L437.4 52.0L440.0 48.9L442.6 45.9L445.2 43.5L447.9 42.6L450.5 40.4L453.1 37.4L455.8 34.0L458.4 31.1L461.0 27.2L463.7 22.4L466.3 16.7L466.8 17.2" stroke="#4DBEEE" stroke-width="0.38" />
<path d="M327.4 155.5L329.0 152.8L330.5 150.2L332.1 147.8L333.6 144.5L335.2 142.0L336.8 139.4L338.3 136.8L339.9 133.8L341.4 130.8L343.0 128.2L344.6 125.3L346.1 123.2L347.7 120.1L349.3 118.3L350.8 116.2L352.4 113.4L353.9 111.7L355.5 110.3L357.1 109.4L358.6 108.1L360.2 107.6L361.7 106.9L363.3 107.1L364.9 106.3L366.4 106.2L368.0 105.8L369.5 105.2L371.1 104.9L372.7 103.3L374.2 102.1L376.8 99.6L379.4 97.4L382.0 96.2L384.6 93.7L387.2 92.2L389.8 90.7L392.4 89.1L395.0 87.2L397.6 85.8L400.1 83.7L402.7 82.7L405.3 80.7L407.9 78.7L410.5 76.7L413.1 74.6L415.7 72.7L418.3 71.0L420.9 69.0L423.5 67.0L426.1 64.9L428.7 62.9L431.3 60.3L433.9 59.0L436.4 57.0L439.0 54.7L441.6 52.3L444.2 49.8L446.8 47.4L449.4 44.4L452.0 41.8L454.6 38.9L457.2 35.7L459.8 31.6L462.4 26.7L465.0 21.7L465.4 22.2" stroke="#A2142F" stroke-width="0.38" />
<path d="M327.4 156.9L329.0 154.2L330.5 151.2L332.1 148.6L333.6 146.5L335.2 144.0L336.8 141.4L338.3 139.1L339.9 136.6L341.4 134.2L343.0 131.8L344.6 129.6L346.1 126.6L347.7 123.8L349.3 120.5L350.8 118.2L352.4 116.0L353.9 113.6L355.5 111.3L357.1 110.2L358.6 108.7L360.2 107.6L361.7 106.4L363.3 105.7L364.9 105.3L366.4 104.1L368.0 103.2L369.5 102.1L371.1 100.4L372.7 99.0L374.2 97.8L376.8 95.6L379.4 94.8L382.0 92.9L384.5 91.0L387.1 89.4L389.7 87.6L392.3 85.9L394.9 84.3L397.4 82.9L400.0 81.4L402.6 79.3L405.2 77.6L407.8 76.7L410.3 74.2L412.9 72.9L415.5 70.2L418.1 68.2L420.7 65.9L423.3 64.1L425.8 61.6L428.4 60.3L431.0 57.3L433.6 55.1L436.2 52.4L438.7 50.2L441.3 47.8L443.9 45.8L446.5 42.4L449.1 40.4L451.6 38.2L454.2 35.4L456.8 32.7L459.4 29.0L462.0 24.8L464.5 19.5L465.0 20.0" stroke="#0072BD" stroke-width="0.38" />
<path d="M327.4 158.2L329.0 155.6L330.5 152.7L332.1 150.1L333.6 146.8L335.2 144.1L336.8 141.9L338.3 138.9L339.9 135.5L341.4 133.3L343.0 130.4L344.6 128.0L346.1 125.7L347.7 123.4L349.3 120.4L350.8 117.5L352.4 115.0L353.9 112.9L355.5 110.7L357.1 109.5L358.6 107.8L360.2 107.4L361.7 106.2L363.3 105.3L364.9 104.2L366.4 104.4L368.0 103.9L369.5 102.7L371.1 101.6L372.7 100.6L374.2 99.0L376.8 97.1L379.4 95.2L382.0 93.9L384.6 92.4L387.2 90.3L389.8 88.6L392.4 86.7L395.0 85.5L397.6 83.2L400.1 81.2L402.7 79.7L405.3 77.3L407.9 75.8L410.5 72.9L413.1 71.0L415.7 69.3L418.3 67.1L420.9 65.7L423.5 63.1L426.1 61.2L428.7 58.2L431.3 56.3L433.9 54.2L436.4 51.4L439.0 49.3L441.6 46.5L444.2 44.5L446.8 42.3L449.4 39.3L452.0 37.4L454.6 34.8L457.2 31.8L459.8 28.2L462.4 24.3L465.0 19.9L465.4 20.4" stroke="#D95319" stroke-width="0.38" />
<path d="M327.4 159.4L329.0 157.2L330.5 154.0L332.1 151.4L333.6 148.4L335.2 145.7L336.8 143.1L338.3 140.9L339.9 138.4L341.4 135.6L343.0 132.7L344.6 130.7L346.1 128.3L347.7 125.2L349.3 122.6L350.8 119.4L352.4 117.8L353.9 115.3L355.5 113.5L357.1 112.2L358.6 111.5L360.2 111.3L361.7 110.2L363.3 109.9L364.9 110.1L366.4 108.9L368.0 107.8L369.5 107.1L371.1 106.6L372.7 105.2L374.2 104.2L376.8 101.7L379.4 100.3L382.0 98.1L384.5 95.6L387.1 94.2L389.7 92.5L392.3 90.7L394.9 88.7L397.5 87.2L400.0 84.8L402.6 82.8L405.2 80.9L407.8 78.8L410.4 77.1L412.9 74.9L415.5 72.9L418.1 70.5L420.7 67.5L423.3 65.5L425.8 63.1L428.4 60.1L431.0 58.3L433.6 55.2L436.2 53.0L438.7 50.3L441.3 47.7L443.9 45.1L446.5 42.2L449.1 38.3L451.7 35.0L454.2 32.0L456.8 29.3L459.4 26.0L462.0 20.9L464.6 15.3L465.0 15.9" stroke="#EDB120" stroke-width="0.38" />
<path d="M327.4 157.2L329.0 154.1L330.5 152.1L332.1 149.2L333.6 146.6L335.2 144.1L336.8 141.7L338.3 138.8L339.9 135.9L341.4 133.7L343.0 131.4L344.6 128.9L346.1 125.7L347.7 124.2L349.3 121.2L350.8 118.7L352.4 116.7L353.9 115.4L355.5 113.6L357.1 112.0L358.6 111.0L360.2 110.6L361.7 109.5L363.3 109.2L364.9 108.5L366.4 107.5L368.0 106.8L369.5 106.6L371.1 105.2L372.7 104.2L374.2 103.0L376.8 101.1L379.3 98.8L381.9 96.5L384.4 94.8L387.0 92.6L389.6 90.9L392.1 89.3L394.7 87.3L397.2 85.2L399.8 83.4L402.3 81.0L404.9 79.6L407.4 77.8L410.0 76.0L412.5 73.7L415.1 71.3L417.7 68.9L420.2 66.4L422.8 64.7L425.3 62.2L427.9 60.2L430.4 57.8L433.0 55.3L435.5 53.5L438.1 51.1L440.6 48.5L443.2 46.3L445.8 43.7L448.3 41.3L450.9 39.7L453.4 36.2L456.0 32.9L458.5 28.2L461.1 23.6L463.6 18.0L464.1 18.5" stroke="#7E2F8E" stroke-width="0.38" />
<path d="M327.4 162.1L329.0 159.6L330.5 156.9L332.1 153.9L333.6 151.4L335.2 148.6L336.8 145.6L338.3 142.8L339.9 140.4L341.4 137.2L343.0 134.5L344.6 132.0L346.1 128.7L347.7 126.5L349.3 124.0L350.8 120.9L352.4 118.4L353.9 116.8L355.5 114.2L357.1 113.5L358.6 112.8L360.2 111.9L361.7 111.0L363.3 109.9L364.9 109.1L366.4 108.1L368.0 107.5L369.5 105.6L371.1 104.9L372.7 104.0L374.2 102.9L376.8 100.9L379.5 99.3L382.1 97.0L384.7 95.2L387.4 93.5L390.0 91.5L392.6 89.4L395.2 87.5L397.9 85.2L400.5 84.0L403.1 81.8L405.7 79.7L408.4 77.4L411.0 75.8L413.6 73.9L416.2 71.5L418.9 69.5L421.5 67.0L424.1 65.4L426.7 63.0L429.4 60.5L432.0 58.9L434.6 56.0L437.3 53.7L439.9 51.5L442.5 48.4L445.1 45.8L447.8 43.0L450.4 40.0L453.0 37.0L455.6 33.7L458.3 30.6L460.9 26.2L463.5 21.3L466.1 16.5L466.6 17.0" stroke="#77AC30" stroke-width="0.38" />
<path d="M327.4 161.1L329.0 157.9L330.5 155.7L332.1 152.6L333.6 150.0L335.2 146.9L336.8 144.4L338.3 141.8L339.9 139.6L341.4 137.6L343.0 134.8L344.6 132.1L346.1 129.3L347.7 127.4L349.3 124.8L350.8 122.4L352.4 120.4L353.9 118.5L355.5 116.5L357.1 116.2L358.6 115.1L360.2 114.1L361.7 114.5L363.3 113.6L364.9 114.0L366.4 113.2L368.0 112.7L369.5 112.4L371.1 110.7L372.7 110.3L374.2 109.7L377.2 106.8L380.1 104.7L383.0 103.2L386.0 100.7L388.9 98.9L391.9 97.2L394.8 95.3L397.7 93.7L400.7 91.8L403.6 90.5L406.6 88.0L409.5 86.4L412.4 84.6L415.4 83.0L418.3 81.8L421.3 79.7L424.2 77.2L427.1 75.3L430.1 72.8L433.0 70.2L435.9 67.5L438.9 65.4L441.8 63.4L444.8 60.6L447.7 57.6L450.6 55.1L453.6 51.6L456.5 49.1L459.5 45.7L462.4 43.1L465.3 40.2L468.3 37.0L471.2 32.8L474.2 27.8L477.1 22.5L477.6 23.0" stroke="#4DBEEE" stroke-width="0.38" />
<path d="M327.4 162.0L329.0 158.8L330.5 156.5L332.1 153.8L333.6 151.1L335.2 148.6L336.8 145.8L338.3 143.5L339.9 141.0L341.4 138.5L343.0 136.2L344.6 133.8L346.1 130.7L347.7 128.0L349.3 125.2L350.8 122.8L352.4 120.7L353.9 118.8L355.5 116.5L357.1 115.4L358.6 114.7L360.2 114.3L361.7 113.5L363.3 112.0L364.9 111.7L366.4 111.4L368.0 110.3L369.5 109.6L371.1 109.9L372.7 108.0L374.2 107.6L377.0 105.0L379.8 103.5L382.6 100.7L385.4 98.7L388.2 96.7L391.0 95.4L393.8 93.7L396.6 91.4L399.3 89.8L402.1 88.6L404.9 86.2L407.7 84.3L410.5 82.1L413.3 80.3L416.1 78.2L418.9 75.9L421.7 73.9L424.5 71.5L427.3 69.4L430.0 66.9L432.8 63.9L435.6 61.4L438.4 58.9L441.2 57.3L444.0 54.6L446.8 51.9L449.6 49.2L452.4 46.0L455.2 42.9L458.0 40.7L460.8 37.6L463.5 33.8L466.3 29.8L469.1 25.0L471.9 19.3L472.4 19.8" stroke="#A2142F" stroke-width="0.38" />
<path d="M327.4 167.2L329.0 164.9L330.5 161.8L332.1 159.1L333.6 155.6L335.2 152.8L336.8 149.7L338.3 146.7L339.9 143.0L341.4 139.3L343.0 136.5L344.6 133.3L346.1 129.8L347.7 126.4L349.3 123.5L350.8 121.1L352.4 117.8L353.9 115.4L355.5 112.7L357.1 111.9L358.6 110.4L360.2 109.4L361.7 108.6L363.3 107.8L364.9 107.4L366.4 106.7L368.0 105.4L369.5 105.0L371.1 103.8L372.7 102.7L374.2 102.0L377.0 100.2L379.7 98.1L382.4 95.8L385.2 93.6L387.9 92.6L390.6 90.2L393.4 88.4L396.1 85.8L398.8 84.4L401.6 82.2L404.3 80.6L407.0 79.2L409.8 77.7L412.5 76.3L415.2 73.6L418.0 71.9L420.7 69.3L423.4 67.6L426.2 65.9L428.9 63.8L431.6 61.5L434.4 59.5L437.1 56.8L439.8 54.1L442.6 51.4L445.3 48.6L448.0 46.3L450.8 44.1L453.5 41.8L456.2 39.2L459.0 35.9L461.7 33.3L464.4 29.8L467.2 24.0L469.9 19.4L470.4 19.9" stroke="#0072BD" stroke-width="0.38" />
<path d="M327.4 155.6L329.0 153.5L330.5 150.1L332.1 147.8L333.6 145.4L335.2 142.1L336.8 139.4L338.3 137.3L339.9 134.1L341.4 131.6L343.0 129.2L344.6 126.2L346.1 123.9L347.7 121.0L349.3 118.7L350.8 117.0L352.4 115.3L353.9 113.0L355.5 110.7L357.1 108.8L358.6 107.9L360.2 107.0L361.7 106.1L363.3 105.5L364.9 105.5L366.4 105.1L368.0 104.3L369.5 103.7L371.1 102.4L372.7 100.8L374.2 99.2L376.9 97.7L379.6 95.0L382.3 93.3L385.0 91.3L387.7 88.7L390.4 86.7L393.1 84.5L395.8 82.9L398.5 81.2L401.1 79.8L403.8 78.1L406.5 76.4L409.2 74.4L411.9 73.0L414.6 71.0L417.3 68.8L420.0 67.1L422.7 65.0L425.4 62.2L428.1 60.3L430.8 58.8L433.5 56.5L436.2 54.3L438.8 51.7L441.5 49.0L444.2 46.6L446.9 44.1L449.6 42.3L452.3 39.2L455.0 36.8L457.7 33.8L460.4 30.3L463.1 27.3L465.8 23.4L468.5 18.6L468.9 19.1" stroke="#D95319" stroke-width="0.38" />
<path d="M327.4 157.8L329.0 155.2L330.5 152.1L332.1 149.7L333.6 146.9L335.2 145.0L336.8 141.9L338.3 139.1L339.9 136.6L341.4 134.0L343.0 131.4L344.6 128.9L346.1 126.1L347.7 123.5L349.3 120.3L350.8 117.6L352.4 115.4L353.9 113.8L355.5 111.6L357.1 110.1L358.6 108.4L360.2 107.3L361.7 107.8L363.3 106.3L364.9 105.4L366.4 104.6L368.0 103.0L369.5 101.9L371.1 101.1L372.7 99.8L374.2 98.5L376.9 97.2L379.5 95.1L382.2 93.6L384.8 91.8L387.5 90.4L390.1 88.3L392.8 86.8L395.4 84.4L398.1 83.1L400.7 80.8L403.4 79.1L406.0 77.0L408.7 75.4L411.3 73.2L414.0 71.3L416.6 69.6L419.3 67.5L421.9 66.2L424.5 64.3L427.2 62.1L429.8 59.8L432.5 56.9L435.1 55.0L437.8 52.3L440.4 48.9L443.1 46.7L445.7 44.9L448.4 41.9L451.0 39.9L453.7 37.0L456.3 33.7L459.0 30.3L461.6 27.0L464.3 22.5L466.9 17.4L467.4 17.9" stroke="#EDB120" stroke-width="0.38" />
<path d="M327.4 157.5L329.0 154.5L330.5 151.7L332.1 149.6L333.6 146.6L335.2 143.8L336.8 139.7L338.3 136.9L339.9 134.3L341.4 131.6L343.0 128.4L344.6 126.2L346.1 122.9L347.7 120.3L349.3 116.8L350.8 113.9L352.4 111.1L353.9 109.5L355.5 106.9L357.1 105.6L358.6 103.9L360.2 103.5L361.7 102.0L363.3 101.4L364.9 100.9L366.4 100.4L368.0 99.6L369.5 98.6L371.1 97.8L372.7 96.4L374.2 95.8L376.8 93.4L379.4 91.9L382.0 90.3L384.6 89.7L387.3 87.9L389.9 86.1L392.5 84.5L395.1 83.0L397.7 81.2L400.3 79.1L402.9 77.7L405.5 76.2L408.1 74.0L410.7 71.9L413.3 69.9L415.9 68.2L418.5 66.6L421.1 63.7L423.8 62.1L426.4 59.8L429.0 58.0L431.6 55.8L434.2 53.3L436.8 51.3L439.4 48.7L442.0 46.9L444.6 44.0L447.2 41.9L449.8 39.6L452.4 37.2L455.0 34.7L457.6 32.4L460.2 28.3L462.9 23.9L465.5 18.8L465.9 19.3" stroke="#7E2F8E" stroke-width="0.38" />
<path d="M327.4 158.3L329.0 156.1L330.5 153.2L332.1 150.7L333.6 149.2L335.2 146.3L336.8 143.8L338.3 141.0L339.9 138.9L341.4 136.2L343.0 133.5L344.6 130.9L346.1 128.6L347.7 126.8L349.3 123.8L350.8 121.5L352.4 119.8L353.9 117.4L355.5 115.8L357.1 115.0L358.6 113.7L360.2 112.9L361.7 111.3L363.3 110.5L364.9 110.1L366.4 109.1L368.0 107.8L369.5 107.5L371.1 106.0L372.7 105.3L374.2 105.0L376.8 102.9L379.4 100.4L382.0 98.1L384.6 95.9L387.1 94.2L389.7 92.5L392.3 90.5L394.9 88.8L397.5 86.8L400.1 84.8L402.6 83.2L405.2 81.9L407.8 79.1L410.4 76.2L413.0 74.8L415.6 72.5L418.1 69.8L420.7 67.2L423.3 64.6L425.9 62.5L428.5 60.6L431.1 58.1L433.6 55.6L436.2 53.2L438.8 51.8L441.4 49.1L444.0 46.5L446.6 43.1L449.2 40.4L451.7 37.2L454.3 33.8L456.9 30.5L459.5 27.0L462.1 22.1L464.7 17.0L465.1 17.5" stroke="#77AC30" stroke-width="0.38" />
<path d="M327.4 155.8L329.0 153.4L330.5 151.0L332.1 148.8L333.6 146.4L335.2 143.9L336.8 141.5L338.3 138.7L339.9 135.5L341.4 132.7L343.0 129.8L344.6 127.0L346.1 124.3L347.7 121.5L349.3 119.3L350.8 117.3L352.4 114.9L353.9 113.1L355.5 111.9L357.1 110.6L358.6 109.0L360.2 108.3L361.7 107.3L363.3 106.5L364.9 105.8L366.4 105.1L368.0 105.0L369.5 103.8L371.1 103.0L372.7 102.1L374.2 100.7L376.8 98.2L379.4 97.0L381.9 94.7L384.5 92.1L387.0 89.9L389.6 88.8L392.2 87.0L394.7 85.0L397.3 83.5L399.9 81.5L402.4 79.2L405.0 77.6L407.6 76.0L410.1 74.0L412.7 72.4L415.3 69.8L417.8 68.1L420.4 66.5L423.0 64.8L425.5 62.9L428.1 60.3L430.7 58.0L433.2 55.5L435.8 53.2L438.4 50.7L440.9 47.8L443.5 45.6L446.1 42.3L448.6 39.3L451.2 36.5L453.7 33.3L456.3 29.7L458.9 26.5L461.4 22.1L464.0 16.8L464.5 17.3" stroke="#4DBEEE" stroke-width="0.38" />
<path d="M327.4 157.1L329.0 154.6L330.5 152.0L332.1 148.8L333.6 146.3L335.2 143.3L336.8 140.5L338.3 138.6L339.9 136.0L341.4 133.2L343.0 130.7L344.6 128.4L346.1 124.9L347.7 123.2L349.3 120.7L350.8 119.1L352.4 116.5L353.9 115.3L355.5 113.7L357.1 111.2L358.6 110.5L360.2 109.9L361.7 108.7L363.3 107.7L364.9 106.5L366.4 106.0L368.0 104.2L369.5 103.7L371.1 102.0L372.7 100.7L374.2 99.6L376.8 96.8L379.3 95.4L381.9 93.0L384.5 91.3L387.0 88.8L389.6 87.0L392.1 85.0L394.7 84.3L397.3 82.0L399.8 80.3L402.4 78.4L404.9 76.4L407.5 74.7L410.1 72.3L412.6 70.1L415.2 67.2L417.8 64.8L420.3 62.9L422.9 60.7L425.4 58.5L428.0 56.8L430.6 54.3L433.1 52.2L435.7 49.4L438.2 46.6L440.8 44.2L443.4 41.9L445.9 39.9L448.5 37.7L451.0 34.1L453.6 31.3L456.2 28.1L458.7 25.2L461.3 20.9L463.8 15.4L464.3 15.9" stroke="#A2142F" stroke-width="0.38" />
<path d="M327.4 164.6L329.0 161.7L330.5 158.6L332.1 155.4L333.6 152.4L335.2 149.7L336.8 146.4L338.3 143.3L339.9 140.0L341.4 137.6L343.0 134.2L344.6 131.2L346.1 128.3L347.7 125.4L349.3 122.7L350.8 119.0L352.4 116.9L353.9 114.8L355.5 112.7L357.1 111.2L358.6 110.2L360.2 110.0L361.7 108.6L363.3 107.0L364.9 106.9L366.4 105.4L368.0 104.3L369.5 103.1L371.1 102.3L372.7 100.5L374.2 99.8L376.8 97.7L379.3 95.9L381.8 94.3L384.3 92.5L386.9 90.9L389.4 89.1L391.9 87.3L394.5 85.7L397.0 84.3L399.5 83.2L402.1 80.5L404.6 78.9L407.1 76.6L409.7 74.5L412.2 73.1L414.7 70.6L417.2 69.0L419.8 66.9L422.3 65.1L424.8 62.7L427.4 61.1L429.9 58.4L432.4 56.9L435.0 54.3L437.5 51.6L440.0 49.4L442.6 46.8L445.1 44.0L447.6 42.1L450.2 38.7L452.7 36.3L455.2 32.9L457.7 29.4L460.3 24.4L462.8 19.5L463.3 20.0" stroke="#0072BD" stroke-width="0.38" />
<path d="M327.4 157.1L329.0 154.8L330.5 152.9L332.1 150.2L333.6 147.3L335.2 144.7L336.8 141.6L338.3 139.2L339.9 136.0L341.4 133.2L343.0 130.2L344.6 127.5L346.1 124.0L347.7 121.8L349.3 118.7L350.8 115.7L352.4 113.5L353.9 111.4L355.5 109.2L357.1 107.7L358.6 106.1L360.2 104.8L361.7 104.5L363.3 103.5L364.9 103.3L366.4 101.9L368.0 101.2L369.5 100.9L371.1 99.4L372.7 98.0L374.2 96.6L376.7 94.8L379.2 93.2L381.7 91.5L384.2 89.7L386.7 87.9L389.2 86.0L391.7 84.9L394.2 83.4L396.7 81.9L399.2 80.3L401.7 78.1L404.2 76.6L406.7 75.6L409.2 73.1L411.8 71.7L414.3 69.5L416.8 67.8L419.3 66.0L421.8 63.7L424.3 61.3L426.8 59.4L429.3 57.6L431.8 55.6L434.3 53.8L436.8 51.8L439.3 49.5L441.8 47.7L444.3 44.9L446.8 42.4L449.3 40.0L451.8 37.5L454.3 34.9L456.8 31.7L459.3 26.9L461.8 22.0L462.3 22.5" stroke="#D95319" stroke-width="0.38" />
<path d="M327.4 163.2L329.0 161.1L330.5 158.5L332.1 154.8L333.6 152.8L335.2 149.7L336.8 147.2L338.3 144.9L339.9 141.5L341.4 138.7L343.0 135.5L344.6 133.0L346.1 130.1L347.7 127.1L349.3 124.9L350.8 122.2L352.4 119.9L353.9 118.7L355.5 115.8L357.1 114.8L358.6 113.7L360.2 112.8L361.7 111.4L363.3 110.6L364.9 109.8L366.4 108.6L368.0 107.5L369.5 106.1L371.1 105.4L372.7 103.9L374.2 102.0L376.7 99.2L379.2 97.4L381.7 95.4L384.2 93.8L386.7 91.8L389.2 90.3L391.7 88.3L394.2 86.1L396.7 84.0L399.1 82.5L401.6 81.2L404.1 80.1L406.6 77.5L409.1 75.5L411.6 73.4L414.1 70.5L416.6 68.5L419.1 65.8L421.6 63.4L424.1 61.6L426.6 59.7L429.1 56.6L431.5 54.6L434.0 52.8L436.5 50.5L439.0 48.4L441.5 45.6L444.0 42.1L446.5 39.6L449.0 36.2L451.5 33.3L454.0 30.0L456.5 26.0L459.0 21.7L461.5 16.0L461.9 16.5" stroke="#EDB120" stroke-width="0.38" />
<path d="M327.4 153.5L329.0 150.9L330.5 148.6L332.1 145.7L333.6 143.9L335.2 141.6L336.8 138.9L338.3 136.2L339.9 133.4L341.4 131.4L343.0 128.9L344.6 126.4L346.1 123.9L347.7 121.3L349.3 118.3L350.8 115.4L352.4 113.0L353.9 110.9L355.5 108.7L357.1 107.4L358.6 106.2L360.2 105.5L361.7 104.4L363.3 103.9L364.9 103.7L366.4 102.8L368.0 102.5L369.5 101.0L371.1 100.5L372.7 99.2L374.2 98.8L376.7 97.0L379.2 94.9L381.7 93.1L384.1 91.3L386.6 89.4L389.1 88.2L391.6 86.2L394.1 84.7L396.5 83.1L399.0 82.0L401.5 80.2L404.0 78.4L406.5 76.9L408.9 74.1L411.4 73.1L413.9 71.1L416.4 69.2L418.9 68.1L421.3 66.3L423.8 64.5L426.3 62.3L428.8 60.6L431.3 58.2L433.7 56.0L436.2 54.1L438.7 51.4L441.2 49.7L443.7 47.1L446.1 45.7L448.6 43.5L451.1 40.8L453.6 38.3L456.1 34.8L458.5 30.6L461.0 26.1L461.5 26.7" stroke="#7E2F8E" stroke-width="0.38" />
<path d="M327.4 165.0L329.0 162.1L330.5 159.3L332.1 155.8L333.6 152.2L335.2 149.2L336.8 146.1L338.3 143.6L339.9 140.9L341.4 137.8L343.0 134.6L344.6 132.0L346.1 128.7L347.7 126.2L349.3 123.1L350.8 120.2L352.4 117.2L353.9 115.9L355.5 113.9L357.1 112.3L358.6 111.5L360.2 110.9L361.7 110.0L363.3 109.1L364.9 108.6L366.4 107.6L368.0 107.2L369.5 106.5L371.1 105.4L372.7 104.5L374.2 103.6L376.7 101.8L379.3 100.0L381.8 98.0L384.3 96.1L386.8 93.7L389.3 91.9L391.9 89.5L394.4 87.6L396.9 85.9L399.4 83.9L401.9 82.4L404.5 80.7L407.0 78.8L409.5 76.8L412.0 75.0L414.5 72.4L417.1 70.8L419.6 68.0L422.1 66.0L424.6 64.1L427.2 61.7L429.7 59.7L432.2 56.4L434.7 54.1L437.2 51.2L439.8 48.4L442.3 45.7L444.8 43.3L447.3 40.2L449.8 37.1L452.4 34.2L454.9 31.1L457.4 26.9L459.9 23.0L462.4 18.0L462.9 18.5" stroke="#77AC30" stroke-width="0.38" />
<path d="M327.4 163.0L329.0 160.2L330.5 157.3L332.1 154.4L333.6 151.7L335.2 149.3L336.8 146.3L338.3 143.3L339.9 140.2L341.4 136.5L343.0 133.8L344.6 131.0L346.1 128.1L347.7 125.6L349.3 122.6L350.8 119.5L352.4 117.4L353.9 115.3L355.5 113.3L357.1 111.8L358.6 110.9L360.2 109.4L361.7 108.4L363.3 107.5L364.9 106.8L366.4 106.5L368.0 106.2L369.5 105.7L371.1 104.5L372.7 103.7L374.2 102.3L376.8 100.7L379.3 98.2L381.9 96.6L384.4 95.0L387.0 93.2L389.5 91.2L392.1 90.2L394.6 88.1L397.2 86.2L399.7 84.6L402.3 82.7L404.8 80.8L407.4 78.1L409.9 75.9L412.5 74.6L415.0 72.0L417.6 70.0L420.1 67.4L422.7 65.9L425.2 63.4L427.8 61.2L430.3 58.8L432.9 56.1L435.4 53.5L438.0 51.0L440.5 48.5L443.1 45.9L445.6 43.5L448.2 40.5L450.7 37.7L453.3 34.3L455.8 31.2L458.4 27.2L460.9 22.4L463.5 16.9L463.9 17.5" stroke="#4DBEEE" stroke-width="0.38" />
<path d="M327.4 157.8L329.0 154.6L330.5 151.7L332.1 148.8L333.6 146.4L335.2 143.6L336.8 140.7L338.3 138.4L339.9 136.2L341.4 133.7L343.0 131.2L344.6 128.4L346.1 125.4L347.7 122.9L349.3 119.7L350.8 117.0L352.4 114.7L353.9 112.4L355.5 110.7L357.1 109.0L358.6 108.0L360.2 107.3L361.7 106.0L363.3 105.0L364.9 103.8L366.4 103.1L368.0 101.9L369.5 100.9L371.1 99.6L372.7 98.8L374.2 97.4L376.7 94.8L379.2 92.7L381.7 90.2L384.2 88.7L386.7 87.1L389.2 85.0L391.7 83.3L394.2 82.3L396.7 79.7L399.2 78.3L401.6 77.0L404.1 75.3L406.6 73.3L409.1 70.6L411.6 69.2L414.1 67.5L416.6 65.5L419.1 62.6L421.6 60.9L424.1 58.7L426.6 56.3L429.1 54.4L431.6 51.7L434.1 49.0L436.5 47.4L439.0 44.2L441.5 41.5L444.0 38.8L446.5 36.1L449.0 33.5L451.5 30.7L454.0 26.9L456.5 23.2L459.0 18.7L461.5 13.6L461.9 14.2" stroke="#A2142F" stroke-width="0.38" />
<path d="M327.4 156.4L329.0 154.3L330.5 151.8L332.1 149.3L333.6 147.2L335.2 144.7L336.8 142.4L338.3 140.2L339.9 138.0L341.4 135.0L343.0 132.8L344.6 130.8L346.1 127.9L347.7 126.4L349.3 124.4L350.8 122.2L352.4 120.4L353.9 119.2L355.5 117.3L357.1 115.6L358.6 114.9L360.2 114.0L361.7 113.0L363.3 112.7L364.9 112.2L366.4 112.1L368.0 111.3L369.5 110.3L371.1 109.2L372.7 108.3L374.2 107.2L376.7 104.8L379.2 102.0L381.6 99.7L384.1 97.8L386.6 95.5L389.0 93.1L391.5 91.4L394.0 89.3L396.4 87.7L398.9 85.8L401.4 83.4L403.8 81.4L406.3 79.4L408.8 76.6L411.2 74.0L413.7 71.6L416.2 68.5L418.6 66.3L421.1 64.7L423.6 62.1L426.0 60.1L428.5 57.7L431.0 55.2L433.4 52.5L435.9 49.2L438.4 46.5L440.8 43.1L443.3 40.7L445.8 37.6L448.2 34.3L450.7 31.0L453.2 27.3L455.6 22.9L458.1 18.4L460.6 12.7L461.0 13.2" stroke="#0072BD" stroke-width="0.38" />
<path d="M327.4 157.9L329.0 154.8L330.5 152.4L332.1 149.8L333.6 146.6L335.2 144.4L336.8 142.5L338.3 139.6L339.9 136.9L341.4 133.9L343.0 131.4L344.6 128.7L346.1 125.9L347.7 123.4L349.3 120.3L350.8 117.9L352.4 115.5L353.9 113.6L355.5 111.8L357.1 110.4L358.6 109.2L360.2 108.3L361.7 107.7L363.3 107.0L364.9 106.6L366.4 106.5L368.0 106.2L369.5 104.8L371.1 104.0L372.7 103.5L374.2 102.1L376.7 100.5L379.1 98.2L381.6 97.1L384.0 94.7L386.5 93.2L388.9 90.6L391.3 88.2L393.8 86.3L396.2 84.4L398.7 82.9L401.1 79.9L403.6 77.7L406.0 75.6L408.5 73.9L410.9 71.1L413.4 69.2L415.8 66.7L418.3 65.4L420.7 62.3L423.2 59.3L425.6 57.3L428.0 54.8L430.5 52.7L432.9 50.4L435.4 47.4L437.8 45.2L440.3 42.4L442.7 39.4L445.2 36.9L447.6 34.2L450.1 31.9L452.5 28.6L455.0 23.4L457.4 18.5L459.9 13.2L460.3 13.7" stroke="#D95319" stroke-width="0.38" />
<path d="M327.4 154.5L329.0 152.4L330.5 149.9L332.1 146.9L333.6 144.3L335.2 142.2L336.8 139.2L338.3 136.8L339.9 134.2L341.4 131.3L343.0 128.4L344.6 127.0L346.1 124.2L347.7 121.1L349.3 118.9L350.8 116.2L352.4 113.2L353.9 111.5L355.5 109.5L357.1 108.0L358.6 106.6L360.2 106.2L361.7 105.3L363.3 104.1L364.9 103.3L366.4 102.8L368.0 101.6L369.5 100.7L371.1 99.4L372.7 98.2L374.2 96.4L376.6 94.8L379.1 93.1L381.5 90.5L383.9 88.9L386.4 87.6L388.8 85.8L391.2 84.0L393.6 82.4L396.1 80.2L398.5 78.7L400.9 76.4L403.3 74.5L405.8 72.4L408.2 69.9L410.6 67.7L413.1 65.9L415.5 63.8L417.9 61.6L420.3 60.2L422.8 57.8L425.2 55.9L427.6 53.6L430.0 50.8L432.5 47.8L434.9 45.3L437.3 42.2L439.8 40.8L442.2 37.8L444.6 35.6L447.0 32.1L449.5 29.8L451.9 26.2L454.3 23.3L456.7 18.0L459.2 13.3L459.6 13.8" stroke="#EDB120" stroke-width="0.38" />
<path d="M327.4 155.7L329.0 152.5L330.5 149.9L332.1 146.7L333.6 143.8L335.2 142.0L336.8 139.0L338.3 136.7L339.9 134.6L341.4 131.5L343.0 129.9L344.6 126.8L346.1 124.9L347.7 122.0L349.3 119.7L350.8 117.0L352.4 114.7L353.9 113.2L355.5 111.3L357.1 109.6L358.6 108.4L360.2 107.4L361.7 106.8L363.3 105.5L364.9 104.9L366.4 103.6L368.0 103.3L369.5 101.9L371.1 100.8L372.7 99.8L374.2 97.8L376.6 95.9L379.1 94.4L381.5 93.1L383.9 91.1L386.3 89.0L388.7 87.3L391.2 85.3L393.6 83.2L396.0 82.0L398.4 79.9L400.8 77.9L403.3 76.3L405.7 75.2L408.1 73.0L410.5 71.2L412.9 69.3L415.4 68.0L417.8 65.1L420.2 62.7L422.6 60.0L425.0 57.6L427.5 55.0L429.9 52.5L432.3 49.0L434.7 46.5L437.1 44.7L439.6 42.6L442.0 40.2L444.4 37.0L446.8 33.5L449.2 29.8L451.7 26.7L454.1 23.0L456.5 19.2L458.9 13.7L459.4 14.2" stroke="#7E2F8E" stroke-width="0.38" />
<path d="M327.4 153.9L329.0 150.8L330.5 148.9L332.1 147.0L333.6 144.6L335.2 141.8L336.8 139.3L338.3 136.9L339.9 134.2L341.4 132.1L343.0 129.4L344.6 126.8L346.1 124.5L347.7 122.4L349.3 119.2L350.8 118.3L352.4 117.1L353.9 115.0L355.5 113.1L357.1 111.4L358.6 110.7L360.2 109.8L361.7 108.8L363.3 108.4L364.9 107.0L366.4 107.4L368.0 106.7L369.5 105.0L371.1 104.5L372.7 102.6L374.2 101.5L376.6 99.2L379.0 97.9L381.4 95.3L383.8 94.0L386.2 91.9L388.6 89.2L391.0 87.3L393.4 84.7L395.8 82.4L398.2 80.2L400.6 78.3L403.0 76.6L405.4 74.0L407.8 72.1L410.2 70.1L412.6 68.1L415.0 65.9L417.4 63.4L419.8 61.5L422.2 59.5L424.5 56.8L426.9 54.7L429.3 52.1L431.7 49.4L434.1 46.8L436.5 44.7L438.9 42.3L441.3 39.0L443.7 36.7L446.1 33.9L448.5 30.5L450.9 27.5L453.3 23.4L455.7 18.5L458.1 13.2L458.6 13.7" stroke="#77AC30" stroke-width="0.38" />
<path d="M327.4 154.8L329.0 151.7L330.5 149.3L332.1 146.7L333.6 144.3L335.2 141.9L336.8 139.5L338.3 136.9L339.9 134.5L341.4 132.1L343.0 130.4L344.6 128.0L346.1 124.6L347.7 122.3L349.3 120.0L350.8 116.9L352.4 114.8L353.9 112.1L355.5 110.1L357.1 108.9L358.6 107.3L360.2 106.5L361.7 105.4L363.3 104.4L364.9 103.5L366.4 102.3L368.0 101.4L369.5 100.7L371.1 99.1L372.7 97.4L374.2 95.4L376.6 93.7L379.0 91.8L381.4 89.5L383.8 88.1L386.2 86.4L388.6 84.4L391.0 83.1L393.4 80.9L395.8 79.2L398.2 77.5L400.5 74.9L402.9 74.0L405.3 72.4L407.7 69.5L410.1 67.9L412.5 65.5L414.9 63.5L417.3 61.7L419.7 59.7L422.1 58.4L424.5 55.6L426.9 53.1L429.3 51.5L431.6 49.0L434.0 47.0L436.4 43.9L438.8 40.9L441.2 38.4L443.6 35.6L446.0 32.0L448.4 28.7L450.8 25.9L453.2 22.0L455.6 16.8L458.0 12.2L458.4 12.7" stroke="#4DBEEE" stroke-width="0.38" />
<path d="M327.4 157.7L329.0 154.7L330.5 151.7L332.1 149.2L333.6 146.0L335.2 142.2L336.8 140.0L338.3 137.0L339.9 134.7L341.4 132.2L343.0 129.9L344.6 127.1L346.1 123.8L347.7 121.2L349.3 118.8L350.8 116.4L352.4 113.6L353.9 111.7L355.5 110.1L357.1 109.1L358.6 108.7L360.2 107.9L361.7 106.7L363.3 105.7L364.9 104.2L366.4 103.6L368.0 102.4L369.5 102.0L371.1 100.7L372.7 99.0L374.2 98.2L376.6 95.7L379.0 94.1L381.3 92.5L383.7 90.7L386.1 88.1L388.4 86.8L390.8 84.7L393.2 83.8L395.6 81.8L397.9 79.6L400.3 77.8L402.7 75.7L405.0 74.5L407.4 72.1L409.8 70.2L412.2 67.7L414.5 65.3L416.9 63.4L419.3 61.5L421.6 59.7L424.0 56.8L426.4 55.3L428.8 52.9L431.1 50.1L433.5 47.7L435.9 45.4L438.2 43.0L440.6 39.9L443.0 37.1L445.4 34.7L447.7 31.4L450.1 28.6L452.5 25.5L454.8 21.3L457.2 16.3L457.7 16.8" stroke="#A2142F" stroke-width="0.38" />
<path d="M327.4 158.0L329.0 154.6L330.5 152.3L332.1 149.4L333.6 146.7L335.2 143.6L336.8 140.5L338.3 137.7L339.9 135.5L341.4 131.9L343.0 129.4L344.6 127.0L346.1 125.0L347.7 122.0L349.3 119.1L350.8 116.6L352.4 114.2L353.9 112.2L355.5 110.0L357.1 108.6L358.6 107.0L360.2 106.1L361.7 104.7L363.3 104.6L364.9 104.5L366.4 103.3L368.0 102.4L369.5 101.4L371.1 100.4L372.7 99.2L374.2 97.5L376.6 95.1L378.9 93.9L381.3 92.7L383.6 91.5L386.0 90.0L388.3 88.2L390.7 86.1L393.1 83.7L395.4 82.4L397.8 80.2L400.1 78.5L402.5 77.4L404.8 75.1L407.2 72.5L409.5 70.7L411.9 68.3L414.2 66.5L416.6 63.4L419.0 62.0L421.3 60.2L423.7 57.7L426.0 56.0L428.4 53.4L430.7 51.5L433.1 49.1L435.4 46.8L437.8 43.4L440.1 41.3L442.5 38.4L444.8 35.8L447.2 33.4L449.6 29.9L451.9 26.2L454.3 22.0L456.6 18.1L457.1 18.6" stroke="#0072BD" stroke-width="0.38" />
<path d="M327.4 158.0L329.0 155.1L330.5 152.3L332.1 149.7L333.6 147.3L335.2 144.5L336.8 141.8L338.3 139.0L339.9 136.6L341.4 134.0L343.0 131.2L344.6 128.5L346.1 125.4L347.7 123.7L349.3 120.0L350.8 117.7L352.4 115.1L353.9 112.3L355.5 110.6L357.1 108.9L358.6 107.5L360.2 106.6L361.7 105.5L363.3 104.5L364.9 103.2L366.4 101.4L368.0 101.1L369.5 99.3L371.1 98.1L372.7 96.7L374.2 94.7L376.6 92.9L379.0 91.1L381.3 89.0L383.7 86.9L386.1 85.5L388.4 83.8L390.8 81.7L393.2 80.2L395.5 78.6L397.9 76.8L400.3 74.0L402.7 72.4L405.0 70.7L407.4 68.3L409.8 65.8L412.1 63.4L414.5 61.6L416.9 59.7L419.2 57.6L421.6 55.2L424.0 53.1L426.4 51.0L428.7 48.2L431.1 46.3L433.5 43.6L435.8 41.1L438.2 38.6L440.6 35.5L442.9 33.5L445.3 30.9L447.7 27.3L450.0 24.0L452.4 19.9L454.8 14.8L457.2 9.4L457.6 10.0" stroke="#D95319" stroke-width="0.38" />
<path d="M327.4 154.2L329.0 151.5L330.5 148.9L332.1 146.0L333.6 143.2L335.2 140.5L336.8 138.6L338.3 135.8L339.9 133.3L341.4 130.5L343.0 128.2L344.6 125.8L346.1 123.7L347.7 120.7L349.3 118.7L350.8 116.8L352.4 114.0L353.9 112.8L355.5 110.5L357.1 109.3L358.6 107.7L360.2 106.9L361.7 106.3L363.3 105.0L364.9 105.2L366.4 103.9L368.0 103.1L369.5 101.9L371.1 101.2L372.7 99.5L374.2 98.4L376.6 96.8L378.9 94.5L381.2 93.0L383.6 90.8L385.9 89.1L388.3 86.7L390.6 85.0L392.9 83.3L395.3 81.3L397.6 79.9L400.0 78.1L402.3 76.2L404.7 74.1L407.0 72.2L409.3 69.8L411.7 67.5L414.0 66.1L416.4 63.5L418.7 61.8L421.0 59.7L423.4 57.4L425.7 54.9L428.1 52.7L430.4 49.6L432.7 47.9L435.1 45.6L437.4 42.9L439.8 39.7L442.1 38.0L444.4 34.4L446.8 31.3L449.1 27.6L451.5 24.0L453.8 19.7L456.2 15.4L456.6 15.9" stroke="#EDB120" stroke-width="0.38" />
<path d="M327.4 156.0L329.0 153.5L330.5 151.3L332.1 148.7L333.6 145.7L335.2 144.0L336.8 141.0L338.3 138.4L339.9 135.8L341.4 133.8L343.0 132.1L344.6 128.8L346.1 126.1L347.7 124.0L349.3 121.7L350.8 119.7L352.4 117.6L353.9 115.6L355.5 113.3L357.1 111.4L358.6 110.7L360.2 110.5L361.7 108.8L363.3 107.9L364.9 106.3L366.4 105.6L368.0 105.0L369.5 103.8L371.1 103.0L372.7 101.4L374.2 99.8L376.6 97.7L378.9 95.6L381.2 93.7L383.6 90.6L385.9 88.9L388.2 86.7L390.5 84.9L392.9 82.8L395.2 80.7L397.5 78.9L399.9 77.0L402.2 75.2L404.5 73.2L406.9 70.8L409.2 68.5L411.5 66.9L413.9 64.5L416.2 62.1L418.5 59.9L420.9 57.4L423.2 55.4L425.5 52.5L427.9 50.6L430.2 47.9L432.5 45.0L434.9 42.7L437.2 39.6L439.5 36.9L441.9 34.4L444.2 31.5L446.5 28.4L448.9 24.7L451.2 20.3L453.5 16.4L455.9 11.6L456.3 12.2" stroke="#7E2F8E" stroke-width="0.38" />
<path d="M327.4 154.8L329.0 152.1L330.5 149.9L332.1 147.0L333.6 144.0L335.2 141.2L336.8 138.4L338.3 135.9L339.9 133.1L341.4 130.9L343.0 128.4L344.6 125.8L346.1 123.5L347.7 121.6L349.3 118.6L350.8 116.8L352.4 114.8L353.9 112.9L355.5 111.3L357.1 110.1L358.6 108.6L360.2 107.8L361.7 107.4L363.3 106.3L364.9 105.6L366.4 105.4L368.0 104.7L369.5 103.2L371.1 102.3L372.7 101.0L374.2 99.0L376.5 97.7L378.8 95.9L381.1 94.6L383.4 92.9L385.7 91.5L388.0 89.3L390.3 87.1L392.6 85.6L394.9 83.5L397.2 82.1L399.6 80.6L401.9 78.3L404.2 76.4L406.5 74.0L408.8 71.7L411.1 69.7L413.4 68.2L415.7 66.2L418.0 64.0L420.3 61.6L422.6 59.1L424.9 55.9L427.2 53.1L429.5 50.9L431.8 48.3L434.1 46.1L436.4 43.6L438.7 41.2L441.0 38.4L443.3 35.8L445.6 32.4L447.9 29.6L450.2 25.8L452.5 21.6L454.8 16.0L455.3 16.5" stroke="#77AC30" stroke-width="0.38" />
<path d="M327.4 155.5L329.0 152.6L330.5 150.1L332.1 147.5L333.6 144.6L335.2 142.4L336.8 139.2L338.3 135.8L339.9 133.0L341.4 130.0L343.0 127.1L344.6 123.9L346.1 121.4L347.7 118.9L349.3 116.3L350.8 114.2L352.4 112.0L353.9 110.6L355.5 109.0L357.1 107.3L358.6 106.1L360.2 105.2L361.7 103.7L363.3 102.8L364.9 101.7L366.4 100.6L368.0 99.4L369.5 98.4L371.1 97.0L372.7 95.9L374.2 93.9L376.5 92.0L378.9 90.0L381.2 88.2L383.5 86.1L385.8 84.9L388.1 82.9L390.4 81.5L392.8 79.5L395.1 77.6L397.4 76.3L399.7 74.0L402.0 72.9L404.4 71.5L406.7 70.2L409.0 68.0L411.3 65.7L413.6 64.6L415.9 62.5L418.3 60.5L420.6 57.8L422.9 55.7L425.2 52.4L427.5 50.4L429.8 48.3L432.2 45.4L434.5 43.1L436.8 40.6L439.1 37.4L441.4 34.3L443.8 31.1L446.1 28.2L448.4 25.1L450.7 21.0L453.0 17.4L455.3 11.5L455.8 12.1" stroke="#4DBEEE" stroke-width="0.38" />
<path d="M327.4 154.8L329.0 152.0L330.5 149.1L332.1 147.2L333.6 145.1L335.2 142.3L336.8 140.4L338.3 138.3L339.9 135.0L341.4 133.0L343.0 130.3L344.6 127.7L346.1 125.2L347.7 123.0L349.3 119.9L350.8 117.2L352.4 114.8L353.9 113.7L355.5 112.3L357.1 110.5L358.6 109.0L360.2 108.3L361.7 107.4L363.3 106.7L364.9 106.6L366.4 105.9L368.0 105.5L369.5 104.4L371.1 102.9L372.7 101.0L374.2 100.5L376.5 98.0L378.8 96.3L381.1 93.6L383.4 91.9L385.7 90.2L388.0 88.3L390.3 86.1L392.6 84.6L394.8 82.5L397.1 80.3L399.4 78.4L401.7 76.0L404.0 73.5L406.3 71.3L408.6 68.7L410.9 66.2L413.2 63.7L415.5 61.0L417.8 59.2L420.1 57.1L422.3 54.5L424.6 51.8L426.9 48.4L429.2 45.6L431.5 43.2L433.8 39.6L436.1 37.9L438.4 34.7L440.7 31.5L443.0 28.8L445.3 25.3L447.6 21.9L449.8 18.3L452.1 12.9L454.4 8.5L454.9 9.1" stroke="#A2142F" stroke-width="0.38" />
<path d="M327.4 153.4L329.0 151.1L330.5 147.8L332.1 145.5L333.6 142.6L335.2 140.4L336.8 137.1L338.3 134.8L339.9 131.8L341.4 129.5L343.0 127.3L344.6 125.0L346.1 122.7L347.7 120.2L349.3 118.0L350.8 115.9L352.4 113.0L353.9 111.2L355.5 109.6L357.1 108.0L358.6 106.5L360.2 106.2L361.7 105.0L363.3 103.5L364.9 102.6L366.4 102.5L368.0 101.0L369.5 100.9L371.1 99.4L372.7 98.3L374.2 96.8L376.5 95.0L378.8 93.8L381.1 91.5L383.4 89.9L385.7 88.2L388.0 86.2L390.3 84.8L392.6 83.0L394.9 80.9L397.2 79.4L399.5 77.7L401.8 75.4L404.1 73.7L406.3 71.5L408.6 70.5L410.9 68.5L413.2 65.9L415.5 63.8L417.8 61.4L420.1 59.2L422.4 57.2L424.7 54.5L427.0 53.2L429.3 50.8L431.6 48.2L433.9 45.3L436.2 43.0L438.5 40.4L440.8 37.5L443.1 35.5L445.4 32.7L447.7 29.4L449.9 26.2L452.2 22.1L454.5 17.6L455.0 18.1" stroke="#0072BD" stroke-width="0.38" />
<path d="M327.4 154.4L329.0 151.8L330.5 149.2L332.1 146.8L333.6 144.4L335.2 141.5L336.8 138.9L338.3 136.7L339.9 133.3L341.4 131.6L343.0 129.2L344.6 126.6L346.1 123.9L347.7 121.3L349.3 118.8L350.8 116.2L352.4 114.7L353.9 113.4L355.5 110.9L357.1 109.2L358.6 108.7L360.2 107.6L361.7 106.8L363.3 105.8L364.9 105.5L366.4 104.6L368.0 103.2L369.5 102.0L371.1 101.4L372.7 100.0L374.2 98.6L376.7 96.4L379.1 94.5L381.6 92.6L384.1 90.4L386.5 88.5L389.0 86.1L391.4 85.0L393.9 83.1L396.3 81.0L398.8 80.0L401.3 78.5L403.7 77.0L406.2 74.3L408.6 73.5L411.1 70.7L413.6 69.4L416.0 67.3L418.5 64.8L420.9 63.4L423.4 61.0L425.8 58.8L428.3 56.6L430.8 54.6L433.2 51.8L435.7 49.2L438.1 46.9L440.6 44.7L443.1 42.4L445.5 39.3L448.0 37.1L450.4 34.3L452.9 32.2L455.3 28.2L457.8 24.0L460.3 19.4L460.7 20.0" stroke="#D95319" stroke-width="0.38" />
<path d="M327.4 157.1L329.0 154.7L330.5 151.7L332.1 148.6L333.6 145.4L335.2 142.6L336.8 139.7L338.3 137.6L339.9 135.4L341.4 133.2L343.0 130.2L344.6 128.0L346.1 124.8L347.7 122.9L349.3 120.6L350.8 118.3L352.4 115.7L353.9 113.9L355.5 112.0L357.1 110.5L358.6 109.7L360.2 109.6L361.7 108.9L363.3 106.9L364.9 106.4L366.4 105.3L368.0 104.1L369.5 103.1L371.1 102.4L372.7 101.0L374.2 99.8L376.6 98.8L379.0 96.4L381.4 94.3L383.7 93.1L386.1 90.8L388.5 89.6L390.9 87.6L393.3 85.6L395.7 83.6L398.0 81.9L400.4 79.5L402.8 77.3L405.2 76.3L407.6 74.3L409.9 72.5L412.3 69.6L414.7 67.3L417.1 65.1L419.5 62.6L421.8 60.1L424.2 57.9L426.6 55.0L429.0 52.7L431.4 49.4L433.8 47.1L436.1 44.1L438.5 41.0L440.9 38.6L443.3 35.9L445.7 32.9L448.0 29.6L450.4 25.9L452.8 22.5L455.2 17.2L457.6 11.5L458.0 12.0" stroke="#EDB120" stroke-width="0.38" />
<path d="M327.4 156.0L329.0 152.9L330.5 149.1L332.1 146.9L333.6 144.7L335.2 142.3L336.8 139.4L338.3 136.8L339.9 133.8L341.4 131.5L343.0 128.9L344.6 126.2L346.1 124.6L347.7 121.9L349.3 119.5L350.8 116.8L352.4 113.6L353.9 111.9L355.5 110.5L357.1 109.2L358.6 107.9L360.2 107.4L361.7 107.0L363.3 105.8L364.9 105.7L366.4 105.0L368.0 103.9L369.5 103.5L371.1 102.2L372.7 101.6L374.2 101.0L376.6 99.2L378.9 97.5L381.3 95.0L383.7 92.5L386.0 90.6L388.4 88.6L390.7 86.1L393.1 84.1L395.4 81.6L397.8 79.2L400.2 77.4L402.5 75.4L404.9 73.0L407.2 70.2L409.6 68.5L411.9 65.8L414.3 63.3L416.7 61.7L419.0 59.2L421.4 56.8L423.7 55.0L426.1 52.5L428.4 50.4L430.8 48.1L433.2 45.6L435.5 42.5L437.9 40.1L440.2 37.0L442.6 34.6L444.9 32.5L447.3 29.7L449.7 25.5L452.0 21.3L454.4 16.8L456.7 11.5L457.2 12.0" stroke="#7E2F8E" stroke-width="0.38" />
<path d="M327.4 153.1L329.0 150.0L330.5 147.5L332.1 145.2L333.6 142.0L335.2 139.3L336.8 136.5L338.3 134.1L339.9 131.3L341.4 129.3L343.0 126.8L344.6 124.2L346.1 121.9L347.7 119.1L349.3 116.4L350.8 114.3L352.4 111.5L353.9 110.0L355.5 108.5L357.1 107.8L358.6 107.2L360.2 106.5L361.7 105.1L363.3 104.3L364.9 102.7L366.4 102.2L368.0 101.3L369.5 100.3L371.1 99.4L372.7 98.4L374.2 96.8L376.5 94.5L378.9 92.6L381.2 90.2L383.5 87.9L385.9 86.5L388.2 84.3L390.5 82.9L392.8 81.1L395.2 79.1L397.5 77.3L399.8 75.0L402.1 72.7L404.5 69.5L406.8 68.5L409.1 66.6L411.4 63.8L413.8 60.9L416.1 59.2L418.4 56.4L420.7 53.9L423.1 51.1L425.4 48.6L427.7 45.6L430.1 43.7L432.4 40.5L434.7 38.5L437.0 35.9L439.4 33.3L441.7 29.9L444.0 27.4L446.3 24.9L448.7 21.3L451.0 18.0L453.3 13.6L455.6 8.3L456.1 8.8" stroke="#77AC30" stroke-width="0.38" />
<path d="M327.4 153.9L329.0 151.2L330.5 148.8L332.1 146.6L333.6 143.2L335.2 141.5L336.8 139.0L338.3 136.1L339.9 133.1L341.4 131.1L343.0 127.9L344.6 125.2L346.1 122.4L347.7 120.6L349.3 118.5L350.8 115.9L352.4 114.2L353.9 113.1L355.5 111.1L357.1 109.6L358.6 108.9L360.2 107.9L361.7 107.2L363.3 106.6L364.9 105.1L366.4 103.7L368.0 102.1L369.5 101.4L371.1 100.4L372.7 98.5L374.2 96.8L376.5 94.7L378.8 92.9L381.1 91.3L383.4 89.0L385.7 87.2L388.0 85.8L390.3 84.1L392.5 82.8L394.8 81.2L397.1 79.4L399.4 77.9L401.7 76.0L404.0 74.1L406.3 71.9L408.6 69.7L410.9 67.1L413.2 64.9L415.5 63.1L417.7 61.8L420.0 58.7L422.3 57.1L424.6 55.2L426.9 52.8L429.2 50.4L431.5 47.9L433.8 44.9L436.1 43.5L438.4 40.5L440.6 38.1L442.9 35.4L445.2 32.2L447.5 28.3L449.8 24.5L452.1 20.9L454.4 16.1L454.9 16.7" stroke="#4DBEEE" stroke-width="0.38" />
<path d="M327.4 160.2L329.0 158.0L330.5 154.6L332.1 152.2L333.6 149.4L335.2 146.9L336.8 143.6L338.3 139.9L339.9 137.5L341.4 134.0L343.0 131.1L344.6 128.8L346.1 125.7L347.7 122.9L349.3 120.3L350.8 117.5L352.4 114.9L353.9 112.9L355.5 111.0L357.1 109.3L358.6 107.9L360.2 106.2L361.7 105.7L363.3 104.7L364.9 103.8L366.4 102.7L368.0 101.5L369.5 100.2L371.1 99.5L372.7 96.6L374.2 95.7L376.5 93.9L378.8 91.9L381.1 90.0L383.4 88.7L385.6 87.2L387.9 85.4L390.2 83.8L392.5 82.3L394.8 80.9L397.1 79.4L399.3 77.6L401.6 76.1L403.9 74.5L406.2 73.7L408.5 71.3L410.8 69.4L413.1 67.7L415.3 65.1L417.6 63.1L419.9 61.3L422.2 59.7L424.5 57.3L426.8 54.9L429.0 53.3L431.3 50.5L433.6 48.3L435.9 45.6L438.2 43.3L440.5 41.0L442.7 39.1L445.0 35.9L447.3 33.0L449.6 28.7L451.9 25.1L454.2 20.5L454.6 21.0" stroke="#A2142F" stroke-width="0.38" />
<path d="M327.4 154.4L329.0 152.0L330.5 149.6L332.1 147.2L333.6 143.9L335.2 141.6L336.8 139.9L338.3 137.1L339.9 134.9L341.4 131.9L343.0 129.4L344.6 126.8L346.1 124.3L347.7 122.8L349.3 120.1L350.8 117.0L352.4 115.5L353.9 113.2L355.5 111.4L357.1 110.4L358.6 109.5L360.2 108.4L361.7 107.4L363.3 106.2L364.9 105.0L366.4 103.5L368.0 101.8L369.5 101.3L371.1 100.2L372.7 99.1L374.2 96.9L376.5 95.2L378.7 93.8L380.9 91.2L383.1 88.7L385.4 86.4L387.6 85.2L389.8 83.6L392.1 81.6L394.3 79.6L396.5 77.8L398.8 75.2L401.0 73.5L403.2 71.7L405.5 69.5L407.7 68.1L409.9 65.2L412.2 63.5L414.4 60.6L416.6 58.4L418.9 56.5L421.1 54.2L423.3 52.2L425.6 49.9L427.8 47.4L430.0 44.8L432.2 42.2L434.5 39.8L436.7 37.4L438.9 34.3L441.2 30.9L443.4 28.0L445.6 24.7L447.9 21.3L450.1 17.0L452.3 12.7L452.8 13.2" stroke="#0072BD" stroke-width="0.38" />
<path d="M327.4 157.3L329.0 154.3L330.5 151.8L332.1 149.2L333.6 146.4L335.2 143.7L336.8 140.5L338.3 137.9L339.9 134.8L341.4 132.3L343.0 129.9L344.6 126.5L346.1 123.6L347.7 121.2L349.3 118.5L350.8 116.4L352.4 113.2L353.9 111.2L355.5 109.4L357.1 107.9L358.6 106.5L360.2 106.4L361.7 105.4L363.3 104.0L364.9 103.9L366.4 103.2L368.0 102.2L369.5 100.9L371.1 100.0L372.7 98.9L374.2 98.8L376.5 96.5L378.7 94.0L381.0 92.3L383.2 91.0L385.5 87.6L387.7 86.2L390.0 83.9L392.2 81.9L394.4 80.1L396.7 78.0L398.9 76.0L401.2 74.6L403.4 71.7L405.7 69.0L407.9 66.9L410.2 64.9L412.4 62.2L414.7 59.6L416.9 57.1L419.2 54.6L421.4 52.1L423.7 50.0L425.9 47.3L428.2 45.1L430.4 42.3L432.7 39.5L434.9 37.2L437.1 34.4L439.4 31.6L441.6 28.1L443.9 24.3L446.1 20.9L448.4 16.5L450.6 12.1L452.9 7.1L453.3 7.6" stroke="#D95319" stroke-width="0.38" />
<path d="M327.4 153.4L329.0 150.6L330.5 148.0L332.1 145.3L333.6 142.5L335.2 140.1L336.8 138.0L338.3 135.0L339.9 132.0L341.4 128.6L343.0 126.1L344.6 123.5L346.1 120.3L347.7 117.2L349.3 114.4L350.8 112.1L352.4 109.9L353.9 107.5L355.5 105.5L357.1 104.1L358.6 103.3L360.2 101.7L361.7 101.2L363.3 100.2L364.9 99.7L366.4 98.2L368.0 97.2L369.5 96.3L371.1 95.4L372.7 93.8L374.2 92.5L376.4 90.5L378.7 88.6L380.9 87.6L383.1 85.5L385.4 84.1L387.6 82.5L389.8 80.8L392.0 79.1L394.3 78.1L396.5 76.1L398.7 74.8L401.0 72.6L403.2 71.2L405.4 68.5L407.6 67.4L409.9 64.7L412.1 62.9L414.3 60.0L416.5 58.1L418.8 55.8L421.0 53.5L423.2 52.2L425.5 50.0L427.7 47.9L429.9 46.0L432.1 43.5L434.4 40.3L436.6 38.4L438.8 36.3L441.0 33.7L443.3 30.5L445.5 27.3L447.7 24.0L450.0 19.3L452.2 14.7L452.6 15.3" stroke="#EDB120" stroke-width="0.38" />
<path d="M327.4 151.1L329.0 148.9L330.5 146.8L332.1 144.7L333.6 141.9L335.2 139.4L336.8 136.4L338.3 134.6L339.9 132.0L341.4 129.4L343.0 126.7L344.6 124.2L346.1 121.8L347.7 118.8L349.3 116.1L350.8 114.1L352.4 112.1L353.9 110.1L355.5 107.9L357.1 106.1L358.6 105.6L360.2 105.1L361.7 103.3L363.3 102.4L364.9 101.6L366.4 101.4L368.0 100.5L369.5 99.3L371.1 97.8L372.7 97.2L374.2 95.7L376.4 93.6L378.6 91.7L380.9 89.9L383.1 87.8L385.3 85.5L387.5 83.5L389.7 81.9L391.9 80.0L394.1 77.8L396.3 75.2L398.6 73.6L400.8 71.3L403.0 69.1L405.2 67.5L407.4 64.6L409.6 62.2L411.8 60.4L414.0 57.7L416.2 55.4L418.5 53.4L420.7 51.7L422.9 49.6L425.1 47.4L427.3 45.2L429.5 42.5L431.7 40.6L433.9 38.1L436.1 35.6L438.4 32.8L440.6 29.8L442.8 26.9L445.0 23.9L447.2 20.3L449.4 16.4L451.6 11.1L452.1 11.6" stroke="#7E2F8E" stroke-width="0.38" />
<path d="M327.4 154.2L329.0 151.5L330.5 149.3L332.1 146.6L333.6 144.3L335.2 142.1L336.8 139.7L338.3 137.2L339.9 134.8L341.4 133.0L343.0 130.0L344.6 128.2L346.1 125.8L347.7 123.8L349.3 121.1L350.8 119.2L352.4 117.2L353.9 115.7L355.5 113.3L357.1 112.5L358.6 111.0L360.2 110.5L361.7 109.2L363.3 108.9L364.9 107.9L366.4 107.6L368.0 105.7L369.5 105.3L371.1 103.9L372.7 101.5L374.2 100.6L376.4 98.5L378.7 96.4L380.9 94.5L383.1 92.8L385.3 90.7L387.5 89.3L389.7 87.7L392.0 85.1L394.2 83.3L396.4 81.6L398.6 79.2L400.8 77.5L403.0 75.4L405.3 73.5L407.5 71.5L409.7 68.4L411.9 66.0L414.1 63.9L416.3 62.0L418.6 59.6L420.8 57.0L423.0 53.9L425.2 51.7L427.4 49.7L429.6 47.4L431.9 44.7L434.1 42.5L436.3 40.2L438.5 36.6L440.7 34.1L442.9 31.2L445.2 27.2L447.4 23.6L449.6 19.6L451.8 14.7L452.3 15.2" stroke="#77AC30" stroke-width="0.38" />
<path d="M327.4 154.1L329.0 151.5L330.5 148.7L332.1 146.0L333.6 144.2L335.2 142.0L336.8 139.0L338.3 135.7L339.9 133.9L341.4 131.6L343.0 129.5L344.6 126.9L346.1 123.5L347.7 121.6L349.3 119.1L350.8 117.2L352.4 114.4L353.9 112.0L355.5 111.3L357.1 110.2L358.6 109.6L360.2 108.6L361.7 107.7L363.3 105.9L364.9 105.5L366.4 104.7L368.0 104.1L369.5 103.0L371.1 101.4L372.7 100.3L374.2 99.0L376.4 97.0L378.6 94.7L380.9 93.2L383.1 90.9L385.3 89.1L387.5 86.6L389.7 84.2L391.9 82.5L394.1 80.0L396.3 78.2L398.6 76.0L400.8 74.8L403.0 71.0L405.2 69.0L407.4 66.8L409.6 65.2L411.8 63.0L414.0 60.6L416.3 58.2L418.5 56.5L420.7 53.9L422.9 51.4L425.1 49.4L427.3 47.1L429.5 44.2L431.7 42.0L434.0 39.0L436.2 35.7L438.4 32.9L440.6 29.5L442.8 26.3L445.0 21.7L447.2 17.9L449.4 13.6L451.7 8.7L452.1 9.2" stroke="#4DBEEE" stroke-width="0.38" />
<path d="M327.4 153.4L329.0 150.5L330.5 147.8L332.1 145.1L333.6 142.3L335.2 140.2L336.8 137.4L338.3 135.0L339.9 132.1L341.4 129.5L343.0 127.5L344.6 124.8L346.1 122.1L347.7 119.6L349.3 117.1L350.8 114.9L352.4 112.9L353.9 111.3L355.5 108.8L357.1 108.0L358.6 107.0L360.2 106.2L361.7 104.8L363.3 104.1L364.9 103.7L366.4 102.3L368.0 102.3L369.5 101.0L371.1 99.1L372.7 98.1L374.2 96.7L376.5 95.8L378.7 94.4L380.9 92.8L383.2 90.7L385.4 87.8L387.7 86.8L389.9 84.2L392.1 82.2L394.4 79.8L396.6 78.1L398.8 75.9L401.1 73.8L403.3 71.5L405.6 69.2L407.8 66.8L410.0 65.0L412.3 62.2L414.5 60.2L416.7 57.6L419.0 55.3L421.2 52.5L423.5 50.1L425.7 47.8L427.9 45.5L430.2 42.8L432.4 40.6L434.6 38.3L436.9 35.4L439.1 33.1L441.4 30.4L443.6 26.7L445.8 22.1L448.1 19.1L450.3 14.7L452.6 9.7L453.0 10.2" stroke="#A2142F" stroke-width="0.38" />
<path d="M327.4 159.5L329.0 156.1L330.5 153.0L332.1 150.8L333.6 147.7L335.2 144.6L336.8 141.9L338.3 139.2L339.9 136.0L341.4 133.9L343.0 131.1L344.6 128.1L346.1 126.3L347.7 122.9L349.3 121.0L350.8 118.5L352.4 115.6L353.9 113.6L355.5 111.6L357.1 109.3L358.6 108.9L360.2 107.5L361.7 106.6L363.3 105.4L364.9 104.3L366.4 103.9L368.0 103.0L369.5 102.5L371.1 101.6L372.7 100.8L374.2 99.8L376.5 97.9L378.7 95.6L381.0 93.2L383.2 91.4L385.5 89.8L387.7 87.9L390.0 86.2L392.2 83.3L394.5 81.9L396.7 79.9L399.0 78.0L401.2 75.2L403.5 73.0L405.7 71.0L408.0 69.1L410.2 66.3L412.4 63.6L414.7 60.8L416.9 58.7L419.2 56.0L421.4 53.7L423.7 51.3L425.9 47.9L428.2 46.1L430.4 43.4L432.7 41.3L434.9 37.8L437.2 35.5L439.4 32.6L441.7 29.0L443.9 25.5L446.2 22.2L448.4 18.1L450.7 13.5L452.9 7.8L453.4 8.4" stroke="#0072BD" stroke-width="0.38" />
<path d="M327.4 155.0L329.0 152.8L330.5 149.9L332.1 148.1L333.6 145.0L335.2 143.3L336.8 140.6L338.3 137.7L339.9 135.2L341.4 132.0L343.0 129.5L344.6 127.2L346.1 124.1L347.7 121.3L349.3 118.4L350.8 116.1L352.4 114.1L353.9 111.6L355.5 109.3L357.1 108.5L358.6 106.7L360.2 105.2L361.7 103.4L363.3 102.8L364.9 101.7L366.4 100.3L368.0 99.2L369.5 97.8L371.1 97.2L372.7 95.4L374.2 94.0L376.4 92.4L378.6 90.7L380.9 89.3L383.1 87.6L385.3 85.8L387.5 84.5L389.7 82.6L391.9 80.1L394.1 78.0L396.3 75.8L398.5 73.8L400.8 72.2L403.0 70.0L405.2 67.9L407.4 66.2L409.6 64.1L411.8 62.6L414.0 60.1L416.2 58.2L418.4 56.0L420.6 53.6L422.9 51.4L425.1 49.6L427.3 46.7L429.5 44.1L431.7 40.7L433.9 38.9L436.1 35.5L438.3 32.8L440.5 30.1L442.8 26.2L445.0 22.9L447.2 19.5L449.4 15.5L451.6 10.1L452.1 10.6" stroke="#D95319" stroke-width="0.38" />
<path d="M327.4 158.4L329.0 155.8L330.5 152.8L332.1 150.4L333.6 148.2L335.2 144.9L336.8 141.8L338.3 139.0L339.9 136.8L341.4 134.1L343.0 131.3L344.6 127.7L346.1 124.7L347.7 122.6L349.3 119.5L350.8 116.7L352.4 114.0L353.9 111.4L355.5 109.8L357.1 108.5L358.6 107.5L360.2 106.4L361.7 105.8L363.3 104.5L364.9 104.0L366.4 102.5L368.0 101.0L369.5 99.6L371.1 97.9L372.7 96.3L374.2 95.5L376.4 93.6L378.6 92.2L380.8 90.7L383.0 88.6L385.1 88.4L387.3 86.9L389.5 85.3L391.7 83.1L393.9 81.2L396.0 79.5L398.2 77.4L400.4 75.2L402.6 73.1L404.8 71.0L407.0 69.3L409.1 67.8L411.3 65.5L413.5 63.5L415.7 61.7L417.9 58.5L420.0 55.9L422.2 53.7L424.4 51.3L426.6 49.2L428.8 46.7L431.0 44.6L433.1 42.5L435.3 39.6L437.5 37.4L439.7 35.2L441.9 32.6L444.1 29.2L446.2 25.2L448.4 22.1L450.6 16.8L451.1 17.3" stroke="#EDB120" stroke-width="0.38" />
<path d="M327.4 153.6L329.0 150.3L330.5 148.2L332.1 145.1L333.6 142.1L335.2 139.8L336.8 137.1L338.3 133.4L339.9 131.0L341.4 128.8L343.0 126.7L344.6 123.7L346.1 120.8L347.7 118.8L349.3 116.2L350.8 114.6L352.4 111.7L353.9 110.9L355.5 108.8L357.1 108.4L358.6 107.0L360.2 105.8L361.7 104.9L363.3 104.0L364.9 103.2L366.4 102.2L368.0 101.5L369.5 100.9L371.1 99.8L372.7 98.3L374.2 95.9L376.4 94.4L378.5 92.8L380.7 90.9L382.9 88.4L385.0 86.9L387.2 84.8L389.4 82.8L391.5 81.3L393.7 79.4L395.8 77.3L398.0 76.0L400.2 72.9L402.3 71.1L404.5 68.9L406.6 66.5L408.8 64.4L411.0 61.7L413.1 59.6L415.3 56.7L417.5 54.2L419.6 51.8L421.8 49.4L423.9 46.4L426.1 44.1L428.3 41.5L430.4 39.5L432.6 36.7L434.7 34.1L436.9 32.1L439.1 29.2L441.2 24.8L443.4 21.1L445.6 17.8L447.7 13.4L449.9 8.7L450.3 9.2" stroke="#7E2F8E" stroke-width="0.38" />
<path d="M327.4 158.1L329.0 154.9L330.5 152.3L332.1 149.6L333.6 146.6L335.2 143.8L336.8 141.3L338.3 138.3L339.9 135.5L341.4 132.5L343.0 129.8L344.6 126.5L346.1 123.2L347.7 121.3L349.3 118.9L350.8 115.9L352.4 112.7L353.9 110.9L355.5 108.6L357.1 107.3L358.6 105.9L360.2 104.8L361.7 103.1L363.3 101.9L364.9 100.6L366.4 99.7L368.0 98.5L369.5 97.5L371.1 97.3L372.7 95.5L374.2 93.8L376.4 91.0L378.5 89.6L380.7 87.5L382.8 85.8L385.0 83.6L387.1 81.9L389.3 80.5L391.4 78.5L393.6 76.9L395.7 75.8L397.9 73.5L400.0 71.7L402.2 69.1L404.3 67.3L406.5 64.8L408.6 63.7L410.8 61.1L413.0 59.4L415.1 56.3L417.3 55.0L419.4 52.0L421.6 49.8L423.7 47.7L425.9 45.0L428.0 42.0L430.2 39.9L432.3 37.2L434.5 34.9L436.6 32.0L438.8 29.5L440.9 26.7L443.1 23.3L445.2 20.0L447.4 15.9L449.5 11.7L450.0 12.3" stroke="#77AC30" stroke-width="0.38" />
<path d="M327.4 150.8L329.0 147.6L330.5 145.8L332.1 142.6L333.6 140.2L335.2 136.9L336.8 134.6L338.3 131.4L339.9 128.7L341.4 125.2L343.0 122.2L344.6 119.2L346.1 116.5L347.7 114.0L349.3 110.6L350.8 108.5L352.4 106.4L353.9 105.2L355.5 102.9L357.1 101.7L358.6 100.4L360.2 98.7L361.7 98.7L363.3 98.1L364.9 96.8L366.4 95.8L368.0 94.7L369.5 93.8L371.1 91.5L372.7 90.6L374.2 89.3L376.4 87.0L378.5 84.6L380.6 82.5L382.8 80.7L384.9 79.6L387.1 76.9L389.2 75.6L391.3 73.6L393.5 72.4L395.6 70.5L397.7 68.6L399.9 66.6L402.0 64.9L404.2 62.7L406.3 61.7L408.4 58.9L410.6 57.5L412.7 55.0L414.8 52.7L417.0 50.5L419.1 48.8L421.3 46.1L423.4 43.6L425.5 40.7L427.7 38.9L429.8 36.0L432.0 33.6L434.1 31.6L436.2 28.4L438.4 24.8L440.5 23.0L442.6 19.5L444.8 16.3L446.9 12.2L449.1 8.5L449.5 9.0" stroke="#4DBEEE" stroke-width="0.38" />
<path d="M327.4 150.9L329.0 148.6L330.5 146.5L332.1 144.0L333.6 140.7L335.2 138.7L336.8 135.9L338.3 132.9L339.9 130.1L341.4 127.6L343.0 125.2L344.6 122.5L346.1 120.2L347.7 117.5L349.3 115.4L350.8 113.0L352.4 110.9L353.9 108.5L355.5 106.8L357.1 105.4L358.6 104.5L360.2 103.7L361.7 102.2L363.3 101.3L364.9 100.2L366.4 99.7L368.0 98.1L369.5 96.7L371.1 96.2L372.7 94.2L374.2 93.3L376.3 91.2L378.5 89.7L380.6 88.0L382.7 85.8L384.8 84.5L386.9 82.6L389.0 81.0L391.2 79.1L393.3 76.2L395.4 74.0L397.5 72.4L399.6 70.8L401.7 68.9L403.9 67.2L406.0 64.7L408.1 63.3L410.2 60.8L412.3 59.2L414.4 57.1L416.6 54.9L418.7 52.1L420.8 49.7L422.9 47.2L425.0 45.1L427.2 43.0L429.3 40.6L431.4 37.2L433.5 34.7L435.6 31.8L437.7 28.3L439.9 25.3L442.0 22.4L444.1 18.6L446.2 13.4L448.3 9.0L448.8 9.5" stroke="#A2142F" stroke-width="0.38" />
<path d="M327.4 152.5L329.0 149.5L330.5 146.6L332.1 144.4L333.6 141.6L335.2 138.8L336.8 136.4L338.3 134.2L339.9 130.9L341.4 128.8L343.0 125.8L344.6 123.4L346.1 120.9L347.7 119.0L349.3 116.6L350.8 114.6L352.4 111.9L353.9 110.3L355.5 108.8L357.1 107.9L358.6 106.7L360.2 106.5L361.7 105.3L363.3 104.1L364.9 103.5L366.4 102.9L368.0 100.9L369.5 99.4L371.1 98.6L372.7 97.1L374.2 95.8L376.3 94.2L378.4 92.4L380.5 90.6L382.6 88.4L384.7 86.8L386.8 83.9L388.9 82.4L391.0 81.0L393.1 78.6L395.2 76.6L397.3 74.6L399.4 72.2L401.5 70.5L403.6 69.0L405.7 66.4L407.8 64.4L409.9 62.2L412.0 59.6L414.1 57.0L416.2 54.9L418.3 52.5L420.4 49.8L422.5 47.1L424.6 44.2L426.7 42.2L428.8 39.9L430.9 37.8L433.0 34.8L435.1 32.1L437.2 29.3L439.3 25.9L441.4 22.2L443.5 18.3L445.6 13.2L447.7 8.9L448.2 9.4" stroke="#0072BD" stroke-width="0.38" />
<path d="M327.4 158.0L329.0 155.2L330.5 151.8L332.1 149.2L333.6 146.1L335.2 143.1L336.8 139.8L338.3 137.1L339.9 134.5L341.4 131.5L343.0 128.7L344.6 126.4L346.1 123.9L347.7 119.8L349.3 117.0L350.8 114.2L352.4 111.7L353.9 110.3L355.5 108.5L357.1 106.3L358.6 106.2L360.2 105.6L361.7 104.7L363.3 103.7L364.9 103.0L366.4 102.1L368.0 101.2L369.5 99.9L371.1 99.1L372.7 97.5L374.2 96.0L376.3 94.5L378.4 93.0L380.5 90.8L382.6 88.7L384.7 86.2L386.8 85.1L388.8 82.9L390.9 80.9L393.0 78.9L395.1 77.2L397.2 75.2L399.3 72.8L401.4 71.8L403.5 69.2L405.6 66.8L407.7 64.7L409.7 62.6L411.8 61.1L413.9 58.4L416.0 56.3L418.1 53.5L420.2 51.4L422.3 48.5L424.4 46.5L426.5 43.7L428.5 41.0L430.6 38.2L432.7 35.8L434.8 32.9L436.9 29.7L439.0 27.4L441.1 23.7L443.2 20.4L445.3 16.0L447.3 11.6L447.8 12.1" stroke="#D95319" stroke-width="0.38" />
<path d="M327.4 151.6L329.0 149.4L330.5 146.7L332.1 144.2L333.6 141.7L335.2 139.3L336.8 136.3L338.3 134.2L339.9 131.2L341.4 128.9L343.0 126.1L344.6 123.5L346.1 121.5L347.7 118.1L349.3 116.2L350.8 114.7L352.4 112.0L353.9 109.1L355.5 107.6L357.1 106.4L358.6 104.7L360.2 103.8L361.7 102.2L363.3 101.7L364.9 101.0L366.4 100.4L368.0 99.6L369.5 98.8L371.1 97.5L372.7 96.5L374.2 95.1L376.3 92.9L378.4 91.0L380.5 89.3L382.6 87.3L384.6 85.7L386.7 83.1L388.8 81.4L390.9 79.5L393.0 77.9L395.1 75.6L397.2 74.4L399.2 72.5L401.3 70.4L403.4 68.3L405.5 66.5L407.6 63.5L409.7 61.4L411.8 59.7L413.8 56.6L415.9 54.6L418.0 52.7L420.1 50.7L422.2 48.2L424.3 46.0L426.4 43.4L428.4 40.4L430.5 37.7L432.6 34.4L434.7 31.5L436.8 29.1L438.9 26.1L441.0 23.0L443.0 19.7L445.1 14.5L447.2 9.9L447.7 10.4" stroke="#EDB120" stroke-width="0.38" />
<path d="M327.4 151.4L329.0 148.7L330.5 146.6L332.1 144.0L333.6 141.3L335.2 138.5L336.8 136.3L338.3 134.1L339.9 131.4L341.4 128.9L343.0 126.3L344.6 122.7L346.1 120.8L347.7 118.5L349.3 115.7L350.8 113.7L352.4 111.2L353.9 109.7L355.5 106.9L357.1 105.8L358.6 104.1L360.2 103.0L361.7 101.8L363.3 100.8L364.9 99.7L366.4 98.5L368.0 96.8L369.5 96.4L371.1 95.6L372.7 94.3L374.2 92.9L376.3 91.2L378.4 89.3L380.5 88.0L382.6 86.2L384.7 84.7L386.7 83.1L388.8 81.3L390.9 78.8L393.0 76.9L395.1 75.8L397.2 73.5L399.2 70.9L401.3 68.8L403.4 67.1L405.5 64.7L407.6 62.8L409.7 61.5L411.8 57.9L413.8 55.5L415.9 53.2L418.0 50.8L420.1 48.2L422.2 46.0L424.3 42.8L426.4 40.6L428.4 38.5L430.5 36.1L432.6 34.6L434.7 32.0L436.8 28.8L438.9 26.1L441.0 22.8L443.0 18.9L445.1 14.9L447.2 9.8L447.7 10.4" stroke="#7E2F8E" stroke-width="0.38" />
<path d="M327.4 151.2L329.0 148.5L330.5 146.4L332.1 144.1L333.6 140.9L335.2 139.0L336.8 136.3L338.3 134.4L339.9 131.6L341.4 129.2L343.0 126.4L344.6 123.8L346.1 121.5L347.7 119.0L349.3 116.5L350.8 114.3L352.4 112.1L353.9 110.3L355.5 109.1L357.1 107.2L358.6 106.5L360.2 105.4L361.7 104.3L363.3 103.3L364.9 102.9L366.4 101.8L368.0 100.5L369.5 99.4L371.1 98.4L372.7 96.8L374.2 95.3L376.3 93.5L378.3 91.8L380.4 89.1L382.5 87.2L384.5 86.2L386.6 84.0L388.6 82.6L390.7 80.8L392.8 77.9L394.8 76.2L396.9 74.5L398.9 72.9L401.0 70.6L403.1 68.6L405.1 66.9L407.2 65.0L409.2 63.0L411.3 60.9L413.4 58.4L415.4 56.4L417.5 54.7L419.6 51.7L421.6 49.4L423.7 47.6L425.7 44.6L427.8 42.5L429.9 40.1L431.9 38.1L434.0 35.3L436.0 32.3L438.1 29.7L440.2 26.1L442.2 23.3L444.3 19.3L446.3 14.8L446.8 15.4" stroke="#77AC30" stroke-width="0.38" />
<path d="M327.4 158.4L329.0 156.3L330.5 153.4L332.1 150.2L333.6 148.1L335.2 145.4L336.8 142.3L338.3 139.4L339.9 136.7L341.4 133.8L343.0 131.6L344.6 128.8L346.1 126.6L347.7 123.4L349.3 121.2L350.8 118.7L352.4 117.0L353.9 115.1L355.5 112.9L357.1 110.9L358.6 109.9L360.2 109.5L361.7 109.1L363.3 107.5L364.9 106.6L366.4 105.0L368.0 104.0L369.5 102.3L371.1 101.0L372.7 100.1L374.2 98.2L376.3 96.8L378.3 95.2L380.4 93.5L382.4 91.5L384.5 90.5L386.6 88.6L388.6 86.9L390.7 85.2L392.7 84.5L394.8 82.3L396.8 81.0L398.9 79.0L401.0 76.6L403.0 75.0L405.1 72.8L407.1 71.1L409.2 70.3L411.2 68.1L413.3 65.5L415.4 64.3L417.4 61.9L419.5 59.3L421.5 56.8L423.6 54.6L425.6 52.7L427.7 49.6L429.8 47.2L431.8 45.0L433.9 42.6L435.9 39.2L438.0 36.5L440.0 33.5L442.1 30.2L444.1 25.8L446.2 21.8L446.7 22.3" stroke="#4DBEEE" stroke-width="0.38" />
<path d="M327.4 154.6L329.0 152.1L330.5 149.1L332.1 146.2L333.6 143.3L335.2 140.8L336.8 138.5L338.3 135.9L339.9 132.7L341.4 130.0L343.0 127.0L344.6 124.3L346.1 121.4L347.7 119.0L349.3 116.8L350.8 114.2L352.4 112.0L353.9 110.2L355.5 108.4L357.1 107.3L358.6 106.7L360.2 105.9L361.7 104.2L363.3 103.7L364.9 102.8L366.4 101.7L368.0 99.8L369.5 99.0L371.1 97.4L372.7 96.0L374.2 94.5L376.2 93.1L378.3 91.3L380.3 89.8L382.3 87.9L384.3 86.1L386.3 84.2L388.3 81.8L390.4 80.6L392.4 78.1L394.4 76.6L396.4 74.1L398.4 72.1L400.5 70.6L402.5 67.9L404.5 65.8L406.5 63.6L408.5 61.9L410.5 59.0L412.6 56.6L414.6 54.3L416.6 52.9L418.6 49.9L420.6 47.3L422.6 44.7L424.7 42.3L426.7 39.9L428.7 38.0L430.7 35.2L432.7 32.1L434.7 28.9L436.8 25.9L438.8 23.4L440.8 19.4L442.8 15.8L444.8 11.5L445.3 12.0" stroke="#A2142F" stroke-width="0.38" />
<path d="M327.4 153.6L329.0 151.3L330.5 148.6L332.1 146.4L333.6 143.3L335.2 140.9L336.8 138.3L338.3 136.3L339.9 133.8L341.4 130.3L343.0 127.4L344.6 124.7L346.1 122.0L347.7 119.3L349.3 116.6L350.8 114.1L352.4 111.0L353.9 109.9L355.5 107.8L357.1 106.8L358.6 105.6L360.2 104.8L361.7 103.6L363.3 102.9L364.9 101.2L366.4 100.0L368.0 98.6L369.5 96.8L371.1 96.0L372.7 94.3L374.2 92.2L376.3 90.1L378.3 88.4L380.3 86.8L382.3 84.9L384.4 83.9L386.4 82.6L388.4 80.1L390.5 78.8L392.5 76.8L394.5 74.8L396.6 73.8L398.6 72.5L400.6 70.0L402.7 67.8L404.7 66.4L406.7 64.1L408.8 62.9L410.8 61.0L412.8 58.2L414.8 56.3L416.9 53.5L418.9 52.1L420.9 50.0L423.0 47.9L425.0 45.9L427.0 43.8L429.1 41.6L431.1 39.4L433.1 37.1L435.2 33.6L437.2 31.2L439.2 28.0L441.3 25.0L443.3 21.6L445.3 17.3L445.8 17.8" stroke="#0072BD" stroke-width="0.38" />
<path d="M327.4 155.6L329.0 152.8L330.5 149.8L332.1 146.7L333.6 143.8L335.2 141.2L336.8 138.6L338.3 135.2L339.9 133.0L341.4 130.5L343.0 127.6L344.6 125.1L346.1 122.7L347.7 119.9L349.3 117.4L350.8 115.1L352.4 113.2L353.9 110.0L355.5 108.2L357.1 107.1L358.6 105.3L360.2 104.4L361.7 103.7L363.3 103.1L364.9 102.1L366.4 100.9L368.0 99.4L369.5 98.6L371.1 98.0L372.7 95.8L374.2 94.7L376.2 92.8L378.3 90.5L380.3 88.2L382.3 86.7L384.3 84.3L386.3 82.7L388.4 79.7L390.4 78.3L392.4 76.4L394.4 75.4L396.4 72.9L398.5 71.1L400.5 68.7L402.5 66.0L404.5 64.0L406.5 62.5L408.6 60.4L410.6 58.5L412.6 56.6L414.6 53.9L416.6 51.9L418.7 49.5L420.7 47.6L422.7 45.5L424.7 43.3L426.8 40.1L428.8 37.8L430.8 35.6L432.8 32.4L434.8 29.8L436.9 26.5L438.9 23.3L440.9 18.9L442.9 14.7L444.9 10.1L445.4 10.6" stroke="#D95319" stroke-width="0.38" />
<path d="M327.4 157.8L329.0 154.7L330.5 151.7L332.1 149.3L333.6 146.1L335.2 143.0L336.8 140.0L338.3 137.3L339.9 134.7L341.4 131.4L343.0 128.7L344.6 125.3L346.1 122.3L347.7 119.9L349.3 118.0L350.8 115.3L352.4 112.7L353.9 110.3L355.5 108.4L357.1 106.8L358.6 106.0L360.2 104.7L361.7 103.4L363.3 101.3L364.9 100.6L366.4 99.4L368.0 97.4L369.5 95.9L371.1 94.5L372.7 92.8L374.2 90.9L376.3 89.2L378.3 87.3L380.4 85.9L382.4 84.0L384.5 82.1L386.5 79.7L388.6 77.1L390.6 75.2L392.7 74.1L394.8 71.9L396.8 70.3L398.9 69.1L400.9 67.7L403.0 65.5L405.0 64.2L407.1 62.1L409.1 59.8L411.2 58.8L413.2 57.0L415.3 54.8L417.3 52.3L419.4 50.9L421.4 46.8L423.5 44.3L425.6 41.7L427.6 40.0L429.7 38.2L431.7 36.3L433.8 33.3L435.8 31.0L437.9 27.8L439.9 25.3L442.0 21.7L444.0 17.9L446.1 13.8L446.6 14.4" stroke="#EDB120" stroke-width="0.38" />
<path d="M327.4 152.8L329.0 150.3L330.5 148.2L332.1 145.7L333.6 143.2L335.2 140.5L336.8 138.4L338.3 135.4L339.9 132.8L341.4 130.1L343.0 128.1L344.6 125.9L346.1 123.5L347.7 121.3L349.3 118.3L350.8 116.4L352.4 114.2L353.9 112.8L355.5 111.2L357.1 109.9L358.6 109.0L360.2 108.0L361.7 106.2L363.3 105.7L364.9 104.1L366.4 103.2L368.0 102.1L369.5 100.8L371.1 99.7L372.7 98.2L374.2 97.8L376.3 95.2L378.5 93.8L380.6 91.7L382.7 90.0L384.8 88.0L386.9 86.6L389.0 84.6L391.1 83.3L393.3 81.0L395.4 78.9L397.5 76.3L399.6 74.6L401.7 72.6L403.8 70.6L406.0 68.8L408.1 66.8L410.2 64.0L412.3 62.3L414.4 59.6L416.5 57.3L418.7 55.0L420.8 52.7L422.9 50.7L425.0 48.4L427.1 45.3L429.2 42.4L431.3 39.6L433.5 36.8L435.6 34.0L437.7 30.7L439.8 27.7L441.9 24.6L444.0 20.3L446.2 16.3L448.3 11.9L448.7 12.4" stroke="#7E2F8E" stroke-width="0.38" />
<path d="M327.4 153.3L329.0 150.7L330.5 148.1L332.1 145.1L333.6 142.4L335.2 140.4L336.8 137.5L338.3 135.0L339.9 132.4L341.4 129.7L343.0 126.4L344.6 123.9L346.1 121.3L347.7 119.0L349.3 116.5L350.8 114.2L352.4 111.9L353.9 109.4L355.5 107.2L357.1 105.6L358.6 105.0L360.2 103.5L361.7 102.4L363.3 101.6L364.9 101.5L366.4 100.1L368.0 98.9L369.5 97.4L371.1 96.4L372.7 95.3L374.2 93.5L376.3 91.8L378.3 89.8L380.3 88.0L382.3 85.7L384.4 83.9L386.4 82.0L388.4 79.7L390.5 78.0L392.5 76.1L394.5 74.2L396.5 72.3L398.6 71.4L400.6 69.5L402.6 67.3L404.7 65.3L406.7 64.0L408.7 62.2L410.8 60.0L412.8 57.5L414.8 55.7L416.8 52.3L418.9 51.0L420.9 48.8L422.9 45.8L425.0 43.8L427.0 41.2L429.0 38.7L431.0 36.6L433.1 34.1L435.1 31.1L437.1 27.8L439.2 25.1L441.2 21.5L443.2 17.8L445.2 13.4L445.7 13.9" stroke="#77AC30" stroke-width="0.38" />
<path d="M327.4 152.9L329.0 150.1L330.5 147.3L332.1 145.5L333.6 142.5L335.2 139.1L336.8 136.6L338.3 133.5L339.9 131.0L341.4 128.0L343.0 125.1L344.6 122.1L346.1 119.6L347.7 116.5L349.3 114.7L350.8 112.2L352.4 109.9L353.9 107.5L355.5 105.7L357.1 104.6L358.6 103.1L360.2 101.9L361.7 101.0L363.3 99.9L364.9 99.0L366.4 98.0L368.0 96.9L369.5 95.6L371.1 93.8L372.7 92.8L374.2 91.7L376.2 89.7L378.2 88.4L380.2 87.1L382.2 84.6L384.2 83.2L386.2 81.8L388.2 80.6L390.2 78.5L392.2 77.0L394.2 75.0L396.2 72.8L398.2 71.6L400.2 69.6L402.1 67.6L404.1 65.4L406.1 63.3L408.1 61.5L410.1 59.7L412.1 57.5L414.1 55.1L416.1 53.2L418.1 51.0L420.1 48.8L422.1 46.6L424.1 44.7L426.1 42.2L428.1 40.5L430.1 38.1L432.1 35.0L434.1 32.7L436.1 30.0L438.1 26.9L440.0 23.7L442.0 20.0L444.0 15.7L444.5 16.2" stroke="#4DBEEE" stroke-width="0.38" />
<path d="M327.4 151.6L329.0 148.2L330.5 146.1L332.1 143.4L333.6 140.9L335.2 138.4L336.8 135.0L338.3 132.2L339.9 129.7L341.4 127.1L343.0 125.0L344.6 122.1L346.1 119.3L347.7 116.6L349.3 113.6L350.8 111.5L352.4 109.8L353.9 107.1L355.5 105.4L357.1 103.7L358.6 103.3L360.2 102.7L361.7 101.7L363.3 100.9L364.9 99.6L366.4 99.8L368.0 98.8L369.5 97.1L371.1 95.5L372.7 93.9L374.2 92.3L376.2 91.1L378.2 89.2L380.2 87.1L382.2 85.2L384.2 83.7L386.2 82.0L388.1 79.9L390.1 78.4L392.1 76.4L394.1 74.6L396.1 73.1L398.1 70.9L400.1 68.6L402.1 67.1L404.1 65.5L406.1 63.1L408.0 60.9L410.0 59.3L412.0 57.2L414.0 55.1L416.0 53.0L418.0 50.7L420.0 48.0L422.0 46.2L424.0 44.0L425.9 42.3L427.9 39.7L429.9 36.6L431.9 34.3L433.9 31.8L435.9 28.8L437.9 25.4L439.9 21.6L441.9 17.8L443.8 13.8L444.3 14.3" stroke="#A2142F" stroke-width="0.38" />
<path d="M327.4 149.8L329.0 147.2L330.5 144.1L332.1 141.5L333.6 139.4L335.2 136.2L336.8 134.2L338.3 131.9L339.9 129.9L341.4 127.9L343.0 124.7L344.6 121.9L346.1 119.7L347.7 116.8L349.3 114.9L350.8 111.8L352.4 109.6L353.9 107.4L355.5 105.2L357.1 104.0L358.6 102.5L360.2 101.6L361.7 100.1L363.3 99.7L364.9 98.3L366.4 97.0L368.0 95.7L369.5 93.8L371.1 91.6L372.7 89.7L374.2 87.8L376.2 86.5L378.1 84.8L380.1 83.9L382.0 81.8L384.0 80.1L385.9 78.3L387.8 76.5L389.8 74.8L391.7 72.8L393.7 71.1L395.6 69.7L397.6 67.5L399.5 65.9L401.5 63.5L403.4 62.2L405.4 59.6L407.3 57.5L409.3 55.4L411.2 53.2L413.2 51.1L415.1 48.5L417.0 46.6L419.0 44.8L420.9 42.5L422.9 39.3L424.8 36.9L426.8 34.8L428.7 32.4L430.7 29.8L432.6 27.4L434.6 24.1L436.5 21.6L438.5 18.4L440.4 15.3L442.3 11.1L442.8 11.7" stroke="#0072BD" stroke-width="0.38" />
<path d="M327.4 151.0L329.0 149.0L330.5 146.3L332.1 143.2L333.6 140.1L335.2 137.3L336.8 134.7L338.3 132.0L339.9 128.8L341.4 125.7L343.0 123.5L344.6 120.7L346.1 118.1L347.7 115.9L349.3 113.5L350.8 111.1L352.4 108.6L353.9 106.9L355.5 104.9L357.1 104.2L358.6 103.8L360.2 102.2L361.7 101.4L363.3 101.1L364.9 100.2L366.4 99.9L368.0 98.1L369.5 97.3L371.1 96.1L372.7 95.2L374.2 94.1L376.2 92.4L378.1 91.1L380.0 88.8L382.0 87.2L383.9 85.9L385.8 84.3L387.8 82.7L389.7 80.1L391.6 78.2L393.6 76.1L395.5 74.3L397.4 72.6L399.4 70.1L401.3 68.2L403.2 66.2L405.2 63.4L407.1 60.7L409.1 58.7L411.0 56.4L412.9 53.7L414.9 52.2L416.8 50.5L418.7 47.5L420.7 45.6L422.6 43.0L424.5 40.6L426.5 37.9L428.4 35.4L430.3 32.3L432.3 29.7L434.2 26.4L436.1 23.3L438.1 19.9L440.0 15.9L441.9 11.6L442.4 12.1" stroke="#D95319" stroke-width="0.38" />
<path d="M327.4 149.8L329.0 147.6L330.5 145.6L332.1 142.7L333.6 140.0L335.2 137.2L336.8 134.9L338.3 131.6L339.9 129.3L341.4 126.1L343.0 124.0L344.6 121.8L346.1 118.5L347.7 115.6L349.3 114.1L350.8 110.9L352.4 108.6L353.9 106.9L355.5 104.7L357.1 103.7L358.6 101.9L360.2 100.7L361.7 100.2L363.3 99.3L364.9 97.9L366.4 96.9L368.0 95.9L369.5 94.2L371.1 92.8L372.7 91.6L374.2 89.9L376.1 88.8L378.1 87.2L380.0 84.7L381.9 83.4L383.8 81.2L385.7 79.9L387.7 77.8L389.6 76.0L391.5 74.0L393.4 71.5L395.3 69.9L397.3 68.2L399.2 66.6L401.1 64.5L403.0 62.8L404.9 61.0L406.9 59.4L408.8 56.8L410.7 55.4L412.6 53.5L414.5 51.1L416.5 49.2L418.4 46.6L420.3 43.8L422.2 42.1L424.1 40.2L426.1 37.5L428.0 35.5L429.9 31.9L431.8 29.4L433.7 26.8L435.7 24.2L437.6 21.0L439.5 17.2L441.4 13.2L441.9 13.7" stroke="#EDB120" stroke-width="0.38" />
<path d="M327.4 150.2L329.0 148.2L330.5 145.9L332.1 143.7L333.6 141.3L335.2 138.0L336.8 134.6L338.3 131.8L339.9 129.5L341.4 126.9L343.0 124.3L344.6 121.6L346.1 118.7L347.7 116.3L349.3 113.4L350.8 111.5L352.4 109.5L353.9 108.0L355.5 105.6L357.1 104.8L358.6 103.1L360.2 102.1L361.7 100.6L363.3 99.3L364.9 98.6L366.4 97.1L368.0 95.8L369.5 95.0L371.1 93.4L372.7 91.0L374.2 89.5L376.1 87.4L378.0 86.2L379.9 84.7L381.9 83.9L383.8 82.0L385.7 79.8L387.6 78.3L389.5 77.2L391.4 75.4L393.3 73.7L395.2 71.9L397.1 70.0L399.0 68.4L400.9 66.6L402.9 64.7L404.8 63.1L406.7 61.2L408.6 59.9L410.5 58.0L412.4 56.1L414.3 53.8L416.2 52.3L418.1 50.1L420.0 47.8L421.9 45.6L423.9 43.8L425.8 42.2L427.7 39.7L429.6 37.5L431.5 35.7L433.4 32.7L435.3 30.2L437.2 27.3L439.1 23.6L441.0 20.0L441.5 20.5" stroke="#7E2F8E" stroke-width="0.38" />
<path d="M327.4 150.7L329.0 148.1L330.5 145.6L332.1 143.6L333.6 140.5L335.2 137.7L336.8 135.5L338.3 133.0L339.9 129.7L341.4 127.3L343.0 124.6L344.6 121.9L346.1 119.7L347.7 117.7L349.3 114.8L350.8 113.2L352.4 110.9L353.9 109.0L355.5 108.0L357.1 106.3L358.6 105.7L360.2 104.2L361.7 102.9L363.3 102.5L364.9 101.2L366.4 100.4L368.0 98.5L369.5 96.4L371.1 94.9L372.7 94.0L374.2 91.4L376.1 89.5L378.0 87.7L379.8 85.6L381.7 83.5L383.6 81.8L385.5 80.8L387.3 78.9L389.2 77.0L391.1 75.2L393.0 73.9L394.8 72.1L396.7 70.7L398.6 68.3L400.5 66.5L402.3 64.6L404.2 62.6L406.1 61.3L408.0 59.9L409.8 56.9L411.7 55.0L413.6 53.0L415.4 50.5L417.3 48.6L419.2 46.8L421.1 45.0L422.9 42.1L424.8 38.7L426.7 36.7L428.6 35.1L430.4 32.0L432.3 29.9L434.2 26.2L436.1 23.3L437.9 19.0L439.8 15.4L440.3 15.9" stroke="#77AC30" stroke-width="0.38" />
<path d="M327.4 151.9L329.0 149.8L330.5 147.3L332.1 144.9L333.6 142.4L335.2 140.2L336.8 138.4L338.3 135.6L339.9 133.6L341.4 130.8L343.0 128.2L344.6 126.3L346.1 123.5L347.7 120.7L349.3 118.6L350.8 115.6L352.4 112.8L353.9 110.9L355.5 109.1L357.1 107.4L358.6 106.3L360.2 104.5L361.7 104.1L363.3 103.1L364.9 101.9L366.4 100.3L368.0 99.4L369.5 97.8L371.1 96.3L372.7 95.0L374.2 93.5L376.1 92.4L377.9 91.2L379.8 89.5L381.7 87.1L383.5 85.1L385.4 83.3L387.3 81.9L389.1 79.5L391.0 77.7L392.8 76.9L394.7 75.3L396.6 73.4L398.4 70.6L400.3 68.8L402.1 66.7L404.0 64.7L405.9 62.9L407.7 61.7L409.6 59.6L411.4 56.8L413.3 54.8L415.2 52.6L417.0 50.3L418.9 48.4L420.7 45.7L422.6 43.7L424.5 41.6L426.3 38.7L428.2 36.8L430.1 34.2L431.9 31.6L433.8 28.8L435.6 25.6L437.5 21.7L439.4 17.7L439.8 18.3" stroke="#4DBEEE" stroke-width="0.38" />
<path d="M327.4 155.0L329.0 152.2L330.5 148.8L332.1 145.7L333.6 144.1L335.2 141.4L336.8 139.2L338.3 136.1L339.9 133.3L341.4 131.1L343.0 128.1L344.6 125.1L346.1 122.8L347.7 120.1L349.3 117.5L350.8 115.0L352.4 112.2L353.9 110.0L355.5 108.1L357.1 107.0L358.6 105.8L360.2 104.6L361.7 103.1L363.3 101.5L364.9 100.7L366.4 99.9L368.0 98.7L369.5 97.2L371.1 96.0L372.7 93.9L374.2 92.2L376.1 90.8L377.9 89.1L379.7 87.6L381.5 86.2L383.4 84.3L385.2 82.2L387.0 80.7L388.9 79.2L390.7 77.5L392.5 76.2L394.4 74.4L396.2 72.9L398.0 70.7L399.8 68.3L401.7 66.8L403.5 65.6L405.3 63.6L407.2 61.5L409.0 58.9L410.8 56.7L412.7 54.1L414.5 52.5L416.3 50.9L418.1 48.2L420.0 45.4L421.8 43.2L423.6 40.6L425.5 38.6L427.3 36.2L429.1 33.2L431.0 30.6L432.8 27.7L434.6 24.4L436.4 20.8L438.3 16.8L438.7 17.3" stroke="#A2142F" stroke-width="0.38" />
<path d="M327.4 155.6L329.0 153.2L330.5 150.0L332.1 147.3L333.6 144.5L335.2 140.9L336.8 138.3L338.3 135.3L339.9 132.4L341.4 130.1L343.0 127.6L344.6 124.4L346.1 121.3L347.7 119.7L349.3 116.6L350.8 113.7L352.4 111.6L353.9 109.1L355.5 106.9L357.1 105.3L358.6 104.2L360.2 103.1L361.7 101.1L363.3 99.5L364.9 98.7L366.4 97.3L368.0 96.2L369.5 94.8L371.1 93.4L372.7 91.2L374.2 88.7L376.0 87.3L377.9 86.1L379.7 84.8L381.5 82.8L383.3 81.6L385.1 79.8L386.9 78.6L388.7 77.1L390.6 75.4L392.4 73.7L394.2 72.1L396.0 70.2L397.8 68.7L399.6 66.9L401.5 65.2L403.3 63.9L405.1 62.3L406.9 60.1L408.7 57.3L410.5 55.9L412.3 52.7L414.2 51.0L416.0 49.3L417.8 47.0L419.6 43.5L421.4 42.3L423.2 40.2L425.1 38.0L426.9 35.7L428.7 33.1L430.5 30.6L432.3 28.0L434.1 24.6L435.9 20.7L437.8 17.3L438.2 17.8" stroke="#0072BD" stroke-width="0.38" />
<path d="M327.4 152.4L329.0 149.6L330.5 147.3L332.1 144.6L333.6 141.3L335.2 139.3L336.8 136.5L338.3 134.2L339.9 131.4L341.4 128.5L343.0 126.1L344.6 123.2L346.1 120.7L347.7 118.6L349.3 115.7L350.8 113.5L352.4 111.0L353.9 109.2L355.5 107.6L357.1 106.1L358.6 105.6L360.2 105.0L361.7 104.0L363.3 102.8L364.9 101.8L366.4 100.1L368.0 98.4L369.5 97.2L371.1 95.8L372.7 94.7L374.2 93.5L376.0 91.0L377.8 89.8L379.6 88.1L381.4 87.1L383.2 85.2L385.0 83.5L386.8 81.8L388.6 80.5L390.5 77.4L392.3 75.8L394.1 73.1L395.9 70.6L397.7 69.8L399.5 68.2L401.3 65.8L403.1 63.3L404.9 61.7L406.7 59.4L408.5 57.4L410.3 55.6L412.1 53.9L413.9 51.3L415.7 49.1L417.5 46.5L419.3 44.1L421.1 41.3L422.9 39.6L424.7 37.2L426.5 34.7L428.3 31.2L430.1 28.5L431.9 25.6L433.7 22.4L435.5 19.0L437.3 15.0L437.8 15.6" stroke="#D95319" stroke-width="0.38" />
<path d="M327.4 151.3L329.0 148.4L330.5 145.9L332.1 143.5L333.6 141.2L335.2 138.8L336.8 136.3L338.3 133.1L339.9 130.3L341.4 128.6L343.0 126.4L344.6 123.4L346.1 119.9L347.7 117.8L349.3 115.4L350.8 113.0L352.4 111.0L353.9 109.1L355.5 107.2L357.1 105.9L358.6 104.0L360.2 103.4L361.7 102.8L363.3 100.5L364.9 99.3L366.4 97.9L368.0 95.2L369.5 93.2L371.1 92.2L372.7 90.8L374.2 89.3L376.0 87.6L377.8 86.5L379.5 84.1L381.3 83.3L383.1 81.7L384.9 80.0L386.6 78.0L388.4 77.0L390.2 74.7L391.9 73.2L393.7 71.6L395.5 69.9L397.3 67.7L399.0 66.6L400.8 64.7L402.6 62.8L404.4 60.9L406.1 58.1L407.9 56.6L409.7 54.5L411.4 52.4L413.2 50.7L415.0 48.2L416.8 45.5L418.5 43.0L420.3 40.9L422.1 38.8L423.9 36.3L425.6 33.9L427.4 31.5L429.2 28.4L430.9 24.9L432.7 21.5L434.5 18.2L436.3 15.1L436.7 15.6" stroke="#EDB120" stroke-width="0.38" />
<path d="M327.4 149.3L329.0 146.9L330.5 144.0L332.1 142.1L333.6 139.5L335.2 136.0L336.8 132.6L338.3 129.8L339.9 127.6L341.4 125.3L343.0 123.2L344.6 120.2L346.1 117.6L347.7 115.3L349.3 112.8L350.8 110.4L352.4 108.2L353.9 106.1L355.5 105.0L357.1 104.3L358.6 103.4L360.2 101.8L361.7 100.9L363.3 99.8L364.9 99.0L366.4 96.5L368.0 95.3L369.5 94.4L371.1 93.0L372.7 91.7L374.2 90.0L376.0 89.2L377.8 87.4L379.6 86.4L381.4 85.2L383.2 82.9L385.0 81.3L386.8 79.8L388.6 78.1L390.4 76.7L392.3 75.2L394.1 73.3L395.9 71.4L397.7 69.8L399.5 67.6L401.3 65.9L403.1 64.1L404.9 62.6L406.7 60.6L408.5 59.1L410.3 56.9L412.1 54.7L413.9 52.9L415.7 50.3L417.5 47.3L419.3 45.0L421.1 43.2L422.9 40.5L424.7 38.4L426.5 36.3L428.3 33.6L430.1 30.5L431.9 27.8L433.7 24.3L435.5 20.3L437.3 15.9L437.8 16.4" stroke="#7E2F8E" stroke-width="0.38" />
<path d="M327.4 152.8L329.0 150.1L330.5 147.2L332.1 144.4L333.6 142.5L335.2 139.2L336.8 136.2L338.3 134.0L339.9 131.7L341.4 129.2L343.0 126.3L344.6 123.3L346.1 120.3L347.7 118.0L349.3 115.9L350.8 112.7L352.4 110.8L353.9 108.2L355.5 106.6L357.1 105.2L358.6 104.4L360.2 103.0L361.7 102.0L363.3 101.1L364.9 100.1L366.4 98.4L368.0 97.1L369.5 95.8L371.1 93.2L372.7 92.2L374.2 90.4L376.0 88.5L377.8 87.0L379.6 85.8L381.4 83.7L383.2 82.7L385.0 81.3L386.8 79.4L388.6 77.8L390.4 75.6L392.2 74.0L394.0 72.2L395.8 70.3L397.6 67.8L399.4 66.4L401.2 64.3L403.0 62.2L404.7 59.8L406.5 58.3L408.3 56.0L410.1 54.3L411.9 52.5L413.7 50.7L415.5 48.2L417.3 47.4L419.1 45.1L420.9 42.8L422.7 41.2L424.5 38.6L426.3 36.0L428.1 34.3L429.9 31.1L431.7 28.7L433.5 25.1L435.3 22.4L437.1 18.2L437.5 18.7" stroke="#77AC30" stroke-width="0.38" />
<path d="M327.4 156.9L329.0 155.3L330.5 152.5L332.1 150.0L333.6 146.7L335.2 144.2L336.8 140.9L338.3 138.5L339.9 136.0L341.4 133.0L343.0 130.2L344.6 127.5L346.1 124.6L347.7 122.2L349.3 119.5L350.8 117.5L352.4 114.3L353.9 112.8L355.5 110.2L357.1 108.6L358.6 107.4L360.2 107.3L361.7 106.1L363.3 104.1L364.9 103.2L366.4 101.8L368.0 100.9L369.5 99.5L371.1 98.1L372.7 95.9L374.2 94.8L376.0 93.3L377.9 92.3L379.7 90.5L381.5 89.0L383.4 86.9L385.2 84.8L387.0 83.5L388.8 81.3L390.7 79.7L392.5 78.1L394.3 75.4L396.1 73.9L398.0 71.4L399.8 69.5L401.6 68.1L403.4 65.9L405.3 63.2L407.1 60.9L408.9 57.7L410.7 56.2L412.6 53.2L414.4 50.9L416.2 48.9L418.0 45.9L419.9 44.0L421.7 41.0L423.5 39.7L425.3 36.5L427.2 33.6L429.0 31.3L430.8 28.3L432.6 24.7L434.5 20.2L436.3 17.1L438.1 13.3L438.6 13.8" stroke="#4DBEEE" stroke-width="0.38" />
<path d="M327.4 153.2L329.0 151.2L330.5 148.0L332.1 145.5L333.6 142.8L335.2 140.3L336.8 137.6L338.3 134.7L339.9 132.1L341.4 129.5L343.0 127.4L344.6 124.8L346.1 123.1L347.7 120.2L349.3 118.3L350.8 115.8L352.4 112.8L353.9 111.4L355.5 110.2L357.1 107.9L358.6 106.9L360.2 105.8L361.7 104.1L363.3 102.8L364.9 102.1L366.4 100.0L368.0 99.0L369.5 97.2L371.1 96.1L372.7 94.1L374.2 92.9L376.1 91.7L377.9 90.1L379.7 89.0L381.5 86.9L383.4 84.9L385.2 83.4L387.0 82.0L388.9 80.8L390.7 78.1L392.5 77.4L394.4 75.4L396.2 74.2L398.0 73.3L399.8 71.1L401.7 69.1L403.5 67.6L405.3 65.6L407.2 63.3L409.0 61.8L410.8 59.3L412.7 57.2L414.5 55.2L416.3 53.4L418.1 49.8L420.0 48.1L421.8 46.0L423.6 44.1L425.5 41.5L427.3 39.6L429.1 37.3L431.0 35.0L432.8 32.7L434.6 29.4L436.5 26.3L438.3 23.5L438.7 24.0" stroke="#A2142F" stroke-width="0.38" />
</g>
<line x1="242.9" y1="212.6" x2="242.9" y2="369.0" stroke="#f3f3f3" stroke-width="0.8"/>
<line x1="304.2" y1="212.6" x2="304.2" y2="369.0" stroke="#f3f3f3" stroke-width="0.8"/>
<line x1="365.6" y1="212.6" x2="365.6" y2="369.0" stroke="#f3f3f3" stroke-width="0.8"/>
<line x1="181.6" y1="353.3" x2="389.5" y2="353.3" stroke="#f3f3f3" stroke-width="0.8"/>
<line x1="181.6" y1="322.0" x2="389.5" y2="322.0" stroke="#f3f3f3" stroke-width="0.8"/>
<line x1="181.6" y1="290.8" x2="389.5" y2="290.8" stroke="#f3f3f3" stroke-width="0.8"/>
<line x1="181.6" y1="259.6" x2="389.5" y2="259.6" stroke="#f3f3f3" stroke-width="0.8"/>
<line x1="181.6" y1="228.3" x2="389.5" y2="228.3" stroke="#f3f3f3" stroke-width="0.8"/>
<g class="g" clip-path="url(#c3)">
<path d="M183.0 223.1L184.5 225.1L186.3 226.9L187.5 228.1L188.6 226.6L189.7 226.2L190.4 227.7L191.2 231.8L191.9 233.3L196.0 238.4L200.0 243.8L203.0 247.6L204.4 249.5L206.1 231.8L207.9 235.8L209.7 239.8L210.9 237.1L212.1 242.3L213.4 246.8L214.8 248.8L217.8 252.2L218.6 252.6L219.5 240.3L220.3 244.8L221.3 248.8L223.3 253.2L225.2 257.1L228.9 263.9L232.9 268.8L235.4 265.3L236.8 269.8L238.8 274.3L239.5 274.0L240.5 256.3L241.8 259.9L243.3 265.8L245.8 271.8L247.2 275.9L249.9 280.9L252.9 284.9L255.9 289.3L258.8 292.3L261.8 295.7L264.8 299.2L266.6 301.3L267.5 302.4L269.0 301.9L271.9 305.8L275.4 308.6L276.0 308.8L277.1 302.3L278.4 306.2L280.4 309.3L283.3 310.8L285.8 313.3L287.3 312.3L289.3 315.2L290.5 315.4L291.8 291.4L293.1 300.0L294.6 304.8L296.6 309.0L299.7 313.3L302.6 316.2L305.6 318.7L307.4 319.4L308.9 314.3L310.3 318.3L311.5 319.9L312.9 321.2L315.9 323.2L318.9 325.2L320.4 326.1L321.9 325.7L324.3 327.7L327.8 330.2L328.9 330.0L330.0 320.7L331.3 324.7L332.7 327.2L335.2 330.2L337.7 332.6L340.7 334.2L344.0 335.1L345.4 330.9L347.4 335.3L348.9 337.1L351.9 338.6L354.8 341.4L357.8 342.1L361.3 344.8L364.2 345.6L365.3 345.0L366.4 339.7L367.7 343.9L369.7 347.8L373.7 351.3L377.6 354.7L381.1 357.7L382.6 360.5L384.0 359.2L385.0 359.2L386.5 356.7L387.5 355.7" stroke="#0072BD" stroke-width="1.1" />
<path d="M183.0 246.1L184.9 247.1L187.9 247.1L190.9 246.9L192.9 248.4L194.8 248.4L196.8 249.9L199.8 250.4L202.8 252.3L204.3 251.8L205.9 247.4L207.6 246.6L210.5 248.2L213.7 249.9L217.5 252.3L218.6 250.5L219.4 247.3L220.6 249.6L221.6 250.9L224.5 253.4L227.3 255.9L229.9 257.7L232.3 258.4L234.3 257.4L236.8 260.2L239.1 262.8L240.7 257.0L242.0 258.1L244.4 261.2L247.4 264.3L250.2 267.3L251.7 267.8L253.9 270.0L256.7 272.6L258.8 274.0L263.8 277.4L268.7 280.9L273.7 284.4L275.7 285.8L277.2 284.7L278.6 286.8L280.6 288.3L283.1 288.3L285.1 290.3L287.6 291.6L290.0 292.0L290.8 291.2L291.7 276.9L292.5 283.9L293.5 287.3L295.6 290.4L298.5 292.8L301.6 294.9L304.6 296.4L306.6 297.4L308.8 295.1L310.3 296.6L312.9 299.0L315.9 300.4L318.9 301.9L321.9 302.9L324.3 304.4L326.8 304.4L328.4 303.6L329.6 300.1L331.8 303.9L334.7 306.4L337.7 307.9L340.5 309.4L344.0 310.5L345.4 307.1L347.3 309.7L350.9 311.9L354.8 314.3L357.8 315.3L360.8 316.6L364.2 316.4L365.2 315.5L366.2 312.1L368.2 314.8L371.7 317.6L375.6 319.3L379.6 320.8L382.6 321.8L384.7 322.6L386.5 318.3L387.5 317.3" stroke="#D95319" stroke-width="1.1" />
<path d="M183.0 251.4L184.9 253.4L187.9 254.9L189.9 256.3L192.4 258.8L193.9 256.3L194.8 257.8L197.8 261.3L200.8 263.8L203.8 267.2L206.7 270.7L208.7 273.7L210.5 273.2L212.0 268.2L213.7 270.7L216.6 274.7L219.6 277.6L222.3 280.5L226.0 284.7L228.9 288.1L229.6 288.0L230.7 279.2L231.9 282.7L233.4 286.1L235.9 290.0L236.9 291.2L237.8 271.3L239.3 273.8L240.8 277.7L242.3 279.7L243.9 281.2L245.3 282.7L246.7 286.3L248.4 289.7L249.4 290.4L250.4 280.4L251.8 285.5L253.5 290.6L256.9 294.7L259.8 298.7L262.8 301.7L265.8 305.1L267.4 307.0L267.8 306.5L268.6 301.8L270.1 305.0L272.0 307.7L274.9 310.4L277.9 313.3L280.8 314.7L283.8 316.7L285.4 318.2L286.8 311.8L288.3 314.7L290.3 317.7L291.5 319.2L292.7 314.2L294.2 318.2L296.7 320.7L299.7 322.7L302.6 324.2L305.6 325.6L308.1 327.4L310.2 328.2L311.4 313.1L312.9 315.6L315.4 318.8L317.9 321.3L320.2 323.2L322.8 324.7L325.3 327.2L327.8 330.2L328.7 330.3L329.8 318.3L331.3 321.7L332.7 324.2L334.2 326.2L335.7 325.5L337.2 327.2L339.7 328.7L341.7 330.2L343.1 331.4" stroke="#EDB120" stroke-width="1.1" />
</g>
<rect x="181.50" y="212.50" width="208.00" height="157.00" fill="none" stroke="#a8a8a8" stroke-width="0.7"/>
<path d="M181.6 369.0v-2.0M181.6 212.6v2.0" stroke="#bdbdbd" stroke-width="0.8"/>
<text x="181.6" y="382.7" text-anchor="middle" class="t">0</text>
<path d="M242.9 369.0v-2.0M242.9 212.6v2.0" stroke="#bdbdbd" stroke-width="0.8"/>
<text x="242.9" y="382.7" text-anchor="middle" class="t">50</text>
<path d="M304.2 369.0v-2.0M304.2 212.6v2.0" stroke="#bdbdbd" stroke-width="0.8"/>
<text x="304.2" y="382.7" text-anchor="middle" class="t">100</text>
<path d="M365.6 369.0v-2.0M365.6 212.6v2.0" stroke="#bdbdbd" stroke-width="0.8"/>
<text x="365.6" y="382.7" text-anchor="middle" class="t">150</text>
<path d="M181.6 353.3h2.0M389.5 353.3h-2.0" stroke="#bdbdbd" stroke-width="0.8"/>
<text x="178.0" y="357.4" text-anchor="end" class="t">1.2</text>
<path d="M181.6 322.0h2.0M389.5 322.0h-2.0" stroke="#bdbdbd" stroke-width="0.8"/>
<text x="178.0" y="326.1" text-anchor="end" class="t">1.4</text>
<path d="M181.6 290.8h2.0M389.5 290.8h-2.0" stroke="#bdbdbd" stroke-width="0.8"/>
<text x="178.0" y="294.9" text-anchor="end" class="t">1.6</text>
<path d="M181.6 259.6h2.0M389.5 259.6h-2.0" stroke="#bdbdbd" stroke-width="0.8"/>
<text x="178.0" y="263.7" text-anchor="end" class="t">1.8</text>
<path d="M181.6 228.3h2.0M389.5 228.3h-2.0" stroke="#bdbdbd" stroke-width="0.8"/>
<text x="178.0" y="232.4" text-anchor="end" class="t">2</text>
<text x="285.5" y="396.6" text-anchor="middle" class="l">Cycle no.</text>
<text transform="translate(159.3 291.4) rotate(-90)" text-anchor="middle" class="l">Capacity / Ahr</text>
<rect x="339.2" y="213.2" width="50.2" height="40.0" fill="#fff" stroke="#a0a0a0" stroke-width="0.75"/>
<line x1="342.7" y1="220.4" x2="356.9" y2="220.4" stroke="#0072BD" stroke-width="1"/>
<text x="358.1" y="224.1" class="t" style="font-size:9.8px">B0006</text>
<line x1="342.7" y1="233.2" x2="356.9" y2="233.2" stroke="#D95319" stroke-width="1"/>
<text x="358.1" y="236.9" class="t" style="font-size:9.8px">B0007</text>
<line x1="342.7" y1="246.1" x2="356.9" y2="246.1" stroke="#EDB120" stroke-width="1"/>
<text x="358.1" y="249.8" class="t" style="font-size:9.8px">B0018</text>
</svg>
</body></html>
